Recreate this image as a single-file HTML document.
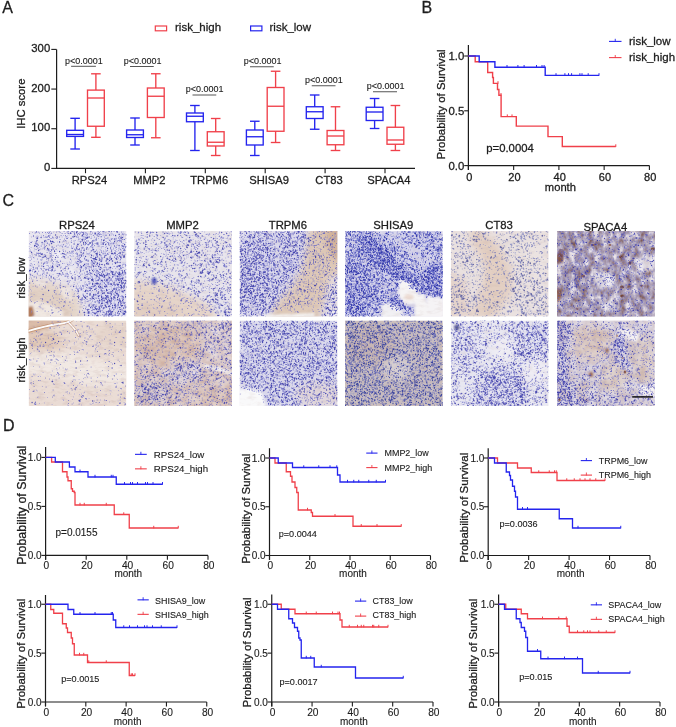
<!DOCTYPE html>
<html><head><meta charset="utf-8"><title>Figure</title>
<style>
html,body{margin:0;padding:0;background:#fff;}
body{width:676px;height:727px;overflow:hidden;}
svg{display:block;font-family:"Liberation Sans", Arial, sans-serif;}
text{stroke:#1c1c1c;stroke-width:0.28px;}
text.s{stroke-width:0.12px;}
</style></head>
<body>
<svg width="676" height="727" viewBox="0 0 676 727">
<rect width="676" height="727" fill="#fff"/>
<text x="2.3" y="12.7" font-size="16" text-anchor="start" fill="#1c1c1c" >A</text>
<text x="421.6" y="12.7" font-size="16" text-anchor="start" fill="#1c1c1c" >B</text>
<text x="2.6" y="205.6" font-size="16" text-anchor="start" fill="#1c1c1c" >C</text>
<text x="3.0" y="430.8" font-size="16" text-anchor="start" fill="#1c1c1c" >D</text>
<line x1="56.6" y1="49.4" x2="56.6" y2="168.9" stroke="#1c1c1c" stroke-width="1.2"/>
<line x1="56.1" y1="168.4" x2="415" y2="168.4" stroke="#1c1c1c" stroke-width="1.2"/>
<line x1="51.3" y1="168.4" x2="56.6" y2="168.4" stroke="#1c1c1c" stroke-width="1.1"/>
<text x="50.2" y="171.1" font-size="11.3" text-anchor="end" fill="#1c1c1c" >0</text>
<line x1="51.3" y1="128.73333333333335" x2="56.6" y2="128.73333333333335" stroke="#1c1c1c" stroke-width="1.1"/>
<text x="50.2" y="131.43" font-size="11.3" text-anchor="end" fill="#1c1c1c" >100</text>
<line x1="51.3" y1="89.06666666666668" x2="56.6" y2="89.06666666666668" stroke="#1c1c1c" stroke-width="1.1"/>
<text x="50.2" y="91.77" font-size="11.3" text-anchor="end" fill="#1c1c1c" >200</text>
<line x1="51.3" y1="49.400000000000006" x2="56.6" y2="49.400000000000006" stroke="#1c1c1c" stroke-width="1.1"/>
<text x="50.2" y="52.1" font-size="11.3" text-anchor="end" fill="#1c1c1c" >300</text>
<text transform="translate(25.2,103.7) rotate(-90)" font-size="11.3" text-anchor="middle" fill="#1c1c1c">IHC score</text>
<rect x="155.3" y="26" width="11.3" height="4.8" fill="none" stroke="#f0404a" stroke-width="1.2"/>
<text x="175.0" y="31.0" font-size="11.5" text-anchor="start" fill="#1c1c1c" >risk_high</text>
<rect x="250.6" y="26" width="11.3" height="4.8" fill="none" stroke="#2424ee" stroke-width="1.2"/>
<text x="269.5" y="31.0" font-size="11.5" text-anchor="start" fill="#1c1c1c" >risk_low</text>
<line x1="85.5" y1="168.4" x2="85.5" y2="173.2" stroke="#1c1c1c" stroke-width="1.1"/>
<text x="89.4" y="183.5" font-size="11.2" text-anchor="middle" fill="#1c1c1c" >RPS24</text>
<g stroke="#2424ee" stroke-width="1.35" fill="none"><rect x="66.69999999999999" y="130.3" width="16.8" height="6.099999999999994"/><line x1="66.69999999999999" y1="134.5" x2="83.5" y2="134.5"/><line x1="75.1" y1="118.3" x2="75.1" y2="130.3"/><line x1="75.1" y1="136.4" x2="75.1" y2="149.0"/><line x1="70.3" y1="118.3" x2="79.89999999999999" y2="118.3"/><line x1="70.3" y1="149.0" x2="79.89999999999999" y2="149.0"/></g>
<g stroke="#f0404a" stroke-width="1.35" fill="none"><rect x="87.5" y="90.1" width="16.8" height="36.150000000000006"/><line x1="87.5" y1="98.0" x2="104.30000000000001" y2="98.0"/><line x1="95.9" y1="73.8" x2="95.9" y2="90.1"/><line x1="95.9" y1="126.25" x2="95.9" y2="137.3"/><line x1="91.10000000000001" y1="73.8" x2="100.7" y2="73.8"/><line x1="91.10000000000001" y1="137.3" x2="100.7" y2="137.3"/></g>
<text class="s" x="65.0" y="63.5" font-size="9.8" text-anchor="start" fill="#1c1c1c" textLength="37.7" lengthAdjust="spacingAndGlyphs">p&lt;0.0001</text>
<line x1="71.1" y1="66.3" x2="95.9" y2="66.3" stroke="#555" stroke-width="1.0"/>
<line x1="145.4" y1="168.4" x2="145.4" y2="173.2" stroke="#1c1c1c" stroke-width="1.1"/>
<text x="149.3" y="183.5" font-size="11.2" text-anchor="middle" fill="#1c1c1c" >MMP2</text>
<g stroke="#2424ee" stroke-width="1.35" fill="none"><rect x="126.6" y="130.0" width="16.8" height="7.5"/><line x1="126.6" y1="134.75" x2="143.4" y2="134.75"/><line x1="135.0" y1="118.0" x2="135.0" y2="130.0"/><line x1="135.0" y1="137.5" x2="135.0" y2="145.0"/><line x1="130.2" y1="118.0" x2="139.8" y2="118.0"/><line x1="130.2" y1="145.0" x2="139.8" y2="145.0"/></g>
<g stroke="#f0404a" stroke-width="1.35" fill="none"><rect x="147.4" y="88.0" width="16.8" height="29.5"/><line x1="147.4" y1="96.25" x2="164.20000000000002" y2="96.25"/><line x1="155.8" y1="73.75" x2="155.8" y2="88.0"/><line x1="155.8" y1="117.5" x2="155.8" y2="137.75"/><line x1="151.0" y1="73.75" x2="160.60000000000002" y2="73.75"/><line x1="151.0" y1="137.75" x2="160.60000000000002" y2="137.75"/></g>
<text class="s" x="123.75" y="63.5" font-size="9.8" text-anchor="start" fill="#1c1c1c" textLength="37.7" lengthAdjust="spacingAndGlyphs">p&lt;0.0001</text>
<line x1="130.0" y1="66.5" x2="153.75" y2="66.5" stroke="#555" stroke-width="1.0"/>
<line x1="205.3" y1="168.4" x2="205.3" y2="173.2" stroke="#1c1c1c" stroke-width="1.1"/>
<text x="209.2" y="183.5" font-size="11.2" text-anchor="middle" fill="#1c1c1c" >TRPM6</text>
<g stroke="#2424ee" stroke-width="1.35" fill="none"><rect x="186.5" y="113.0" width="16.8" height="8.75"/><line x1="186.5" y1="116.25" x2="203.3" y2="116.25"/><line x1="194.9" y1="105.5" x2="194.9" y2="113.0"/><line x1="194.9" y1="121.75" x2="194.9" y2="150.5"/><line x1="190.1" y1="105.5" x2="199.70000000000002" y2="105.5"/><line x1="190.1" y1="150.5" x2="199.70000000000002" y2="150.5"/></g>
<g stroke="#f0404a" stroke-width="1.35" fill="none"><rect x="207.3" y="131.75" width="16.8" height="14.25"/><line x1="207.3" y1="142.25" x2="224.10000000000002" y2="142.25"/><line x1="215.70000000000002" y1="118.5" x2="215.70000000000002" y2="131.75"/><line x1="215.70000000000002" y1="146.0" x2="215.70000000000002" y2="155.5"/><line x1="210.9" y1="118.5" x2="220.50000000000003" y2="118.5"/><line x1="210.9" y1="155.5" x2="220.50000000000003" y2="155.5"/></g>
<text class="s" x="185.75" y="92.3" font-size="9.8" text-anchor="start" fill="#1c1c1c" textLength="37.7" lengthAdjust="spacingAndGlyphs">p&lt;0.0001</text>
<line x1="192.5" y1="95.0" x2="216.25" y2="95.0" stroke="#555" stroke-width="1.0"/>
<line x1="265.2" y1="168.4" x2="265.2" y2="173.2" stroke="#1c1c1c" stroke-width="1.1"/>
<text x="269.1" y="183.5" font-size="11.2" text-anchor="middle" fill="#1c1c1c" >SHISA9</text>
<g stroke="#2424ee" stroke-width="1.35" fill="none"><rect x="246.39999999999998" y="130.0" width="16.8" height="15.0"/><line x1="246.39999999999998" y1="136.75" x2="263.2" y2="136.75"/><line x1="254.79999999999998" y1="121.25" x2="254.79999999999998" y2="130.0"/><line x1="254.79999999999998" y1="145.0" x2="254.79999999999998" y2="155.5"/><line x1="249.99999999999997" y1="121.25" x2="259.59999999999997" y2="121.25"/><line x1="249.99999999999997" y1="155.5" x2="259.59999999999997" y2="155.5"/></g>
<g stroke="#f0404a" stroke-width="1.35" fill="none"><rect x="267.2" y="87.5" width="16.8" height="43.75"/><line x1="267.2" y1="106.25" x2="283.99999999999994" y2="106.25"/><line x1="275.59999999999997" y1="71.25" x2="275.59999999999997" y2="87.5"/><line x1="275.59999999999997" y1="131.25" x2="275.59999999999997" y2="142.5"/><line x1="270.79999999999995" y1="71.25" x2="280.4" y2="71.25"/><line x1="270.79999999999995" y1="142.5" x2="280.4" y2="142.5"/></g>
<text class="s" x="243.75" y="63.8" font-size="9.8" text-anchor="start" fill="#1c1c1c" textLength="37.7" lengthAdjust="spacingAndGlyphs">p&lt;0.0001</text>
<line x1="250.0" y1="66.75" x2="273.75" y2="66.75" stroke="#555" stroke-width="1.0"/>
<line x1="325.1" y1="168.4" x2="325.1" y2="173.2" stroke="#1c1c1c" stroke-width="1.1"/>
<text x="329.0" y="183.5" font-size="11.2" text-anchor="middle" fill="#1c1c1c" >CT83</text>
<g stroke="#2424ee" stroke-width="1.35" fill="none"><rect x="306.30000000000007" y="106.75" width="16.8" height="11.75"/><line x1="306.30000000000007" y1="111.75" x2="323.1" y2="111.75"/><line x1="314.70000000000005" y1="95.0" x2="314.70000000000005" y2="106.75"/><line x1="314.70000000000005" y1="118.5" x2="314.70000000000005" y2="129.25"/><line x1="309.90000000000003" y1="95.0" x2="319.50000000000006" y2="95.0"/><line x1="309.90000000000003" y1="129.25" x2="319.50000000000006" y2="129.25"/></g>
<g stroke="#f0404a" stroke-width="1.35" fill="none"><rect x="327.1" y="130.5" width="16.8" height="14.25"/><line x1="327.1" y1="136.0" x2="343.9" y2="136.0"/><line x1="335.5" y1="106.75" x2="335.5" y2="130.5"/><line x1="335.5" y1="144.75" x2="335.5" y2="150.5"/><line x1="330.7" y1="106.75" x2="340.3" y2="106.75"/><line x1="330.7" y1="150.5" x2="340.3" y2="150.5"/></g>
<text class="s" x="305.0" y="82.8" font-size="9.8" text-anchor="start" fill="#1c1c1c" textLength="37.7" lengthAdjust="spacingAndGlyphs">p&lt;0.0001</text>
<line x1="311.75" y1="85.75" x2="335.5" y2="85.75" stroke="#555" stroke-width="1.0"/>
<line x1="385.0" y1="168.4" x2="385.0" y2="173.2" stroke="#1c1c1c" stroke-width="1.1"/>
<text x="388.9" y="183.5" font-size="11.2" text-anchor="middle" fill="#1c1c1c" >SPACA4</text>
<g stroke="#2424ee" stroke-width="1.35" fill="none"><rect x="366.20000000000005" y="107.25" width="16.8" height="13.25"/><line x1="366.20000000000005" y1="112.0" x2="383.0" y2="112.0"/><line x1="374.6" y1="98.5" x2="374.6" y2="107.25"/><line x1="374.6" y1="120.5" x2="374.6" y2="128.5"/><line x1="369.8" y1="98.5" x2="379.40000000000003" y2="98.5"/><line x1="369.8" y1="128.5" x2="379.40000000000003" y2="128.5"/></g>
<g stroke="#f0404a" stroke-width="1.35" fill="none"><rect x="387.0" y="127.25" width="16.8" height="17.0"/><line x1="387.0" y1="140.0" x2="403.79999999999995" y2="140.0"/><line x1="395.4" y1="105.5" x2="395.4" y2="127.25"/><line x1="395.4" y1="144.25" x2="395.4" y2="150.5"/><line x1="390.59999999999997" y1="105.5" x2="400.2" y2="105.5"/><line x1="390.59999999999997" y1="150.5" x2="400.2" y2="150.5"/></g>
<text class="s" x="366.75" y="88.8" font-size="9.8" text-anchor="start" fill="#1c1c1c" textLength="37.7" lengthAdjust="spacingAndGlyphs">p&lt;0.0001</text>
<line x1="373.0" y1="91.75" x2="397.0" y2="91.75" stroke="#555" stroke-width="1.0"/>
<line x1="468.4" y1="45.0" x2="468.4" y2="170.0" stroke="#1c1c1c" stroke-width="1.2"/>
<line x1="468.4" y1="165.6" x2="649.4" y2="165.6" stroke="#1c1c1c" stroke-width="1.2"/>
<line x1="464.2" y1="56.0" x2="468.4" y2="56.0" stroke="#1c1c1c" stroke-width="1.1"/>
<text x="464.3" y="60.1" font-size="11.4" text-anchor="end" fill="#1c1c1c" >1.0</text>
<line x1="464.2" y1="110.8" x2="468.4" y2="110.8" stroke="#1c1c1c" stroke-width="1.1"/>
<text x="464.3" y="114.9" font-size="11.4" text-anchor="end" fill="#1c1c1c" >0.5</text>
<line x1="464.2" y1="165.6" x2="468.4" y2="165.6" stroke="#1c1c1c" stroke-width="1.1"/>
<text x="464.3" y="169.7" font-size="11.4" text-anchor="end" fill="#1c1c1c" >0.0</text>
<line x1="468.4" y1="165.6" x2="468.4" y2="170.0" stroke="#1c1c1c" stroke-width="1.1"/>
<text x="469.2" y="180.7" font-size="11.0" text-anchor="middle" fill="#1c1c1c" >0</text>
<line x1="513.65" y1="165.6" x2="513.65" y2="170.0" stroke="#1c1c1c" stroke-width="1.1"/>
<text x="514.45" y="180.7" font-size="11.0" text-anchor="middle" fill="#1c1c1c" >20</text>
<line x1="558.9" y1="165.6" x2="558.9" y2="170.0" stroke="#1c1c1c" stroke-width="1.1"/>
<text x="559.7" y="180.7" font-size="11.0" text-anchor="middle" fill="#1c1c1c" >40</text>
<line x1="604.15" y1="165.6" x2="604.15" y2="170.0" stroke="#1c1c1c" stroke-width="1.1"/>
<text x="604.95" y="180.7" font-size="11.0" text-anchor="middle" fill="#1c1c1c" >60</text>
<line x1="649.4" y1="165.6" x2="649.4" y2="170.0" stroke="#1c1c1c" stroke-width="1.1"/>
<text x="650.2" y="180.7" font-size="11.0" text-anchor="middle" fill="#1c1c1c" >80</text>
<text x="560.4" y="190.6" font-size="11.2" text-anchor="middle" fill="#1c1c1c" >month</text>
<text transform="translate(445.0,104.4) rotate(-90)" font-size="11.45" text-anchor="middle" fill="#1c1c1c">Probability of Survival</text>
<text x="486.3" y="152.3" font-size="11.3" text-anchor="start" fill="#1c1c1c" >p=0.0004</text>
<path d="M468.4,56H475.2V61.7H487.7V72.5H492.6V77.5H493.4V83.4H497.5V89.5H498.9V95.2H501.1V116.6H516.3V126.1H548V136.6H562.3V146.5H615.8" fill="none" stroke="#f0404a" stroke-width="1.4" stroke-linejoin="miter"/>
<path d="M498,83.80000000000001v-2.6M501,95.60000000000001v-2.6M507.3,117.0v-2.6M512,117.0v-2.6M615.8,146.9v-2.6" fill="none" stroke="#f0404a" stroke-width="1.0"/>
<path d="M468.4,56H479.2V61.7H494.9V67.2H545.2V75.4H599" fill="none" stroke="#2424ee" stroke-width="1.4" stroke-linejoin="miter"/>
<path d="M507,67.60000000000001v-2.6M517.9,67.60000000000001v-2.6M524.1,67.60000000000001v-2.6M536.5,67.60000000000001v-2.6M542,67.60000000000001v-2.6M544.1,67.60000000000001v-2.6M556,75.80000000000001v-2.6M564.9,75.80000000000001v-2.6M568.5,75.80000000000001v-2.6M571.6,75.80000000000001v-2.6M579.9,75.80000000000001v-2.6M582,75.80000000000001v-2.6M588.2,75.80000000000001v-2.6M599,75.80000000000001v-2.6" fill="none" stroke="#2424ee" stroke-width="1.0"/>
<line x1="609" y1="41.4" x2="621.5" y2="41.4" stroke="#2424ee" stroke-width="1.1"/>
<line x1="615.25" y1="41.8" x2="615.25" y2="38.8" stroke="#2424ee" stroke-width="0.9"/>
<text x="629" y="45.2" font-size="11.5" text-anchor="start" fill="#1c1c1c" >risk_low</text>
<line x1="609" y1="57.6" x2="621.5" y2="57.6" stroke="#f0404a" stroke-width="1.1"/>
<line x1="615.25" y1="58.0" x2="615.25" y2="55.0" stroke="#f0404a" stroke-width="0.9"/>
<text x="629" y="61.2" font-size="11.5" text-anchor="start" fill="#1c1c1c" >risk_high</text>
<line x1="45.6" y1="447.0" x2="45.6" y2="559.8" stroke="#1c1c1c" stroke-width="1.2"/>
<line x1="45.6" y1="555.4" x2="208.0" y2="555.4" stroke="#1c1c1c" stroke-width="1.2"/>
<line x1="41.4" y1="457.4" x2="45.6" y2="457.4" stroke="#1c1c1c" stroke-width="1.1"/>
<text class="s" x="41.7" y="461.0" font-size="10.0" text-anchor="end" fill="#1c1c1c" >1.0</text>
<line x1="41.4" y1="506.4" x2="45.6" y2="506.4" stroke="#1c1c1c" stroke-width="1.1"/>
<text class="s" x="41.7" y="510.0" font-size="10.0" text-anchor="end" fill="#1c1c1c" >0.5</text>
<line x1="41.4" y1="555.4" x2="45.6" y2="555.4" stroke="#1c1c1c" stroke-width="1.1"/>
<text class="s" x="41.7" y="559.0" font-size="10.0" text-anchor="end" fill="#1c1c1c" >0.0</text>
<line x1="45.6" y1="555.4" x2="45.6" y2="559.8" stroke="#1c1c1c" stroke-width="1.1"/>
<text class="s" x="46.4" y="569.0" font-size="10.2" text-anchor="middle" fill="#1c1c1c" >0</text>
<line x1="86.20000000000002" y1="555.4" x2="86.20000000000002" y2="559.8" stroke="#1c1c1c" stroke-width="1.1"/>
<text class="s" x="87.0" y="569.0" font-size="10.2" text-anchor="middle" fill="#1c1c1c" >20</text>
<line x1="126.80000000000001" y1="555.4" x2="126.80000000000001" y2="559.8" stroke="#1c1c1c" stroke-width="1.1"/>
<text class="s" x="127.6" y="569.0" font-size="10.2" text-anchor="middle" fill="#1c1c1c" >40</text>
<line x1="167.4" y1="555.4" x2="167.4" y2="559.8" stroke="#1c1c1c" stroke-width="1.1"/>
<text class="s" x="168.2" y="569.0" font-size="10.2" text-anchor="middle" fill="#1c1c1c" >60</text>
<line x1="208.00000000000003" y1="555.4" x2="208.00000000000003" y2="559.8" stroke="#1c1c1c" stroke-width="1.1"/>
<text class="s" x="208.8" y="569.0" font-size="10.2" text-anchor="middle" fill="#1c1c1c" >80</text>
<text class="s" x="128.3" y="577.3" font-size="10.0" text-anchor="middle" fill="#1c1c1c" >month</text>
<text transform="translate(26.0,505.25) rotate(-90)" font-size="12.4" text-anchor="middle" fill="#1c1c1c">Probability of Survival</text>
<text class="s" x="55.5" y="536.0" font-size="10.0" text-anchor="start" fill="#1c1c1c" >p=0.0155</text>
<path d="M45.6,457.4H51.6V462H62.5V471.75H67V477H68V480.75H71.25V488.75H72.5V491.25H74.25V492.5H75V505H114.25V514.5H129.25V528H178.25" fill="none" stroke="#f0404a" stroke-width="1.3" stroke-linejoin="miter"/>
<path d="M80,505.4v-2.6M84.25,505.4v-2.6M106.25,505.4v-2.6M123.75,514.9v-2.6M153.75,528.4v-2.6M178.25,528.4v-2.6" fill="none" stroke="#f0404a" stroke-width="1.0"/>
<path d="M45.6,457.4H55.3V462H69.4V467H75V471.75H88V477H116.25V484.25H162.5" fill="none" stroke="#2424ee" stroke-width="1.3" stroke-linejoin="miter"/>
<path d="M80,472.15v-2.6M95,477.4v-2.6M111.25,477.4v-2.6M113,477.4v-2.6M124.5,484.65v-2.6M130.5,484.65v-2.6M132.5,484.65v-2.6M137.5,484.65v-2.6M145.5,484.65v-2.6M147.5,484.65v-2.6M153,484.65v-2.6M162.5,484.65v-2.6" fill="none" stroke="#2424ee" stroke-width="1.0"/>
<line x1="135" y1="454.35" x2="146.75" y2="454.35" stroke="#2424ee" stroke-width="1.1"/>
<line x1="140.875" y1="454.75" x2="140.875" y2="451.75" stroke="#2424ee" stroke-width="0.9"/>
<text class="s" x="153.75" y="457.5" font-size="9.7" text-anchor="start" fill="#1c1c1c" >RPS24_low</text>
<line x1="135" y1="468.85" x2="146.75" y2="468.85" stroke="#f0404a" stroke-width="1.1"/>
<line x1="140.875" y1="469.25" x2="140.875" y2="466.25" stroke="#f0404a" stroke-width="0.9"/>
<text class="s" x="153.75" y="471.6" font-size="9.7" text-anchor="start" fill="#1c1c1c" >RPS24_high</text>
<line x1="269.5" y1="448.2" x2="269.5" y2="559.9" stroke="#1c1c1c" stroke-width="1.2"/>
<line x1="269.5" y1="555.5" x2="430.5" y2="555.5" stroke="#1c1c1c" stroke-width="1.2"/>
<line x1="265.3" y1="458.0" x2="269.5" y2="458.0" stroke="#1c1c1c" stroke-width="1.1"/>
<text class="s" x="265.6" y="461.6" font-size="10.0" text-anchor="end" fill="#1c1c1c" >1.0</text>
<line x1="265.3" y1="506.75" x2="269.5" y2="506.75" stroke="#1c1c1c" stroke-width="1.1"/>
<text class="s" x="265.6" y="510.35" font-size="10.0" text-anchor="end" fill="#1c1c1c" >0.5</text>
<line x1="265.3" y1="555.5" x2="269.5" y2="555.5" stroke="#1c1c1c" stroke-width="1.1"/>
<text class="s" x="265.6" y="559.1" font-size="10.0" text-anchor="end" fill="#1c1c1c" >0.0</text>
<line x1="269.5" y1="555.5" x2="269.5" y2="559.9" stroke="#1c1c1c" stroke-width="1.1"/>
<text class="s" x="270.3" y="569.0" font-size="10.2" text-anchor="middle" fill="#1c1c1c" >0</text>
<line x1="309.75" y1="555.5" x2="309.75" y2="559.9" stroke="#1c1c1c" stroke-width="1.1"/>
<text class="s" x="310.55" y="569.0" font-size="10.2" text-anchor="middle" fill="#1c1c1c" >20</text>
<line x1="350.0" y1="555.5" x2="350.0" y2="559.9" stroke="#1c1c1c" stroke-width="1.1"/>
<text class="s" x="350.8" y="569.0" font-size="10.2" text-anchor="middle" fill="#1c1c1c" >40</text>
<line x1="390.25" y1="555.5" x2="390.25" y2="559.9" stroke="#1c1c1c" stroke-width="1.1"/>
<text class="s" x="391.05" y="569.0" font-size="10.2" text-anchor="middle" fill="#1c1c1c" >60</text>
<line x1="430.5" y1="555.5" x2="430.5" y2="559.9" stroke="#1c1c1c" stroke-width="1.1"/>
<text class="s" x="431.3" y="569.0" font-size="10.2" text-anchor="middle" fill="#1c1c1c" >80</text>
<text class="s" x="353.0" y="577.3" font-size="10.0" text-anchor="middle" fill="#1c1c1c" >month</text>
<text transform="translate(249.6,508.75) rotate(-90)" font-size="11.45" text-anchor="middle" fill="#1c1c1c">Probability of Survival</text>
<text class="s" x="278.75" y="536.8" font-size="9.1" text-anchor="start" fill="#1c1c1c" >p=0.0044</text>
<path d="M269.5,458H275V463H286.25V471.75H290.5V476.25H292V482H295V487.5H296.75V492.5H298.25V510H311.25V512.5H312.5V516.25H353V526.25H401.25" fill="none" stroke="#f0404a" stroke-width="1.3" stroke-linejoin="miter"/>
<path d="M307.5,510.4v-2.6M335,516.65v-2.6M361.25,526.65v-2.6M377,526.65v-2.6M401.25,526.65v-2.6" fill="none" stroke="#f0404a" stroke-width="1.0"/>
<path d="M269.5,458H278.25V463H292.5V467.5H337.5V475H340V482H385.5" fill="none" stroke="#2424ee" stroke-width="1.3" stroke-linejoin="miter"/>
<path d="M303.75,467.9v-2.6M318.75,467.9v-2.6M330,467.9v-2.6M336.75,467.9v-2.6M347.5,482.4v-2.6M353.75,482.4v-2.6M358.75,482.4v-2.6M368.75,482.4v-2.6M376.25,482.4v-2.6M385.5,482.4v-2.6" fill="none" stroke="#2424ee" stroke-width="1.0"/>
<line x1="366.25" y1="453.1" x2="377.5" y2="453.1" stroke="#2424ee" stroke-width="1.1"/>
<line x1="371.875" y1="453.5" x2="371.875" y2="450.5" stroke="#2424ee" stroke-width="0.9"/>
<text class="s" x="384.5" y="456.3" font-size="8.95" text-anchor="start" fill="#1c1c1c" >MMP2_low</text>
<line x1="366.25" y1="467.6" x2="377.5" y2="467.6" stroke="#f0404a" stroke-width="1.1"/>
<line x1="371.875" y1="468.0" x2="371.875" y2="465.0" stroke="#f0404a" stroke-width="0.9"/>
<text class="s" x="384.5" y="470.8" font-size="8.95" text-anchor="start" fill="#1c1c1c" >MMP2_high</text>
<line x1="488.2" y1="448.2" x2="488.2" y2="559.9" stroke="#1c1c1c" stroke-width="1.2"/>
<line x1="488.2" y1="555.5" x2="650.0" y2="555.5" stroke="#1c1c1c" stroke-width="1.2"/>
<line x1="484.0" y1="458.0" x2="488.2" y2="458.0" stroke="#1c1c1c" stroke-width="1.1"/>
<text class="s" x="484.3" y="461.6" font-size="10.0" text-anchor="end" fill="#1c1c1c" >1.0</text>
<line x1="484.0" y1="506.75" x2="488.2" y2="506.75" stroke="#1c1c1c" stroke-width="1.1"/>
<text class="s" x="484.3" y="510.35" font-size="10.0" text-anchor="end" fill="#1c1c1c" >0.5</text>
<line x1="484.0" y1="555.5" x2="488.2" y2="555.5" stroke="#1c1c1c" stroke-width="1.1"/>
<text class="s" x="484.3" y="559.1" font-size="10.0" text-anchor="end" fill="#1c1c1c" >0.0</text>
<line x1="488.2" y1="555.5" x2="488.2" y2="559.9" stroke="#1c1c1c" stroke-width="1.1"/>
<text class="s" x="489.0" y="569.0" font-size="10.2" text-anchor="middle" fill="#1c1c1c" >0</text>
<line x1="528.65" y1="555.5" x2="528.65" y2="559.9" stroke="#1c1c1c" stroke-width="1.1"/>
<text class="s" x="529.45" y="569.0" font-size="10.2" text-anchor="middle" fill="#1c1c1c" >20</text>
<line x1="569.1" y1="555.5" x2="569.1" y2="559.9" stroke="#1c1c1c" stroke-width="1.1"/>
<text class="s" x="569.9" y="569.0" font-size="10.2" text-anchor="middle" fill="#1c1c1c" >40</text>
<line x1="609.55" y1="555.5" x2="609.55" y2="559.9" stroke="#1c1c1c" stroke-width="1.1"/>
<text class="s" x="610.35" y="569.0" font-size="10.2" text-anchor="middle" fill="#1c1c1c" >60</text>
<line x1="650.0" y1="555.5" x2="650.0" y2="559.9" stroke="#1c1c1c" stroke-width="1.1"/>
<text class="s" x="650.8" y="569.0" font-size="10.2" text-anchor="middle" fill="#1c1c1c" >80</text>
<text class="s" x="570.6" y="577.3" font-size="10.0" text-anchor="middle" fill="#1c1c1c" >month</text>
<text transform="translate(468.4,507.75) rotate(-90)" font-size="11.45" text-anchor="middle" fill="#1c1c1c">Probability of Survival</text>
<text class="s" x="499.5" y="526.6" font-size="9.1" text-anchor="start" fill="#1c1c1c" >p=0.0036</text>
<path d="M488.2,458H497.5V463H517.5V468H531.25V472.5H557V480.5H605" fill="none" stroke="#f0404a" stroke-width="1.3" stroke-linejoin="miter"/>
<path d="M538.75,472.9v-2.6M549.25,472.9v-2.6M554.5,472.9v-2.6M556.25,472.9v-2.6M566.75,480.9v-2.6M574.25,480.9v-2.6M580,480.9v-2.6M585,480.9v-2.6M590,480.9v-2.6M595.75,480.9v-2.6M605,480.9v-2.6" fill="none" stroke="#f0404a" stroke-width="1.0"/>
<path d="M488.2,458H494.5V463H506.25V472H509.5V475.5H510.5V480H512.5V486.25H514.5V491.25H515.5V497H517.5V509.25H559.25V518.75H572.5V528H620.75" fill="none" stroke="#2424ee" stroke-width="1.3" stroke-linejoin="miter"/>
<path d="M522.5,509.65v-2.6M527.5,509.65v-2.6M578,528.4v-2.6M620.75,528.4v-2.6" fill="none" stroke="#2424ee" stroke-width="1.0"/>
<line x1="580.75" y1="460.6" x2="592" y2="460.6" stroke="#2424ee" stroke-width="1.1"/>
<line x1="586.375" y1="461.0" x2="586.375" y2="458.0" stroke="#2424ee" stroke-width="0.9"/>
<text class="s" x="598.75" y="463.8" font-size="8.95" text-anchor="start" fill="#1c1c1c" >TRPM6_low</text>
<line x1="580.75" y1="475.1" x2="592" y2="475.1" stroke="#f0404a" stroke-width="1.1"/>
<line x1="586.375" y1="475.5" x2="586.375" y2="472.5" stroke="#f0404a" stroke-width="0.9"/>
<text class="s" x="598.75" y="478.0" font-size="8.95" text-anchor="start" fill="#1c1c1c" >TRPM6_high</text>
<line x1="45.5" y1="595.0" x2="45.5" y2="706.4" stroke="#1c1c1c" stroke-width="1.2"/>
<line x1="45.5" y1="702.0" x2="206.75" y2="702.0" stroke="#1c1c1c" stroke-width="1.2"/>
<line x1="41.3" y1="604.25" x2="45.5" y2="604.25" stroke="#1c1c1c" stroke-width="1.1"/>
<text class="s" x="41.6" y="607.85" font-size="10.0" text-anchor="end" fill="#1c1c1c" >1.0</text>
<line x1="41.3" y1="653.125" x2="45.5" y2="653.125" stroke="#1c1c1c" stroke-width="1.1"/>
<text class="s" x="41.6" y="656.73" font-size="10.0" text-anchor="end" fill="#1c1c1c" >0.5</text>
<line x1="41.3" y1="702.0" x2="45.5" y2="702.0" stroke="#1c1c1c" stroke-width="1.1"/>
<text class="s" x="41.6" y="705.6" font-size="10.0" text-anchor="end" fill="#1c1c1c" >0.0</text>
<line x1="45.5" y1="702.0" x2="45.5" y2="706.4" stroke="#1c1c1c" stroke-width="1.1"/>
<text class="s" x="46.3" y="715.8" font-size="10.2" text-anchor="middle" fill="#1c1c1c" >0</text>
<line x1="85.8125" y1="702.0" x2="85.8125" y2="706.4" stroke="#1c1c1c" stroke-width="1.1"/>
<text class="s" x="86.61" y="715.8" font-size="10.2" text-anchor="middle" fill="#1c1c1c" >20</text>
<line x1="126.125" y1="702.0" x2="126.125" y2="706.4" stroke="#1c1c1c" stroke-width="1.1"/>
<text class="s" x="126.92" y="715.8" font-size="10.2" text-anchor="middle" fill="#1c1c1c" >40</text>
<line x1="166.4375" y1="702.0" x2="166.4375" y2="706.4" stroke="#1c1c1c" stroke-width="1.1"/>
<text class="s" x="167.24" y="715.8" font-size="10.2" text-anchor="middle" fill="#1c1c1c" >60</text>
<line x1="206.75" y1="702.0" x2="206.75" y2="706.4" stroke="#1c1c1c" stroke-width="1.1"/>
<text class="s" x="207.55" y="715.8" font-size="10.2" text-anchor="middle" fill="#1c1c1c" >80</text>
<text class="s" x="127.62" y="724.8" font-size="10.0" text-anchor="middle" fill="#1c1c1c" >month</text>
<text transform="translate(25.3,653.75) rotate(-90)" font-size="11.45" text-anchor="middle" fill="#1c1c1c">Probability of Survival</text>
<text class="s" x="61.25" y="681.6" font-size="9.1" text-anchor="start" fill="#1c1c1c" >p=0.0015</text>
<path d="M45.5,604.25H50.75V609.5H53.75V613.25H62.5V623.75H66.25V628H67.5V632.5H71.25V638H72.5V643.75H74.25V655H87.5V662.5H129.25V675.5H135" fill="none" stroke="#f0404a" stroke-width="1.3" stroke-linejoin="miter"/>
<path d="M79.5,655.4v-2.6M83.75,655.4v-2.6M88.75,662.9v-2.6M106.25,662.9v-2.6M131.25,675.9v-2.6M132.5,675.9v-2.6M135,675.9v-2.6" fill="none" stroke="#f0404a" stroke-width="1.0"/>
<path d="M45.5,604.25H68V609.5H73.75V614.25H113.25V620H115.75V627.5H177" fill="none" stroke="#2424ee" stroke-width="1.3" stroke-linejoin="miter"/>
<path d="M80,614.65v-2.6M95,614.65v-2.6M111.25,614.65v-2.6M112.5,614.65v-2.6M123.75,627.9v-2.6M129.5,627.9v-2.6M137.5,627.9v-2.6M144.5,627.9v-2.6M147,627.9v-2.6M152.5,627.9v-2.6M161.25,627.9v-2.6M177,627.9v-2.6" fill="none" stroke="#2424ee" stroke-width="1.0"/>
<line x1="137.5" y1="599.85" x2="148.75" y2="599.85" stroke="#2424ee" stroke-width="1.1"/>
<line x1="143.125" y1="600.25" x2="143.125" y2="597.25" stroke="#2424ee" stroke-width="0.9"/>
<text class="s" x="155" y="603.75" font-size="8.95" text-anchor="start" fill="#1c1c1c" >SHISA9_low</text>
<line x1="137.5" y1="614.35" x2="148.75" y2="614.35" stroke="#f0404a" stroke-width="1.1"/>
<line x1="143.125" y1="614.75" x2="143.125" y2="611.75" stroke="#f0404a" stroke-width="0.9"/>
<text class="s" x="155" y="618.0" font-size="8.95" text-anchor="start" fill="#1c1c1c" >SHISA9_high</text>
<line x1="271.75" y1="594.5" x2="271.75" y2="706.4" stroke="#1c1c1c" stroke-width="1.2"/>
<line x1="271.75" y1="702.0" x2="433.0" y2="702.0" stroke="#1c1c1c" stroke-width="1.2"/>
<line x1="267.55" y1="604.25" x2="271.75" y2="604.25" stroke="#1c1c1c" stroke-width="1.1"/>
<text class="s" x="267.85" y="607.85" font-size="10.0" text-anchor="end" fill="#1c1c1c" >1.0</text>
<line x1="267.55" y1="653.125" x2="271.75" y2="653.125" stroke="#1c1c1c" stroke-width="1.1"/>
<text class="s" x="267.85" y="656.73" font-size="10.0" text-anchor="end" fill="#1c1c1c" >0.5</text>
<line x1="267.55" y1="702.0" x2="271.75" y2="702.0" stroke="#1c1c1c" stroke-width="1.1"/>
<text class="s" x="267.85" y="705.6" font-size="10.0" text-anchor="end" fill="#1c1c1c" >0.0</text>
<line x1="271.75" y1="702.0" x2="271.75" y2="706.4" stroke="#1c1c1c" stroke-width="1.1"/>
<text class="s" x="272.55" y="715.8" font-size="10.2" text-anchor="middle" fill="#1c1c1c" >0</text>
<line x1="312.0625" y1="702.0" x2="312.0625" y2="706.4" stroke="#1c1c1c" stroke-width="1.1"/>
<text class="s" x="312.86" y="715.8" font-size="10.2" text-anchor="middle" fill="#1c1c1c" >20</text>
<line x1="352.375" y1="702.0" x2="352.375" y2="706.4" stroke="#1c1c1c" stroke-width="1.1"/>
<text class="s" x="353.18" y="715.8" font-size="10.2" text-anchor="middle" fill="#1c1c1c" >40</text>
<line x1="392.6875" y1="702.0" x2="392.6875" y2="706.4" stroke="#1c1c1c" stroke-width="1.1"/>
<text class="s" x="393.49" y="715.8" font-size="10.2" text-anchor="middle" fill="#1c1c1c" >60</text>
<line x1="433.0" y1="702.0" x2="433.0" y2="706.4" stroke="#1c1c1c" stroke-width="1.1"/>
<text class="s" x="433.8" y="715.8" font-size="10.2" text-anchor="middle" fill="#1c1c1c" >80</text>
<text class="s" x="353.88" y="724.8" font-size="10.0" text-anchor="middle" fill="#1c1c1c" >month</text>
<text transform="translate(250.5,652.5) rotate(-90)" font-size="11.45" text-anchor="middle" fill="#1c1c1c">Probability of Survival</text>
<text class="s" x="279.5" y="685.0" font-size="9.1" text-anchor="start" fill="#1c1c1c" >p=0.0017</text>
<path d="M271.75,604.25H281.25V609.25H295V613.75H340V620H342V627H388" fill="none" stroke="#f0404a" stroke-width="1.3" stroke-linejoin="miter"/>
<path d="M306.25,614.15v-2.6M316.25,614.15v-2.6M332.5,614.15v-2.6M338,614.15v-2.6M339.5,614.15v-2.6M349.25,627.4v-2.6M357.5,627.4v-2.6M361.25,627.4v-2.6M363.75,627.4v-2.6M372.5,627.4v-2.6M373.75,627.4v-2.6M378.75,627.4v-2.6M388,627.4v-2.6" fill="none" stroke="#f0404a" stroke-width="1.0"/>
<path d="M271.75,604.25H277.5V609.25H288.75V618.75H292.5V623H294.5V627.5H297.5V631.25H298.75V638H300V640H301.25V658H314.25V667H355.5V678H403.25" fill="none" stroke="#2424ee" stroke-width="1.3" stroke-linejoin="miter"/>
<path d="M306.25,658.4v-2.6M310.75,658.4v-2.6M321.25,667.4v-2.6M403.25,678.4v-2.6" fill="none" stroke="#2424ee" stroke-width="1.0"/>
<line x1="355" y1="601.1" x2="366.25" y2="601.1" stroke="#2424ee" stroke-width="1.1"/>
<line x1="360.625" y1="601.5" x2="360.625" y2="598.5" stroke="#2424ee" stroke-width="0.9"/>
<text class="s" x="372.5" y="603.75" font-size="8.95" text-anchor="start" fill="#1c1c1c" >CT83_low</text>
<line x1="355" y1="616.1" x2="366.25" y2="616.1" stroke="#f0404a" stroke-width="1.1"/>
<line x1="360.625" y1="616.5" x2="360.625" y2="613.5" stroke="#f0404a" stroke-width="0.9"/>
<text class="s" x="372.5" y="618.25" font-size="8.95" text-anchor="start" fill="#1c1c1c" >CT83_high</text>
<line x1="498.6" y1="594.5" x2="498.6" y2="706.4" stroke="#1c1c1c" stroke-width="1.2"/>
<line x1="498.6" y1="702.0" x2="660.0" y2="702.0" stroke="#1c1c1c" stroke-width="1.2"/>
<line x1="494.40000000000003" y1="604.25" x2="498.6" y2="604.25" stroke="#1c1c1c" stroke-width="1.1"/>
<text class="s" x="494.7" y="607.85" font-size="10.0" text-anchor="end" fill="#1c1c1c" >1.0</text>
<line x1="494.40000000000003" y1="653.125" x2="498.6" y2="653.125" stroke="#1c1c1c" stroke-width="1.1"/>
<text class="s" x="494.7" y="656.73" font-size="10.0" text-anchor="end" fill="#1c1c1c" >0.5</text>
<line x1="494.40000000000003" y1="702.0" x2="498.6" y2="702.0" stroke="#1c1c1c" stroke-width="1.1"/>
<text class="s" x="494.7" y="705.6" font-size="10.0" text-anchor="end" fill="#1c1c1c" >0.0</text>
<line x1="498.6" y1="702.0" x2="498.6" y2="706.4" stroke="#1c1c1c" stroke-width="1.1"/>
<text class="s" x="499.4" y="715.8" font-size="10.2" text-anchor="middle" fill="#1c1c1c" >0</text>
<line x1="538.95" y1="702.0" x2="538.95" y2="706.4" stroke="#1c1c1c" stroke-width="1.1"/>
<text class="s" x="539.75" y="715.8" font-size="10.2" text-anchor="middle" fill="#1c1c1c" >20</text>
<line x1="579.3" y1="702.0" x2="579.3" y2="706.4" stroke="#1c1c1c" stroke-width="1.1"/>
<text class="s" x="580.1" y="715.8" font-size="10.2" text-anchor="middle" fill="#1c1c1c" >40</text>
<line x1="619.65" y1="702.0" x2="619.65" y2="706.4" stroke="#1c1c1c" stroke-width="1.1"/>
<text class="s" x="620.45" y="715.8" font-size="10.2" text-anchor="middle" fill="#1c1c1c" >60</text>
<line x1="660.0" y1="702.0" x2="660.0" y2="706.4" stroke="#1c1c1c" stroke-width="1.1"/>
<text class="s" x="660.8" y="715.8" font-size="10.2" text-anchor="middle" fill="#1c1c1c" >80</text>
<text class="s" x="582.8" y="724.8" font-size="10.0" text-anchor="middle" fill="#1c1c1c" >month</text>
<text transform="translate(477.3,653.75) rotate(-90)" font-size="11.45" text-anchor="middle" fill="#1c1c1c">Probability of Survival</text>
<text class="s" x="519.25" y="680.0" font-size="9.1" text-anchor="start" fill="#1c1c1c" >p=0.015</text>
<path d="M498.6,604.25H505.75V609.25H521.25V613.75H527.5V618.75H567V626.25H569.25V632.5H615" fill="none" stroke="#f0404a" stroke-width="1.3" stroke-linejoin="miter"/>
<path d="M542.5,619.15v-2.6M558.75,619.15v-2.6M566.25,619.15v-2.6M577.5,632.9v-2.6M583.75,632.9v-2.6M587.5,632.9v-2.6M590,632.9v-2.6M598.75,632.9v-2.6M606.25,632.9v-2.6M615,632.9v-2.6" fill="none" stroke="#f0404a" stroke-width="1.0"/>
<path d="M498.6,604.25H504.5V609.25H516.25V618.75H520V622.5H521.25V627.5H524.5V631.25H525.75V637.5H527.5V651.25H540.75V658.75H582.5V673H630" fill="none" stroke="#2424ee" stroke-width="1.3" stroke-linejoin="miter"/>
<path d="M537.5,651.65v-2.6M548,659.15v-2.6M564.5,659.15v-2.6M577.5,659.15v-2.6M598.25,673.4v-2.6M630,673.4v-2.6" fill="none" stroke="#2424ee" stroke-width="1.0"/>
<line x1="590.75" y1="604.85" x2="602" y2="604.85" stroke="#2424ee" stroke-width="1.1"/>
<line x1="596.375" y1="605.25" x2="596.375" y2="602.25" stroke="#2424ee" stroke-width="0.9"/>
<text class="s" x="608.25" y="607.5" font-size="8.95" text-anchor="start" fill="#1c1c1c" >SPACA4_low</text>
<line x1="590.75" y1="619.35" x2="602" y2="619.35" stroke="#f0404a" stroke-width="1.1"/>
<line x1="596.375" y1="619.75" x2="596.375" y2="616.75" stroke="#f0404a" stroke-width="0.9"/>
<text class="s" x="608.25" y="622.0" font-size="8.95" text-anchor="start" fill="#1c1c1c" >SPACA4_high</text>
<text x="76.9" y="228.8" font-size="11.3" text-anchor="middle" fill="#1c1c1c" >RPS24</text>
<text x="182.5" y="228.8" font-size="11.3" text-anchor="middle" fill="#1c1c1c" >MMP2</text>
<text x="287.9" y="228.8" font-size="11.3" text-anchor="middle" fill="#1c1c1c" >TRPM6</text>
<text x="393.3" y="228.8" font-size="11.3" text-anchor="middle" fill="#1c1c1c" >SHISA9</text>
<text x="499.1" y="228.8" font-size="11.3" text-anchor="middle" fill="#1c1c1c" >CT83</text>
<text x="605.3" y="230.6" font-size="11.3" text-anchor="middle" fill="#1c1c1c" >SPACA4</text>
<text transform="translate(25.0,278.0) rotate(-90)" font-size="11.3" text-anchor="middle" fill="#1c1c1c">risk_low</text>
<text transform="translate(25.0,360.0) rotate(-90)" font-size="11.3" text-anchor="middle" fill="#1c1c1c">risk_high</text>
<defs><filter id="hbl" x="-20%" y="-20%" width="140%" height="140%"><feGaussianBlur stdDeviation="3.5"/></filter><filter id="hbs" x="-20%" y="-20%" width="140%" height="140%"><feGaussianBlur stdDeviation="1.2"/></filter><filter id="hsh" x="-20%" y="-20%" width="140%" height="140%"><feGaussianBlur stdDeviation="1.0"/></filter><filter id="hdt" x="0" y="0" width="1" height="1"><feGaussianBlur stdDeviation="0.3"/></filter><filter id="hpt" x="-20%" y="-20%" width="140%" height="140%"><feGaussianBlur stdDeviation="0.45"/></filter><filter id="htx" x="0" y="0" width="1" height="1" color-interpolation-filters="sRGB"><feTurbulence type="fractalNoise" baseFrequency="0.12 0.3" numOctaves="3" seed="4" result="n"/><feColorMatrix in="n" type="matrix" values="0 0 0 0 0.66 0 0 0 0 0.52 0 0 0 0 0.5 1.6 0 0 0 -0.75"/><feComposite in2="SourceAlpha" operator="in"/></filter><clipPath id="tc1"><rect width="97.8" height="85.6"/></clipPath><clipPath id="tc2"><rect width="97.8" height="85.6"/></clipPath><clipPath id="tc3"><rect width="97.8" height="85.6"/></clipPath><clipPath id="tc4"><rect width="97.8" height="85.6"/></clipPath><clipPath id="tc5"><rect width="97.8" height="85.6"/></clipPath><clipPath id="tc6"><rect width="97.8" height="85.6"/></clipPath><filter id="hmt6" x="0" y="0" width="1" height="1" color-interpolation-filters="sRGB"><feTurbulence type="fractalNoise" baseFrequency="0.16 0.11" numOctaves="3" seed="21"/><feColorMatrix type="matrix" values="1 0 0 0 0 1 0 0 0 0 1 0 0 0 0 0 0 0 0 1"/><feComponentTransfer><feFuncR type="table" tableValues="0.42 0.42 0.48 0.56 0.62 0.68 0.78 0.90 0.96 0.98 0.98"/><feFuncG type="table" tableValues="0.26 0.26 0.34 0.46 0.56 0.64 0.75 0.88 0.95 0.97 0.97"/><feFuncB type="table" tableValues="0.22 0.22 0.32 0.50 0.64 0.74 0.82 0.92 0.96 0.98 0.98"/></feComponentTransfer></filter><clipPath id="tc7"><rect width="97.8" height="85.4"/></clipPath><clipPath id="tc8"><rect width="97.8" height="85.4"/></clipPath><filter id="hmt8" x="0" y="0" width="1" height="1" color-interpolation-filters="sRGB"><feTurbulence type="fractalNoise" baseFrequency="0.12" numOctaves="3" seed="41"/><feColorMatrix type="matrix" values="1 0 0 0 0 1 0 0 0 0 1 0 0 0 0 0 0 0 0 1"/><feComponentTransfer><feFuncR type="table" tableValues="0.78 0.78 0.80 0.82 0.85 0.88 0.92 0.96 0.98 0.98 0.98"/><feFuncG type="table" tableValues="0.62 0.62 0.66 0.70 0.76 0.82 0.88 0.94 0.97 0.97 0.97"/><feFuncB type="table" tableValues="0.55 0.55 0.60 0.66 0.72 0.80 0.88 0.94 0.97 0.98 0.98"/></feComponentTransfer></filter><clipPath id="tc9"><rect width="97.8" height="85.4"/></clipPath><clipPath id="tc10"><rect width="97.8" height="85.4"/></clipPath><clipPath id="tc11"><rect width="97.8" height="85.4"/></clipPath><clipPath id="tc12"><rect width="97.8" height="85.4"/></clipPath><filter id="hmt12" x="0" y="0" width="1" height="1" color-interpolation-filters="sRGB"><feTurbulence type="fractalNoise" baseFrequency="0.1" numOctaves="3" seed="33"/><feColorMatrix type="matrix" values="1 0 0 0 0 1 0 0 0 0 1 0 0 0 0 0 0 0 0 1"/><feComponentTransfer><feFuncR type="table" tableValues="0.75 0.75 0.78 0.80 0.84 0.88 0.92 0.96 0.98 0.98 0.98"/><feFuncG type="table" tableValues="0.62 0.62 0.66 0.70 0.76 0.84 0.90 0.95 0.97 0.97 0.97"/><feFuncB type="table" tableValues="0.55 0.55 0.60 0.66 0.74 0.84 0.92 0.96 0.98 0.98 0.98"/></feComponentTransfer></filter></defs><g transform="translate(28.6,231.0)" clip-path="url(#tc1)"><rect width="97.8" height="85.6" fill="#eeebf1"/><g fill="#c8c8e8" filter="url(#hbl)"><rect width="97.8" height="85.6" fill-opacity="0.17"/><polygon points="44,-5 105,-5 105,95 56,95 54,60 48,35" fill-opacity="0.10"/><polygon points="62,40 105,40 105,95 62,95" fill-opacity="0.10"/><ellipse cx="20" cy="20" rx="18" ry="14" fill-opacity="0.03"/></g><g filter="url(#hbl)"><polygon points="-5,48 15,49 30,52 42,58 52,70 56,95 -5,95" fill="#e6d6ca" fill-opacity="0.9"/><polygon points="-5,56 20,58 35,64 44,74 44,95 -5,95" fill="#dfcabc" fill-opacity="0.55"/></g><g filter="url(#hsh)"><polygon points="30,58 38,56 44,62 44,70 36,68" fill="#f4efec" fill-opacity="0.55"/><polygon points="-2,72 10,70 22,74 34,80 36,90 -2,90" fill="#f6f2f0" fill-opacity="0.7"/><polygon points="-1,76 4,75 6,84 2,88 -1,88" fill="#a4643e" fill-opacity="0.85"/><ellipse cx="30" cy="24" rx="5" ry="4" fill="#f6f5f8" fill-opacity="0.6"/><ellipse cx="60" cy="12" rx="6" ry="4" fill="#f6f5f8" fill-opacity="0.55"/><ellipse cx="42" cy="40" rx="4" ry="2.5" fill="#f6f5f8" fill-opacity="0.55"/><ellipse cx="12" cy="52" rx="6" ry="3" fill="#f4f0f2" fill-opacity="0.5"/></g><rect width="97.8" height="85.6" filter="url(#htx)" opacity="0.18"/><g filter="url(#hdt)"><g transform="scale(.5)"><path d="M8 3h0m9 7h0m2-7h0m0 8h0m1-9h0m6 8h0m8 1h0m1-5h0m6-5h0m3 0h0m7 0l-1 1m9-1h0m3 0h0m8 8h0m8 1h0m3-2h0m5-3h0m4 5l-2 1m3-5h0m2 3h0m2-7h0m4 9h0m11 0h0m1-5h0m0 5h0m2-9l1 1m-1 0h0m0 7h0m3-1h0m1-2l0 2m9-2h0m11-3h0m2 6l1 1m3 0h0m8-10h0m1 1h0m3 1l-2 1m3 4h0m0 1l-2 0m5-4h0m7 3h0m2-2h0m13-2h0m1 3h0m7-5h0m1 8h0m2-4h0m3 3h0m-192 13l1 1m2-11h0m1 9h0m6 0h0m3 2h0m1-7h0m13-4h0m4 10h0m2-9h0m2 4h0m4 0h0m2-2l2 0m9-3l-1 1m4 9h0m4-1h0m5-9h0m1 10h0m11-9h0m7 6h0m4 1h0m2 2h0m7-2h0m2-3h0m2-2h0m4 4h0m1 2h0m4-7l2 1m2 4h0m0 2l2 1m2-1h0m6-9h0m1 8h0m4-2l1 2m7 3h0m1-8h0m13 0h0m7-1h0m1 3h0m8-1h0m6-4h0m1 8l2 1m0-1h0m3-8l-1 2m2 7h0m3-4h0m0 4h0m-184 10h0m1-6h0m0 10h0m1-8h0m2 6h0m8-7h0m9 7l1 1m0-4h0m6 4h0m2-7h0m1 4h0m2 3h0m4-9h0m24 5h0m3-2l-1 2m12-6l1 2m-1 4h0m1 3h0m3-9h0m2 4h0m8 4h0m6 0l-1 2m6-9h0m4 2l1 1m6 0l1 0m5-1h0m3 8l-1 1m5-6l-2 2m8-1l-1 1m10-7h0m5 8l1 1m1-7h0m3 4h0m4 2h0m1-8l1 1m-1 4l1 2m5-8h0m3 1l-1 2m3-1h0m3 1h0m1 7l0 1m4-3l0 2m2-10l-1 0m1 6h0m5 2h0m0 2l-1 2m6-4h0m5 3l-2 0m4-4h0m0 3h0m-192 7h0m3 0h0m1 0h0m6-1h0m1-4h0m0 11h0m9-10l2 0m3 9l-1 2m2-12h0m4 11l2 0m12-10h0m1 5h0m11-2h0m8 5h0m0 2h0m4-10l0 2m8 6h0m6-1l1 1m2-4l-1 2m1 1l1 2m2-4h0m1 3h0m4 0h0m2-2l1 2m3-8l-2 1m7 2h0m5-4l1 1m5 5h0m4 4l1 2m2-5h0m8 0l1 0m10-1h0m0 1h0m1-6h0m3 4h0m7 5h0m1-8h0m4 8h0m3-3h0m5-1h0m3-5h0m6 4h0m1-4h0m4 2l-1 1m4 6h0m7-7h0m3 8h0m2-1h0m-192 3h0m3 3h0m2-2h0m3 4h0m13 4h0m1-1l1 2m10-6h0m0 0h0m6-1h0m0 2h0m5-1h0m1 0h0m11-3h0m5 9h0m2-6h0m19-2h0m9 3l-1 1m5-1l-1 2m1 0h0m1-4h0m2-1h0m1 3h0m1-2h0m7-4l0 2m9 8h0m10-3h0m3 3l-2 0m6-9h0m7 8h0m3-8l-1 2m1 2h0m1 3l0 2m9 1h0m6-5l-1 2m2-1h0m1-6h0m8 2h0m5 6h0m2-8h0m9 0h0m1 3h0m-186 17l2 1m0-2l-2 1m5-1h0m3-7h0m8 5h0m1-5h0m2 9h0m11-8l0 2m3-3h0m1 2h0m2-1h0m5 8h0m9-2h0m2-7h0m0 5h0m2-2h0m14 1h0m3 6l3 0m0-7h0m4 3l2 1m-1-6h0m1 2h0m2 0h0m1-4h0m1 9h0m6-5h0m1-2h0m2 1h0m2-2l-1 0m2 10h0m3-7h0m4 7h0m7-6h0m0 6l1 2m2-8h0m1 6h0m9-9h0m1 4h0m2 5h0m6-3h0m12-8h0m6 11l0 1m7-10h0m29 2h0m2 2h0m2-2h0m-192 12h0m0 6h0m3-5h0m1-2h0m6 2h0m9 3l0 1m4-6l2 1m5 6h0m0 0h0m4-3l-1 0m4-2h0m7-3h0m8 2h0m20 3h0m1-5h0m0 4l-1 1m4 3h0m6-2h0m1 1l-2 1m10-1h0m3-1h0m2 2h0m6-10l0 1m1 4h0m0 5h0m2-7h0m5 0l-1 1m4 1h0m1-1h0m4-2h0m10 8h0m1-8h0m0 3h0m2 2h0m1 1h0m1 3h0m2-7h0m11 0h0m1 3h0m4 0h0m3-1h0m5-4h0m1 0l3 0m0 6h0m4-5h0m6 0h0m3-2h0m4 8h0m9 1h0m-188 13h0m1-3h0m2-4h0m1 6h0m5-3h0m4 0h0m1 2h0m5-4h0m3-1l0 1m4 5h0m1-10h0m0 6l-1 0m4-4h0m1 6h0m7 0h0m1 3l1 2m3-2h0m1-3h0m3-5h0m8 6h0m1-8h0m1 4h0m2-1h0m18 7h0m1-8h0m3-3h0m5 5h0m5 2h0m5-2h0m2 5h0m1 0h0m13-4h0m2 1h0m0 3l0 1m2-4h0m4 3h0m3-4l0 2m1 0l-1 1m3-7h0m5 9h0m2-2h0m1 1h0m5-7h0m7 2l1 1m5-6h0m0 10h0m2-10h0m0 3h0m7 2h0m9 1l2 2m0-5h0m5 6h0m2-3h0m6 3l0 2m6-11h0m1 8h0m-193 12l2 0m3-8l1 1m2 1h0m1 7h0m33-6h0m7 5h0m1-2l-1 2m4-8l0 1m0 3h0m5-3h0m4 10l1 2m15-5h0m1 2h0m11-3h0m1 4h0m6-1h0m1-9h0m2 5h0m3-3h0m2-1h0m0 1h0m6 7h0m4 0l-2 1m6-6h0m7-2l0 1m4 5h0m3-7l2 1m-2 1h0m0 5h0m1-6l1 1m8 2h0m0 4h0m3-3h0m0 3h0m7-6h0m3 7h0m1-3h0m4-2h0m0 4h0m2-7l2 0m6 1h0m3 1h0m0 6h0m4-4h0m5-4h0m2 6l-1 1m10-4h0m0 3h0m-194 6h0m1 3h0m2 3h0m5-6h0m13-3h0m5 8l0 1m27-3h0m2-3l1 1m1 3h0m17 3h0m9-7h0m1-1h0m2 7h0m1 1h0m2-10h0m4 11l-1 1m2-9l1 2m-1 1h0m0 1l2 0m-1-5h0m2 7h0m1-2l0 2m0 0h0m1-7h0m4 6l1 1m3-8l0 1m0 6h0m11-4h0m5 5h0m5-4h0m3-2h0m3 0l0 2m5 4h0m4 2h0m3-11h0m1 4h0m5-4l2 0m-2 6h0m1-6h0m2 10h0m2-6h0m5-1h0m3 1h0m0 4h0m5-2h0m1-2h0m1-3h0m1 10h0m2-1l0 2m3-5h0m0 4h0m2-7l-2 0m2 5h0m4-9h0m-184 12l-1 0m5 6h0m1-6h0m1 11l-2 0m6-4h0m44-2l0 2m6 0h0m2-1l0 1m1-4h0m17-1h0m10 5h0m0 3l1 1m0-6h0m6 0h0m11-5h0m5 9l-1 1m13-8h0m4 6h0m6-7h0m1 7l-1 0m1 2l2 0m6-6h0m2-2h0m0 1h0m8-2h0m5 8h0m0 2l-2 2m3-12h0m1 4l2 0m5-5l0 1m1 4h0m3 0h0m11 6h0m-180 2h0m20 2h0m3 5l1 0m16-3h0m3 5h0m10-3h0m4 3l1 2m4-8h0m2 1h0m6 3h0m5-6h0m26 2l0 1m1 3h0m0 3h0m2-10l-2 1m2 9h0m7-7h0m6 3l-1 1m9-5h0m4-2h0m3 1h0m8 6h0m1 0l2 1m2-9h0m2 10h0m1-2h0m10-4h0m4 5h0m5-6h0m1 5h0m17-7l-2 0m3 2h0m-169 16h0m2-3h0m0 3l0 2m2 1h0m1-8h0m4-1h0m16 6l1 1m1-6h0m4 1l2 1m7 5h0m0 2h0m5-2h0m8-9h0m6 5h0m3 5h0m1-1h0m5-8h0m10 0h0m4 7h0m4 0h0m1-8h0m15 1h0m2 9h0m1-10h0m0 4h0m6 0h0m0 4h0m2-2h0m15 5h0m2-10h0m9 5h0m2 2h0m7 2l-2 1m13-5h0m8-1h0m1-4h0m2 9h0m1-9h0m-187 19h0m1-4l0 2m23-6l-1 0m12 5h0m7 3h0m14-3l-2 1m5 5h0m21-1h0m3-8h0m14 1h0m6 0h0m9 5h0m8 0h0m0 2h0m3-6h0m8-4h0m5 10h0m8-5h0m4 4l0 2m12-10h0m4 9h0m5-3h0m3-7h0m8 1l-1 0m2-1h0m0 3l1 1m-1 3h0m7 3h0m-184 2h0m35 1h0m42 0h0m13-1h0m18 2h0m15 0h0m12-1h0m14-1l-1 1m8 0h0m8-1h0m2 1h0m13 0h0" stroke="#8888d2" stroke-width="1.7" stroke-opacity="0.8" stroke-linecap="round" fill="none"/><path d="M2 5h0m8 4h0m0 2h0m3-7h0m3-3l-1 2m7 1h0m6-1h0m2 6h0m4-6h0m3 8h0m1-8h0m4 0l-2 2m2 5h0m1-2h0m3-4l-1 1m11-3h0m7 1h0m2 6h0m2-4h0m4-4h0m2 4h0m1 4h0m1 2l0 1m2-10h0m2 2l0 1m1-5l-1 1m1 4h0m3 0l1 0m11 6l1 1m0-8h0m2 2h0m0 2h0m2-3h0m2 2h0m1-4h0m0 2h0m3-3l1 1m7 3h0m2-2h0m2 2h0m5 0h0m2-6l-1 2m4 2h0m2 5h0m4-4h0m5-4h0m0 4l2 1m-2 5h0m1-7h0m2-1h0m0 4l-1 1m3-8h0m0 6l1 1m0 0h0m1 4l-1 1m4-8h0m0 4h0m4 0h0m12-4h0m5 4h0m1-7h0m5 0l2 1m4 9h0m3-1h0m1-8h0m1 4l2 0m0 1h0m6 0l2 1m-191 15l-1 0m10-11h0m3 7h0m15-6h0m3 7h0m1-7h0m3 4h0m2-4h0m2 6h0m4-7l1 2m-1 7l-2 0m5 2h0m5-8h0m2-1h0m4-2h0m1 5h0m7 3l1 0m1-4h0m2 3h0m1 1h0m1-5l2 0m7 7l1 1m7-4h0m6-6h0m1 3h0m3 5h0m1 2h0m1-2h0m4-7h0m2 3h0m1 3h0m2-3h0m1-5l-1 1m2 1l0 1m2-3h0m1 7h0m6-4h0m3 4l2 1m-1-1h0m3-7h0m3 4h0m1-2h0m9 8h0m1-5l0 1m6-6h0m0 11h0m3-8h0m0 6h0m3-7h0m0 9h0m1 0h0m3-4h0m2 1h0m1-4l1 1m1-2h0m5 0l0 2m1 1h0m2-3l0 1m4 3h0m1-5h0m1 5h0m1-3h0m1 3h0m3 4h0m2-6h0m4 0l-1 0m4-2h0m0 8h0m-183 6h0m2-5l1 2m2-1h0m0 2h0m1 3h0m1-3h0m0 7l-1 0m2-5h0m6 1h0m1-4h0m4-2h0m1 4h0m0 5l-1 1m3-3h0m2-2h0m1-5h0m1 0h0m3 2h0m1 2h0m3-4h0m6 9h0m5-3h0m3-2h0m8 3l1 1m2-5l-1 1m5 2l-1 1m6 1h0m7-2h0m0 4l2 1m8-5h0m2-4l0 2m0 3h0m4 4h0m4-6h0m3 4h0m5-6h0m5-1h0m2 1l-2 1m6 3h0m0 1h0m1-4l1 1m1-5l0 2m0 6h0m0 2h0m1-7l-1 1m4 1h0m1-4h0m6 2h0m0 3h0m2 0h0m4-4h0m2 5h0m3-7h0m0 3h0m11 2h0m4-5h0m0 6h0m5-6h0m1 0l-2 0m2 0l-2 1m3 4h0m0 2h0m4 2h0m1-5h0m11 3h0m0 4h0m1-10h0m1 7h0m1-2l-2 1m5 2h0m-191 5h0m4 8h0m8-9h0m1 7l1 1m2-1l1 2m4-2l-2 1m6 0h0m4-9h0m5 2h0m0 5h0m3-5l1 2m0-4l-2 1m2 3h0m1 4h0m2-3h0m0 4h0m2-8l0 2m0 7h0m6-7h0m1 6h0m2-9l0 1m0 8h0m15-4h0m0 4h0m3 2h0m1-7h0m4 3h0m3 1h0m1-3h0m5-1h0m1 2h0m2-2h0m2-4h0m1 1l1 2m0 0h0m2-3h0m2 0h0m5 4h0m3-2h0m3 7l-1 1m2-3l0 2m2-9h0m5 9h0m0 1h0m4-1h0m4 2h0m2-8l-2 1m3-3h0m2 3h0m6-2h0m1 8h0m1-4h0m0 5h0m7-8h0m1 4h0m3 1l0 2m1-6h0m3 2h0m0 3h0m3-5h0m2-1h0m0 6l1 2m6-10h0m5 9h0m3-7h0m1 3h0m4 5h0m2-2h0m3-9h0m1 1h0m1 1h0m2 4l2 1m-1 3l-1 1m3-9h0m1 4h0m1-5l-1 2m2 0h0m-193 14h0m3-1h0m0 7h0m3-3h0m4-3h0m8 3h0m6-5h0m3 1h0m0 4h0m1-3h0m3-3h0m0 2l-2 1m7 3h0m4 2h0m3-10h0m1 4h0m2 4h0m3-7h0m4 8h0m3-8h0m2 3l1 1m10-3h0m2 1l-2 1m4 3h0m2-7h0m4 4h0m4-3h0m1 7l0 1m5-7h0m8 1h0m1-3h0m4 0l-1 1m1 7l-2 1m2 2h0m2-6h0m0 6l-1 2m9-7l0 2m2 2h0m16-8h0m2 5h0m3-3h0m2-3l1 2m-1 2h0m4 1l1 1m-1 4h0m4-2h0m1-3h0m2 0h0m3-1h0m4-4h0m1-1h0m3 9h0m13-4h0m3-5l-1 1m6 5h0m3 4h0m1-1h0m1-7h0m7 1h0m0 2h0m-187 12h0m7 2h0m8-4h0m0 7h0m6-6h0m1 6l-1 0m4-3h0m2-3l-2 1m7-3h0m0 3h0m0 4h0m3 1h0m5-10h0m2 11h0m1-7h0m1 2h0m1-5h0m6 9h0m1-10l0 2m2 5l0 1m1-5h0m4-2h0m4 4h0m10 2h0m1 1h0m11-1h0m10-1h0m3-3h0m1 6h0m3-8h0m2 9h0m3-3h0m3 1h0m4 2h0m2 1l1 1m3-8h0m0 7l0 2m2-13l1 2m3-2h0m0 6h0m3 4h0m1 1h0m1-4h0m1-2h0m0-2l1 1m0 4h0m4-4h0m0 6h0m4-10h0m0 7h0m11-4l1 1m9-4h0m1 6h0m3 5h0m7-10h0m1 2h0m2 6l-2 1m2 1h0m2-1h0m5-2h0m1-1h0m4 0l2 2m-1 1h0m-193 11h0m7-1h0m1-8l1 2m-1 3h0m3 6h0m2-9h0m4 2h0m8 0h0m3 3l0 1m2-5h0m8 1l1 1m0 2h0m1-5l2 0m0 5h0m3-6h0m0 7h0m2-4h0m1-3l0 1m2 6h0m2-1h0m11-5h0m1-2h0m1 7h0m2 4l0 1m1-8h0m5-2l-2 1m7 1h0m1-2l0 1m12 8h0m5-10h0m6 3h0m2-3h0m4 6h0m8 4h0m4-7h0m1 6h0m0 0l2 2m2-8h0m4 5h0m3-5h0m3 4l1 1m3 0h0m1-7h0m2 3h0m0 6l-1 0m4-9h0m1 7h0m4-8h0m0 8h0m4-8h0m1 3h0m1 2h0m2-1h0m4 1h0m1 4h0m15 1l-1 2m3-9h0m1 1l1 1m3-3h0m1-3h0m1 9h0m1-8h0m3 6h0m3-2h0m-192 9l1 2m4 1h0m3 3h0m5 2h0m1-10h0m0 0h0m1 2h0m6 9h0m4-8h0m1-2h0m6 3l1 1m0 3h0m6-4l0 1m3 1h0m12-5h0m3 5h0m6-2h0m3-2l0 1m4 1h0m0 3h0m2-6h0m0 5h0m2-3h0m1-2h0m1 5l-1 2m7-7h0m1 6h0m0 1h0m7-5h0m8 4h0m1-7h0m2 4h0m0 6h0m3-8h0m4 9h0m1-11h0m1 4h0m6-3h0m0 9l-1 2m3-10h0m0 1h0m2 8h0m1-7h0m4 4h0m9-8l-1 0m1 3h0m2-3h0m1 0l0 1m0 7l2 0m-1 2l1 2m7-10h0m0 4h0m8-3l0 1m0 1h0m1-5h0m2 6h0m1-5h0m8 6h0m1-3h0m3-4h0m0 5h0m1-4h0m0 10h0m5-4h0m3 1h0m1-1h0m2-5l1 0m-1 3h0m2 1h0m0 5l1 2m0-12l-2 1m4 2h0m1-2h0m4-2l-1 2m1 6h0m-193 12h0m6-4l0 1m9-2h0m18 3h0m2 0h0m8-2h0m6 4l-1 1m2-9h0m10 0h0m2 3h0m0 5h0m15-4l-2 1m2 5h0m3-4h0m1-3h0m22-1h0m8 4h0m7-5h0m1 4h0m0 3h0m0 2h0m2-2h0m7-3h0m3 5h0m5-8h0m0 1l1 0m2 8h0m2-11h0m0 9l1 1m3-8l-2 1m6 4l1 2m2 2h0m1-6h0m2-5h0m0 7h0m1-5l-2 1m2 1h0m1-4h0m1 7l-1 2m1 2h0m1-7h0m0 0h0m2-2h0m0 8h0m1-1h0m4-5h0m2 6h0m4-8h0m2 1h0m0 7l1 0m3-7h0m4-2h0m1 4h0m2 5h0m3-2h0m-176 6h0m3 2h0m13-1h0m3 2l0 1m1-4h0m15-2h0m4 11l-2 1m12-11h0m0 3l1 2m5-3h0m2 0l-1 0m4 1h0m24 6h0m4-4h0m2-4h0m1 3h0m0 2h0m1 1l-1 2m5-4h0m3-4h0m3 3h0m0 5l2 2m0-11h0m1 5h0m2 5h0m1-6h0m1-1l0 2m3-3h0m2 8h0m3-11h0m1 1l2 0m-2 2h0m2-2h0m2 6h0m0 4h0m5-9h0m0 3l2 0m-1-5h0m1 7h0m1-3l1 1m0 4h0m1 1l0 1m3-4h0m2 4h0m3-7h0m4 7h0m3-2h0m7-8h0m7 5h0m1 3h0m1-4h0m1-4h0m2 1h0m1 3h0m4 1h0m0 4h0m5-3h0m-190 13h0m48 2h0m4-7h0m13-3h0m9 4h0m4 0l0 2m1 3h0m10 2h0m8-10h0m2 3h0m0 7l-2 0m3-10h0m0 8h0m1 2h0m8-5h0m0 2h0m3-7h0m6-1l1 1m3 7h0m5 2l0 2m1-1h0m5-5h0m2 1h0m3-3h0m4 5l-2 1m5-2l1 0m11 1l-1 1m3-7l1 2m4 6h0m1-7h0m2-2h0m1 0h0m3 5h0m1 4h0m1-8h0m4 6h0m1-9h0m0 4h0m1 7h0m3-9h0m4 8l2 1m0-1l2 2m-1-10l0 1m5 4h0m-190 11h0m2 3h0m7 2l-1 1m5-3h0m10-6l1 2m9 4l1 2m2-1h0m3-4h0m7-4h0m12 2h0m3 5h0m7 0h0m1 1l-2 0m4-8h0m8 8l-1 0m6-4h0m12-3h0m0 6h0m3-4l2 1m-2 4h0m4-6l0 2m1-4l-1 1m4 2h0m2 3h0m1-6h0m3 3h0m0 4h0m2-1h0m4-5l2 1m-2 3h0m4-6h0m0 3h0m1 4h0m4-3h0m3-2h0m2 5h0m1-1h0m1-5l1 1m-1 7h0m3-6h0m0 7h0m6-8l-1 1m1 4h0m1-7h0m2 5h0m2-5h0m1 2h0m1 2h0m1-4l-1 0m5 3h0m0 1h0m0 3h0m1 2h0m1-3h0m4-6h0m0 5l0 2m3-5h0m1 2h0m3 1h0m4 0h0m3 0h0m5 3h0m0 1h0m2-7h0m3-2h0m0 9l-2 0m5 1h0m-149 7h0m11 4h0m4-1h0m12-4l-1 2m35-5h0m0 0h0m5 9h0m1-6h0m2-5h0m1 11h0m1-3h0m5-4h0m2-1l0 1m4 3h0m2 2l0 1m3-7h0m3 4h0m1-3h0m1 3h0m2 4h0m3 0h0m2-5h0m0 1h0m1-3h0m4-3h0m3 8l1 1m5-8h0m2 0h0m4 5h0m1-4h0m7-3h0m2 2h0m1 8h0m3-4h0m1 4h0m1-1h0m1-8l-1 1m4 7h0m1-6h0m6 6l0 2m3-7l-1 2m2 2h0m0 2h0m-177 7h0m16-1h0m14-2l-1 0m3 5l-2 1m17-6l1 1m37 2l0 2m13-6h0m5 6l1 2m0-8h0m0 7l-2 1m7-6h0m3-2l-1 1m1 5l-1 0m7 2l-1 0m3-3l-2 1m3 3h0m1-9h0m4-1h0m1 4h0m0 2h0m3-3h0m1 8h0m1-11h0m0 7h0m2 0h0m3 4h0m1-2h0m4 1h0m1-7h0m4 3l0 1m2 1h0m1-2h0m4-6l-1 2m4 6h0m5-4h0m1 1h0m2 4h0m6-7h0m2 2h0m0 5h0m5-2h0m-67 5h0m8 2h0m15-2h0m0 1h0m10 2l1 1m1-4h0m3 3l2 0m-1-1h0m2-1l-1 2m18-1h0" stroke="#6262c2" stroke-width="2.1" stroke-opacity="0.85" stroke-linecap="round" fill="none"/><path d="M40 10h0m14-2h0m30-4h0m3-3h0m4 1h0m1 4h0m0 5h0m5-10l-1 2m12 5l-1 2m2-7h0m1 3h0m23-2l0 2m4 2h0m12-7h0m12 0h0m1 7h0m4-8h0m8 9h0m3-7h0m4 5h0m-165 13h0m2-6l-1 1m8-2h0m2 10h0m6-4l-1 2m12 0h0m4 0l1 1m8-10h0m5 10h0m23-7h0m4-3h0m18 5l1 1m2 5h0m4 0h0m4-10l-1 1m4-2h0m6 10h0m8-4h0m16 0l-1 1m22 2h0m13-8l0 2m0 5h0m3-7h0m-175 16l-1 1m4 1h0m22 4h0m8-10h0m1 7h0m44-6h0m5 8h0m3-7h0m8 7h0m3-8h0m5-1h0m2 8h0m7-9l-2 0m15 0l0 2m12-2h0m0 2h0m5 1h0m4 8h0m2-9h0m4 8h0m17-5h0m6 0h0m5-2h0m3 4h0m-189 12h0m14-4h0m5 7l2 1m22-11h0m3 5h0m10 0h0m6 4h0m3 1h0m26 0h0m4-9h0m4 6h0m6-4h0m5-3h0m14 1h0m3 4h0m2 4l1 1m1-1h0m5 2h0m24-7h0m2 5l-2 0m6-1l1 1m10-2l0 2m-168 3h0m6 2h0m13 0l-1 1m6 4h0m6-5h0m2 8h0m7-5h0m18-1h0m33-4h0m1 2h0m8 1h0m2 7h0m9-5h0m1-4h0m0 10h0m3-4l2 1m2-1l1 2m0-4h0m2 4h0m6 1h0m1-10h0m9 4h0m1-3h0m4 6l0 2m5 2h0m1-7h0m3 3l-1 2m10-2l1 1m1-4h0m5-2h0m2 2l1 2m5-2h0m1-3l0 2m-161 20h0m18-1l0 2m10-1h0m4-3h0m35-3h0m2-4h0m0 7h0m6-6h0m5 7h0m2-2h0m7-7h0m0 6h0m8 2h0m2-4l2 1m-1 5l0 1m3-9h0m5 3h0m2 6h0m2-4h0m3-7l0 1m2 6h0m5 1h0m3-8h0m1 5l1 1m3 0h0m8-6h0m5 3l1 2m3-2h0m0 8h0m6-8h0m0 6l-1 1m-180 9l2 0m9 2l1 0m3-7h0m18 3h0m12 0l0 2m18 1h0m39 0h0m1-8l1 0m9 2h0m0 0h0m2 7h0m5-2h0m6 0h0m9 0h0m6-2h0m1-4h0m4 9h0m3-4h0m12-5h0m1 0h0m2 8h0m3 1l-2 0m8 0h0m7 1h0m2-9h0m3 5h0m0 0h0m1 4h0m4-3h0m1 3h0m-156 1h0m8 8h0m5 2h0m11-9l2 1m24 8l1 1m5-1h0m8-3h0m11 2h0m2 1h0m3-7h0m8-2h0m7 2h0m3 2h0m2 1l0 1m5-4l1 2m2 0l2 1m-1-4h0m2 4h0m2-3h0m1 6h0m1-4h0m0 2h0m3-2h0m3-3h0m3 0h0m1 7l-1 1m6-10h0m1 2l0 1m0 5h0m3-5h0m6 3l1 1m-1 4h0m3-8h0m1-2h0m0 2h0m2-1h0m0 1l-2 1m2 7h0m6-1l-2 1m-94 3h0m27-2h0m6 1l1 2m1-3h0m0 9h0m0 2h0m1-9h0m6 7h0m2-1l2 1m-2 1h0m3-8h0m6 1l2 1m4-2h0m4 0h0m9-2h0m1 10l-1 1m6-4h0m0 3h0m6-9h0m1 10l2 0m0-11h0m1 2h0m0 1h0m1 4h0m4-4h0m0 3h0m1 3h0m2-2h0m2-4h0m1 7h0m2-7h0m0 5h0m2-4h0m-156 19h0m50-8h0m19-1h0m5 9l0 2m3-13h0m6 7h0m0 4h0m3-4h0m3-4h0m5 5l-2 1m8-6h0m4 0h0m3 3h0m5-3h0m4-1l-1 1m1 6h0m0 2h0m12 0h0m4-3l-2 0m3-8h0m2 8h0m6 2h0m3-9l1 0m0 4h0m1-2h0m1 2l-2 1m5-4h0m1 3h0m1-3h0m0 9h0m4-7l1 1m-168 14h0m71-7h0m10 10h0m7-5h0m0 6h0m6-6h0m0 2h0m0 1h0m7-1h0m0 3h0m3-2h0m6-3h0m1-3h0m0 9h0m6 0h0m1-11h0m1 5h0m3-2h0m0 2h0m3 4h0m4-5h0m0 6l-2 1m7-7h0m2-3h0m0 7h0m1-2h0m7 3h0m1-7h0m2 3l2 1m-2-1l1 1m3 2h0m0 2h0m7-9h0m2-1h0m5 11l0 1m-94 1h0m12-1l2 2m14 0h0m2 1h0m3 7h0m8-2h0m1-1h0m4-6h0m0 4h0m1 1h0m2-3h0m2 4h0m2-4h0m2 8h0m1-7h0m1 6l1 2m0-4h0m1-7h0m3 6l0 1m1-1h0m1 3h0m1-8l1 2m4-4h0m1 1l2 1m5-1h0m0 4h0m2 6h0m2-7h0m1 3l-1 1m2 2h0m4-3h0m1-2h0m-68 13h0m3 3h0m5-5h0m0 2h0m4 3h0m1 2l2 2m5-13h0m0 8h0m1 2h0m4-2h0m1-8l-1 1m1 4h0m3 5h0m3-6l1 2m1 2h0m1 0h0m4-1h0m2-1h0m3-5h0m3 4h0m0 4h0m4-4h0m1-2h0m0 6h0m1-3h0m5-2h0m3 5h0m3-8h0m0 4h0m1 1h0m2-1l-2 1m5-6h0m4 8h0m-84 11l1 0m7-6l-1 1m3 4l-2 0m12-5h0m0 7h0m2 1h0m0 1h0m5-5l2 0m1-4h0m2 3h0m13 2h0m0 4h0m3-5l1 1m2-6h0m0 4h0m0 7h0m1-2l-2 2m3-7h0m1 7h0m1-1h0m2-5l-2 1m12 2h0m2-3h0m1 5h0m2-9h0m1 4h0m5 3h0m0 2l2 1m1-6h0m0 4h0m1-5l1 2m1 0h0m-83 6h0m8 1h0m17 0l2 1m12 1h0m4-1h0m5 0h0m13-2h0m6 1h0" stroke="#3c3caa" stroke-width="2.6" stroke-opacity="0.9" stroke-linecap="round" fill="none"/></g></g></g>
<g transform="translate(134.2,231.0)" clip-path="url(#tc2)"><rect width="97.8" height="85.6" fill="#efebee"/><g fill="#cccbe6" filter="url(#hbl)"><rect width="97.8" height="85.6" fill-opacity="0.19"/><ellipse cx="88" cy="72" rx="14" ry="16" fill-opacity="0.09"/><ellipse cx="60" cy="20" rx="30" ry="15" fill-opacity="0.03"/></g><g filter="url(#hbl)"><polygon points="-5,48 30,54 55,64 75,74 90,95 -5,95" fill="#e6d4c8" fill-opacity="0.95"/><ellipse cx="20" cy="80" rx="28" ry="8" fill="#e0cabc" fill-opacity="0.6"/></g><g filter="url(#hsh)"><ellipse cx="20" cy="50" rx="2.5" ry="3.5" fill="#2a34b0" fill-opacity="0.8"/></g><rect width="97.8" height="85.6" filter="url(#htx)" opacity="0.18"/><g filter="url(#hdt)"><g transform="scale(.5)"><path d="M9 2h0m8 7l1 0m4 2h0m14-3h0m1-8h0m16 9h0m4-7h0m1 4h0m5-4h0m5-2h0m1 4h0m2 0l1 1m2-4h0m0 10h0m6 0h0m2-2h0m6-8h0m1 5h0m10-2h0m2-2l-2 1m3-2l-2 1m2 5h0m4-6h0m1 8h0m3 0h0m2 1h0m4-1h0m4-1h0m9-5l1 1m0 0h0m5-4l1 1m3 10l1 1m1-10h0m5 4l0 1m4-1h0m12 1h0m6 0h0m7 4h0m8-9l1 1m3-3h0m0 9h0m3 0h0m1-5h0m3-2h0m2-1h0m-195 11h0m11 3l-2 2m4-4h0m0 6h0m2-5h0m13 5h0m6-1h0m2-3h0m2 8h0m1-5h0m6-6l-1 1m11-1h0m4 11h0m2-10l-1 1m2 4l1 1m7-2h0m2 5h0m5-9h0m0 3h0m5 2h0m0 3h0m1-2h0m2 0h0m1 4h0m4-5h0m9 2h0m4-4l0 2m3-6h0m3 1h0m8 4h0m8-4l2 1m-1 8l1 1m0-4h0m3-7h0m1 2h0m0 2h0m22-3h0m1 6h0m7-4h0m1-3h0m8 5h0m8 2h0m5-4h0m0 8h0m4-5h0m-184 8h0m4 2h0m0 4l0 2m3 1l1 1m9-4l-1 1m2 1h0m4 0h0m8-9h0m1 6h0m9-7h0m0 11l-1 0m2-2h0m1-5h0m2 3h0m1-5h0m2 6h0m2-7h0m0 7h0m7 0l-1 2m6-3h0m5-1h0m3 2h0m6-7h0m8-1h0m0 7h0m5 0h0m9 4l-1 1m5-12h0m0 4l2 0m8-2h0m2-1h0m2 5h0m2 1l0 2m4-7h0m2 9h0m2-8h0m1 4h0m2-2h0m1-1h0m4-1h0m4 6h0m2-6h0m5-3h0m1 7l0 2m4 0l0 1m7-2h0m5 2h0m3 0h0m5-9h0m10-1h0m8 8h0m3 3h0m1-1h0m1-8h0m-191 11h0m1 8h0m8-1h0m6 1h0m4-3h0m4 0h0m3-2h0m7-2l-1 2m9 0h0m2-2l1 2m6 5h0m9-1h0m6-7l-1 1m5 7h0m4-4h0m1 5h0m11 1h0m5-8h0m1 7h0m2-5h0m2 6h0m4 0l-2 2m3-8h0m17-5h0m21 1h0m0 7h0m4 3h0m3 0h0m2-7h0m12-3h0m4 10l-1 1m3-9h0m4 3l1 2m2-7l2 0m3 5h0m7 3h0m2-6l-2 1m5 2h0m-193 10h0m7 6h0m5-6h0m11 0h0m0 4l-1 0m5 0h0m5-3h0m9-1h0m4 5h0m8 0l1 2m4-7h0m4-1h0m10-1h0m9 2h0m12 5h0m0 2h0m6-5h0m5-4h0m0 4h0m3-2h0m1-4h0m4 4h0m1 7h0m1-9h0m6-2h0m0 10h0m10 0h0m2-5h0m4 6h0m5-4h0m0 1h0m1 2h0m1-10h0m1 2h0m0 5h0m1 2h0m4 0h0m6 1l-1 1m4-5h0m0 2h0m2-7l-2 0m2 3h0m1 7l-1 1m3-3l-2 0m14-1h0m0 2l-2 0m9-4h0m5-3l0 2m7-3h0m0 4l0 1m-187 13h0m4 1h0m4-8h0m0 10h0m1-2h0m9-7h0m23 5h0m2-2l2 2m3-4h0m16 6h0m1-6h0m8 4h0m4-7h0m1 7l0 1m8-7h0m2 10h0m2-2h0m3-4h0m1-3h0m11 7h0m6 0h0m1-6l0 1m12 1h0m7 5h0m1-9h0m4 5l0 2m0 2h0m5-2l1 0m3-6h0m7 0h0m12-2l-2 1m7 3l2 1m5-5h0m6 9h0m5-4h0m-194 18l-2 1m3-11l0 2m0 2l0 2m9 2l1 1m6-10h0m14 8h0m1-7h0m2 6h0m26-5h0m0 7h0m12-5h0m12 3h0m12 1l0 1m1-9h0m0 7h0m6-3h0m2-3h0m16 9h0m1-8h0m7 4h0m0 2h0m8-1h0m5-2h0m3 1h0m6-6l1 1m4-1h0m0 11h0m7-3h0m2-2h0m19-1h0m6 1h0m-190 12h0m3 4h0m1-7h0m13 2h0m1 2h0m4 1h0m13 2h0m8-8h0m5 2h0m1 6h0m3-8h0m4 3h0m8 5h0m3-8l2 0m0 6h0m1-4h0m1 3h0m1-4l0 2m17 1h0m2-3h0m14-2l-2 1m4 6h0m2 2h0m1-8h0m8 7l0 1m30-7h0m7 0h0m3 3h0m14-2h0m5 4h0m3-7l-1 1m-166 10h0m2 6h0m2-3h0m3-2h0m0 7h0m1-7h0m1 6h0m7-4h0m0 4h0m5-6h0m2 7h0m8-1h0m6-4h0m2 3h0m0 2h0m2-3h0m5 5h0m2-8h0m3-1h0m4 7h0m0 2h0m1-2h0m0 2h0m11-10h0m3 8l1 1m2-8h0m3 7h0m2-5h0m3 5h0m6-6h0m2 7h0m16-4l1 1m1 2h0m4-7h0m1 5l2 1m0-1h0m7 2h0m11-5h0m3 8h0m2-11h0m4 9h0m8-2h0m0 4h0m2-9h0m2 0h0m1-2l1 1m4 1h0m1 1h0m14 0h0m1 6h0m4-4h0m-193 8h0m3 6l-1 0m10 1h0m1-2h0m12-5h0m9 7h0m6 0h0m1-3l-2 0m3 0h0m3 3h0m17-4h0m4-3h0m1-1h0m11 2h0m2 9h0m1-6h0m7-2l-1 2m11 0h0m8 6h0m3-1h0m2-4h0m5-2h0m6 2l1 1m5-4h0m1 8h0m6 0h0m2-9h0m2 9h0m3 0h0m3-4h0m5 1h0m0 2h0m1-6l-1 2m2-4h0m2 5h0m8-3h0m4 2h0m3 3l-1 2m12-3h0m6 2h0m5-1h0m-179 4h0m19 4h0m7 0l-2 0m9 4l-1 2m5-3h0m1-7l1 0m5-1h0m2 3l1 0m5 6h0m1 2h0m2-10h0m18 2l-2 1m5-4l2 1m2 3h0m0 3h0m0 3l-2 0m7-2h0m2-5h0m4-2h0m2 1h0m17 0h0m2 1h0m1-1h0m5-1h0m0 3l-1 2m9 5h0m9-2h0m0 2h0m17-8l-1 1m9 3h0m1 1h0m3-1h0m1-6h0m2 8h0m1-2l0 2m7-7h0m-177 11h0m23 4l2 0m9 4l1 1m6-4h0m4-2h0m1 4h0m42-7h0m0 2l-2 0m5-2h0m1 5h0m1 3h0m2-6h0m1 4l-2 0m9-3h0m4 5h0m4-6h0m2-3h0m21 5h0m4 4h0m5-4h0m5 6h0m2-11h0m7 1h0m1 0l1 1m0 6h0m10 2h0m7 0l2 1m-180 10l-2 1m10 0h0m1-8l-2 0m15 3h0m4-1h0m4 5h0m1-6h0m1 8l-1 0m8 0h0m3-11l1 1m19-1h0m1 3l0 1m3 6h0m4-4h0m2-3h0m4 3h0m9-5h0m3 10h0m15-5h0m2-5h0m13 1h0m1 8h0m1-6h0m5 4h0m1-5l0 1m4 3h0m6 3h0m2-7h0m1 6h0m5-6h0m5 4h0m3-1h0m2 0h0m2-6h0m1 2h0m4 7h0m0 1h0m1-9h0m0 6h0m1-1l-2 1m12-4h0m1 6l-1 2m3-10l-2 1m9-1h0m0 3h0m-186 16h0m6-7h0m2 0l-2 0m15 10l1 2m17-13h0m4 4h0m2 1h0m2-1h0m14 5h0m15-5l-2 0m3-1h0m3-2h0m11 3h0m0 3h0m5 4l1 1m16-2l2 0m10 1h0m11-10l1 1m6 1h0m4-2h0m0 4h0m3 1h0m9-1h0m2-2h0m1 3h0m1 0h0m5-2h0m2 1l-2 1m7-2h0m2-3h0m8 9h0m-189 3h0m15 0h0m3 0h0m1-1h0m19 3h0m25-1h0m20 1h0m17-2l-2 2m42 0l-2 1m7-2l-2 0m27-2h0m12 3h0m7-3l1 2" stroke="#8888d2" stroke-width="1.7" stroke-opacity="0.8" stroke-linecap="round" fill="none"/><path d="M2 2h0m7 1l-1 1m6-2h0m0 7h0m1-4h0m11 2h0m0 4l0 2m5-5h0m1-3h0m1-3l-1 1m2 0h0m3 0h0m2 0h0m1 8h0m4-4h0m1 1h0m2 0l-1 2m12-8h0m7 2l2 1m-2 5h0m2 0h0m3-4h0m6-2h0m4 5h0m2 1h0m6-7h0m3 1l2 1m0-4h0m0 8h0m2-7l-2 1m8 4h0m2-4l-1 0m7 1h0m14 5l1 2m2-2h0m2 0h0m4-4l1 0m11 2h0m5 1h0m2-2h0m8 1h0m5-2h0m6-1h0m0 7h0m1-9h0m0 8h0m8-3l1 0m9 2l-1 1m6-10h0m-190 20l0 1m1-3h0m4-2l1 2m-1 5h0m9-8h0m1 8l0 2m4-2h0m1-1h0m4-3h0m13 0h0m5-4h0m4 2h0m4 4h0m1 1h0m1 0l-2 2m6-6h0m2-3l-1 1m3 5h0m3-1h0m1-3h0m4 2l1 1m7 1l1 1m-1 1h0m13-2h0m2-9h0m1 10h0m1-9h0m2 6h0m11 0l1 1m0 1h0m1 1h0m3-4l-1 1m9 1h0m8 2h0m2-8h0m1 5h0m6-3h0m1 1h0m1 6l2 1m-1-10h0m4 4h0m1 4l1 0m5-9h0m1 9h0m3-6h0m8-1h0m1 8h0m7-10l-1 1m2-2h0m0 6h0m1-4h0m2 0l1 0m8 0h0m-180 20h0m2-3h0m3-6h0m13 2h0m1 5h0m3 3l2 1m11-9h0m2-2l0 2m5 8h0m6 0h0m7-11h0m0 3l0 2m3 3l-1 1m4-5h0m3-3l1 2m1 4h0m2 3h0m1-5l1 1m4 4h0m3-3h0m0 1h0m2 3h0m4-4h0m1-5h0m6 4h0m2-5l1 1m4 3h0m4 0h0m1 0h0m6-1h0m0 3h0m5 4h0m1-3h0m1-7h0m1-1h0m1 9h0m3 2l0 1m2-5h0m15-1h0m0 3l2 0m-1-9h0m3 3h0m1 3h0m5 3h0m3-7h0m0 2l0 2m0 0h0m3 1h0m3-7h0m0 8h0m1-7h0m5 8h0m10-8h0m2 9h0m3-4l1 2m2-4h0m1 3h0m2-5l2 2m-1 1l2 2m1 0h0m-189 15h0m1-4h0m0 4h0m2-3h0m1-4l-2 1m6 2h0m3 1h0m8-4h0m6-2h0m4 2h0m2-3h0m0 7h0m6-7h0m2 3l1 1m14 6l1 1m1-10h0m2 3h0m5 7h0m3-4h0m5-7h0m5 9h0m1-5h0m4 4h0m1-6h0m5 2h0m0 4h0m4-1h0m3-2h0m4-4h0m3 5h0m0 5h0m4-2h0m2-2h0m2-7h0m5 5h0m3 4h0m1-8h0m1 9l-2 1m3-6h0m0 5h0m11-8l0 2m2 3h0m0 2h0m9-5h0m10 7h0m4 0l2 1m-1-6h0m3-3l-2 2m4 4h0m7-7h0m1 6h0m1-1h0m11 3h0m2-6h0m1 5h0m-185 8h0m6 0h0m1 6h0m2-5h0m4-3h0m6 6h0m1-6h0m1 7h0m13-9h0m1 10l2 0m3-11h0m11 9h0m1-3h0m7-6h0m2 4h0m3 4h0m5 3h0m2-10l0 2m3 3h0m1-4h0m0 9l-1 1m9-9h0m2 1h0m1-3h0m2 2h0m5-2h0m1 10h0m2-3h0m15-4h0m2 0h0m8 2h0m1 5h0m3-5h0m4 5h0m13-5h0m5 1h0m4-3l1 2m5-1h0m4 0h0m0 4l2 0m2 0h0m1-4l-2 1m3-6h0m4 0h0m3 11h0m15-9h0m-193 17h0m3-5l0 1m0 4h0m7-5h0m9 3h0m1-4h0m3 1h0m0 2h0m0 7l1 2m5-7h0m8-5h0m1 3h0m1 2h0m3-1l-1 1m4-2h0m2-1h0m5-1l0 2m1 3h0m0 4h0m2-3h0m8-2h0m0 2h0m1 3h0m14-10h0m2 7h0m1-7h0m6 7h0m4-4h0m3-1l0 2m5 3l-1 1m2-6h0m5 2h0m16-5h0m1 6l0 2m3-8h0m0 9h0m2-2h0m4-2h0m4 0h0m7-4h0m1 9h0m3-8h0m1 2h0m0 2h0m2 1h0m6-1l0 1m4-1l-1 2m1 1h0m3-6h0m3 0h0m3 0h0m1 0l-2 1m11 5l1 2m0-2l2 1m-1-4l-1 2m5-3h0m0 5l0 2m5-8l1 0m1 1h0m2-5h0m0 2h0m-186 11h0m6 9l-1 1m9-2h0m3 1h0m12-8h0m0 5h0m1 1l-1 1m3-6l0 2m2 1h0m1-3h0m6 5l2 0m-1 2h0m5 0h0m5-10h0m2 3l-2 2m6 3h0m1-5h0m8 5h0m1-3l1 1m6 2h0m4-6h0m3 6l-1 1m3-2h0m1 2h0m6-3l0 1m5-7h0m7 6h0m3-6h0m5 3h0m2 5l0 1m3-1h0m7-6h0m1-1l-2 1m7 2l1 1m2 0h0m5-4h0m3 8l-2 1m4-6h0m2 4l1 2m4-9h0m2 0h0m3 6h0m1-3h0m2-2h0m5 8h0m7 0h0m2-1h0m3-9h0m6 8l1 0m0 2h0m5 0h0m-191 8h0m2 3h0m1-2h0m1-7h0m1 2l0 2m10-2l1 1m3-2h0m3 8h0m12-5l1 1m2 4h0m3-8h0m7 7h0m11-2h0m1 1h0m2-3h0m0 5l1 0m3 2h0m1-4h0m5 2h0m3-4h0m3 6l0 2m2-3h0m7-8l1 2m0-3h0m2 7h0m2-4l1 2m1-1h0m0 6h0m9-10h0m11 10h0m19-11l-1 1m1 7h0m2-8h0m3 8h0m2-4h0m1 1h0m0 2h0m4-6h0m0 10h0m2-1h0m6-6h0m4 0l0 2m2 2h0m3-3l1 1m2-5h0m7 4l-1 2m2 2l-1 1m4-1h0m5-2h0m2-6l-1 1m1 1h0m1 7h0m4-1h0m1-2h0m1 1l0 2m2-4h0m0 5h0m-192 10h0m6-1h0m19-1h0m1-7h0m7 10h0m3-8h0m2 2l0 1m1 6h0m7-6l-2 0m7-4h0m18 1h0m2 1h0m2-1h0m0 2h0m0 6h0m1-3h0m5 1l1 1m3-5h0m1-2h0m3 7h0m6-5h0m1-2l0 2m6 3h0m10 3h0m2-5l1 2m-1 3h0m8-3h0m2-3h0m1 4l-1 1m2-7h0m3 6h0m1 0h0m5 2h0m4-1h0m0 0h0m2-5h0m8-1l2 1m0-3h0m6 1h0m0 9h0m10-4h0m3 4h0m8-2l1 0m0-9l1 0m1 5h0m2-1h0m1 6h0m1-9h0m8 10l-2 1m-190 7l2 1m9-6h0m37 1h0m1 5h0m0 2l-1 2m11-9h0m2-2l-1 1m4 3l2 0m0 6h0m2-2h0m5-6h0m3 4h0m7 2l0 1m1 0h0m3-10h0m3 2h0m1 7h0m2-7h0m0 4h0m4-6h0m0 10h0m6-10h0m2 8h0m6 0l2 1m2-9h0m0 1h0m1 5h0m4-1h0m4 3h0m8-8h0m2 8h0m3-3l0 1m4-2h0m4-1h0m9 4h0m4 4h0m4-5h0m2-5h0m2 0h0m5 10h0m3-4h0m0 1h0m1-3h0m2 3h0m1-6h0m1 5h0m3 4h0m3-2h0m1-5h0m3 6h0m3 1h0m-185 9l1 2m8 0l0 1m4-7h0m15 0h0m31 0h0m11-4h0m2 10h0m0 1h0m32-5h0m0 2l1 1m2-8h0m0 5h0m5-2h0m2 0l0 2m1 1h0m2-6h0m1 7l2 1m-1-4h0m6-2h0m4-3h0m9 10l1 0m3-1l-2 1m3-7h0m0 5h0m4 3h0m4-7h0m2 4h0m2 3h0m2-5l1 2m10-5h0m0 8h0m1-2h0m3 1h0m2-3l-1 0m6-7h0m2 5h0m2-4h0m3 6h0m-193 9l-2 0m2 1h0m19 0h0m6 5h0m14-5h0m1 1h0m5-5h0m6 1l-2 2m9 5h0m2-2l-2 1m4-7h0m4 2h0m5-1h0m0 8h0m21-3l2 0m-1 1h0m1-4l-1 1m8 5h0m2-2l2 0m1-5h0m2 8h0m4-2h0m5-5h0m3-3h0m1 6h0m0 2h0m10-5h0m4 2h0m2-3h0m1 5h0m1-1h0m5-7l1 0m2 7h0m4 3l-2 1m3-11h0m0 8h0m3-3h0m7 4h0m12-5h0m2 1h0m5 6h0m1-10l-2 0m3 10h0m5-6h0m-181 10h0m7 2h0m1-1l1 1m10 5h0m19-1h0m5-4h0m4 4h0m1-3l-1 2m13 2h0m5-2l-1 2m2-4h0m15 0h0m10-5h0m8 10h0m2-6h0m5-5l0 1m1 7h0m16 0h0m4 3h0m2-8l0 2m0 4l1 1m14-8h0m3 1h0m5 7h0m3-1l1 1m4-10l-1 0m1 3h0m2 1h0m3-2h0m2 3l-1 0m2 0h0m10 2h0m1-2h0m8-1h0m-194 13h0m8-4h0m16 6h0m6-3l-2 1m2 2l-1 0m21 1h0m10-3h0m13-3l2 0m10 9l-1 1m11-11h0m13 8h0m7 2h0m7-10l1 2m4 7h0m2-5h0m6-3h0m2 9h0m4-4h0m2-4h0m7 0l2 2m0-5h0m0 7h0m1-2h0m4-3h0m3-1h0m1 6l2 1m4 0h0m6-5h0m8-1h0m0 4l0 2m1-2h0m2-5h0m0 5h0m0 4h0m7-4h0m1 0h0m1 5h0m-132 2h0m15 1h0m34-1h0m4 0h0m20 2h0m6-3h0m36 2h0m9-1h0m3 2h0m2-2h0" stroke="#6262c2" stroke-width="2.1" stroke-opacity="0.85" stroke-linecap="round" fill="none"/><path d="M27 2l-2 1m6 7h0m14-7h0m16 2h0m16 4h0m10 0h0m17 0h0m4-5h0m12-2l2 1m1 4h0m2-1h0m3 5h0m8-1h0m39-7h0m10 2h0m11 3h0m-173 12h0m35-7h0m51 7l1 2m1-9h0m1 5h0m39 2h0m8-5h0m3 4h0m3 3h0m1-1h0m16 1h0m3 1h0m7-7h0m-186 8h0m0 2l0 1m17 0h0m0 4h0m38-7h0m4 4h0m1 3h0m22 2h0m5 2h0m12-3l1 1m2-5l-1 0m11-1h0m8 2h0m4-3h0m15 2h0m21 0h0m3 1h0m8 5l0 2m1-6h0m-178 9h0m3-1h0m6 7h0m11-9h0m22 3h0m0 7h0m24-8h0m4 1h0m11 2h0m33-1h0m1 2l-2 0m12-1h0m4 2l-2 2m3-3l1 2m35-8h0m0 5h0m5 0h0m21-1h0m-188 17l0 1m31-6h0m2 0h0m16-1h0m13 4h0m5 2h0m1-6h0m5 7h0m5-3h0m1 2h0m9 2h0m2-5h0m5-5h0m14 4l2 1m10-5l2 1m3 2h0m5-4h0m6 1h0m0 10h0m1-11h0m10 11l0 2m4-11h0m1 3h0m14 6h0m-152 8l0 2m1 0h0m9-1h0m2 1h0m16-2h0m8-6h0m8 1h0m33 0h0m14 8h0m5-1h0m4-4h0m13 3h0m2 2h0m1-3h0m19-5h0m4 2h0m6-4l1 2m-1 9l1 1m2-10h0m-158 21l2 1m10-3h0m26 2h0m9-4h0m2 2h0m20-7h0m39 1h0m4 0h0m12 7l1 2m3-5l-1 2m1 2h0m4-7h0m10 7l-1 1m39-6h0m-159 14h0m36-3h0m34 5h0m3-2h0m3-4h0m22 3h0m4-7h0m1 7h0m15-7h0m1 2h0m9 9l-1 2m7-4l-1 1m9-7h0m6 1h0m1 1h0m13-4h0m-182 16l-2 1m3 1h0m17 3h0m13-9h0m14 2l2 1m-1 5l1 1m30-6h0m28 0h0m14-2l1 2m3 6h0m21-8h0m16 2h0m17 3h0m-165 5h0m44 2h0m12 8h0m3-2h0m17-4l2 0m9 2l-1 1m12-6h0m0 10l0 1m40-5l-2 1m13-1h0m17-1h0m4-1l0 1m-106 11h0m42 6h0m1-10l1 1m32 2h0m2 3l-1 2m3-4h0m0 4h0m3-9h0m4 4h0m0 4h0m1-6h0m-168 18l1 1m9-5h0m128 0l-2 1m5 5h0m11-5l-2 0m3 3h0m3 3h0m1-7l1 1m2 6h0m1-5h0m9-5l-2 1m7 2l2 1m10-5h0m-185 22h0m142-4h0m21 4h0m3-6h0m3 1h0m12 3h0m-34 5h0m25 5l2 1m0-3h0m0 6l1 2m5-6l2 1m-1-7h0m2 0h0m3 1h0m-153 11h0m126 1h0m2 0h0m18 0l-1 1" stroke="#3c3caa" stroke-width="2.6" stroke-opacity="0.9" stroke-linecap="round" fill="none"/></g></g></g>
<g transform="translate(239.6,231.0)" clip-path="url(#tc3)"><rect width="97.8" height="85.6" fill="#e8e5ef"/><g fill="#c2c2e6" filter="url(#hbl)"><rect width="97.8" height="85.6" fill-opacity="0.33"/><ellipse cx="15" cy="40" rx="18" ry="30" fill-opacity="0.05"/></g><g filter="url(#hbl)"><polygon points="70,-5 105,-5 105,40 90,50 84,75 78,95 28,95 35,74 50,58 62,38 66,18" fill="#dec6b2" fill-opacity="0.9"/><polygon points="84,-5 105,-5 105,30 92,28" fill="#d0ac92" fill-opacity="0.8"/><polygon points="90,45 105,45 105,95 86,95" fill="#ece6e6" fill-opacity="0.7"/></g><g filter="url(#hsh)"><polygon points="25,84 75,82 75,90 25,90" fill="#f6f4f4" fill-opacity="0.95"/><polygon points="90,80 105,76 105,90 90,90" fill="#f6f4f4" fill-opacity="0.9"/></g><rect width="97.8" height="85.6" filter="url(#htx)" opacity="0.18"/><g filter="url(#hdt)"><g transform="scale(.5)"><path d="M4 0h0m6 7l1 1m0 1h0m9-5h0m8 3h0m7-4h0m2-2h0m6 7h0m8 3h0m4-2h0m6-3h0m2-5h0m0 4h0m5 4h0m2 1h0m1-4h0m1-1l1 1m2-3h0m3 1l-1 1m2-4h0m4 7l0 2m13-7h0m9 3l-1 0m2 0h0m1 2h0m3-7l0 2m3-2h0m0 1h0m3 0h0m9-1l1 1m-1 5h0m1 0h0m2-4l-2 1m2 5h0m1-3l2 2m1-6h0m1-2h0m3 2h0m3 3h0m6 4h0m9 1h0m1-9h0m1 2h0m0 1h0m10-3l-2 1m5-1h0m7 9h0m9-8h0m5 8h0m3 0l-1 2m3-11h0m-194 15h0m0 4h0m4-4h0m1 5h0m3 0l2 2m-1-10h0m1 5h0m1 5l0 1m3-11h0m2 10h0m4-7l0 2m3-6l2 0m5 5h0m8 5h0m3-4h0m3-5l1 2m-1 6l2 1m-1-7l1 0m7 2l-2 1m3 0h0m2 3h0m6-6h0m2-3h0m1 0h0m0 2h0m0 7l0 2m3-3h0m7-8h0m3 11h0m2-6l1 0m-1 4h0m6-1l-3 0m7-5l-1 1m1 7h0m7-6h0m4-2h0m0 8h0m2-8h0m1 5l2 0m-2 3h0m6-10l-1 1m1 5h0m5 3h0m24-5l1 2m5 2h0m3-7l-1 1m2 0h0m11-1h0m5 3h0m3-2h0m2 2h0m2 1h0m2-5h0m0 1h0m4 2l0 2m3-5h0m1-1h0m3 9h0m3-8l1 2m1 1h0m4 2h0m-195 10h0m3 0h0m4 7h0m2-11l-3 0m3 7h0m7-7l-1 0m1 6h0m4-3h0m1-1h0m4 9h0m12-11l-1 1m1 5l-1 1m2 4h0m10-10h0m0 9h0m4-4h0m7-1h0m3-2h0m1-2h0m2 0h0m5 6h0m2 1l-2 1m5 2h0m6-5h0m3-2h0m1 5h0m6-9h0m5 6h0m5 1h0m1-1l-1 2m5 3h0m2-2h0m4-4l0 2m7 1h0m5 3h0m1-10h0m8 10h0m4-3h0m11-3h0m6-1l0 1m1 4h0m3-6h0m1 8h0m1-7h0m7-3h0m12 9h0m3 0h0m1-10l1 2m2 4h0m6-1h0m-186 17h0m1-1h0m2-8h0m3 8h0m0 2l-1 1m5-5h0m2 0h0m0 1l-1 0m5-4h0m5 5h0m6-8h0m15 9h0m1-9h0m4 9h0m6-6h0m8 6h0m3-7h0m0 3h0m6-4h0m0 1h0m1 8l1 2m1-11h0m8 5l-2 1m4-5l-1 1m1 7h0m6-3h0m4-2l2 2m4-5h0m0 2h0m0 4h0m1-5h0m1 3h0m1-2l-1 1m9-4h0m0 1h0m0 4h0m11-7h0m2 3h0m1 4h0m2-3l-1 2m8-3h0m4 3h0m13 2h0m2 1h0m1 1h0m15-2h0m4-1h0m8 0h0m7 0h0m1-3h0m-191 13h0m1-3h0m0 1h0m5 2h0m0 6l1 2m8-9h0m2-4h0m4 11h0m2-6h0m7 5l1 1m4 0l0 2m4-3h0m1-2h0m1-8h0m3 8l1 1m6-2h0m5-7h0m1 5h0m6 6h0m1-5h0m6-2h0m12 3l0 2m2-8h0m0 8h0m1 1h0m4-2h0m4 3h0m5-4h0m2 0h0m1 0h0m5-6h0m3-1h0m0 9h0m2-5h0m2-4l1 1m0 2h0m1 3h0m4-1h0m7-5h0m7 0h0m4 6h0m3 5h0m2-8h0m2 6h0m1-6h0m4 6l1 0m1-9h0m5 1h0m3 10h0m5-4h0m1 3h0m14-10l-2 1m12-1h0m0 8h0m-182 10h0m0 2h0m2-8l-1 1m3-1l1 1m6 1h0m9 3h0m0 4l0 1m8-5h0m1-4l-1 1m1 6h0m12 3l2 1m-1-3h0m1-5h0m0 2h0m1 3h0m6-3h0m0 1l-1 2m5-9h0m0 3h0m0 7h0m4-8h0m4 0h0m0 6h0m1-2h0m7-4h0m3-2h0m0 3h0m1 0h0m19 3h0m2-3l-1 1m2 2h0m1-6h0m2 3h0m0 8h0m1-9h0m1 6h0m2 0h0m3-8h0m0 9l1 2m0-9h0m1 0h0m0 4h0m15-3h0m7-3h0m16 10h0m1-4h0m1 4h0m1-10h0m2 1h0m0 6h0m5-7l1 2m1 6h0m1-2h0m0 3h0m5-5h0m1-3h0m1 6h0m4-3l-2 0m10 1h0m-179 12l-1 2m11 3h0m2-9h0m6 8l2 1m0-1h0m1-3h0m1-6h0m9 8h0m7 1h0m13-2h0m2-3h0m4-2l2 1m13-3h0m1 0h0m1 8h0m25-2h0m8 4h0m1-3l1 1m13-4h0m6 5h0m3-8l-2 1m2 1h0m7 5h0m7-8l-1 0m1 8h0m4-6l1 1m-1 2h0m1 1h0m1-6h0m5 3h0m1 0l-1 1m2-4l0 2m0 9l-1 1m2-1h0m25-2h0m2-5h0m-192 12h0m4 3h0m8-3h0m7-3h0m6 7h0m5-6h0m17 1l1 1m6 0h0m4-3h0m3 8l1 1m2-3h0m5-6h0m2 4h0m1 5h0m2-10h0m2 5h0m8-2h0m5 7h0m8-3h0m6 4h0m2-11h0m2 6h0m0 4l-1 2m4-11h0m0 2h0m2 1h0m3 7h0m1-5h0m3-4h0m2-1h0m4 7h0m2-8h0m2 3h0m10 7h0m2 0l1 1m6-8h0m3 5h0m15-6h0m6-2h0m0 1h0m2 5h0m12 5h0m5-4h0m1-1h0m-192 9h0m3-1l0 2m3 2l0 1m8 0l1 2m14 1h0m1-1h0m6-3l0 1m1-4h0m0 7h0m2-4l-1 1m2-3h0m2 4h0m0 2h0m1 0l1 0m2 0h0m11-9l-2 0m2 6h0m4 0h0m0 1h0m1-3l2 1m-2 5h0m2-2h0m3-8l1 2m8 8h0m4-2l0 3m3-1h0m10-4h0m7-1h0m3-3h0m2 7l0 2m4-2h0m1-10h0m4 2h0m2 6h0m3-8h0m3 4h0m5 1h0m3 0h0m11 3l-1 2m2-2h0m2 3h0m2-8h0m1 3h0m5-1h0m2 1h0m4 0h0m1-2l1 1m2-1h0m0 4l1 1m9-9h0m4 2h0m3 0l-2 1m2 8h0m6 0h0m6-4h0m-190 9h0m2 5h0m4-3h0m1-6h0m0 4h0m2-3h0m2 0h0m9 2h0m2 0h0m3-1h0m9 9h0m4-11h0m0 5h0m8-3h0m0 1h0m2 6h0m3-8h0m1 3l-1 2m10-6h0m0 3h0m0 8h0m2-10l-2 0m3 4h0m3 6l-2 1m9-6h0m7 1h0m2-6h0m2 5h0m5 1h0m2 0h0m2 3h0m17-1h0m17-5h0m1 0l1 0m5 4l0 1m0 1h0m3-7h0m8 5h0m1-7h0m1 5h0m8 1h0m5-4h0m1 0h0m0 4h0m4 4h0m4-4l0 2m8-8h0m0 3h0m7 6h0m1-10h0m1 11l2 1m2-5h0m-193 6h0m3 7h0m15-1h0m3 4l-2 1m3-11l1 0m4-1h0m9 5h0m7 2h0m4-2h0m7-5h0m0 5h0m8-4h0m2 6h0m1 4h0m12-7h0m4-4h0m1 10h0m6 1h0m2-1h0m2 1h0m3-9h0m2 8h0m3-9h0m1-1l1 0m-1 6h0m2 5h0m3-11h0m8 6h0m0 2h0m1-6h0m1 3h0m5-3h0m2 5l1 1m6 1l-1 2m14-11h0m2 2h0m2 7h0m9-6h0m0 5h0m11-5h0m1 5l1 1m4-6h0m0 6l-1 2m5-9h0m9-1h0m2 3l2 0m-2 1h0m1 3h0m0 2h0m-191 13h0m6-10h0m1 7h0m1 2h0m7-2l-2 2m3-9h0m4 7h0m3-8h0m2 11l-1 0m3-11h0m1 1h0m0 3l-2 1m5-1h0m6 0h0m2 0h0m7-2h0m1 5l0 2m0 1h0m3-5l-2 2m4 0h0m5-4l1 1m5 4h0m3-8h0m4 6h0m2 5h0m1-10h0m4 8h0m7-6h0m19 0l1 2m8 3l1 2m22-7l2 0m4 8h0m2-1h0m1-5l1 1m2-4l-2 0m2 4h0m3-6h0m2 9h0m6-2h0m1-2h0m0 3h0m3-5h0m3 8h0m1-8h0m5 0l0 1m10 2h0m2 0h0m1-2l-1 0m2 2l-1 1m4 4h0m-186 5l-3 0m4 4h0m2-8l1 2m-1 4l0 2m0 3h0m5-4h0m8 1h0m5-3h0m3-4h0m0 3h0m4 2l-2 2m4-7h0m0 2h0m4-3h0m0 7l1 2m0-1h0m2-2h0m3 3h0m7-2h0m6-4h0m2 0h0m11 1h0m0 6h0m3-5h0m4 1l2 0m10-6h0m4 10h0m6-8h0m2 1h0m2-3h0m2 0h0m9 5h0m9-3h0m3 4l0 3m5-5h0m6 0h0m2 2l1 1m9 1l1 1m0-3h0m2-5h0m14 8h0m4-2h0m2 3h0m2-3h0m6-5h0m3 6l1 1m-182 14h0m1-6h0m7-5l0 1m6 9h0m6-5h0m3-5h0m5 4h0m3-2h0m0 1h0m0 4h0m6-3h0m2 1h0m2 5h0m0 1h0m12-1h0m6-4h0m2-5h0m3 4h0m2 1h0m38-1h0m5-5h0m1 0l0 2m3 3l-2 1m34-5l2 2m1 2l-1 0m25 3l-2 1m9-4h0m7-2h0m1-1h0m3 1h0m1 4h0m-188 7l0 2m49-1h0m114 0h0m16-1h0" stroke="#8888d2" stroke-width="1.7" stroke-opacity="0.8" stroke-linecap="round" fill="none"/><path d="M0 5h0m1-4l-1 1m1 7h0m2-3h0m2 5h0m1-6h0m6 4h0m2-7h0m0 1h0m2 8h0m4-1l2 0m-1-3l1 0m1-5h0m1 5h0m0 2h0m5-8h0m2 2h0m5 8h0m2-3h0m1-8h0m0 10h0m1-6h0m1 4h0m1-6h0m2 2l2 0m1 1h0m2-4h0m0 4h0m2-4h0m0 6h0m3 3h0m1-7h0m1-1h0m4 5l0 2m2-1l2 1m-2 1h0m2 1l1 0m15-2h0m3-7l-1 2m2 0h0m2-1h0m1 0h0m0 5l1 1m1-6h0m0 8h0m2-10h0m3 4h0m6 1h0m2-1h0m3-1h0m3 2h0m7 5h0m2-8l2 0m-2 2h0m5 0h0m7-4h0m1 5h0m18-4h0m0 6l-1 1m2 0h0m0 2h0m3-5h0m8-5l-1 0m1 7h0m3-1h0m4-2l1 0m1-2l1 2m4-4h0m3 2h0m6-2h0m3 8h0m5-5l0 2m-191 17l-1 1m5-11h0m3 3h0m6 6h0m1-3h0m3-6l1 0m2 10h0m1-3h0m5-5h0m0 7h0m1-6h0m0 3h0m6 0h0m5-6h0m2 2l2 1m-2 2h0m0 2l0 2m3-8h0m3 5h0m6 0l1 1m2-4h0m6-1l0 1m2 6h0m2-5l2 0m3 1h0m1-4h0m2 9h0m1-4h0m0 2l-1 2m4-7h0m1-3h0m0 7l1 1m0-3l-1 2m4-8h0m1 8h0m2-2l-1 1m2-5h0m0 2h0m2-1h0m1 8l1 1m1-12h0m1 10h0m1-10h0m0 4h0m1-3h0m1 5h0m3-6h0m0 1h0m0 9h0m1-7l2 1m-2 5h0m5-7h0m3 7l-1 0m3-8h0m0 8l0 1m2 0h0m1-2h0m1 2l1 1m0-10l2 0m-1 7h0m1-4h0m1 2h0m2-1h0m3-4h0m2 3h0m2 4l-1 1m5-3h0m1-4h0m1-2l0 2m2 2h0m3-1h0m2 7h0m2-9l2 0m3 3h0m3-2h0m4 5h0m8 4h0m1-2h0m7-7h0m1 3h0m2-5h0m4 10h0m3-4h0m2-3h0m5 1l1 0m3 4h0m-187 12h0m5-1h0m1-6h0m1 4h0m0 6l2 1m-1-11h0m1 6h0m2-2l1 0m0-1h0m3-4h0m2 6l0 2m2-3l0 2m3-6h0m1 2h0m2-1h0m0 4h0m2-2h0m2-4l-2 2m4 4h0m0 5h0m1-7h0m0 5h0m4 1l0 1m1-1h0m2-10h0m0 8h0m2-4h0m2 0h0m2 5h0m4-9h0m0 4h0m1-4l1 2m-1 3h0m0 4h0m2-7h0m2 5h0m3-1h0m2-1h0m2 5h0m1-1h0m1-5l-2 0m9 7h0m8-7h0m5 7l1 1m0-2h0m1-9h0m1 4h0m3-1h0m1 5h0m4 1h0m2-6l2 1m0-1h0m14-4h0m0 6h0m0 2h0m1-7h0m5 7h0m2-3l0 1m5-2h0m4 1h0m1-3h0m3 3l1 0m1-3h0m1 2h0m1 2h0m5-2l-2 0m4-3h0m3 8h0m1-4l-2 1m4-1h0m4-3l0 1m14 1h0m1-3h0m1 5h0m2-2h0m6 2h0m3 2l3 0m-2-7l0 2m5 6h0m4-8h0m-193 11h0m1 8h0m4-8l0 1m2 1h0m0 8h0m3-6l-1 1m1 5h0m4 1h0m1-4l0 2m1 2h0m4-10l2 1m-2 3h0m3-5h0m1 9h0m2-6h0m1-3h0m5 7h0m4-7h0m0 5h0m1 3h0m2-5h0m0 4h0m1-4h0m1-3h0m1 10h0m1-4h0m6-6h0m1 2h0m1 4h0m3-2h0m1-1h0m1 4l-2 1m4-7h0m3 1h0m3 2h0m2 1h0m1 5l2 1m2-11h0m0 4h0m5-4h0m3 9h0m1 1h0m3-5h0m2-1h0m2 0h0m0 3h0m1-6h0m1 6h0m2 2h0m2-5h0m2 7h0m1-2h0m9-7h0m1 6l1 2m2-3h0m2 2h0m1 0h0m7-7h0m2 7h0m1-5h0m1-3h0m2 8h0m7-1h0m6 0l-1 0m4-3h0m4 0h0m0 5h0m3-9h0m0 5h0m1-1h0m3 3h0m1-4h0m8-4l1 1m-1 3h0m5 6h0m11-10l-1 1m2 10h0m1-9h0m1 1h0m4-3l-1 1m3 10h0m2-5l2 1m-1 1h0m1-5h0m4 1h0m-188 15h0m3-5h0m3 5h0m2-5h0m0 6h0m2-6h0m1 5h0m2 1h0m1-2h0m1-1h0m5-3h0m1 1h0m1 5h0m1-7l0 2m1 3h0m2-6h0m1 2l-1 2m1-3h0m1 8h0m4-2l-2 0m6-5h0m1 7h0m0 1h0m1-3h0m1-1l-2 1m3-6l2 1m-1 2h0m3 6h0m2-4l0 1m1-4h0m0 8l-2 1m5-9h0m3-3l0 1m1 7l-1 2m2-8h0m3 6h0m1 0h0m1-6l-1 0m2 3l1 2m6-3h0m1-2h0m5 1l0 3m2-5h0m1 3l1 1m3-2h0m2-1h0m0 4h0m1-2h0m2 3h0m1 2l1 1m0-9h0m2 5h0m3 5h0m2-1l2 1m0-8h0m2 4h0m8 1h0m0 2h0m1-10h0m1 5l2 0m-2 4l0 1m2-9h0m0 7h0m3-6h0m0 6h0m3-2h0m2-5h0m0 9h0m2-8h0m0 9h0m4-3h0m1-3h0m22 5h0m2-10l2 1m2 6h0m3-3h0m4-3h0m0 8h0m2-5h0m4 4h0m1 3h0m5-6h0m1 6h0m1-10h0m2-1l0 1m3 3h0m1-1h0m2 4h0m-189 11h0m2-2h0m1-2l-1 1m2 2h0m1-3l2 1m-1 0h0m1 0h0m5 7h0m2-8h0m0 1h0m1 3h0m1-1h0m1 4l1 1m0 1h0m1-7h0m1 1l1 1m-1 2h0m1 1l0 2m2-5l-1 1m1 4h0m1-2h0m5-8l1 1m2 1h0m0 3l2 0m-2 2h0m1-3h0m0 3h0m1-5h0m3-1h0m0 9l2 1m-1-1h0m3-4l2 1m2-3l2 0m-1 3h0m2-4h0m2-3h0m5 3h0m0 4h0m1-7h0m4 4h0m3-3h0m0 3h0m1-5l1 1m5 7l2 0m-2 3h0m8-9h0m3 3h0m6 3h0m3 0h0m3 0h0m2-1l-1 1m3-2l1 2m0-7h0m0 4h0m2-1h0m0 3h0m1-5h0m1 9l1 1m0-4h0m1-6l-1 0m3 8h0m7-3h0m0 3l0 1m3-8h0m1 6h0m2-1h0m4-7l1 2m2 6h0m3-4h0m2 3l2 1m6 1h0m2-8h0m2 5h0m4-6l0 2m0 1l-1 1m2 2h0m8-4h0m3 7h0m1-2h0m7 3h0m4-1h0m4-1h0m1 2h0m1-6h0m1 5h0m9-9h0m6 4h0m0 4h0m-193 13h0m1-10h0m1 11h0m5-10h0m0 8h0m3-8l-2 1m2 5h0m1 3h0m4-1h0m1-3h0m2-1l1 2m2 0h0m0 1h0m3-3l-2 0m3 4h0m1 1h0m2-10h0m6 6l-2 0m5-3h0m0 4h0m3-5h0m0 0l1 0m2 8h0m3-5h0m1-5h0m1 8l-1 2m2-10h0m6 10h0m1-4h0m0 2h0m1 0l-1 1m2-9h0m5 2h0m0 2h0m1 3l-1 0m4-3h0m1-4h0m1 8h0m1-6h0m2-1l-1 0m1 4h0m4-5h0m2 4h0m0 3h0m0 1h0m2 0l0 2m6-8h0m3 1h0m2 1h0m1 3h0m0 2l1 2m0-8h0m1 3h0m2 0l1 0m0-5h0m1 2h0m1-1h0m0 5l-1 0m3-2l-2 1m2 0h0m3-6h0m2 8h0m2 3h0m1-9h0m1-2l2 1m-2 2h0m7 0h0m2 8h0m2 0h0m2-8h0m2 7h0m4-9h0m16 7h0m1-2h0m1 4h0m3-10h0m0 2h0m8 8l-1 1m5-4h0m4 1h0m4-2h0m1 3h0m2 0h0m1-8h0m1 3h0m3 7h0m3-10h0m3 5h0m4 5h0m3-9l0 1m2-2h0m0 3h0m-192 14h0m0 3h0m3-8l1 2m0-3h0m4 10h0m1-4l2 1m-1-5h0m2 8l-2 1m5-6h0m0 5l2 1m3-11h0m1 5h0m0 4h0m2-7l2 1m-2 2h0m0 1h0m0 3h0m3-3l-1 1m3-7h0m3 11h0m1-4h0m2-5l1 1m1 7h0m1-1h0m2-7l-1 1m2-3h0m0 7h0m2-5h0m4 1h0m3 0h0m0 6l-1 1m2 1l1 1m0-10h0m1 6h0m2 3h0m1-3h0m1-5h0m0 5l-2 2m7-6h0m0 7h0m1-6l1 0m1 5h0m1-2h0m4-3h0m2-2h0m6 7l1 1m4-5l-1 1m1-1h0m1-5h0m1 10h0m2 0h0m1-9h0m1 1h0m0 5l-1 1m2-9h0m3 7l-2 0m2 4l2 2m0-8h0m2 3h0m0 2h0m3-10h0m0 10h0m15-3h0m7-4h0m4-3h0m3 2l-2 2m3 1h0m6 0h0m3-5h0m6 5h0m1-3h0m4 4h0m3 5h0m4-3h0m2-6h0m1 0h0m2 7h0m3 0h0m4-3h0m5-6h0m3 8h0m3-4h0m3 2h0m1 2h0m2-1h0m4-3h0m1 5h0m2-6h0m0 7l2 1m-194 6h0m1-4h0m1 6h0m1 3l-1 2m4-8h0m0 4h0m1 2h0m1-9h0m1 8h0m4-6h0m0 3h0m3-5l0 2m1 6h0m2-1l-2 1m9-4h0m4 0l-1 0m4-3h0m2 9h0m5-1h0m5-3l1 2m0-9h0m0 3l2 1m-2-2l-1 0m3 2l0 2m0 1h0m2 2h0m5-7h0m1 3h0m2 0h0m0 5h0m2-7h0m2 1l-1 1m4-4h0m0-1h0m4 3h0m1 2l2 1m5 1h0m0 2h0m0 2h0m1-4h0m5 0h0m3-7h0m1 2h0m3-2h0m2 5l-2 0m3-1h0m2 4h0m2-1h0m1 4h0m7-3l-1 1m3 1h0m4-8h0m0 2h0m4 3h0m2 4l2 1m1-6l-2 1m7-1h0m2 2h0m2-8h0m2 9h0m5-7h0m0 4h0m9-6h0m0 4h0m10-3h0m9 8h0m2 2h0m3-2h0m1-5h0m3 5h0m3-8h0m8 10h0m4-11h0m1 10h0m4-10h0m-194 21h0m1-2h0m1 1l-2 1m4-7l-2 0m7 8h0m3-7h0m1 4l-2 0m3 4l-1 2m4-2h0m2-3h0m4-1l-2 0m4-5h0m1 4h0m1-6h0m5 9h0m2-3h0m3-5h0m1 0h0m1 6h0m5-1h0m1-1h0m1-1h0m5 0h0m2 7l1 0m4-4h0m1-1h0m0 4h0m1-2l0 1m2-2h0m2-7h0m3 2h0m2 4l1 1m0-6h0m2 6h0m0 4h0m4-3h0m4-7h0m2 2h0m1 6h0m7-8h0m1 6h0m5-3h0m3 1h0m8-3h0m6-1h0m2 3h0m2 6l-2 0m12-8h0m8 2l2 0m-2 5h0m6 1h0m5-2h0m8 1h0m5-5l0 1m2-2h0m1-2h0m0 7l-2 1m8-2h0m1 1h0m1-5l1 1m3-3l-1 1m1 9l-1 2m3-13l1 1m0 2h0m11 5h0m5-7l1 0m-1 10h0m-192 7h0m0 4h0m3-5l-2 0m2 6h0m2-9h0m2 9h0m5-7h0m2-2h0m4 6h0m0 2h0m3-1l1 1m0-9h0m2 5h0m5-1h0m1 0h0m3 4h0m1-7h0m0 3l1 2m3 2h0m2-2h0m3 1l1 1m5-4l0 1m3 4h0m1-6h0m0 1h0m5 3h0m1-3h0m1-5h0m3 4l2 1m2-5h0m1 7h0m1 0l1 1m0 3h0m2-10h0m0 5h0m1 0h0m7-3l-1 2m1 5h0m4-10h0m3 7h0m2-7h0m3 7h0m1-3h0m1-2h0m11 3l-2 1m8-6h0m0 4h0m8 7h0m1-11h0m2 0h0m1 4h0m0 3h0m4-7l1 2m1-2h0m7 11h0m1-5h0m0 3h0m4-8h0m5-1h0m4 1h0m0 3h0m7 5h0m1-9h0m7 3h0m0 6h0m3-7h0m0 9h0m2-1h0m1-2h0m0 2h0m5-3h0m1-3h0m3 5l0 1m1-4l1 0m1-2h0m1-2l-1 1m8 1h0m1 5h0m-188 9h0m1-5h0m4 7h0m2-1h0m1-6l1 1m0 9h0m4-1h0m1-7h0m1-1l-1 1m3 4h0m0 1h0m2-3h0m0 4l1 1m0-6h0m2 3h0m0 2h0m2-5h0m0 2h0m1 1h0m6 4h0m3-3h0m1-3h0m1-4l-1 1m2-2l-1 1m3-1h0m0 5l-1 2m5 3h0m3-10h0m0 4h0m8-1h0m0 8h0m2-4h0m0 2h0m2-8h0m2 6h0m3 2h0m4 0h0m1-6h0m5-2h0m1 3h0m0 4h0m4-8l2 1m4 5h0m6 0h0m2-2h0m1-3h0m8-1h0m1 9h0m0 1l2 2m-1-12h0m0 3h0m6 3h0m1 0h0m2 0h0m4 2l0 1m3 0h0m4 0h0m1-5h0m2-2h0m3 0l-2 1m4-3h0m2 7h0m4-3l2 1m0 1h0m12-4l1 2m3-4h0m4 3l-1 2m4-4h0m3 0h0m4 3h0m0 6h0m1-5l1 1m0-1h0m2-4h0m0 10h0m2-1h0m1-10l0 2m2 9l1 0m3-7h0m0 1h0m1-5h0m1 3h0m3 4l-1 1m2-1h0m1-3h0m-194 13h0m3 6h0m1-2h0m1-7h0m2 7h0m7-3h0m2 1l0 2m1-5h0m2 5h0m2-9h0m3 8h0m2 0h0m8-5h0m2 4h0m2-4h0m4 6h0m3-8h0m1 10h0m2-2h0m4-8h0m1 1h0m5-2h0m2 4h0m3-4h0m2 2l-1 1m4-1h0m0 5l-1 0m3-4h0m1 1h0m0 3h0m2 2h0m1-8l1 1m3 1l-1 1m4 7h0m1-2h0m4-3h0m3-1h0m1-4h0m4 0h0m1 4h0m0 5h0m1-6h0m2-3h0m3 9h0m2-4h0m2 2h0m8-6h0m4-1l0 2m3 0h0m15-2h0m3 0l-1 1m5 0h0m15-1h0m4-1h0m7 0h0m2 9h0m2-8l-2 1m2 9h0m0 0l1 0m0-3h0m1-7h0m10 3l1 2m0 2h0m3-6h0m0 5h0m0 1l1 1m2-5h0m-190 16l0 1m1-9h0m1 6h0m2-2l2 1m0 0h0m0 4h0m1-5h0m1-2h0m0 7h0m0 1h0m3-3h0m4-2h0m1-5h0m0 7h0m3-7h0m2 2h0m0 7h0m1-7h0m0 7h0m7-3h0m2-6h0m1 8h0m3 0h0m1-2h0m7-6h0m2 9h0m1-6l-2 1m7-2l0 2m0 2l0 2m3-7h0m2 5l-1 1m4-3h0m2-3h0m21 1h0m15 0h0m3 0h0m14 3l1 2m10-7h0m30 1h0m2 4h0m6-3h0m0 9h0m14-3l0 1m3-1l-1 1m3-5h0m0 2h0m1 3h0m1-9h0m2 10h0m1-1h0m1-7l-1 1m1 7h0m5-1h0m-194 6h0m6-2h0m1 1h0m11-2h0m0 2h0m2 0h0m2 1h0m3-3h0m139 1h0m4-1h0m11 2h0m4 1h0m2-2l-2 1m9-1h0" stroke="#6262c2" stroke-width="2.1" stroke-opacity="0.85" stroke-linecap="round" fill="none"/><path d="M2 4h0m9-3h0m3 4h0m5-4h0m0 9l2 2m9-3h0m1-3h0m3-4h0m3 1h0m0 2h0m9-5h0m3 11h0m1-4h0m1-2h0m2 1h0m0 2h0m1-7h0m3 5h0m11 0h0m5-4h0m1 8l1 1m3-5h0m2 1h0m4 4h0m2-4h0m10-5h0m1 5h0m0 0h0m1-3h0m1-2h0m0 6h0m1 2h0m2-2h0m7-4h0m5 1h0m4 5h0m1-9l-2 0m7 0h0m3 6h0m1 4l-1 1m5-4l-1 1m29 2h0m-160 2h0m4 7h0m8 1l0 2m4-2l-2 1m7-8h0m6-1h0m1 8h0m1 2h0m1-11l-1 1m6 8h0m2 2h0m1-6h0m4 3h0m1 2h0m4-3h0m7-5h0m3-2h0m0 3h0m24-1h0m4 8h0m5-4h0m4-4h0m2 6l2 1m1 2h0m1-5h0m2-6h0m14 2h0m5 1h0m2 4h0m0 3h0m1-10h0m1 0h0m0 6h0m4-4h0m0 8l1 2m8-10l-1 1m1 6h0m1-3h0m3 1h0m6 3h0m4-10h0m11 2h0m12 7h0m4 0h0m8-4l-2 1m-184 15h0m2-3h0m4-5h0m10 9h0m1-7h0m0 2h0m4-1h0m2-3l1 1m4 9l1 1m2-3h0m5-5l0 1m4 2h0m5 3h0m2-9h0m0 3h0m2 1h0m2 4h0m4 0l-1 1m2 1h0m1-10h0m3 0h0m1 10h0m7-9h0m11 5l0 1m3-6h0m1 0h0m6 8l-1 0m2-1h0m2-8h0m0 5l-1 1m4-5h0m0 7h0m0-1h0m3-3h0m3-3h0m3 4h0m1-6h0m3 9h0m1-4l-2 1m5-3l-1 0m1 2h0m7 0h0m0 6h0m6-4h0m1-5h0m41 6h0m8-4h0m6-2h0m0 2h0m-181 9h0m0 4h0m2-2h0m0 2h0m1-5h0m0 9l0 2m2-8h0m5 2h0m1-4h0m0 6h0m5-3h0m2-2h0m7 3l1 1m2-6h0m1 10h0m1-4h0m3 2h0m0 0h0m3 2h0m1-9h0m3-1h0m3 2h0m1 1h0m2-1h0m1 3h0m4 2h0m1-7h0m2 2h0m1-1h0m0 6h0m0 4h0m5-7h0m1 5h0m2 1h0m6-10l-2 1m2 9h0m8-6h0m4 7h0m3-5h0m0 4h0m7-4h0m0 4h0m3-3h0m4-4h0m0 5h0m1 3l-2 0m4-7h0m1 1l-1 0m4 6l-2 1m4-10h0m0 5l2 0m1-2h0m1-3l1 2m3 4l-2 0m7-6h0m6-2h0m2 9h0m6-7h0m0 8h0m13 0h0m2-7h0m35 3h0m-185 10l1 0m0 5h0m1 2h0m1-2h0m3-6h0m0 7h0m4-8h0m2 3h0m0 6h0m0-1h0m1-1h0m6 2l1 2m3-13h0m1 8h0m1 0h0m3-1h0m1 3h0m3-6h0m1 6l-1 1m2-5l1 1m1-7h0m3 0l2 0m0 3l-1 2m3 1h0m2-5h0m1 10h0m1-7h0m9-3h0m3 3l0 1m0 3h0m1-3l-1 0m9-4h0m1 10h0m2-7h0m3-2h0m7 9h0m8-11h0m5 6h0m6-5l0 1m9 6h0m1-1h0m6-6h0m8 2h0m9 1l-2 0m17 6h0m3-8h0m1 1l0 2m8-1h0m3-2h0m2 7h0m10-4h0m-171 17h0m4-2h0m1-6h0m3 4l-1 2m2-4h0m2 6h0m3-9h0m6 4h0m1-1h0m3-3l-2 1m3 3h0m1 1l1 0m8-1h0m1-2h0m2 0h0m5 3h0m2 2l0 1m4-8h0m6 2h0m2-3h0m7 4l1 1m-1 3l2 0m6-6h0m0 8h0m1-3h0m7 1l2 1m2-9l-1 0m2 3h0m4 2h0m1-4h0m3 0h0m0 2h0m4 8h0m7-3h0m4-5h0m13 2h0m0 0l2 0m13 2h0m1-3h0m11-2h0m14 1l2 1m-165 8h0m1 9h0m2-3h0m1-2l-2 2m4 5h0m3-10h0m2 2h0m1-1h0m2 0h0m0 2h0m2 4l-1 1m2-5h0m0 1h0m3-1h0m5-4h0m3 11h0m2-9l0 3m0 1h0m1-6h0m7 9l-1 1m7-9h0m2 10h0m2-7h0m0 5l0 2m4-8h0m0 3h0m2-3l-2 2m8 1l1 2m5-2h0m5 3h0m2 0h0m4-3h0m7-6l2 0m-1 11l1 1m0-10h0m0 3l0 1m2-4l1 1m4 6h0m5-2h0m3-3h0m1 5l1 2m0-1h0m2-7h0m0 4h0m5-2h0m1-4h0m4 6l0 1m3-8h0m7 4h0m4 5h0m17-2h0m31-1h0m-176 12h0m1 3h0m0 1h0m1-9l1 2m-1 2h0m0 6h0m3-7l2 1m0-1h0m4 7h0m1-11l-1 1m3 0h0m3 0h0m1 2l-1 2m2 6l0 1m4-8h0m2-2l1 1m0 7h0m4-1h0m2-1h0m3 2l1 0m0-9h0m0 4h0m2 6h0m2-5h0m2 3h0m1-9h0m1 7h0m2 1h0m0 3h0m4-6h0m2-3l1 0m-1 4h0m9-4h0m4 4h0m1-5h0m7-1h0m0 3h0m2-1h0m3 7h0m5-3h0m6-3h0m1 0h0m0 5h0m4-3h0m7 1h0m29-5h0m37 3h0m2-1h0m15-2h0m-187 12l-1 0m4 9l1 2m0-3l1 0m1-5h0m3 7h0m1-7h0m0 2h0m3 4h0m1-9h0m5 0h0m2-1h0m1 11h0m1-6h0m0 1h0m2-6h0m3 5h0m1-1l0 1m1-5h0m0 1h0m3 5h0m1 5h0m2-9h0m2-1l-1 2m5 6l-1 0m4 0h0m5-2h0m3 2h0m2 1h0m1-6h0m2-4l-2 0m7 0h0m3 7h0m2 0h0m3-6h0m2 6h0m0 2h0m3-6l1 2m4-2h0m2 1l0 2m3-3h0m2 6h0m2-3h0m12-3h0m0 2l-1 1m1 4l0 1m2-9h0m19-1h0m14 10h0m16-1h0m37-8l-1 2m3 3h0m-192 15h0m2 0h0m1-5h0m1 5l-2 1m5-8h0m1-1h0m2 7l1 0m1-1l2 0m0-4h0m0 1h0m2-2h0m1 6h0m1-8h0m2 6h0m1-4h0m0 8h0m2-9l1 0m1 5h0m2-6l-1 2m1 7l1 0m0-7h0m0 8h0m3-9h0m3 9h0m1-3h0m1-4h0m2 5h0m2-4h0m0 6h0m6-10h0m2 5h0m3 5l-2 0m3-5h0m0 0h0m1-6l2 1m-2 6h0m3-1l0 1m0 1l0 1m9-5h0m2 5h0m4-5h0m1 3l2 1m1-4l-1 1m3-5h0m4 11h0m7-3h0m3-4l-1 1m12-1h0m1 1h0m16 2h0m0 1h0m2 0l1 1m6 1l2 1m13-5h0m8-5l-2 0m14 9h0m13-4h0m5 5h0m2-2h0m1-5h0m2 1h0m5-1h0m0 1h0m-190 9l-1 1m8-2h0m1 2h0m0 7h0m2-8l1 1m-1 5l-2 1m8-8h0m0 6h0m2-6h0m1 2h0m3 0l-2 2m2 1h0m4-5h0m2 9h0m2 1h0m1-2h0m2-5h0m1 5h0m5-6h0m1 6h0m4-4l-2 2m3 0h0m0 4l1 1m2-12h0m3 0h0m2 5h0m2-4h0m1 10h0m1-2h0m1-2h0m2 4h0m7-9h0m1 0h0m3 5h0m3-7h0m0 4h0m1 6h0m9-8h0m1 2h0m3-4h0m1 7h0m10 1h0m2-5l-1 2m34-3h0m42 8h0m6-2h0m3-8l0 1m0 3h0m1 2h0m4-4l1 2m1 1h0m-193 8h0m2 1l0 1m0 5l0 1m3-9h0m1 8h0m1-2h0m2-6l-2 0m3 6h0m5 1l1 0m0-6h0m5 2h0m4-2h0m5 9h0m1-9l-2 1m3 9l-1 0m2-6h0m6-5h0m1 6h0m4 0h0m1 3l-1 0m2-2h0m4-6h0m0 8h0m0 2h0m14 0h0m1-6l2 1m-1-6h0m0 3l0 1m1 7h0m1-9l-1 1m4-2l-1 1m6 4l0 2m23 0h0m0 2h0m12-3h0m6-4h0m1 7h0m17 0h0m32-9h0m12 4h0m6-2l2 1m-1 6h0m2 0l1 1m5-9h0m-193 11h0m1-1h0m0 3l-1 1m4-1h0m0 4l-1 1m5-2h0m0 5h0m4-2l-2 0m10-8h0m6 1h0m2-1h0m3 6h0m3-3h0m5-1l0 2m2-5h0m4 5h0m1-5h0m0 7h0m4-4l1 1m-1 6h0m7-2h0m0 3h0m1-3h0m0 2h0m2-4l0 2m3-5h0m8 8l2 1m17-8h0m11 3h0m28-6h0m33 4h0m12-2h0m0 6l-1 2m3-1h0m10-6h0m2 5h0m3-1h0m2 1h0m-193 7h0m3-2h0m4-2h0m3 4h0m0 6h0m1-8h0m11 5h0m0 4h0m1-6h0m3 5h0m4 1h0m1-9h0m3-2h0m0 1h0m6-1l-2 1m5 6l-1 1m2-3h0m1-2h0m1-2h0m2-1h0m8 4h0m9 0h0m99 0h0m4 7h0m3-11h0m3 8h0m2-7l2 1m0 1h0m1 8h0m1-8l1 1m3 7h0m6-3l-2 1m3-6l-1 1m4-4h0m-182 14h0m21 0h0m9-2h0m3 1h0m125 0h0" stroke="#3c3caa" stroke-width="2.6" stroke-opacity="0.9" stroke-linecap="round" fill="none"/></g></g></g>
<g transform="translate(345.0,231.0)" clip-path="url(#tc4)"><rect width="97.8" height="85.6" fill="#e4e2ee"/><g fill="#aeb0e2" filter="url(#hbl)"><rect width="97.8" height="85.6" fill-opacity="0.29"/><polygon points="18,6 28,6 54,34 80,58 72,64 46,44 14,18" fill-opacity="0.28"/><polygon points="82,34 105,34 105,68 82,64" fill-opacity="0.24"/><polygon points="-5,20 15,30 30,60 20,86 -5,86" fill-opacity="0.09"/><ellipse cx="51" cy="72" rx="7" ry="4.5" fill-opacity="0.35"/></g><g filter="url(#hbl)"><ellipse cx="62" cy="62" rx="8" ry="8" fill="#efe6e2" fill-opacity="0.5"/></g><g filter="url(#hsh)"><polygon points="54,48 63,50 70,56 73,64 69,73 59,73 54,64" fill="#f8f6f6" fill-opacity="0.95"/><polygon points="70,64 79,63 82,73 82,90 70,90" fill="#f8f6f6" fill-opacity="0.95"/><polygon points="37,72 44,70 52,76 57,80 58,90 37,90" fill="#f6f4f4" fill-opacity="0.85"/><polygon points="82,64 105,69 105,90 82,90" fill="#f8f6f6" fill-opacity="0.9"/><ellipse cx="64" cy="66" rx="5" ry="3" fill="#e8d2c4" fill-opacity="0.7"/></g><rect width="97.8" height="85.6" filter="url(#htx)" opacity="0.18"/><g filter="url(#hdt)"><g transform="scale(.5)"><path d="M1 11h0m2-6l0 2m3-4h0m3 3h0m7 1h0m1 4h0m2-5h0m2 4l1 2m0-9h0m3 4l0 1m2 3h0m3-7h0m1 3h0m4 2l0 2m1-8l2 1m-2 2h0m4-3h0m5 2h0m3 5h0m7-7h0m1 7l-1 1m3-1h0m3-8h0m0 8h0m4-1h0m1-3l-2 1m2 3h0m1-4l2 1m5 1h0m2 2h0m2-1h0m2-3h0m1 3h0m1-9h0m4 3h0m1-2l0 2m3 6h0m2-2h0m2-4h0m3 7h0m7-6h0m1-2h0m7 8h0m1-3l-1 1m5 0h0m5 2h0m4-1h0m4-5h0m0 4h0m4-4h0m5 1h0m3 2h0m3-1l0 2m1-6h0m0 6h0m3 0h0m1-1h0m3-5l2 2m4 0l0 1m4 3h0m2 3h0m4-1h0m3-8h0m1 9l1 0m1-4h0m1-5h0m1 8h0m2-4l1 1m0-5l1 2m0 3h0m4-5l-2 1m3 8l-2 0m3-8h0m1-3h0m1 10h0m5-3h0m0 2h0m-192 3h0m5 10l1 2m0-7h0m4 6h0m2-11h0m1 3h0m3 6h0m4-6h0m0 4h0m6-2h0m2-5h0m2 5h0m15-2h0m6-2h0m2 1h0m2 3h0m1 4h0m4-7h0m1 6h0m5-7h0m0 6h0m0 2h0m1-5l1 2m0 0h0m1-4h0m4 0l-1 1m1 4h0m6-5h0m4 1h0m3 1h0m1 1h0m2 2h0m1 4h0m3-6h0m4-5h0m8 10h0m4-4h0m2-4h0m0 6h0m1-5h0m1 8h0m3-2h0m2-7l-1 2m4-3l1 0m-1 10l1 2m1-4h0m2-6l-1 2m2 1h0m3-6l0 2m3 6h0m1-2h0m0 4h0m6-1l2 0m1-8h0m6 3h0m0 4h0m2-8h0m0 2l-2 0m5 3h0m1-3h0m0 2h0m0 4h0m1 2h0m2 1h0m1-3l2 1m1-9l-1 2m1 2h0m0 3h0m0 2l0 1m3-8h0m1 5h0m4-2h0m1-4h0m14 1h0m1 6h0m-185 7h0m0 5l-2 1m9-1h0m1-5l-2 1m2 0h0m7 2h0m2-3h0m4 3h0m3 3h0m2-7l1 1m-1 6h0m1-1h0m6-6h0m1 7h0m3 0h0m3 1l2 1m-1-7h0m0 3h0m1-5h0m0 4h0m7-6l1 2m1 5h0m1-5l-1 2m4-3h0m0 7l-2 2m8-7l2 0m5 1h0m1 5l1 0m0-7h0m3 6h0m3 3h0m3-9h0m7 0h0m2-2l0 2m3-2h0m1 5l-2 1m4-3h0m1 4h0m2-3h0m2-3h0m1 10h0m3-3h0m7-7h0m1 3h0m16 4h0m4 0h0m1-2h0m1 0h0m5-1h0m1-2h0m1-3h0m1 0l-2 1m2 3h0m4 0h0m1-2l1 1m0 2h0m2 2h0m0 0h0m3-5l1 2m1 3l-2 0m5 0h0m2-7h0m6 4h0m2 4h0m1-2h0m1-3h0m3-2h0m0 8h0m3-9h0m6 8h0m3-5l1 2m0 1h0m3-3h0m0 5l-2 1m5-3h0m1-4h0m1 8h0m-191 3h0m1 4h0m0 0h0m6 5h0m5 0h0m2-4h0m2-6h0m2 2h0m0 5h0m0 2h0m1-4l2 0m0 4h0m1 2h0m6-8h0m0 5l2 0m3 1l1 1m0 0h0m2-3h0m2-4h0m1-1h0m3 1l-1 0m9 4h0m7-3h0m1 4h0m1-5h0m2 7h0m2-4l2 1m5 0h0m2-3h0m5-4l1 2m5 6h0m3-5l2 0m-2 8h0m1-10h0m2 8h0m10-2h0m1 4h0m3 0h0m2-7h0m3-4l0 1m7 10h0m3-11h0m5 2h0m3 7h0m1-7h0m4 6l0 2m8 0h0m5-2h0m6-4h0m1-2h0m9 8l1 1m4-6h0m0 6h0m4-1h0m1-9h0m1 3l-2 1m3 6h0m5-3h0m1-7h0m1 10h0m6-8h0m3 4h0m1-7h0m2 4h0m-194 16h0m2-7h0m0 8h0m2-4l0 2m1-7h0m5 6l-1 2m2-3h0m0 4h0m1-1l1 1m0-6h0m2 3h0m5-5h0m0 7h0m2-5h0m3-2h0m2 0l1 2m-1 2l-1 0m4 6h0m1-8h0m0 2h0m1-4l0 1m2-1h0m1 6h0m1-1h0m3 2l-2 0m5-8h0m3 2h0m4-2l2 1m-2 9h0m11-4h0m2 5h0m5-3h0m2-3l-1 2m4-5h0m1 5h0m1-7h0m5 1l-1 1m5 5h0m5-3h0m1 5h0m3 2h0m4-11h0m1 5l3 0m9 4l0 2m1-3h0m4-3h0m1 6h0m1-6h0m1 5h0m1-4h0m3-6h0m0 6h0m1-4h0m0 1h0m2 6h0m7-6h0m1 2h0m14 0l-1 1m6-1h0m1 5h0m2-4l-2 1m3 0h0m6-5l-1 1m2 3h0m0 5h0m4-5h0m0 4h0m8-9h0m0 0h0m0 2h0m6 5h0m4-4l1 2m-1 5h0m1-6h0m2 2h0m2 4l-2 1m5-11h0m3 6l0 2m-194 9h0m1-6h0m0 10l0 2m2-9h0m8 5h0m2 2l0 1m1-11h0m0 9h0m2 1h0m11 0h0m2-10l0 1m1 2h0m2 6l-3 1m8-10h0m5 0l-1 2m2 5l-1 1m5-3h0m1 6h0m1-1h0m11-9h0m1 8h0m1-4h0m18-3h0m3 2h0m0 4h0m7-7l0 2m1 4h0m8-7l1 1m-1-1h0m2 5h0m0 3h0m1-6h0m4-2h0m0 6l-2 0m3 0h0m8 1h0m6 1h0m1-8h0m2 6h0m7 3h0m4 1h0m1-3h0m2-5h0m1 0h0m1 8h0m2-6l2 2m0-5h0m0 9h0m5-7h0m4 5h0m1 3l2 2m3-11l0 2m2 6h0m6-7h0m3 2h0m0 3l1 1m0-5h0m1-4h0m8 4h0m5-2h0m6 1h0m1-2h0m1 4h0m-193 7h0m6 0h0m3 3h0m2 8h0m3-8h0m3 3h0m6-6h0m0 4h0m7-1h0m0 6h0m7 2h0m3-9h0m0 6l-2 0m5-6h0m0 8h0m1-6h0m3-3h0m0 5h0m5-6h0m0 8h0m1 2h0m1-3l1 1m7-8h0m1 5h0m3 0h0m3-4h0m2 0h0m1 5h0m9 1l2 0m-1 1h0m2-8l-1 1m5 8h0m1 0h0m7 1h0m5-3h0m4 3h0m2-5h0m10 5h0m4-7l-2 2m5-3h0m6 9h0m1-6h0m1-3h0m1 3h0m6 0h0m0 2h0m3-7h0m0 4l1 0m-1 6h0m4-7h0m2 8h0m4-2h0m3 0h0m1 2l0 1m3-12h0m1 0h0m0 11h0m9-9h0m0 1l0 1m2-4h0m2 10h0m6-9l1 1m1 8l1 2m2-10h0m3 7h0m2 0h0m-189 10h0m6-2h0m3 4h0m1-6h0m1 3h0m4-4h0m1 3h0m3 5h0m1-1h0m6 0l1 1m5-10h0m0 7l2 1m1-4h0m3 4l-1 1m2-7h0m3 4l1 0m-1 5h0m2-5l2 2m0 0l1 1m1-5h0m0 5h0m2-9h0m2 1h0m0 5h0m0 5h0m4-2h0m7-4h0m1-5l-2 0m2 8h0m1-3h0m7-4l-1 1m1-2h0m3 4h0m1 7h0m3-5h0m2-1h0m9-5l2 1m-2 8l-1 1m4-1h0m2-6h0m1 8h0m11-10h0m0 4h0m4 6h0m6-5h0m1-6h0m0 11h0m2-2l-1 0m2-5h0m2 1h0m2 1h0m4 0h0m13-4h0m0 3l-1 2m1 2h0m0 1h0m2-6l-1 1m5 1l-1 2m2 0h0m1-5h0m2-2h0m1 4h0m3-1h0m2 4h0m4-6h0m4 9l-1 0m5-4l1 0m0-1h0m2 5l1 1m5-2h0m3-9h0m2 6h0m4-3h0m1 3h0m0 4h0m-186 2h0m0 6h0m0 0h0m7-7h0m2 3h0m4 1h0m0 5l2 1m0-5h0m3 4h0m3-6h0m5-2l0 2m0 4h0m4-2h0m2-3h0m1 5h0m1-7l-1 0m3 4h0m2 7h0m1-8h0m2 3h0m0 3h0m3-8l0 2m3 4h0m2-4h0m0 4h0m4-7h0m2 2h0m4 9h0m1-5h0m8 3h0m3-7h0m0 2h0m2 5l-2 1m4-7h0m4-2h0m5 3h0m3 5l0 2m1-4h0m6-5h0m1 5h0m2-6h0m1-1l0 1m3 1h0m5 6h0m2-2h0m6-5h0m2-1l2 0m-2 6h0m9-6l-1 1m7 0h0m4 7h0m6 0h0m3 1h0m3-5h0m4 2h0m0 0h0m2 2h0m4 2h0m10 1h0m2 0l-1 2m4-3h0m1 1h0m2-9h0m1 1l1 1m1-4h0m1 3h0m3 2h0m3 5h0m2-4h0m-190 12h0m1-5h0m0 2h0m2 3l2 1m-1 3h0m5 0h0m2-8l-1 1m6-3h0m4 9h0m1 1h0m2-1h0m1-3h0m6-2h0m4-1h0m0 4h0m2 4h0m2-9h0m1 9l1 2m1-5h0m4-8h0m0 9h0m4-7h0m4 1h0m3 4h0m1-3l2 1m5-3h0m0 8h0m1-10h0m1 8h0m2-4h0m1-3h0m1 0h0m2 4h0m1-1h0m3-2h0m1 4h0m3 4l-1 2m5-3l0 2m1-9h0m0 4h0m12 5h0m3-11h0m25 1h0m8 0l2 2m-2 0h0m5 0h0m4 1h0m3 3h0m4 0h0m1 4h0m2-10l-1 2m2-1h0m2 3l0 2m3 0h0m2 3h0m4-4h0m6 1l-1 1m8-3h0m4 1l0 2m3-3h0m0 1l1 1m0 1h0m3-7l3 1m-193 17h0m2-7h0m1 6h0m6-5h0m3 3h0m7-2h0m0 6h0m3-4h0m1 6h0m1-4h0m5-5h0m2 8l-2 1m3-7l-2 1m2 2h0m1 2h0m3-3h0m6 2h0m0 2h0m1-3h0m2-5h0m11 1h0m8 9l-2 0m4-2h0m10-3h0m4 3h0m7-5h0m3-1h0m1 5l2 0m-2 2h0m1-6h0m2 4h0m3-6h0m3 6l1 1m6 1l-1 2m2-2h0m40-4h0m6-1l-1 1m9-4h0m2 6h0m5-6h0m2 7h0m1-4h0m1 4h0m2 0h0m0 2l1 1m1-7l-1 1m16-1h0m2-5h0m1 10h0m-190 13l0 2m3-12h0m3 0h0m5 2l2 1m-1 5h0m7-1h0m2-1l-2 0m6-6h0m1-1h0m4 4h0m2 1h0m4 1h0m4-6h0m1 0h0m4 7h0m1-7h0m0 8h0m1-4h0m0 2h0m4 1l1 1m3 0h0m2-2h0m9 2h0m2-8h0m2 11h0m2-4l1 2m2-3l1 2m2-7l0 1m9-2h0m7 2h0m0 7h0m4-9h0m4 10h0m3-6h0m0 2l1 2m61-8h0m-168 19h0m4 1h0m11-3h0m0 4h0m1-1l-2 1m6-9h0m7 7h0m4-6l0 2m1 0h0m3 2h0m1-5l-1 2m3-1h0m0 6h0m1 0l2 1m-1-4h0m5-2h0m2 5h0m0 4h0m3 0l-2 1m3-7h0m2-4h0m5 8h0m9 0h0m1-6h0m4 0l0 1m16 3h0m5-5h0m7 8h0m3 0l0 2m3-7h0m0 5h0m1-7h0m4 5l2 0m0 0l1 0m1-1h0m2-1h0m1 4h0m1-8h0m2 7h0m9 0h0m2 0h0m-135 5h0m2 2h0m10 7h0m8-10h0m5 1h0m0 8h0m9 0l-2 1m4-7h0m0 5h0m6-7h0m3 3h0m7-4h0m0 8h0m17-6h0m0 8h0m1-4h0m1-6l2 1m35 1h0m3 7l2 2m4-2h0m3 1l-2 1m5-6l2 0m-2 2l-1 2m10-10h0m1 9h0m2-4l-2 0m-110 8h0m3 2h0m14 0l-1 1m10-4h0m5 0h0m10 2h0m3-2h0m2 3h0m4 0h0m41-3h0m23 0h0" stroke="#7a7ed0" stroke-width="1.8" stroke-opacity="0.8" stroke-linecap="round" fill="none"/><path d="M1 0h0m1 4h0m2-2l1 1m2-2h0m4 5l0 1m4 3h0m1-2h0m2-1h0m0 1h0m2-5h0m4 5h0m0 3h0m3-5l1 0m3-4l2 2m-2 6h0m1-1h0m1-3h0m1-4h0m2 4h0m1 5h0m4-6h0m2-4h0m4-1h0m3 0h0m0 9h0m1-6h0m0 3h0m0 1h0m2-5h0m1 4h0m1 0l1 0m0-6l2 0m0 5h0m3-2h0m0 6l-1 0m9-6h0m1 4h0m0 3h0m9 1h0m4-7h0m1 6l1 0m0-4h0m2-3h0m3-1h0m4 9h0m2-7h0m7 6h0m3-4h0m2 5h0m2-6h0m1 2h0m2-5l3 0m2 3h0m1-4h0m1 2h0m1-3l-2 0m3 6h0m1 3h0m3-6h0m1-1l-1 1m2 8h0m3-9l-2 0m5 8l1 1m0-2h0m1-7h0m0 9h0m1-2h0m1-7h0m1 2l2 2m0-4h0m1 1h0m1-3h0m4 2h0m1 4h0m3 0h0m1-2h0m1 4h0m3-6h0m1 7h0m0 1h0m1-8h0m7-1l0 2m2 4h0m1-5h0m1 2l0 2m0 0l2 0m0-3h0m2 6l0 1m2-3h0m3 1h0m3-4h0m3-3h0m0 8h0m1-1h0m6-2h0m-189 13h0m2-4l0 2m0 2l-2 1m3 1h0m1 1h0m1-6l2 2m1 0h0m3-6h0m3 6l1 1m3 0h0m1-7h0m1 8l0 2m2-6h0m0 3h0m0 4h0m1-9h0m1 4h0m2-2l-2 0m6-3h0m0 7h0m3-8h0m0 3h0m1-3h0m1 6h0m1 4l-2 2m4-8l0 1m0 1h0m0 1h0m2 1h0m1-6h0m0-1h0m1 5l-2 2m5-8h0m1 2h0m1 7l-2 2m4-7h0m1 1h0m1 4h0m2 1h0m3-7h0m1-1h0m3 1h0m0 2l0 1m0 4h0m1-7h0m3 6h0m1-7h0m2 8h0m2-2h0m2-8h0m0 0h0m3 10h0m2-6h0m8 5h0m0 2h0m1-2h0m4 1h0m3 1l2 2m-1-9h0m0 4h0m4 0h0m2 3h0m1-11h0m0 3h0m3-2l1 1m0 8h0m3-10h0m6 2h0m2 4h0m1-2l-2 1m2-2h0m3 7l2 0m4 1l-1 2m2-9h0m0 6l2 1m0-7h0m0 1h0m1 5l0 2m2-10h0m0 4l1 2m1-4h0m5-1h0m3 4h0m1 1h0m1-2h0m8 1h0m6-7h0m2 10h0m3-9h0m1 8h0m1-7h0m0 6h0m2 0h0m2-3h0m0 0l-1 2m1 4h0m2-2h0m4-3h0m3 2h0m1-4l1 1m2-3h0m0 3l0 1m3-1h0m1 4l-2 1m5-4h0m3 5h0m2-10h0m0 6l-1 0m-190 5h0m1 1h0m0 4h0m4 2h0m4-4l-1 1m2 4h0m1 2h0m4 1h0m1-3h0m1-4h0m1 5h0m2-9h0m1 4h0m2-2l2 1m-1 8h0m2-8h0m2-2h0m1 2h0m2 3h0m1-1h0m0 0l0 1m4-4l1 1m4 0h0m0 5h0m1-4h0m1 7h0m1-10h0m2 2l-2 1m2 2h0m0 1h0m2-7h0m1 5h0m1 1h0m0 5l2 1m0-12h0m1 5l2 0m-1-1h0m0 4h0m1-6l1 1m-1 8h0m1-7l-2 1m4 1h0m0 1h0m2-5h0m1 8l-1 1m2-10h0m2 7h0m1-6h0m0 3h0m1-1h0m1 7h0m2-5h0m0 4h0m1-1h0m1-8h0m1 2h0m0 3h0m3-4h0m2 5l0 2m3 0h0m1-3h0m3 4h0m1-2h0m2 2h0m2-2h0m1 3l1 1m1-8h0m0 5h0m6 1h0m2-3l0 1m5-1h0m4 1l1 1m1 1h0m1-7h0m2 6h0m4-2h0m1 4h0m4-7h0m11-3h0m4 8h0m1-4h0m6 5h0m1-9h0m3 4h0m5-5h0m3 8h0m1 3l-1 1m3-7h0m1-2h0m1-1h0m0 4h0m0 2h0m3-4h0m6 3l2 0m0-3h0m0 1h0m0 6h0m1-10h0m2 7l-2 1m4-7h0m2 8h0m4-3h0m1 3l-1 1m3-8l0 2m0 0l1 1m0-4l-1 1m3 6h0m1-1h0m-194 11h0m2 4h0m1-5l1 0m2-1l-1 2m4-4h0m0 6h0m3-2h0m3-6h0m2 3h0m0 4h0m0 3h0m3-7h0m0 3h0m1 4l1 1m3-11h0m1 3h0m3 0h0m0 1l-1 2m1 1h0m6-8h0m1 2l-2 1m2 4h0m1-5h0m2 8h0m2 0h0m2-2h0m1-5h0m1-2h0m0 0l2 1m-1 5h0m1-6h0m1 6h0m1-7h0m0 3h0m1 0h0m0 4h0m1 2h0m1-9h0m0 3h0m4-3l-1 1m1 9h0m3-6h0m1-4h0m0 5h0m0 6h0m2-3h0m1-7h0m3 3h0m3 0h0m0 6h0m3-9h0m1 7l-2 1m4 0l0 1m2-6h0m0 6h0m1-2h0m2-8h0m0 10h0m1-4h0m1-3h0m1 5h0m1-8h0m2 5h0m6-3l2 2m-2 7l0 3m5-14h0m1 0h0m0 8h0m0 3h0m1-6l1 0m1-4h0m2 2h0m1-2l0 1m0 7h0m1-6h0m0 2h0m1 4h0m3 1h0m2-7l-1 2m3 6l1 1m1-8h0m4 2h0m3 2h0m3 3h0m13-1h0m2-3h0m2 1l2 0m0 2h0m8-7h0m1 3h0m2 4l-2 1m7-3h0m3 1h0m1-8h0m3 1h0m1 2h0m1-2h0m1 0h0m1 7l1 1m2-1h0m2 1h0m1-7h0m3-3h0m0 3h0m2-3h0m1 8h0m1-3h0m2-1h0m1 1h0m0 3l-2 2m3 0h0m3-6h0m1 5h0m2 1h0m-193 5h0m1 1h0m3 5h0m1-8h0m0 5h0m2 0l0 2m2-8l0 2m2-2l0 2m1-1h0m1 8l1 1m0-9h0m0 3h0m0 6h0m2-8h0m0 9h0m1-2h0m2-5h0m3 6l2 0m-1-6h0m0 3h0m2 4h0m2-8h0m3 5l2 1m4-6h0m1-1h0m0 5l2 0m-1-5h0m3-1h0m2 5h0m3-5h0m0 3h0m1 2h0m0 3l-2 0m4-2h0m2-7l1 1m0 5h0m0 5h0m1-10l-1 2m2 2h0m1 6l-2 1m3-3h0m1-2h0m1-2h0m2-4h0m1 0h0m0 2h0m0 2h0m0 2h0m2-7h0m1 7h0m0 2h0m2-8h0m2 1l-1 1m4 1h0m0 6l-1 2m3-4l-1 1m3-7h0m1 5h0m2 2l-1 1m5-9h0m0 7h0m1 2h0m2-8l-1 0m5-1h0m1 5h0m2 3h0m5-9h0m0 5l1 0m0 3h0m1-6h0m4-1h0m0 9h0m4-9h0m2 0h0m0 10h0m1-5h0m4-4l1 2m1-3h0m7 3h0m0 3h0m3 2h0m1-2h0m1 0l0 2m2 0l-1 2m3-2l0 2m5-4h0m1 0h0m2 4l0 2m14-9h0m0-1l-1 0m2-1l1 2m-1 6h0m1-10h0m9 9h0m4-4h0m8-2h0m1-1h0m1 2l0 2m0 1h0m2-6h0m2 4h0m2-3h0m4 5l0 2m3 0h0m-189 11l1 1m0-4h0m2 2h0m2 4h0m1-5h0m1-6h0m1 7h0m2-2h0m1 0h0m1 2h0m1-2h0m1-4h0m1 3h0m1 5h0m1-5l0 3m0-2l0 1m3-3h0m1 5l1 2m1-5l1 1m0-4l1 0m-1 8h0m2-4l-2 0m3-4h0m1 8h0m2-10h0m1 3h0m1 8l-1 1m2-10h0m1 7h0m2-1h0m2 3h0m6-10h0m2 2h0m1 3h0m1-5h0m3 2h0m0 5l0 2m1-9l2 0m-2 10h0m1-5l2 1m0-6l1 2m-1 4h0m1 1h0m1-3h0m2-2h0m2-2h0m1 5l-1 1m2-3l1 2m-1 1h0m1-5h0m0 9h0m1-9h0m4-1h0m0 5h0m1 2h0m3-7h0m1 1h0m1 9l0 2m1-4h0m1 1h0m5-9l-1 1m3-1h0m0 3h0m0 2h0m1 0l2 0m-2 5h0m2-1h0m1-2h0m1-7l1 1m-1 6h0m3 3h0m1-6h0m1 0h0m1-1h0m5 2h0m3 2h0m1-8h0m2 5h0m1 6h0m1 0h0m1-10h0m4-1l-1 1m1 5h0m4-4h0m1 3h0m2 0h0m7 2h0m1-6h0m0 3h0m2-4h0m0 8h0m3-4h0m3 2h0m1 0h0m2 3l-1 2m4-8h0m9-1h0m3 5h0m11 2h0m0 1h0m4 0l-2 1m11-4h0m1-5h0m0 9h0m1-11h0m0 8h0m2 3h0m1-5h0m2 2h0m0 3h0m2-9h0m1 4h0m-192 10h0m0 4h0m4-2h0m3-2l1 2m-1-1l2 1m3 2h0m2-7h0m0 9l-1 1m3-1l-1 2m3-10l-1 1m1 5h0m2-5l2 2m-1-3h0m0 5h0m2-7h0m3 11h0m1-4h0m1-5h0m0 3h0m1-1h0m1-2h0m3 1h0m1 3l-1 1m1 2l-2 0m3-4h0m0 6h0m2-4h0m0 3h0m2-6h0m1 3h0m3-1h0m5-1l-2 1m3 5h0m3-7h0m5 7h0m4-11h0m0 10h0m1-2h0m1-6l0 2m0 0h0m3-2h0m0 1h0m0 6h0m4-3h0m1-3h0m0 6h0m6-7h0m1 0h0m2 2h0m0 1h0m2 5h0m2-6h0m1-4h0m0 5h0m2-1h0m0 4h0m2-4h0m2-2h0m1 3l-1 1m3 4h0m1-5h0m1-3h0m3-1h0m0 3h0m1 1h0m2-4h0m1 1h0m1 1h0m0 5h0m1-6h0m0 7l1 2m0-6h0m2 3h0m1 3h0m1-1h0m1-4h0m0 5h0m1-10h0m2 2h0m1-2h0m1 9h0m0 1l0 2m1-7h0m1-5l1 1m2 2h0m1-4h0m0 8h0m2 2h0m1-2h0m1-3h0m1 5h0m1-9l-1 0m2 8h0m1-9h0m0 1h0m0 10h0m8-1l2 1m2-10h0m1 4l-1 1m2-5h0m4 5h0m5-1h0m4 1h0m4-2h0m3-4l2 1m-1 2l1 1m1-2h0m0 5h0m2-5l1 2m0 5l-1 0m2-9h0m0 7l2 0m-1-1h0m0 3h0m3-1l-1 2m2-6l-2 1m3 4h0m2-9l2 1m-2 6h0m5-5h0m1 4h0m5 0h0m1-2h0m0 7h0m1-11l-2 1m2 4h0m1-2h0m1 2h0m-195 7h0m3 2l0 2m2 1h0m1 3h0m1-4h0m2 4h0m2 2h0m1-9h0m0 4l0 2m1 1h0m0 3h0m2-5h0m1-4h0m0 7h0m7-9h0m1 3h0m2 6l1 0m1-8h0m0 6h0m1-6h0m2 5h0m0 2l-2 1m3-8h0m0 8h0m1-6h0m0 7h0m8-4h0m1-6h0m1 3h0m2-2l0 1m5 4h0m1 0l-2 0m2 2h0m1-4h0m5-1l-1 2m6 6h0m1-9h0m0 9h0m2-6h0m0 6h0m2-8h0m1 8h0m2-3h0m2-3h0m1 3l2 0m-2 3l2 1m-1-10h0m1 1h0m0 3h0m3 4h0m3-5h0m0 6h0m3-7l0 1m3-4h0m1 2h0m2-2l-1 1m1 0h0m3 5h0m3-1l2 1m-1-7h0m2 1l-1 1m1 5h0m1-4h0m2 5l-1 1m4 1h0m1-6h0m1 2h0m0 3h0m0 1h0m2 0h0m1-4h0m1-3h0m0 5l0 1m1-7h0m0 5h0m2-2l1 2m0-5h0m1 3h0m1-2h0m1 2h0m2-5h0m0 10h0m2-6h0m1-4h0m2 4h0m1 5l1 1m0-4h0m1-6h0m3 1h0m3 3l0 1m1 0h0m0 3h0m1-2h0m1-4h0m1 0l0 1m0 1h0m1 6l1 1m0-9h0m0 1l-2 0m4 8h0m6-8h0m1 7l-2 0m4-10h0m0 3l1 1m5-4h0m4 9h0m4-6h0m3-1h0m0 3h0m1-1h0m1 2h0m2-4h0m0 4h0m0 5h0m3-8h0m0 8h0m1-6h0m1-5h0m1 6l-1 1m2-6h0m0 8l2 1m0-6h0m1-2h0m0 9l1 2m1-9h0m0 3h0m1-6h0m0 4h0m8-1h0m0 5h0m1-2h0m1-1l1 2m-195 12h0m1-2h0m3 2h0m0 2h0m0 0h0m2 0l-2 1m3-10h0m5 4h0m0 4h0m3-5h0m0 1h0m0 5h0m6-8l0 2m0 6h0m2 0h0m2-2h0m1-2h0m5 2h0m1-5h0m2 8h0m1-4h0m2-6h0m0 9h0m1-6h0m2 6l1 2m0-3h0m3-3h0m1-5h0m0 3h0m4-4l0 1m2 0h0m0 5h0m1-3l1 1m0 6h0m1-7h0m1-3l-1 0m1 7h0m4-2h0m1 3h0m3-4h0m3 6h0m3 1h0m1-5h0m3 3h0m1-3h0m3 5h0m2-5h0m2 0l1 0m4-4l0 1m2 6l2 0m3-7l1 1m1 2h0m1-4h0m4 0h0m2 2h0m3-1h0m4 5h0m11-3l-1 1m4-5h0m2 0h0m0 3l2 1m-1-4h0m0 7h0m1 2h0m2-4h0m2 2h0m2-2h0m0 6h0m3-5h0m1-3h0m0 5l1 1m1-7h0m1-2h0m1 9h0m1-8l0 3m2-3h0m0 4h0m2-4h0m1 4h0m1 6h0m3-9h0m0 8h0m1-1l-1 0m2-9l-1 0m1 4h0m0 7h0m2-7l0 2m1 4l-1 2m3-9l2 1m-1-3h0m4 2h0m0 3l2 1m0 2h0m1-5h0m2-2l1 0m-1 0h0m1-2h0m0 7h0m0 1h0m1-2h0m0 3h0m1-6h0m3 2l1 2m-1 2h0m3-8l2 1m0 6h0m2 2l-2 1m3-3h0m0 2h0m1-4h0m2-6h0m0 1h0m1-1h0m1 2h0m1 5l1 0m1-5h0m0 4l-1 1m2 1h0m1 0h0m-191 15l1 1m1-6h0m1-6h0m2 4l0 1m1-5h0m4 1h0m1 9h0m3-2h0m1-5h0m1 1h0m2-2h0m1 3l2 1m-1-5h0m0 2h0m4 1h0m2-1l2 1m-2 2h0m0 3h0m1-9l-2 0m2 3h0m0 8h0m1-3h0m5-7h0m0 2l2 2m-1 1h0m0 1h0m3 4h0m1-8h0m1 3h0m2-5l2 1m-2 9h0m5-3h0m2-5h0m2 5h0m1 3h0m0-1h0m3-1h0m3 1h0m1-8l-2 1m3-3h0m0 6h0m1-2h0m2 0h0m0 1h0m2-1h0m1 3h0m0 4l-1 2m2-11l2 1m0 6h0m6-2h0m6-7h0m2 4h0m2-3h0m1 8h0m2 0h0m2 1l2 1m1-10h0m0 10l1 1m0-1h0m5-5l2 0m0-3h0m0 7h0m1-5h0m1 6h0m2-8h0m2 3h0m21 1h0m1-6l1 1m1-1h0m0 2h0m2 2l-2 1m3 0l1 2m1-8h0m0 4h0m1-4h0m2 1h0m2 1h0m1 7h0m1-3l-2 1m3-2h0m0 3h0m3-5h0m3-2h0m0 8h0m1-2h0m1-4l1 2m0 5h0m2-1h0m3-8h0m1 2l-2 1m2 7h0m1-4h0m2-3h0m2-4h0m0 3h0m0 4h0m0 3h0m2-3h0m3-7h0m0 7l-2 1m4-5h0m0 2l-1 2m2-5h0m0 8h0m1-7h0m1 8h0m1-2h0m0 2h0m1-10l2 1m-2 4h0m1 2h0m0 3h0m1-11h0m3 9h0m2-5h0m1 6h0m2-2h0m1-5h0m1 4h0m2-4h0m1 5h0m1-3h0m1-3h0m0 5h0m0 3h0m-193 3h0m2 1l-2 1m3 0l-2 1m3 7l1 2m1-7l2 0m1 2l1 1m2 1h0m1-3h0m1 1l0 2m4-10l-2 0m2 7h0m2-2h0m0 5h0m1-10h0m0 8h0m2-8h0m2 8h0m1-5l1 0m1-2h0m1 2h0m3-3h0m1 0h0m0 9h0m2 1h0m1-1h0m5-8h0m2 9h0m1-7h0m1-1h0m0 7h0m0-2h0m2 0h0m1-6h0m0 8h0m1-6l-1 1m3 4h0m1-7l-1 0m2 8h0m1-3l0 3m8-3h0m1-2h0m1 1l-2 1m9-5l1 2m-1 0h0m1 6h0m2-7l-1 0m2 7l1 1m-1 0h0m2-1h0m3-9h0m0 3l1 2m0 0h0m2-4h0m0 9h0m1-8h0m0 1h0m0 2l1 0m7-4h0m1 3h0m0 6h0m2-3h0m2-2h0m2-5l-2 0m3 6h0m1 0h0m3 1h0m0 2h0m4-1h0m36-7h0m8 3h0m4 0l-2 1m3-4h0m1 3l1 2m1-2h0m3-1h0m0 3h0m0 5l-1 2m4-13h0m0 0h0m1 6h0m0 3h0m1-6h0m5 2h0m1 2h0m1-3h0m2 0h0m1-2l-2 0m3 5l0 2m1-8l0 1m2-2h0m0 7h0m1 0h0m0 3h0m1-4h0m0 2h0m3-8h0m1 0h0m2 7h0m1-5l2 1m-2 6h0m2 1l-1 2m2-4l1 1m-196 5h0m1 8h0m2-3h0m1 2h0m1-5h0m1 4h0m3 1l-2 1m5-10h0m0 4l-1 2m1-2h0m0 1h0m0 3h0m2 3l1 0m3-9h0m0 1l1 2m-1 1h0m0 5h0m5-1h0m3 1h0m1-4l-2 1m2 3l2 0m-1-7h0m1 5h0m0 2h0m2-9h0m1 4h0m0 2h0m6 1h0m1-8h0m3 7h0m2-3h0m0 3h0m1-2h0m1-3l-2 1m4 2h0m2 1h0m2 3h0m8-8h0m0-1h0m0 10h0m5-9l-2 2m4-2h0m1 3l1 1m0 3h0m3-2l2 0m0 4h0m5 0h0m1-10l1 1m0 9h0m4-4h0m1-5h0m0 1l2 1m-2 4l-1 2m1 0h0m1-3h0m1 0h0m2-5h0m0 6h0m1-4h0m0 1h0m0 6l-1 1m3-2h0m1-2h0m1-3h0m1-2h0m0 3l-1 0m1 4h0m2-9l1 1m0 2h0m1 2h0m1 4h0m1-4h0m1-3l-2 0m2 5h0m2-7h0m1 2h0m0 4h0m0 2h0m8 0l-1 0m1 2h0m62-11h0m16 2h0m-190 11h0m0 10h0m1-10h0m1-1h0m0 3h0m2-2l-1 2m3-2h0m2 0h0m1 7h0m1-6h0m1 7h0m0 1l-1 2m3-2h0m2-9h0m1 4l-2 0m4-4h0m1 4h0m1 6l1 1m2-6h0m1 4h0m1-3l-1 1m1 0l1 2m1-7h0m1 2h0m3-2h0m1 3h0m1-6h0m0 11l0 2m1-7h0m0 4h0m5-8h0m0 5h0m2-7l-2 0m3 0h0m1 10h0m1-8l-1 2m2 4h0m1-7h0m1 8h0m1-6l-1 1m1 1l2 1m-1-4h0m3 7h0m1-9h0m0 0l2 0m-1 11h0m2 0l2 2m0-11l1 2m1 2h0m2-3h0m3-3h0m0 3h0m2 5l1 2m0-10h0m0 7h0m1-5l1 0m2 0h0m4 0h0m8 0h0m7 2h0m1-4h0m0 3h0m0 8l1 1m5-11h0m0 4h0m1-1l-1 1m1 1h0m0 5h0m1-11h0m0 1h0m1 8h0m3-4h0m4 3h0m1-3h0m1-3h0m4-2l1 0m9 7l0 2m4-1l0 2m1 0l-2 0m-129 6h0m1 3h0m2-1h0m1-5l0 3m2 3h0m1 4h0m3-5h0m0 3h0m1-4h0m0 5h0m3-4h0m1 5h0m1-5h0m2-4h0m1 5h0m2 0l-2 0m3-2h0m1 6h0m2-8h0m3 2h0m0 0h0m0 5h0m1-4h0m2-5h0m1 6h0m0 3h0m1-2h0m4-8l-1 1m2 9h0m2-8h0m1 6l-1 0m2 2h0m1-6h0m2 5h0m0 2l2 1m-1-12l0 2m5 2h0m4 7h0m2-9h0m0 4h0m2-3h0m1 2l0 1m1 0h0m2-4l-1 1m5 4h0m6-2h0m30-4l0 2m2-2h0m13 6h0m3-7h0m2 3h0m3 1h0m1-1h0m1 4l-2 2m10-1h0m1-6h0m0 5h0m-136 5h0m1 3h0m2-3h0m10 2h0m3-1h0m0 2h0m10-1h0m5-1h0m4 1l0 2m1-3l1 2m1-1l0 1m3-3h0m5 1h0m2 2h0m13-3h0m3 3l1 1m5-4h0m57 0h0m3 3h0" stroke="#4a50c0" stroke-width="2.2" stroke-opacity="0.85" stroke-linecap="round" fill="none"/><path d="M3 8h0m1 2h0m3-4h0m1-2h0m2 0h0m0 3l1 2m0-8h0m4 1h0m4-2l-2 0m3 1h0m1 9h0m4-1h0m1-8h0m3 1h0m1 9h0m8-11h0m2 9h0m2 2l0 2m1-9h0m1 2h0m1 5h0m2-6h0m2 6h0m1-8l0 2m1 6h0m4-3h0m9-3h0m6 4h0m14-4l-2 0m5 2h0m30-2h0m6 1l1 1m2 4h0m2-9h0m13 3h0m2 3l0 3m1-1h0m5-6h0m0 6h0m1-8h0m7 4h0m5 0l0 2m3-2h0m1 4h0m3-2l-1 0m4-2h0m13-1h0m3 1h0m3-3h0m-189 12h0m6 5h0m4-4h0m1 2h0m5-4h0m4 9h0m5-3h0m2-7h0m0 5h0m1-3h0m0 6h0m2 2l2 1m-1-6h0m1 5h0m1-5h0m2-5h0m1 3h0m2-3h0m1 5h0m1-2h0m1 7h0m0 0h0m3-2h0m0 2h0m3-1l-1 1m2-7l0 2m0 0h0m3-5h0m0 2l1 2m-1 3l1 1m3-2l1 1m1-4h0m0 7h0m2-3h0m2 3h0m4-8h0m4 1h0m6 2h0m1 2h0m1-8l1 1m-1 6h0m4-4l0 2m14-1h0m23 6h0m1-8h0m17 1h0m6 1h0m3 3h0m0 4h0m2 0l1 1m0-11h0m6 9h0m5-9h0m13 4l-1 2m2-7l-2 0m3 2h0m1 6l-1 1m4-7h0m9 2h0m4 0l-2 1m4-1h0m-194 15h0m2-3h0m7 1h0m1-4h0m1 6h0m5-3h0m0 4h0m10-1h0m2 4h0m4-2h0m3-1h0m0 2h0m1-8h0m1 2h0m2 3h0m1 1h0m1-7h0m2 10h0m2-2h0m3-9l1 0m1 3h0m0 8l0 2m1-5h0m2-5l-2 1m10-3h0m0 3h0m1 3l-1 1m1-1h0m2-4h0m2 6l0 2m3 0l2 0m-1-5l0 1m2-2h0m6-1l2 1m2 6h0m7-8l-1 1m3-1h0m7 5l0 3m6-8h0m2 7h0m1-2h0m25-8h0m6 1l1 2m4 3l-2 2m4-4h0m2 7h0m16-4h0m1 4l-2 0m8-9h0m1 6h0m2-8h0m4 7h0m0 3h0m8-1h0m5 1h0m2-6l1 1m-192 11h0m0 1h0m4 6h0m1-3h0m4-6h0m2 0l0 2m0-1h0m2 5h0m5 0h0m4-5h0m1-3h0m2 8h0m1-7h0m0 4h0m0 6l0 3m1-13l1 1m3 0h0m0 8h0m1-9h0m0 8l1 2m1-8h0m2 2l0 1m3-5h0m1 6l1 0m0 0h0m3-2h0m0 2h0m1 4h0m3-11l1 1m-1 5h0m6-6h0m0 6h0m1-3h0m0 4h0m2-1h0m1-6h0m1 1h0m3 6h0m1 3h0m2-10l1 0m0 7l1 2m-1-1h0m1-6l-2 1m2 7h0m2-9h0m0 7h0m1-1h0m1-3l-1 0m2 7h0m1-11h0m0 6l-2 1m3-7h0m2 7h0m0 1h0m3-5h0m1-1l1 1m-1 6h0m0 2h0m1-6h0m2 0l1 2m-1 4h0m1-10h0m3 8h0m1-2h0m5-1h0m1-2h0m3-2h0m1 2h0m1 4l0 2m18-5h0m1 4l-1 2m2-5h0m3 1h0m0 4h0m11 0h0m18-2h0m4-1h0m1-5h0m5-3h0m3 7l-1 2m6-6h0m5 4h0m9-6l-1 2m4-3l-1 2m5-1h0m0 2h0m-184 12h0m0 6h0m6 2h0m4-7h0m4-2h0m5 1h0m2-1h0m1 7h0m1-3h0m5 3h0m6-6h0m2 7h0m2 0h0m1-2h0m4-8l-1 0m1 3h0m1 8l-1 1m2-7h0m0 5h0m2-8h0m1 3h0m0 4h0m3-9h0m3 8h0m4-7h0m0 2h0m4 3l-2 1m2 1h0m1-4h0m0 7h0m4 0h0m2-1l1 1m0-8h0m1 4h0m1 3h0m2-5h0m3-4h0m0 4h0m2-1h0m0 5l-1 1m3-10h0m0 6h0m0 5h0m1-5h0m2-3h0m1-2h0m0 6l1 2m0-4h0m1-2h0m2 3h0m0 5h0m1-2h0m2 2h0m6-4h0m7-5l1 0m0 2h0m5 4h0m3-1h0m5-5h0m13 9h0m14-10h0m7 2h0m12 3h0m7 3h0m4 1h0m1-4h0m3-3h0m5 2h0m-192 16l-2 1m4 1h0m1-11h0m3 4h0m1 1h0m1-5h0m0 3h0m1 6h0m1-5h0m3-3h0m0 10h0m4-6h0m3 1h0m2 4h0m2-5h0m7 1l0 1m1 1h0m4 1h0m7 1h0m2-1h0m1-5l-2 2m3-1h0m3-3h0m0 6h0m2-1h0m6-1h0m0 4h0m1-7h0m0 8h0m2-7l-1 0m3-2h0m2-2h0m0 4h0m1 5h0m0 1h0m1-1h0m2-4h0m0 5h0m1-6h0m1 0h0m1 6l2 1m0-7h0m0 2h0m1-6l2 1m-1 3h0m0 2h0m2 2h0m0 3h0m2-7h0m1-4h0m0 3h0m2 4l1 1m0-2h0m1-5l-1 2m2 6h0m2-7h0m4 2h0m2-4h0m0 11h0m1-10h0m0 2h0m0 0l1 1m-1 4h0m2 1h0m3-5h0m2 6l-2 1m4-8h0m1 8h0m2 0h0m3-2l-1 1m4-6l0 2m0 3h0m2-2h0m0 3h0m5-1h0m8-1l-3 0m10-8h0m0 11h0m6-9h0m5 4h0m4 2h0m10-6h0m8 3l0 1m6 2h0m1-6l2 1m0 1h0m0 4h0m3-1h0m3 0h0m6-3h0m1 2h0m3 3h0m-193 8l-2 1m5-5h0m1 1h0m0 4h0m0 1l-1 1m1 2h0m1-10h0m1 3h0m2 7h0m1-1h0m0 1l-1 1m3-2l1 0m0-7h0m0 5h0m1-4h0m0 2h0m4 2l-1 1m2-8h0m1 8l0 2m1-8h0m1 8l2 1m0-2h0m4-8h0m2 8h0m1 2h0m6-7h0m2-4h0m1 9l1 1m2-7h0m0 3h0m3 0h0m2 2h0m2 0h0m1-1h0m1-5h0m1 1h0m3 1h0m4-2l2 1m0 1h0m2 7h0m8-8l1 2m2-5h0m0 6h0m0 3h0m2-4h0m1-2h0m1 4h0m0 3h0m4-6l1 2m0 3h0m3 2h0m1-11h0m2 2h0m0 5h0m6 0h0m2-3h0m0 2h0m1-6h0m2 11h0m1-1h0m1-6h0m0 2h0m5-3h0m0-1l-1 2m5-1l-2 0m3-2h0m2 8h0m0 2h0m2-6h0m1 4h0m2 0h0m12-7h0m3 1l-1 2m3-1h0m2 2h0m0 1l0 1m6 1h0m3-2h0m5-6h0m0 3h0m6 5h0m2-2l0 2m1-1h0m3-4h0m0 7h0m2-1l-2 0m3-3h0m0 1h0m0-1h0m1 4h0m1-8h0m6-3h0m1 2h0m1-1h0m0 2l2 1m-2 3l-2 0m2-1h0m0 5h0m3-2h0m1-6l2 0m0-2h0m0 6h0m0 1h0m1-3h0m0 2h0m2-7h0m1 3h0m4 5h0m1-8h0m2 0l-1 1m1 8l0 2m-195 2l1 0m3 7h0m1-8h0m4 10h0m6 0l2 1m0-8h0m1 5h0m3-5l2 0m0 0h0m2-2l2 0m4 6h0m5 2l2 0m0-8h0m1 0h0m0 3h0m3 0l-1 2m2 3h0m0 1h0m3-7l0 1m5-2h0m6 6h0m2-4h0m0 3l0 2m6-7h0m4-2h0m1 0h0m6 9h0m10-9h0m5 0h0m2 0h0m1 3h0m0 3h0m2-4h0m1 6h0m1-7l-1 1m4 7h0m1-7h0m0 5h0m1-1l0 1m1-6h0m0 2l2 0m-1 5h0m1-7h0m7 6h0m0 3h0m1-2h0m1 0l2 1m1-1h0m4-2l1 1m0-5h0m0 7h0m3-9h0m0 11h0m2-8h0m2 7l-1 1m2-1h0m1-6h0m0 4h0m0 3h0m2-9h0m0 5h0m6-2h0m0 4h0m5 0h0m2-8h0m0 6h0m5-1h0m1 4h0m1-3h0m1-7h0m0 8h0m2 3h0m2-8h0m0 2h0m2 2l-1 1m4-2l-1 2m1 1h0m2-6h0m0 7l0 1m1-3h0m0 3h0m2-1h0m1-8h0m1-2h0m2 1h0m0 7h0m3-6h0m0 7l-2 0m4-6h0m2 8h0m2-5h0m1 4h0m4-2h0m1-6h0m1 5h0m0 2h0m1-7h0m3-2h0m1 0h0m1 2h0m-194 10h0m0 1h0m0 2l1 1m4 1h0m1 1h0m3 3h0m0 2h0m1-9h0m1 0h0m1 9h0m10-11h0m0 5h0m1 2l1 2m0-4h0m4-5h0m2 3h0m0 7l2 0m1-7h0m4 4l2 1m-1-6l-2 0m4 0l-1 0m4 7h0m0 2h0m3-11l2 2m-1 1h0m0 6h0m6-7h0m9 0h0m0 6h0m3 1h0m1-7l-1 0m2-2h0m1 9h0m4-6h0m3 8h0m2-7l1 0m2-3l2 1m3 6h0m3 2h0m3-10l-2 0m4 3h0m6 5h0m2 1h0m1 2h0m1-10h0m1 8l1 2m3-10h0m4-1h0m2 1l3 0m-2-1l1 0m7 4h0m1 2h0m2-6h0m1 3h0m3 4h0m1-4h0m1-1h0m0 3h0m3-1h0m0 3h0m2 3l-1 1m2-9l2 1m0 0h0m1 0l-1 2m1 0h0m0 2h0m3-1l-1 1m2 3h0m1-1h0m3-5h0m4 4h0m2-7h0m2 0l1 1m4 0h0m0 4l-1 1m3 2h0m2-8h0m1 4l-2 0m2 6h0m5-7h0m2 3h0m1-5h0m0 1l0 1m1 4h0m8 3l0 2m1-9h0m2 1h0m1 3h0m1-4h0m3-2h0m1 1h0m1 5l-1 1m-192 4h0m0 2h0m2 5h0m1-6l-1 1m1 0h0m2 8h0m1-1h0m1-4h0m1 3h0m3-3h0m1-3h0m4 4h0m3-3h0m1-4h0m0 7l0 2m2 0l2 1m-1 1h0m8-9h0m0 5l2 1m-2 0h0m0 3h0m6-2h0m7-8h0m0 5h0m0 4h0m1-7h0m1 4h0m4-2h0m1 3h0m4-4h0m1-3h0m0 8h0m4-1l-1 2m3 1h0m10-4h0m11-3h0m3-4h0m0 11h0m5-3l0 1m4-2h0m1 3h0m7-9l-1 1m35-2h0m2 7h0m1 0h0m3-7l2 0m-2 10h0m4 0h0m4-4h0m1 4h0m1-3h0m1-3h0m2-3h0m2 7h0m2-1h0m2 2l-2 0m5-7l-2 1m3 1l-1 2m2-2h0m0 6h0m3 1l-1 0m2-5h0m1-5h0m5 2l2 1m0 0h0m1-3h0m0 4l1 2m1-6h0m1 6h0m3-6l1 1m2 9h0m1-2h0m1-5h0m-193 19h0m6-11h0m2 6h0m1-1h0m2-3h0m0 9l1 2m0-7h0m2-4h0m3 3h0m0 5h0m1-5h0m0 3h0m8-5h0m2 4l1 0m-1 1l2 1m5 2l1 1m0-12h0m1 1h0m0 2l0 1m1 3h0m1-3l1 1m1-1h0m2 6h0m3-4h0m1 5l-1 1m3-12h0m0 11h0m2-1l1 2m1-6l1 1m-1 4h0m5-7l0 3m1-6h0m1 6h0m2-6h0m0 9l-1 1m5-9h0m6 8h0m1-6h0m1-3h0m1-1l1 1m2 5h0m4 4h0m5 1h0m13 0h0m2-9h0m1 9h0m40-10h0m7-1h0m3 1h0m5-1h0m1 1h0m8 6h0m1-3h0m2 2h0m3-6h0m5 6h0m1 4h0m1-2h0m0 3h0m2-8l1 1m1 0l2 1m-1-4h0m0 1h0m1 2h0m2 4h0m1-2h0m1-3h0m0 3h0m0 4h0m-188 8h0m2-4h0m3 5h0m1-2h0m1 0l-1 0m3 5l-3 0m8-10h0m0 1h0m0 6h0m1 1l-1 2m3-9l0 1m0 4h0m1 4h0m4-9h0m0 2h0m5 0h0m1 2h0m3-2h0m1-3h0m3 1h0m1 10h0m2-11h0m2 1h0m1 2h0m7 8h0m4-2h0m1-6l1 1m0-2h0m1 4h0m1 1h0m6-5h0m1 3h0m1-2h0m0 5l-2 2m7-8h0m3 2h0m0 2h0m3-5h0m0 6h0m15-1l2 1m-1-4h0m0 4h0m1-5h0m2 4l0 1m2 2h0m3-5h0m3 3h0m1 4h0m4-3h0m3 0h0m2-1h0m79-6h0m-192 14h0m4 6l1 1m1-4h0m1-6h0m0 6h0m0 4h0m2-7h0m2 4h0m1-4l1 1m-1 1h0m2 4l-2 1m4-6h0m2-1h0m4-2h0m0 6h0m1 0l2 0m-2 4h0m2-1l1 1m0-9h0m1 1h0m3 2h0m0 6h0m0-1h0m1-8h0m3 7h0m1-5h0m1 6h0m3-8h0m1 7l-2 0m9-6l-2 1m2 2h0m7 3h0m8 1h0m3-5h0m3-3h0m13-2h0m9 6l1 0m3-4h0m1 5h0m2-4h0m5-2h0m5-1h0m0 4l1 1m0-5l-1 1m4 7h0m0 3l-1 2m4-9h0m0 7h0m1-6l2 1m-1-4h0m2 6h0m0 2l2 2m0-4h0m-118 13h0m2-8l1 1m3 0h0m2-2h0m0 4l-1 2m2-4h0m1 7h0m3-5l1 1m1 2l-1 2m5-8h0m1 3l-1 1m1 3h0m3 1h0m1-8h0m2 10h0m2-6l0 2m1-6h0m1 3h0m2 0h0m1 1h0m3 0h0m1 6h0m5-5h0m4 3h0m5 2h0m2-2h0m5-9h0m1 0h0m1 7h0m1 0h0m1-7h0m1 7h0m2-1h0m53 1h0m7-7l3 0m1 4h0m-125 11h0m7 0h0m2-2h0m4 1h0m1-2h0m1 2l1 2m6-2h0m7-2h0m17 2l1 1m4-1h0m72-2h0" stroke="#2a30a8" stroke-width="2.6" stroke-opacity="0.9" stroke-linecap="round" fill="none"/></g></g></g>
<g transform="translate(450.8,231.0)" clip-path="url(#tc5)"><rect width="97.8" height="85.6" fill="#ede4e0"/><g fill="#d6d0e2" filter="url(#hbl)"><rect width="97.8" height="85.6" fill-opacity="0.17"/><ellipse cx="80" cy="60" rx="22" ry="25" fill-opacity="0.05"/><ellipse cx="15" cy="20" rx="12" ry="10" fill-opacity="0.03"/><polygon points="-5,50 25,60 30,86 -5,86" fill-opacity="0.07"/></g><g filter="url(#hbl)"><polygon points="20,-5 45,10 60,35 62,60 45,86 20,86 30,60 34,35 20,10" fill="#e0c8b8" fill-opacity="0.75"/><polygon points="-5,40 15,50 22,86 -5,86" fill="#e2ccbe" fill-opacity="0.6"/><ellipse cx="80" cy="30" rx="18" ry="20" fill="#eee6e4" fill-opacity="0.5"/></g><rect width="97.8" height="85.6" filter="url(#htx)" opacity="0.18"/><g filter="url(#hdt)"><g transform="scale(.5)"><path d="M9 11h0m22-9h0m4 8h0m16-9h0m7 4h0m1-5h0m3 3h0m8-1l0 2m16-2h0m6 2h0m0 7h0m10-11h0m0 9h0m2-3h0m3 1l-1 1m6-5l0 2m5-2l1 2m4 1h0m14 3h0m4-6h0m1-2h0m12 2h0m1 2l-1 2m2-3h0m4 0l-1 2m7-6h0m2 9h0m3-1h0m1 2h0m21 1h0m-187 1h0m5 4l0 1m7-4h0m1 7h0m12-2l1 1m0-4h0m8-1l1 0m10 6l-2 1m13-3h0m27-1h0m1 4l-1 0m5-5h0m5-3h0m6 7l1 0m2-1h0m2 3h0m5-2h0m5-5h0m2-3h0m5 1h0m3 1h0m12 6h0m1-7l0 2m1 4h0m7-2l-2 0m12-3h0m14-1l2 1m12 6h0m5-5h0m0 2h0m-193 17h0m2-8h0m2 3h0m1 6h0m1-8h0m8-3h0m6 8h0m2 1h0m3-6l1 2m1-5h0m1 7h0m1 4h0m16-9h0m6 9h0m6-5l2 0m3 5h0m3-8h0m4 2h0m6 3h0m2 1h0m3-3l0 1m11-5h0m6-1h0m2 6h0m4-6h0m4 4l0 1m1 2h0m11-6h0m6-2h0m6 6h0m5-1l1 1m12-5h0m2 8h0m3-6h0m10 2h0m2-5l0 2m1 2h0m1 1h0m1 4h0m17 0h0m1 1h0m4-5l-1 2m1 4h0m2-6l0 2m1-5h0m-193 17h0m13 2l0 2m5-6h0m1-4h0m0 6l-2 0m7 3h0m5-9h0m1 4h0m0 4l2 0m4-5h0m0 3h0m8 2h0m21 0h0m3 0h0m17-6h0m15-3h0m2 3h0m6 7h0m7-5h0m1-5h0m0 2h0m2 1h0m2 4h0m5 0l1 1m2-6h0m0 5h0m0 3h0m7-4h0m2 1h0m7-5h0m6 1h0m4-3h0m6 8h0m11-3h0m5 3h0m16-3h0m0 2l0 1m-188 13l0 1m10-9h0m5 3h0m4 3l1 1m11-6l2 1m0 5h0m6-7h0m16 8h0m10 1h0m4-7l0 1m18 0h0m11-1l-1 2m8 6l1 0m1-2h0m3-9h0m0 10h0m2-8h0m6 3h0m3-3h0m12 4h0m1 4l-1 1m7-8h0m1 6h0m2-6l1 0m2 8h0m2-4h0m3 3h0m2-9h0m3 6h0m10 1h0m3-3l-1 2m2 1h0m3 1h0m7 0h0m9-2h0m-185 16h0m3-1h0m2 0h0m5-5h0m1 5h0m13-5h0m6-2h0m4 1h0m1 7h0m7 0h0m1-8h0m5 3h0m2-6h0m6 4l-1 1m1-1h0m5-4l2 2m9 4h0m4 3h0m7-4h0m1 5h0m4-9h0m25 7h0m3-4h0m12-4l-2 1m5 0l-1 0m6 5h0m5 1h0m0 3h0m4-8h0m6 7l2 0m3 0h0m1 2h0m3-7l1 1m4 3h0m3-7h0m0 5h0m3 3h0m2 0h0m11-4h0m1 5h0m-192 12h0m9 0h0m12-6h0m9 6h0m5 0h0m9-7h0m4-2h0m2-1h0m1 10h0m7 0l2 2m0-9l1 1m3-2h0m2 0h0m14 3h0m16-2h0m4-2l1 1m-1 4h0m1-2l0 1m2 4h0m3 0h0m2-2h0m15-3h0m2 2l0 1m4 2l0 1m1 0h0m4 0h0m7-1h0m16-4h0m1-1l1 0m1 7h0m8-8l0 1m0 7h0m1-4h0m0 4l2 0m1-9h0m3 3h0m17-1h0m-194 11h0m13 6h0m0 2h0m2-7h0m1 5h0m0 1h0m8-5l-1 1m1 3l2 0m1-4h0m6 2h0m1-6h0m2 9h0m3-4h0m6 0l-1 1m2-3h0m1 2h0m5-2h0m4 0h0m4 6h0m3-10h0m0 4h0m13 1l-1 1m10-3h0m6-3h0m10 3h0m15-3l-1 1m6-1h0m3 6h0m6 1h0m8-4l-1 1m1 5l-2 2m8-3l-1 0m11-6l-2 1m21-3h0m4 7h0m2 0l1 2m0-2h0m6-5h0m-169 13h0m13 6h0m3-3h0m3-1h0m9 3l1 2m3 1h0m4-6h0m9 0h0m1-4h0m11-1h0m9 1h0m9 4h0m0 1h0m3 0l2 1m6-2h0m11-3l0 1m9-3h0m7 5l-1 2m3-6h0m4 10h0m1-10h0m2 10h0m1-9h0m6 8h0m2-5h0m0 4h0m8-7h0m4 1h0m5 2h0m1 0h0m2-1h0m4 1l0 1m2-6h0m7 0l-1 2m3 3h0m8-5l-1 2m3 1h0m-187 12h0m0 5h0m6-8h0m1 1h0m0 3h0m8 0h0m2 7h0m1-11h0m4 4l-1 1m2 4h0m2-6l-1 1m6 3l1 1m2 3h0m15-11h0m6 0h0m4 1h0m2 8l2 0m2 2h0m2-6h0m4-4l0 2m19 8h0m15-3h0m0 2h0m1-1h0m4-6h0m5-1h0m2 4h0m2 1l1 1m2-1l2 0m9-3h0m5 4h0m4-6h0m7 5h0m23-4h0m12 3l2 0m-2 2h0m-184 4h0m20 7l-1 1m13-6h0m1 1l1 1m19-1l1 1m10-4h0m7 8h0m1-1h0m22-6h0m0 2l1 1m5 0l-1 2m4-6l2 0m6 6h0m6-5h0m6 9h0m6-5h0m13-3h0m6 3h0m15 4l-2 2m4-6l-1 2m9 2h0m2-7h0m3-2h0m2 11l2 1m5-6h0m1-6h0m-186 15h0m1-2h0m5 9h0m29-6h0m0 4l1 0m0-8h0m7 8h0m1-7h0m6 3h0m0 3h0m3 0h0m6-3h0m2 2l2 2m-2 0h0m3 3h0m5-10h0m9-1h0m3 9h0m10 1h0m3-8h0m2-2h0m4 2h0m1 9l-1 0m2-11h0m1 7h0m11-7h0m2 7h0m7 0h0m1-2h0m7-4h0m2 7h0m5-8h0m0 9l0 1m5-10l-2 2m2-2l0 2m3 5l-3 0m17 1h0m1-8l0 2m0 3l2 1m8 0l2 2m-1-7h0m12 1h0m2-1l1 1m-191 20h0m2-1h0m9-3h0m8-6h0m6 11h0m4-10h0m4 0h0m3-1h0m6 6h0m2-3h0m5-2h0m6 0h0m11 0l-1 1m2 0h0m3-2h0m5 2h0m11-2h0m0 7h0m1 3h0m4-5l2 1m5-5h0m6 5h0m12-5h0m5 6h0m7-7h0m9 6l-1 0m3-4h0m12 3l0 2m8-7h0m2 0h0m11 9l0 1m3-3h0m0 3h0m9-10h0m3 4h0m0 6h0m3-6l1 1m2 2h0m-192 8h0m5-2l1 2m0 6h0m9-9h0m4 5h0m6-4h0m0 4h0m4 2h0m3 4h0m13-3h0m0 2h0m5-8h0m27 7h0m6-6l-1 2m3 3l1 1m9 0h0m4-2h0m11-1l1 2m0 3h0m10-9h0m9 0h0m13 2h0m1 4h0m3-6h0m3 4h0m1-4h0m1 7l1 2m1-11h0m1 9h0m3-5h0m10 3l2 1m1 1h0m1-5l1 2m0-6h0m9 1h0m8 3l0 1m1 5h0m-178 2h0m29 2h0m23 1l-1 2m28-2h0m12 0l2 1m21-3h0m29-1h0m25 3h0m3 0h0" stroke="#8a8ec4" stroke-width="2" stroke-opacity="0.7" stroke-linecap="round" fill="none"/><path d="M2 0l1 1m8 5l0 1m7 3l-2 1m6-10h0m2 2h0m2 2h0m1-3h0m0 7h0m7-3h0m7-5h0m8 3h0m1 7h0m2 0h0m3-4h0m1-5h0m9 8l1 2m2-6h0m1-2l-2 1m8-2l1 0m-1 5h0m17-6l-1 2m8 2h0m18-6h0m5 3h0m2-2h0m3 10l-1 2m3-5h0m5-2l-1 2m7 3l2 1m-1-4h0m2-4h0m1 3l1 0m0-3h0m2 5l0 2m3-8l1 1m0 5h0m6 2l1 2m7-3l-1 2m4-11l-1 2m6-3h0m1 9h0m6-7h0m7 7h0m4-8h0m3 1h0m-194 12h0m2 6h0m1 0h0m2-8h0m0 4h0m3-4h0m3 10l1 2m0-9h0m9 5h0m2 0h0m1-5h0m2-1l-2 1m5 2h0m10 2h0m5-3h0m1 1h0m8-5h0m3 4l1 1m11-2h0m1 2h0m1-3h0m4 4h0m5 1h0m17-6h0m5 4h0m5 6h0m4-3h0m3-2h0m11-6h0m7 9h0m3-3h0m0 5h0m6-9h0m1 2h0m3 4h0m2-5h0m2-1h0m12 9h0m4-8l1 1m5 1h0m2-1h0m0 5h0m8-4h0m15 0l0 2m-193 7h0m2 9l2 1m13-5h0m2-6l-2 0m4 10h0m1-1h0m1-9h0m1 6h0m1-4h0m8 0l-1 0m1 4l-1 0m1 3h0m3-4l1 1m20-4h0m27-3l1 1m6 0h0m10 10l-1 2m14-4h0m4-6h0m1 5h0m1-6h0m0 3h0m3 4h0m2-8h0m6 5h0m4-6h0m4 2h0m0 5l2 1m0 2h0m7 0h0m2-3h0m1-7h0m0 5h0m4-1h0m0 2h0m5-3h0m1 3l-1 1m4-7h0m9 0h0m3 2h0m13 5l1 1m-181 12l-2 1m15-3h0m2 3h0m1 1h0m4-5h0m10 0h0m6 1h0m5-2h0m0 1h0m7 5h0m20-7h0m5 3h0m4 1l1 0m8 2h0m3-4h0m2 4h0m8-4h0m4 2l1 1m6-6h0m11 0h0m0 0h0m1-2h0m13 6h0m4-6h0m4 10h0m4-2h0m21-3h0m2 0h0m2 2l-1 2m-181 11h0m9-3h0m2-4h0m2 3h0m4-1h0m3-2h0m0 6h0m2-3h0m7-2h0m1 5l1 0m2-2h0m5-1l-2 2m4 4h0m12-9h0m3 9l1 1m0-6h0m6 3h0m22-2h0m2-1h0m2-5l0 3m13 5h0m2 0h0m4-1h0m2-2h0m3 0l0 1m8-5h0m8 3h0m5 6l1 1m2-7l-2 1m4 0h0m10-3h0m8 2h0m8 2h0m2 1h0m0 4h0m4-4h0m11-3h0m-174 9h0m1 2h0m17 0h0m1 4h0m2-4h0m0 5l1 1m2-9l-1 1m2 10h0m2-11h0m3 7h0m3-1h0m0 0l2 2m-2 3h0m11-4l2 1m2-7h0m3 9h0m7-4l0 1m6 0h0m2-3h0m4-4l1 2m11 1l2 1m1-2h0m1 9h0m9-3l2 1m0 1h0m7-10h0m8 3l-2 1m8-2h0m3 6h0m4 1h0m3 1h0m3-7l1 1m4 3l1 1m9-3h0m0 3h0m2-6h0m13 7h0m3-8l-1 1m3-2h0m4 1h0m11 10h0m4-5h0m0 4h0m-192 6h0m3 2h0m3-1h0m1 4h0m0 1h0m20-8h0m4 8h0m3-8h0m3 3h0m0 6h0m3-6h0m0 4h0m3 0l1 0m9-4l1 1m4 2h0m6 3h0m2-4h0m4-3h0m6-3l1 1m12-2h0m4 7h0m1-3h0m30 5l-2 1m3-7h0m8 0h0m0 1l-2 0m7 0h0m0 2h0m3-4h0m3 0h0m1 2h0m0 5h0m4 1h0m1-7h0m0 5h0m2 2h0m3-5h0m6 1h0m5-4h0m0 8h0m7-1h0m4-6h0m7 1h0m9-3h0m-193 19h0m3 1h0m10-6h0m10 6h0m2-6l-1 1m2 3h0m33-1l-1 0m11-2h0m0 7h0m3-10h0m3 9l1 2m0-9h0m0 4h0m1 4h0m6-2h0m4-7h0m7 1h0m1-1h0m10-2l1 1m0 2h0m5 6h0m1 1h0m2-6h0m3-4h0m0 1h0m1 5h0m9-2h0m4-3h0m0 8h0m1-1h0m7-1h0m2-4l-1 1m10 2h0m6 1h0m6 3l2 1m9-10h0m4 3l1 1m7-5l-2 1m5 4h0m5 5h0m-187 5h0m1 8h0m6-10h0m1 4h0m2-4h0m3 8l-2 1m4-3h0m1-6h0m2 2h0m11 7h0m7-8h0m0 5h0m3 4h0m4-7h0m8-3h0m1 9l-2 1m14-1h0m2-7h0m21-1l-1 1m2 5h0m2 1h0m13-3h0m0 4h0m7-8h0m1 4h0m2 5h0m2-5h0m8-3l-1 2m4 2h0m0 2l-1 2m2-1h0m1-7l0 2m4-1h0m11-3l-1 2m2 3h0m4-2l0 1m2-1h0m2-2h0m4 8h0m4-7h0m1 2l-1 1m1 4h0m4-1l1 1m1 1l0 1m5-4l-2 0m8-4h0m2 0h0m4-1h0m4-1h0m-194 18l-1 1m3-6h0m0 3h0m7-3l-1 1m6-3h0m2 6h0m10 3h0m5-8h0m12 3h0m7 4h0m5-4h0m7-2h0m3 2h0m4 1h0m4 4h0m18 1l1 0m17-10l1 2m9 7h0m6-1l-1 1m5-6h0m4 6h0m2-2h0m2 1h0m9-4l2 0m1-3h0m10 0h0m5 1h0m2-2h0m7 4h0m3 2h0m3-1h0m9 5h0m5-4l-2 0m-191 6h0m1 6l0 1m3-4h0m2 3l1 1m1-6h0m2-1h0m4 7h0m1-7h0m4 10h0m2-1h0m3-8h0m0 9h0m3-2h0m2-8h0m1 2h0m3 4h0m8 3h0m5-8h0m0 8h0m1-2h0m2 2h0m5-3h0m2 1h0m7 2l1 2m12-7l2 0m4 2h0m3-6h0m8 10h0m2 0h0m1-7h0m2 5h0m3-9h0m21 0h0m8 7l1 2m2 1h0m1-8h0m5 3h0m13-4h0m1 1h0m2 5l0 2m4-4l1 1m1 4h0m2-2h0m1 2l-2 0m8-7h0m1 7h0m1-10h0m3 0h0m0 3l-2 1m3-4h0m3 4h0m4-3h0m2 9h0m3-4h0m1 3h0m1 2h0m-188 9l2 2m0-5h0m7-5h0m0 9h0m3-9h0m6 1h0m0 3h0m2-3h0m3 1h0m2 1h0m2 6h0m5-8h0m1 8h0m3 0h0m6-8h0m2 1l0 1m4 1h0m0 4l1 2m0-10h0m3 2l2 0m-1 0h0m8 7l0 1m5-6h0m2 1h0m3 1h0m4-2l1 2m-1 4h0m16-1h0m12-1h0m9-6h0m6 4h0m8-5h0m6 4h0m2 0l2 1m3-6h0m1 11h0m7-1h0m7-4h0m2 1h0m12 3h0m2-1h0m1 1h0m3-8h0m0 4l1 1m3-1h0m2-4l-1 2m2 7h0m5-10h0m0 9h0m2-7h0m-190 20h0m2-4h0m3-4h0m1 5h0m1 1h0m14-6h0m9 1l2 0m2 0l-1 2m5 1h0m4 0h0m1 3h0m1-8h0m5 4h0m2-2h0m1-1h0m14 4h0m9 0h0m2 1l-2 2m3-4h0m5-6l2 1m0 4h0m1-1h0m5-1h0m1 3h0m5 2h0m7 1h0m1 0l2 1m6-10h0m3 7l2 2m11-6h0m3 1h0m0 3h0m4-5h0m1 2l1 0m1 4h0m2-1h0m0 3l1 0m7-1h0m0 1l-1 1m6-11l-2 1m14 4h0m6-1l2 1m6-1l1 1m1 0h0m2-2h0m6-2h0m3 6h0m-194 6h0m11 6l-1 1m4-1h0m3-1h0m2 5h0m7-10h0m0 4h0m3-2h0m8 1h0m16-4h0m0 11h0m15-7h0m6-2h0m18-1h0m0 7h0m6-7h0m5-1h0m1 9h0m3 1h0m6-6h0m3 0l-1 1m3-1h0m2 2h0m1-3l0 2m13 6h0m7-10h0m0 3l2 1m-1 2l1 2m4-2h0m3 4l1 1m0-4h0m8-4h0m3 4h0m8 3h0m2-9h0m4 7l-1 2m3-8l2 1m-1 5l1 1m5-7h0m0 7h0m2-10l-2 1m3 9h0m1-6h0m1 3h0m5 0h0m-194 6h0m17-1l0 2m1-1h0m10 2l-1 0m36 0h0m8-2h0m15 0h0m2-1h0m7 2h0m53-1h0m2 2h0m17-1l2 1m22-1h0" stroke="#6a70b6" stroke-width="2.5" stroke-opacity="0.8" stroke-linecap="round" fill="none"/><path d="M3 8l-2 1m16 0h0m29 1l0 1m18-6l1 1m54 5h0m37-10h0m6 5h0m21 3l0 1m-166 10h0m29-2h0m2-1h0m3 3l1 1m0-4h0m60 0h0m18-2h0m4 5l2 1m-122 10h0m85 1l2 1m4 1h0m43-6h0m-124 18h0m17 1h0m5-1h0m65-4l2 2m23-7h0m17 3h0m-145 10h0m22 4h0m3 4l0 3m19-4h0m29-5l-1 2m51 2h0m11 2l0 2m-135 5h0m7-5h0m10 2l1 0m20 5h0m91-6h0m4 8l0 1m1 1h0m4-8h0m10-1h0m4 2l0 1m9 1l-2 0m-152 8h0m30 9h0m115 0l-1 2m18-2h0m14-9h0m-65 19h0m6-6h0m10-2h0m3 4l0 1m1 5h0m2-7h0m10-4h0m33 1h0m-180 12l0 2m70 4h0m42-7l-2 0m4 0l2 1m7-1h0m5 7l-1 1m3-2h0m21 0h0m11 1h0m1-4h0m20-2h0m-177 11h0m1 10h0m6-7h0m102 4l-1 2m5-4h0m11-3l1 1m5 7h0m1 1h0m18-3l1 2m1-5h0m0 5h0m15-6l1 0m1 5h0m-172 11h0m3-8l2 0m1 7h0m3-5h0m1 7l-2 1m19-6h0m8-1h0m14-2h0m20 1h0m46-2l-1 1m3 4h0m1 0h0m10 5l-2 1m9-3h0m7 1l-2 1m4-6h0m5 2l0 2m11 0h0m6-4h0m-176 9h0m0 8l-1 0m11-9h0m11 4h0m2-1l0 1m8 1h0m4 3h0m10-4l-1 2m3-5h0m11 6h0m32 3l2 1m31-2h0m8-5l-2 2m21 4h0m2 1h0m9-6l-1 1m6-4h0m17 8h0m-171 4h0m2 6h0m6 0h0m14-1h0m46 3h0m40-9h0m24 3h0m19 5h0m3-7h0m3 0h0m11 7h0m8-2h0m-182 14h0m3-9h0m3 1l-1 2m3 5h0m6-6h0m14-1h0m3 2h0m13-1l0 3m2-1l1 1m88-4h0m2 7l1 2m20 0h0m8-7l0 1m19 2h0m-52 7h0" stroke="#56589a" stroke-width="3" stroke-opacity="0.85" stroke-linecap="round" fill="none"/></g></g></g>
<g transform="translate(557.0,231.0)" clip-path="url(#tc6)"><rect width="97.8" height="85.6" fill="#b4a4a8"/><g fill="#aca4c4" filter="url(#hbl)"><rect width="97.8" height="85.6" fill-opacity="0.19"/><ellipse cx="20" cy="45" rx="15" ry="15" fill-opacity="0.07"/><ellipse cx="60" cy="40" rx="10" ry="10" fill-opacity="0.05"/></g><g filter="url(#hbl)"><polygon points="-5,-5 105,-5 105,14 -5,16" fill="#ae9a98" fill-opacity="0.7"/><ellipse cx="48" cy="50" rx="14" ry="9" fill="#ece8ee" fill-opacity="0.8"/><ellipse cx="88" cy="34" rx="12" ry="9" fill="#e8e4ec" fill-opacity="0.8"/><ellipse cx="50" cy="76" rx="12" ry="6" fill="#dcd6de" fill-opacity="0.6"/><ellipse cx="22" cy="62" rx="15" ry="12" fill="#a8948e" fill-opacity="0.6"/></g><rect width="97.8" height="85.6" filter="url(#hmt6)" opacity="0.85"/><g filter="url(#hsh)"><polygon points="36,44 48,40 60,46 58,54 46,58 38,52" fill="#f4f2f6" fill-opacity="0.7"/><polygon points="76,30 88,24 99,26 99,36 90,42 80,40" fill="#f2f0f4" fill-opacity="0.7"/><polygon points="40,74 52,70 60,74 50,80" fill="#f2f0f4" fill-opacity="0.6"/><ellipse cx="3" cy="27" rx="3.5" ry="5" fill="#7a4430" fill-opacity="0.8"/><ellipse cx="1.5" cy="64" rx="2" ry="8" fill="#8a5038" fill-opacity="0.8"/></g><g filter="url(#hpt)"><ellipse cx="64" cy="26" rx="2" ry="1.4" fill="#6a3420" fill-opacity="0.8"/><ellipse cx="73" cy="32" rx="1.4" ry="1.8" fill="#6a3420" fill-opacity="0.8"/><ellipse cx="26" cy="45" rx="2.2" ry="1.6" fill="#7a4430" fill-opacity="0.75"/><ellipse cx="65" cy="56" rx="2.2" ry="1.6" fill="#6a3420" fill-opacity="0.8"/><ellipse cx="65" cy="65" rx="1.8" ry="1.4" fill="#6a3420" fill-opacity="0.8"/><ellipse cx="36" cy="14" rx="1.5" ry="1.1" fill="#7a4430" fill-opacity="0.75"/><ellipse cx="53" cy="14" rx="1.5" ry="1.1" fill="#7a4430" fill-opacity="0.75"/><ellipse cx="96" cy="18" rx="2.2" ry="1.4" fill="#6a3420" fill-opacity="0.75"/><ellipse cx="20" cy="78" rx="1.4" ry="1.4" fill="#7a4430" fill-opacity="0.65"/><ellipse cx="85" cy="55" rx="1.4" ry="1.2" fill="#7a4430" fill-opacity="0.65"/><ellipse cx="4" cy="22" rx="3" ry="4" fill="#5a3050" fill-opacity="0.5"/></g><rect width="97.8" height="85.6" filter="url(#htx)" opacity="0.2"/><g filter="url(#hdt)"><g transform="scale(.5)"><path d="M2 7h0m2-2h0m0 3h0m5-7h0m2 7h0m1 2h0m1-1h0m9-1h0m1-5h0m8-2h0m3 6h0m4-5h0m1 1h0m1 8h0m2-4h0m3 3h0m2-4h0m2-3h0m4-2l1 2m0 6h0m6-6l-2 1m2-1l-2 2m5 4h0m10-3h0m18 3h0m5-4h0m2 5h0m9-2h0m7 1h0m2 0l-2 1m4-6h0m1-2l1 1m2 7h0m5 1l2 0m1-10h0m5 6h0m2 1h0m2-5h0m5 2h0m1-5l-1 0m5 9h0m7-3h0m1 2h0m6-5h0m8-2h0m6 10l0 1m18-2h0m-187 3h0m2 8h0m2-6h0m4 1h0m6 4h0m7-8h0m3 0h0m14 3h0m3 7h0m6 0h0m1-6h0m4-2h0m2 4h0m2-6h0m0 0h0m3 5h0m3 0l1 1m0-4l-2 1m3-2h0m14 1h0m13 9h0m4-10l1 0m1 4h0m1 5l1 2m2-8h0m3 6h0m1-5l2 1m6 3h0m4 1l2 1m7-3h0m21-5h0m6 6h0m9 1h0m1-10h0m11 7h0m6-2h0m2-2h0m-185 10h0m3 5h0m10 2l2 1m0-4h0m10 0l0 1m15 1l-1 1m3-2h0m4 1h0m3 3l-1 1m9-1h0m7-7h0m4 5h0m4 2h0m2-7h0m3-1l-2 1m8 0h0m1 2h0m8-2h0m19 8h0m4-9h0m0 8h0m3-3h0m19 1h0m11-6h0m7-2h0m4 5h0m3 4h0m3-6h0m2 6l1 2m3-11h0m4 9h0m8-2h0m7-7h0m-193 13h0m0 6h0m8-4h0m0 6h0m3 2h0m2-6h0m9 4h0m5-4l2 1m7-3l2 1m8-3h0m9 0h0m6 8h0m5-8l0 1m4 1l0 2m1 5h0m1-9h0m10 5h0m1 3h0m2-9l-1 1m2 4h0m17 5h0m3 1h0m2-10h0m3 4h0m0 2h0m3 1h0m25 1h0m1-5h0m3 2h0m6-4h0m1-2h0m0 7h0m1 0h0m2 2l2 0m5-1h0m2-6h0m1 9h0m8-1h0m10-10h0m7 11h0m1-10h0m2 6l1 0m0-2h0m-194 7l-1 1m6 0h0m2 3h0m6 0h0m4 0h0m0 3h0m8 2h0m16-5h0m2 3l2 0m-1-1l0 2m1-5h0m5 6l-2 1m3-5h0m5-1h0m5 5h0m1-9l2 1m5 2h0m0 3h0m2 5h0m9-10h0m5 7l0 1m1-3h0m4-3l-1 1m1 7h0m3-8l0 2m1-2h0m1-2l1 2m4-1h0m5 7l-1 1m6-1h0m1 2h0m20-7h0m10 2h0m10-1h0m13 5l1 2m5-5h0m5 3h0m1-4l0 2m10-8h0m5 1l0 3m0 3h0m4-5h0m-180 16h0m2-6h0m4 2h0m0 3l-2 1m9-1l-2 1m3 5h0m5-9h0m5 2h0m3 7l0 1m1-8l-2 1m9 6h0m6-11h0m0 6h0m5 3l0 2m2-5h0m3-3l-1 1m8 3h0m2 0h0m0 1h0m10-4h0m0 4l-1 2m1 0h0m6-3h0m11 4h0m4-3l-2 1m2 2l-1 2m5-8l1 2m5-6h0m2 1h0m3 8h0m2 0l1 0m0-6h0m1-2h0m1 8h0m5 1h0m1-10h0m4 0l-1 1m4-2h0m1 3h0m0 2h0m10 5h0m2-4h0m7-2l0 2m2-4h0m24-1h0m3 2h0m3 5l-1 1m-186 6h0m3 5h0m3 0h0m0 3h0m5-4h0m1-7h0m1 2l-2 1m3-1l0 2m3 3h0m1-5h0m3 8h0m1-2h0m11-3l-1 1m4-4h0m0 8h0m1-9l-2 0m10 3h0m3 5l2 0m2-5h0m7 0h0m4 6h0m13-2h0m5 1h0m2 0h0m9-2h0m6-4h0m7-1l1 1m6 5h0m1-1h0m4 0h0m13-3h0m2 6h0m4-8h0m12 9h0m2-4h0m2-2h0m5-5h0m2 8h0m2-7l2 0m1 0h0m10 9h0m5-7h0m4 3h0m4-6h0m0 11h0m3-7l1 2m-194 14h0m3-5h0m5 4h0m1 3h0m2-6h0m1-3l-1 0m8 2h0m1 8h0m16-3h0m2-8l1 1m3-1h0m2 10l1 1m0-6h0m1 6h0m13-9h0m2 5h0m5-1h0m7 5h0m5-1h0m7-6h0m3 0h0m8-1l0 2m8-4l1 1m6 8h0m5-7h0m1 5h0m5 3h0m1-4l1 2m5-6l1 2m6-1h0m7 6h0m1 0h0m3 1h0m5-10h0m0 4l0 2m1-1h0m2 3l1 2m3-2h0m1-1h0m1 3h0m8-4h0m1 4l1 2m0-9l2 0m3-4h0m5 0l-1 1m10 4l0 1m-185 8h0m10 2h0m2-4h0m4 6h0m9-6h0m1 3h0m3 6l1 1m1 0l-1 0m6-3h0m10 3l0 1m11 0h0m4-1h0m2-5h0m0 1h0m3-1l0 1m14-3h0m0 8h0m4-3l-1 0m2-5h0m1-1h0m10 5h0m7 0h0m2-4h0m1-3h0m1 11h0m3-6l-1 2m1 3h0m3-4h0m9 5h0m3-6h0m4-4h0m8-1l-1 1m5 9h0m3-4h0m3 1h0m1 4h0m1-1h0m6-8l0 1m11 8h0m6-3h0m4-3h0m1 6h0m6-8l1 2m-185 11h0m3-1h0m7-1h0m11-1h0m1 9l1 0m1-6h0m1-2h0m1 9h0m4-5h0m4 4h0m2-10h0m1 4l1 1m3-1h0m0 4h0m5-6h0m6 7h0m1-8l0 2m9 3h0m7 5h0m3-9h0m1-2h0m6 10h0m2-9h0m0 8l1 2m6-4l-1 1m2-3l-2 0m2 4h0m3-8h0m5 5h0m1-2l-2 1m3-4h0m2 8l-1 1m4 0h0m5-4h0m2-4h0m1 2h0m3 4h0m4-3h0m0 6h0m2-7h0m2 0h0m9-4l1 0m11 0h0m15 5l-1 2m6 4h0m2-8l1 0m2 0h0m8 6h0m3 0l-1 2m3-6h0m5-4h0m2-1h0m-190 12h0m1 3h0m7 7h0m1-1h0m2-2h0m10-4h0m8-2h0m2 7l-2 1m3-5h0m9-2h0m17-2h0m16 11h0m9-11h0m1 8h0m6-1l-1 1m4-4l1 0m1-4l0 1m0 8h0m8-2h0m14-6h0m1 8h0m4-8h0m3 5h0m5-2l1 0m2-1l1 2m-1 3l1 0m9 1h0m9 0h0m11-9h0m0 6h0m11 1l-1 1m8 3h0m-184 6h0m6 6h0m2-8h0m10-3h0m8 3l-1 0m6 5h0m18 3h0m3-8h0m2 4h0m5 2h0m7-8h0m3 9h0m9 0l-1 2m12-11l2 1m2 4h0m0 5h0m7-11h0m0 10h0m16 0h0m6-10h0m2 0l0 2m2 8l-1 1m2-7l0 1m2-3h0m5 0h0m0 1h0m3-3l0 2m1 8h0m5-10h0m5 2h0m6 8h0m2-2h0m1-8h0m8 8h0m1-3l-1 0m5 4h0m8-9l-2 1m3 9h0m1-1l1 0m2-9h0m0 1h0m11 5l0 2m-194 10h0m3-5h0m0 9h0m2 0h0m7-9h0m5 1h0m1 9h0m4-6h0m21-5l-1 2m11 7h0m7 1l-1 1m2-11h0m15 11h0m3-9h0m2 2h0m2-1h0m0 7h0m10-9h0m19 3h0m0 3h0m8-3h0m7-4h0m2 0h0m3 5h0m11 0h0m7-4h0m4 9h0m4-6h0m7 0h0m0 2h0m2-6h0m1 6h0m1-1h0m4-4h0m16 5l1 1m0-5h0m3 6h0m-194 4h0m10 3h0m1-1h0m3 4h0m3-3h0m4 8h0m6-11h0m9 2l1 1m2-2h0m7 0h0m3 4h0m1-2l0 1m4-1h0m3-1h0m2 7h0m7 2h0m1-10l2 0m9 10h0m4-3h0m2-4h0m2-2l-1 2m14 0h0m7-2l1 1m1 4h0m1-4h0m9-3h0m10 9h0m7-5h0m1 3h0m4 2h0m1-2h0m14-1l2 1m5 3h0m2-1h0m18 2h0m2-6h0m7-3h0m1 4h0m-182 6h0m72 1l0 1m0 1h0m43-3h0m8 3l-1 2m25-5l0 2m17-2h0m7 2h0m4-1l2 1" stroke="#8888d2" stroke-width="1.7" stroke-opacity="0.8" stroke-linecap="round" fill="none"/><path d="M6 1h0m4 3h0m1 7h0m1-6l1 0m5-4h0m4 9h0m3 0h0m4-1h0m6 2h0m1-11h0m1 10l0 1m3-11h0m2 7h0m1 3h0m1-3h0m2 4h0m1-7h0m10 4h0m4-1l1 1m5 1h0m5-6h0m1-1h0m0 6h0m1 2h0m1-1h0m6-2h0m3 3l-2 1m8-1l0 2m3-10h0m8 6h0m2-6h0m22-2l1 2m3 8l1 2m4-8l-1 2m1 2h0m1-5h0m0 7h0m12 0l-2 1m4-8h0m1 7h0m3-3l-1 1m3-4l0 1m7 0h0m13-5h0m2 7l1 0m0-4h0m0 4l1 2m1-2l0 2m8-3h0m7-3h0m-195 14h0m4 2h0m1-7h0m2 0h0m2 9h0m6 1h0m11-9h0m2 3l-2 0m3 1h0m6-4h0m3 0h0m9 0h0m0 9h0m4-3h0m2 1l-1 2m1 0l1 2m3-1h0m3-8h0m1-2h0m2 3l2 1m2-3h0m1 8h0m3-5l0 1m1 5h0m4-6h0m1 5h0m4-10h0m4 7h0m20-6h0m1 4h0m1 1h0m2 0h0m1 3h0m0 1h0m4-10h0m6 5h0m1-3h0m3 0h0m2-1h0m10 6h0m3-5h0m2 4h0m9 3h0m0 1h0m1-6h0m5 5h0m8-7l2 1m-1 7h0m5-7h0m4 7h0m2-3h0m5 3h0m4-1l1 1m2-1l2 1m1-10h0m1 1h0m-187 12h0m2 0h0m9 0l-1 2m2 2h0m0 6h0m7-10l-1 0m8 7l2 0m5 0h0m2-4h0m1 7h0m3-9h0m1 1h0m1-3h0m4 6h0m2-6h0m8 8h0m2 1h0m3-8h0m5 6h0m10-7h0m4 0h0m2 2h0m3 0h0m1 1h0m2-1l0 1m0 2h0m9-4h0m9 3h0m11-2l0 2m4 5h0m10-2l0 2m2 1l-2 0m3-5h0m1 5h0m2-10h0m1 7h0m6-1l-1 1m1 2h0m3-5h0m2 3h0m2 0h0m4-4l1 2m3-3h0m0 3h0m6 0h0m3 1h0m3-3l0 2m5 5h0m11-5h0m1 1l-2 1m3-2h0m1-4h0m0 7h0m-192 12h0m7-1h0m5-2h0m0 2l1 0m1 0h0m3 2h0m6-8h0m1 3h0m6-2h0m2 5h0m4 2h0m2-1l-1 1m4-4h0m2 3h0m1-2h0m2 3l2 1m-1-9h0m5 2h0m2 4h0m5-6h0m12-1h0m3 4h0m5 3h0m1-3h0m2 7l-1 0m3-10h0m2 10l-2 1m13-12h0m0 5l-2 1m6-4h0m2 6h0m5-3h0m1-4h0m2 10h0m10-5h0m1-2h0m5 3h0m7-1l-2 2m5 2h0m4-9h0m5 2h0m2 3h0m1 1h0m3 0h0m2 4h0m0 0l-1 0m2-2h0m4-2h0m1-3h0m2 4h0m3-2h0m9-1h0m4-2h0m2 1l-2 2m4 2h0m2-7h0m1 2h0m8-2h0m0 2h0m-195 19l2 2m-1-2h0m3-7h0m5 3h0m6-4l-1 1m4-1h0m13-1h0m5 0h0m0 6h0m1-2h0m0 5h0m3 0h0m2-7h0m1 5h0m1-8h0m2 0h0m0 5h0m3-5h0m5 0h0m0 10h0m3-3h0m3 0h0m2 4h0m7-11h0m2 9h0m1-3h0m11 1h0m5-1h0m5-4h0m0 3h0m4 0h0m3 0h0m1 2h0m6 1h0m6-8h0m0 8h0m14-6h0m2 3h0m2 2l0 1m2-4h0m0 4h0m2 0h0m3 2h0m5-10h0m0 11h0m1-11h0m5 11l-2 1m9-12h0m4 7h0m10 2h0m2-1h0m2-2h0m1-4h0m2-2h0m4 10h0m2 1h0m2-9h0m7 1h0m-192 18l1 2m6-8h0m2 8h0m6-8h0m9 6h0m6-6h0m1 5l-1 1m6-5h0m1-2h0m1 5h0m6-2h0m0 5l2 0m-1-3h0m2 3h0m2-6h0m2 4h0m4-2h0m2 4l1 2m1-9h0m2-2h0m10 5l-1 1m9-3h0m0 5l2 1m1-5l0 1m0 2h0m1-4h0m5 5h0m2-9h0m3 6h0m20-6h0m0 7h0m3-2h0m2-2l0 1m0 2h0m3-1h0m7 0h0m2 4h0m6-2h0m6-2h0m0 6h0m6-10h0m4 1l1 1m2 3h0m2-2h0m1 5h0m3-8h0m1 5h0m3 0l2 0m-2 3h0m0 1h0m4-3h0m1-3h0m10-4h0m7 5h0m1 1h0m1-5l-2 0m-177 18h0m7-4h0m2-3h0m1 8h0m1-3h0m6-3h0m3 2h0m1 1l1 2m1 1h0m3 1h0m3-5h0m5 2h0m3-3h0m1-1h0m7 6h0m3-6h0m1 5h0m3 0h0m1 2h0m1-4h0m9-2h0m2-1h0m3 1l3 0m-1-1h0m11 1h0m2 4h0m4 4h0m5-1h0m1-2l1 1m2-7h0m5 3h0m5-5h0m11 1h0m0 2l0 1m8-3h0m1 7h0m3 3h0m1-2h0m3-8h0m2 1h0m0 2h0m3-2h0m0 2h0m1 7h0m7-9h0m5 3h0m0 5l1 1m6-3l-2 0m5 2h0m0 0h0m3-6h0m0 2h0m4 2h0m2-5h0m3 3h0m7 3h0m-189 6h0m3 8h0m1-2h0m5-8h0m6-1l-1 1m3 0h0m4 8h0m15-9h0m0 7h0m2-4h0m2 8h0m1-8h0m2 4h0m5-1h0m1-6h0m4 8h0m2 0h0m2 3h0m2-10h0m0 2h0m0 6h0m4-7h0m6 5h0m3-1h0m2 1h0m4-6l2 1m-2 8h0m2-7l0 1m1 5h0m7-9l2 0m0 7l1 0m0-1h0m4 5h0m2-2h0m3-5h0m2 5l-3 0m6-7h0m2 2h0m2 6h0m1-1h0m1-9h0m1 6h0m1-6h0m1 1h0m0 9l0 1m7-8h0m2-3h0m6 0l1 2m2 1h0m1 3l-2 1m2 2h0m1 0h0m1-4h0m5-5l1 1m1-1h0m0 8h0m2-6h0m3 2h0m0 4h0m15-8h0m5 9h0m1 2h0m2-3h0m4-3h0m0 3h0m2 3l-2 1m4-7l0 1m2 1h0m10 1h0m3 2h0m-193 3h0m2 9h0m4 1h0m4-5h0m1-4h0m2 1h0m8 1l0 2m1-5h0m3 5h0m3-2h0m2 3h0m0 3h0m5-5l0 3m1 0l0 2m1-7h0m1-1l0 1m1 2l1 2m2 2h0m3-9h0m0 4h0m2-1h0m7 6h0m5-1l-1 0m1 2h0m5-5h0m4 3h0m9 0h0m0 2l-1 2m7-6l-2 0m12 0h0m1 4l0 1m2-3h0m2-7h0m2 3h0m4 0h0m4-3h0m2 9h0m2-9l0 2m7-3h0m1 4h0m6-4l2 1m-2 2h0m2-3h0m1 4l1 0m16-3h0m3 2h0m7 7l1 1m0-10h0m5 4h0m5 0h0m1 3h0m4-3l-2 0m10 3h0m9-5l2 1m2 4h0m-194 7h0m2 4h0m2-7h0m0 9h0m7 2h0m3-5l1 2m0-8l1 1m7-1h0m0 3h0m0 4h0m0 3h0m1-3h0m0 3h0m4-4h0m0 2h0m3-5h0m3-1h0m1 1h0m4 3h0m1-2h0m1 6h0m5 1h0m1-5h0m2-4h0m2 7l1 0m4-9l-2 0m5 4h0m1 5h0m1-7h0m4 5h0m3-4h0m5 5h0m6-2h0m22-5h0m2 7h0m7-2l-1 1m5-7h0m1 11h0m4-7h0m11 1h0m3-2h0m6-3l-1 0m1 6h0m2 3l2 0m1-2h0m3 1h0m1-5l0 2m3 6l1 1m3-3h0m3 2l-1 2m7-5h0m2 0l-2 1m5-9h0m2 6h0m11-6h0m1 6h0m12 3h0m-191 10h0m4-5h0m4 9h0m4-11h0m0 3h0m7 1h0m0 2h0m1-4h0m3 3h0m2 4h0m0 2h0m3-7h0m0 3h0m4 1h0m1-6h0m4 5h0m4 4l2 1m-1-6h0m5-2h0m0 1l2 2m-2 4h0m2-6h0m8-1l-1 2m4 2h0m3 0l2 0m0-2h0m1 4h0m2-2h0m6-3l0 3m10 2h0m4-8h0m2 2h0m1 6h0m8-6h0m0 1h0m3-4h0m0 7l2 1m1-4h0m3-5h0m5 3h0m6-2l-1 2m10 8h0m7-7h0m1-3h0m0 9h0m4-8l-1 2m4 7l0 1m2-8h0m2-2h0m6 1h0m2 0h0m3 1h0m1-3h0m2 6h0m3 1h0m1-5l2 1m3 7h0m7-8l0 2m12 6h0m2-5h0m-192 7h0m0 8h0m7-3h0m3-2h0m0 5l2 1m2 0h0m1-4h0m1 5h0m1-4h0m3-4h0m3 4l-1 2m5-4h0m2-3h0m1 3h0m6-5h0m7 11h0m1-6h0m3-5l0 2m1 5h0m3-6l2 1m2 4h0m1-5h0m1 9h0m8 0l2 1m-1-6h0m5 0h0m1 2h0m3 1h0m3 2h0m3-6h0m7-1l-2 1m2 3h0m1 2l0 1m6-10h0m1 3h0m10 7h0m5-1h0m2-6l0 1m1 4h0m3-8h0m0 11h0m2-9h0m0 3h0m3 3h0m6-3h0m0 4h0m12-4h0m0 1h0m3 4h0m3-6h0m1 0h0m0 1h0m7 0h0m2 2l2 0m-1 3l1 1m10 0l-2 1m10-1h0m1-7h0m4 0h0m1 2h0m3 5l1 1m-188 5h0m5-1h0m4 3h0m2 3h0m1 1h0m1-8h0m1-2h0m7 2h0m2 6h0m2-9h0m2 7h0m7 2h0m4-8h0m1 10h0m6-9h0m0 1l0 2m1 6l2 1m2-8h0m7-2h0m5 3h0m2 5h0m1-7h0m1 6h0m3-7h0m2 0l0 2m3 5h0m1-7h0m2 1l1 1m8 4h0m4-4h0m2-2h0m7 4h0m4 3h0m1-7l-1 2m2 1l2 0m2 1h0m1 2h0m2 3h0m4 0l2 1m-1-4h0m1 3h0m8-7h0m1 2l-1 2m8-7h0m10 1h0m0 7l0 2m2-5h0m3-6h0m1 5h0m0 6h0m1 0l-3 0m6-5h0m1-5h0m4 4l-1 1m3 2h0m2-6h0m8 8h0m7-9h0m1 5h0m2-4h0m1 1h0m0 7h0m8 0h0m-189 6l-1 1m2-4h0m2 0h0m8 9h0m2-2h0m2 1h0m3-2h0m2-2h0m5 1h0m1 3l1 1m2-4l1 2m7-1h0m1-2h0m4-3h0m4 5h0m1 3l-1 0m6 1h0m7-10h0m3 0h0m0 3l1 2m4-1h0m5 6h0m2-8h0m0 4h0m4-7h0m6 8h0m4-6h0m5 3h0m0 6h0m1-3h0m9 3h0m1-11h0m0 10h0m2-5h0m5 0h0m1-2h0m12 0l-2 1m8 6h0m4-9l1 1m3 8h0m3-9h0m1-1h0m0 6h0m3-4h0m3 3h0m1-2h0m2-3h0m5 2l-1 0m7 3h0m2-4h0m3 3h0m10 2l-1 1m9-1l-1 1m2 1h0m1-3h0m0 0l-1 2m4-4l-1 1m-182 9h0m1 0h0m4 0h0m25 1l0 2m13-2h0m21 0h0m20-1h0m3 2l2 2m14-2h0m2 0h0m18-3h0m11 2l-2 1m5 0h0m3-2h0m12 2h0m11-2h0m4 0h0" stroke="#6262c2" stroke-width="2.1" stroke-opacity="0.85" stroke-linecap="round" fill="none"/><path d="M10 5h0m22 1h0m20 2h0m12-2h0m41-3h0m7-1l1 2m4 7l1 1m12-6l0 2m25-2h0m9 2h0m-140 9h0m13 3h0m22 3h0m22-4h0m14-4h0m1 7h0m7-1l0 1m0-1l2 2m28-10h0m14 6h0m13-5l-2 0m15 4h0m-172 7h0m3 3h0m18 3h0m8-6h0m7-1h0m2 2h0m32 2l-2 0m3 6h0m4-7l2 0m27 8h0m49-3h0m3-4h0m6 1h0m23-4h0m-171 21h0m23-10l-1 1m2 0h0m9-1l0 2m66 2h0m8-4l2 1m18 7h0m1 3l0 2m33-4h0m9 0h0m-175 14h0m10-7l2 1m36 1l0 1m18-5h0m17 6h0m2-1h0m27-3h0m16-1h0m14 8h0m2-4l-2 0m41 4h0m-175 10h0m18 2h0m4-9h0m13 1h0m2-2h0m22 0l2 1m29 7h0m35-1h0m1-4h0m3 0h0m42 5h0m2-8h0m-174 21h0m13-1h0m3-8h0m2 7h0m6-4h0m16 7h0m1-1h0m2-3h0m1 2h0m40 0h0m3-7l-1 1m30 2l-1 2m10 1h0m5-8h0m29 9h0m6-5h0m-165 12h0m0 2h0m3-6h0m14 1l0 1m3 2h0m1 6l-1 2m4-4h0m8-6h0m0 8h0m2-7h0m3 4h0m2-7h0m2 2h0m14 9l-2 1m18-7h0m0 3h0m20 1l-1 1m5-5l2 0m1-1h0m10 2h0m0 4l1 2m2-6h0m11 0l1 2m25-6h0m9-1h0m12 5h0m-183 13h0m2-1h0m12 0l-2 1m9 2l1 2m10-9h0m5 9h0m5-11h0m6 9h0m11-6h0m8 0h0m2 5h0m15 1h0m6-5h0m3-1h0m48 8l2 0m1-6h0m28 3h0m6-5h0m-161 14h0m1-4h0m4 7h0m5-3h0m8-3l1 2m0-2l-1 1m5-3h0m10 9l0 2m1-1h0m6-4h0m3-3h0m65 6l1 0m23-7h0m16-1h0m-159 19h0m5-2l-1 1m18 0h0m10-3h0m28 5h0m21-1l0 2m75-6h0m18 1l1 1m-177 15h0m23-8h0m14 6l-1 0m70 0h0m30 3h0m25-3l2 1m-163 7h0m4 1l-1 1m23 1h0m8 0h0m12-5h0m15 4l-1 1m16-6l-2 0m7 3h0m6 5l-2 1m7-8h0m10 7h0m8-7h0m3 0l0 1m22 9h0m15-7h0m10 6h0m24-10l2 0m-156 19h0m4 2h0m12-4l1 1m14 3h0m3-4l2 0m6-4h0m8 8h0m30-4h0m0 4h0m3-5l2 1m16 6l-2 1m6-6h0m11-3h0m8-1l1 1m-106 10h0m2 1h0m74 0h0m47-2h0" stroke="#3c3caa" stroke-width="2.6" stroke-opacity="0.9" stroke-linecap="round" fill="none"/></g></g></g>
<g transform="translate(28.6,320.5)" clip-path="url(#tc7)"><rect width="97.8" height="85.4" fill="#ebddd4"/><g fill="#d6cedc" filter="url(#hbl)"><rect width="97.8" height="85.4" fill-opacity="0.06"/><ellipse cx="15" cy="25" rx="15" ry="10" fill-opacity="0.04"/><ellipse cx="55" cy="80" rx="30" ry="8" fill-opacity="0.03"/></g><g filter="url(#hbl)"><polygon points="-5,32 40,30 70,40 105,45 105,65 60,65 20,55 -5,55" fill="#f2ebe6" fill-opacity="0.85"/><polygon points="-5,8 30,12 35,30 -5,30" fill="#dec4b2" fill-opacity="0.8"/><ellipse cx="85" cy="15" rx="18" ry="12" fill="#e2d0c4" fill-opacity="0.6"/></g><g filter="url(#hsh)"><polygon points="-5,-5 44,-5 42,2 30,3 17,6 0,10 -5,10" fill="#d0a88e" fill-opacity="0.6"/><polygon points="-5,9 20,4 20,8 -5,14" fill="#c8946e" fill-opacity="0.5"/></g><g filter="url(#hpt)" fill="none" stroke-linecap="round" stroke-linejoin="round"><path d="M-2,11 C8,8 18,5 30,3.5 C36,3 40,2 44,-1" stroke="#b87e5c" stroke-width="3.4" stroke-opacity="0.6"/><path d="M40,2 C44,6 48,10 50,15" stroke="#b87e5c" stroke-width="2.6" stroke-opacity="0.5"/><path d="M-2,11 C8,8 18,5 30,3.5 C36,3 40,2 44,-1" stroke="#fefefe" stroke-width="1.8" stroke-opacity="1.0"/><path d="M40,2 C44,6 48,10 50,15" stroke="#fefefe" stroke-width="1.2" stroke-opacity="1.0"/></g><rect width="97.8" height="85.4" filter="url(#htx)" opacity="0.3"/><g filter="url(#hdt)"><g transform="scale(.5)"><path d="M57 10h0m2-1l-1 2m17-5l-1 1m8-4h0m14-2h0m15 3h0m6 6h0m39-4l-1 1m18 0h0m15-1h0m0 3h0m-177 4h0m10 10h0m30-7h0m0 7h0m11-9h0m1 8h0m6-2h0m2-6h0m17 8h0m2-1h0m10-3h0m8-5h0m8 7h0m5-3h0m1-1l1 1m7 6h0m36-5h0m2-6h0m0 0l-1 2m8 5h0m-168 7h0m12-1h0m20 6h0m26-7l1 2m46 9h0m2 0h0m1-10h0m2-1h0m0 4h0m4 3h0m4-1l-1 2m9-5h0m21 6l1 1m6-6h0m5-1h0m-162 12h0m1 3h0m21 1l-1 2m30 2h0m10-5h0m5 0h0m4-3h0m7 1l1 2m10 2l-1 1m1 2h0m4-4h0m4-6h0m8 7l2 1m17-7h0m20 1h0m16 6l0 2m3 0l1 0m21-4h0m6 1h0m-176 12h0m12-8h0m8 11l0 1m2-9h0m9 3h0m0 2h0m13 1l0 2m14-5h0m1-5h0m30 2h0m2 7l-2 0m3 1h0m24-3l0 2m1-10l0 2m1 4h0m48 4h0m11-5h0m-190 12l-2 2m8-6h0m25 10h0m10-1h0m45-8l1 2m6-2h0m1 2h0m34-3h0m9 8h0m14-2h0m4-6h0m0 7l1 2m19-8h0m-177 16l0 2m2-1h0m5-2h0m8 4h0m1-5h0m17-3h0m4 5l-1 1m9 0h0m2-6h0m3 9h0m18 1h0m4-11h0m1 3h0m1 6h0m17-1h0m21-7h0m1 1h0m19-2h0m25 10h0m22 0h0m-172 10h0m12 1h0m9-9l0 2m13-2h0m18 11h0m7 0h0m35-7h0m3 0h0m58-4h0m18 6h0m-173 17l1 2m2-2h0m16-3h0m19-3h0m8-5h0m1 3h0m16 5h0m4-7l-1 2m28 1h0m44 0h0m11 6l1 1m0-7h0m15 7h0m1 0h0m-171 12h0m15-7l-1 0m4-1l1 1m21-4l1 2m2 9h0m7 0h0m1-11h0m4 2h0m2-2h0m9 2h0m0 1l1 1m0-4h0m1 0h0m16 11h0m2-1h0m3 1h0m7-1h0m9-2h0m2-8h0m1 6h0m4-2l1 2m3-6h0m17 6h0m6-3h0m33 6l1 1m8-10h0m-182 18l2 1m4-5h0m40 4h0m23 0h0m6 5h0m6-6h0m13 6h0m4-5h0m5-4l2 1m7 6h0m0 2h0m10-9h0m8 8h0m2-9h0m10 5h0m7-3h0m19 3l2 0m2 5h0m1-6h0m-161 14l1 2m11-9h0m50 10h0m7-6h0m1 0h0m8 3h0m9-1h0m9 5l-1 2m21-12l1 1m5-1h0m25 7h0m2 1h0m15-1h0m4-4h0m2 1h0m-185 18h0m17-1h0m1-1h0m19 1h0m12-4h0m1 1h0m19-1h0m8-5h0m12 8h0m2-6h0m10 1h0m4-1h0m31-3h0m18 4h0m9-1h0m27-2h0m-176 22h0m7-1h0m10-1h0m37-7l1 2m18-2h0m2 7h0m11-4h0m3 1h0m17-6h0m2 11h0m7-2l-2 1m11-1h0m5-6h0m18 4h0m17-2h0m12 3h0m2 2h0m-146 2h0m31 1h0m2 1h0m26-1h0m19-1h0m27 2h0m25 0l2 0m13-1h0" stroke="#8888d2" stroke-width="1.7" stroke-opacity="0.8" stroke-linecap="round" fill="none"/><path d="M19 4h0m28-1h0m2 4h0m10-5h0m4 1h0m32 7h0m9-9l2 0m1 10h0m12 0h0m19-2l-1 1m26-4h0m-147 16h0m27-8l0 2m35 6h0m16-2h0m0 3h0m4-4h0m12 4h0m7-11h0m5 1h0m5 4h0m36-4h0m11 10h0m8-1l1 1m1-3h0m11 1h0m-179 10h0m4 0h0m3-2h0m3-1l-2 1m3-3l0 2m13 7h0m5-3h0m7-5h0m3-1h0m3 4h0m5-6h0m3 3l0 1m16-3h0m12 9h0m9-8h0m0 5l0 2m19 0h0m2-3h0m51 4h0m8-10l-2 0m8 10l2 1m-188 11h0m4 1l0 2m3-7h0m1-6h0m3 2l1 2m2 3h0m6-6h0m24 3h0m0 6h0m5-1h0m2-1h0m4 2h0m14-7h0m40 1h0m3 2l2 1m-2 2h0m4-8h0m18 8h0m5-1h0m2 3h0m8-10h0m11 2h0m-157 11h0m2 1h0m0 5h0m9 1l2 2m-1-7l1 1m4-4l0 3m0 0h0m6-1l0 1m2-1h0m12-3h0m27 0h0m14 7h0m32-7h0m14 3l-2 1m11-1h0m14 7h0m19-8h0m13-2h0m1 11h0m-165 3h0m1-1h0m19 3h0m2 6h0m3-8h0m4 7h0m1-6h0m1 8h0m31-3h0m9 0h0m5-4h0m5-4h0m15 5h0m11 6h0m10-9h0m16 4l-2 1m10-7h0m0 6h0m5 2h0m2-4h0m1 7h0m20-2h0m-188 9h0m14 3h0m39-4h0m2 1h0m2 2h0m9-8h0m5 7l1 1m44 0l-1 1m45 1h0m17-3h0m-147 8h0m24-2h0m8 3h0m61 5h0m29-9h0m6 8h0m7 2l0 2m1-9h0m-110 17l1 2m1 1h0m14-10h0m43 3h0m-110 12h0m27 3h0m8 2h0m9-6h0m10 4h0m29-4l1 1m25-3h0m9 6h0m33-5h0m1 2l-1 1m10 4h0m3-7l1 1m-167 13h0m5 2h0m10-6h0m3 0h0m28 8h0m20-4l1 2m16-4h0m2 8h0m13-6h0m4 4h0m37-4l1 0m0 3h0m3 2h0m41-6h0m5 8h0m-193 7h0m10-6h0m0 9l-2 1m26-9h0m14 6h0m26 4h0m12-4h0m46-6h0m11 7h0m30-7l2 0m9 3h0m-153 8h0m16 9h0m3-4h0m31-4h0m24 7l1 2m1-4l2 1m26 1h0m43-3h0m5 4h0m1-6l0 1m6 7l2 1m-181 10h0m0 1l2 1m0-5l-1 2m67-5h0m0 6h0m7 1h0m14 0h0m1-8h0m2-1l0 1m10-3l2 1m15 4h0m4 3h0m2-5h0m5 5h0m10-5h0m3 1l1 0m26 5h0m1-6h0m1 6l-2 1m12 1l-1 1" stroke="#6262c2" stroke-width="2.1" stroke-opacity="0.85" stroke-linecap="round" fill="none"/><path d="M155 2h0m-121 42h0m15-8l1 2m10 4h0m112 2h0m-127 35h0m49 4h0m10-2h0m38-9h0m-47 23h0m77-9h0m13 4h0m-66 16h0m-71 16l-1 0m140 2l2 1m-96 12h0m2-3h0m-88 30h0m94-4l1 1m26 0h0" stroke="#3c3caa" stroke-width="2.6" stroke-opacity="0.9" stroke-linecap="round" fill="none"/></g></g></g>
<g transform="translate(134.2,320.5)" clip-path="url(#tc8)"><rect width="97.8" height="85.4" fill="#dcc6ba"/><g fill="#c6c2e2" filter="url(#hbl)"><rect width="97.8" height="85.4" fill-opacity="0.21"/><ellipse cx="50" cy="50" rx="16" ry="12" fill-opacity="0.16"/><ellipse cx="18" cy="72" rx="18" ry="12" fill-opacity="0.12"/><ellipse cx="85" cy="18" rx="14" ry="16" fill-opacity="0.07"/></g><g filter="url(#hbl)"><ellipse cx="35" cy="25" rx="30" ry="22" fill="#d4b4a0" fill-opacity="0.8"/><ellipse cx="50" cy="50" rx="16" ry="12" fill="#e4e0ea" fill-opacity="0.7"/><ellipse cx="85" cy="20" rx="14" ry="18" fill="#e4dce4" fill-opacity="0.6"/><ellipse cx="80" cy="75" rx="20" ry="10" fill="#d6b8a6" fill-opacity="0.7"/></g><rect width="97.8" height="85.4" filter="url(#hmt8)" opacity="0.3"/><g filter="url(#hsh)"><polygon points="70,44 85,47 99,52 99,55 85,51 70,47" fill="#fbfbfb" fill-opacity="0.95"/></g><rect width="97.8" height="85.4" filter="url(#htx)" opacity="0.3"/><g filter="url(#hdt)"><g transform="scale(.5)"><path d="M4 2h0m2 9h0m5-9h0m10 0l-1 0m5 6h0m3 0h0m2-5h0m0 5h0m4 3h0m0-1h0m9-5h0m0 1h0m13 5h0m1-10l2 1m13 3h0m9 4h0m4-8l2 1m-2 6h0m10-5h0m2 5h0m2 1h0m2-1h0m4-3h0m1-3h0m3-1h0m2 8l0 1m4-9l0 2m7 4h0m0 3h0m2-8h0m3 4h0m1-1l2 0m1-1l0 1m6-5h0m4 11l-1 1m5-5h0m3 4h0m2-2h0m1-5l2 0m2-2h0m2 8h0m18 1h0m1-2h0m3 0h0m4-5h0m1 4h0m2 2h0m3-7h0m1 7h0m3-4h0m-192 17h0m4-5l0 2m7-2h0m4 4h0m2-7l-2 0m3-1h0m2 2h0m3-2h0m1 0h0m2 1h0m6 7h0m9-9h0m4 6l-1 1m4 2h0m8-4h0m5-6h0m0 3l1 1m8 6h0m9-10l-1 2m6 6l1 0m1-7h0m7 1h0m0 3l0 1m0 1h0m3 2h0m3-5h0m5-4h0m2 7h0m2 0h0m1-6h0m13 5l1 2m8-1l1 0m1 0h0m2-3h0m1 5h0m6-6l1 0m0 5h0m0 2l0 2m2-12h0m6 1h0m0 10h0m7-11h0m3 1h0m1 10h0m5-7h0m-167 16h0m3 3l-2 2m9-8h0m2-5l2 0m1 5h0m5-2l1 1m-1 7h0m3-8h0m1-2h0m1 5h0m2-5h0m1 10h0m9-2h0m4-9h0m0 10h0m4-9l-1 1m16 4h0m3 5h0m4 0h0m2-7h0m11 1h0m1 6h0m2-5h0m4 4h0m4-10h0m3 3h0m2-1h0m0 1h0m5 3h0m1-5h0m0 4h0m11 1l2 0m5 4h0m2-5h0m12 0h0m3-3h0m2 4h0m1 3h0m1-8h0m16-1h0m0 3h0m4-2h0m1 9h0m2-8h0m1-1h0m3 3h0m3 3h0m2-3h0m3 1h0m0 6h0m8-10h0m0 3l1 1m2 3h0m4 2h0m4-5h0m-189 16h0m4 0h0m11-4h0m15-2h0m11 1h0m2 1h0m6-3l1 1m2-1h0m8 4h0m1-1h0m12-3h0m3 0h0m2-2l-1 2m6 3l-1 2m3-1h0m14 4h0m2-10h0m7 3l1 2m2 5l0 1m19-10l-1 1m5-2l1 1m3 1h0m4 1h0m24 0h0m4 5h0m3-7h0m1-1l2 0m0 5h0m4-3h0m0 6h0m1 3l1 1m-180 8h0m5 1h0m7-9h0m3 10h0m5 0h0m3-5h0m4 6h0m1-9h0m10 1h0m2 6h0m2-8h0m5 5h0m0 5h0m2-3h0m4-2h0m9 2h0m2-8h0m14 8l2 0m8 0h0m2-4h0m1 3h0m10-2l1 1m1-4l2 0m0 8h0m2-3h0m7-1h0m19-4h0m4-2h0m1 6h0m5 2h0m0 2h0m2 1h0m1-4l-2 1m3-7h0m5 3h0m1 7h0m5-11h0m1 9h0m0 1h0m3-2l0 2m5-9h0m0 2h0m13 5h0m2 3h0m-185 1h0m2 9h0m0 1h0m8-5h0m11-1h0m2 3h0m8-5h0m4 4h0m2 4h0m4-9l-1 1m22 3h0m3 2h0m10-2h0m4 2h0m1-4h0m1-2h0m5 2h0m2-3h0m0 9h0m3-6h0m3 1h0m9-3h0m7 1h0m2 1h0m7-3l1 1m2 1l0 2m6 7h0m1-10h0m2 6h0m2-6h0m2 5h0m1 2h0m0 3h0m8-7h0m7-2h0m0 6h0m4-2h0m3-3l1 1m3 7h0m6-1h0m2-1h0m1-9h0m14 6h0m2-6h0m0 3h0m-192 10h0m5 8l2 1m1-4l2 1m-1-4h0m2 3h0m0 0h0m2-2h0m13 5h0m9-3h0m3 1l1 1m0 3h0m3-2h0m4-4l1 1m5-4h0m6-2h0m6 9h0m6-7h0m7 1h0m2-1h0m0 8h0m2-7h0m10 4h0m3-3h0m10-2h0m2 5h0m7 2h0m8-8h0m2 3h0m1 6l-1 2m3-3h0m3-2h0m30-7h0m24 10h0m3 1l1 1m1-2h0m2-3l0 1m-191 7h0m2-2h0m8 10h0m9-4h0m5-3h0m3 0l2 0m-2 4h0m7 3h0m6-5h0m5 3h0m2-2h0m10 3h0m5-10h0m10 7h0m1-6h0m7 5h0m6-3l-2 0m3-1h0m12 0l0 3m0 5h0m2-9l-2 0m4 2h0m8 0l1 1m8-3h0m0 1h0m4 4l1 2m0 1h0m1-2h0m2-7l-1 2m5-2h0m10 4h0m9 1h0m3 5h0m3-1h0m4 0h0m5-7h0m1 6h0m11 3h0m1-6h0m1 2h0m1-5h0m6 5l1 2m2-7h0m0 4h0m2 5h0m-186 12h0m3-8h0m5 6h0m6-7h0m0 2h0m4-4l0 2m0 0h0m7 9h0m4-9h0m2-1h0m1 7h0m8-5h0m4-3h0m4 7h0m1 3h0m2-7h0m0 4h0m14-4l-2 0m3 5h0m6 0h0m2-8l0 2m7 0l-1 2m4-4h0m3 6h0m6 1h0m2 4l-1 1m3-8h0m3-1h0m2-3l-1 1m1 2h0m3-1h0m6 6l-2 0m7-3h0m1-5l0 1m2 6l-2 1m11-6h0m1 4h0m6-3h0m2-1h0m0 6h0m6-6l1 2m5-3h0m3 6h0m1 3h0m3-5h0m1 1h0m5-6h0m1 10h0m6-8h0m1 1h0m5 5h0m1-4h0m6-4h0m5 1h0m1 8h0m1-8h0m-194 21h0m7-2h0m2 0h0m2 2h0m1-7h0m12 2h0m5-4l-1 2m5-2h0m7 10h0m4-9l2 1m3 5h0m1-6l0 2m1 4h0m6 0h0m7 1h0m4-9h0m1 4h0m2 6h0m1-1l1 1m1-5l0 1m2-3h0m2 3l-1 1m3-6h0m3 3h0m4-2l-2 1m3 4h0m1-2l1 0m1-3h0m2 4h0m7-5h0m1 3h0m2 7h0m8-10h0m1 2h0m7 5h0m6-8l-2 1m3 9h0m1-10h0m6 6l2 1m3-6h0m5 8h0m1-3h0m2-5h0m2 5h0m1-6h0m2 3h0m6-1h0m5 3h0m2-3h0m17-1h0m6 0h0m1 8h0m-173 5h0m2 2h0m0 4h0m1 1h0m3 1l-2 1m8-3l0 1m1-4h0m1 4h0m7-6h0m6 6l-1 1m4-8h0m2-1h0m3 3h0m8 7h0m3-6l0 2m0 3h0m1-4h0m0 5h0m5-9h0m2-2h0m0 11h0m2-5h0m6 2h0m2-7l1 1m3 9h0m4-4h0m1-6h0m2 4h0m3-3h0m3 5h0m9 3l-1 2m8-10h0m3 8h0m3-10h0m1 4h0m0 1h0m1 5l-1 2m5-6h0m1 2h0m8 0h0m9-5h0m6 3h0m4-6h0m0 8h0m4-2h0m2 1l-1 1m3-5h0m9 1l-1 1m4 3h0m0 2l2 0m-1-5h0m7-2h0m-177 10h0m1 2h0m1 5l-1 2m8-2h0m3-2h0m3 0h0m1-4h0m5 1h0m5 1h0m4 1h0m2 0l0 1m2-4h0m4 5h0m2-2h0m7 5h0m3-2h0m2-3h0m1 2h0m2-6h0m3 0h0m1 5h0m9-2h0m1 7l1 2m2-12l1 1m11 6l2 0m4-3h0m1 2h0m0 2l1 1m2-9l-1 1m1 6h0m9-1h0m1 3l2 1m5-5h0m0 3h0m4 0h0m3-8h0m0 8h0m1-2h0m1-7h0m11 0h0m2 1h0m3 1h0m3 5h0m8-3h0m0 4h0m4 3l-1 0m6 0h0m3-7h0m1 3h0m2 0h0m5-6h0m2 0h0m2 4h0m2 4h0m8-5l1 2m6-6h0m-190 12h0m4 5h0m2-3l1 1m3 8h0m2-1l-1 2m6-5h0m7-7h0m5 3h0m2-2h0m0 6h0m1-7h0m4 2l-2 0m9-2h0m0 3h0m1-3h0m6 2h0m2 0h0m0 6h0m1-5h0m4 2h0m1 4h0m5-4h0m3 5h0m2-1l1 1m10-10l2 1m1 6h0m1-6h0m8 10h0m5-10h0m8 8l-1 1m3-8h0m7 7h0m1-8h0m1 4h0m9 0h0m1 6h0m2-5h0m4-2h0m13 2h0m2 5l2 0m-1-11h0m13 3h0m3 4l-1 0m8-6h0m5 8h0m6-9h0m3 0h0m1 11l-1 2m5-3h0m2-6h0m-188 16l1 2m2-9h0m4 3h0m12 7h0m4-6h0m8-3h0m1 4h0m4-3h0m3 5h0m4-3l-1 2m11-3h0m15 4l2 2m1-4h0m5-6h0m1 1h0m0 6h0m2 3h0m7-4h0m2 5h0m2-7l1 2m5 5h0m2-7h0m1 4l1 2m8-6l2 1m5 1h0m10-6h0m1 4h0m19 6h0m7-7h0m2-1l-2 2m2 1l-2 1m8-2h0m4 2h0m2 1h0m9-2h0m1-4h0m5 1h0m4 3l2 0m-1-3h0m0 9h0m2-10l1 2m-184 10h0m19 1l1 1m24-3h0m8 3h0m1-2h0m33 0l-1 1m12-2h0m29 1h0m9 2l0 2m11-3l1 0m15-2l1 1m-1 1h0m11 1h0m10-3h0" stroke="#8888d2" stroke-width="1.7" stroke-opacity="0.8" stroke-linecap="round" fill="none"/><path d="M1 4h0m1 3h0m1-3h0m1 7h0m2-9h0m2 1h0m3 1h0m0 6h0m5-7h0m1-1h0m18 1h0m9 7h0m3-5l-2 0m4 0h0m2-3h0m7 5l1 2m7-5h0m2-4h0m1 7h0m8 4h0m7-7h0m4 0h0m4 0l-2 1m5 2h0m1 3h0m5-5h0m1-1h0m5 1h0m2 0h0m0 3l1 1m1 1h0m2 0l1 1m4-10l0 3m0 2h0m1 3h0m7 2h0m3-4h0m2 0l-2 0m3-7l0 2m2 3h0m0 2h0m2-2h0m2 4h0m2-9h0m2 7h0m3 2l-1 1m4-5h0m7 0h0m0 2h0m7-1h0m2-6h0m4 6h0m2 2h0m3 0h0m3-5l-1 1m1 7h0m1-11h0m0 6l0 3m2-5h0m4 1l1 2m4-5l0 2m3 2h0m1-3h0m-191 14h0m1 3l-1 2m7-7h0m11 3l-2 1m4 2h0m6-4h0m2-2l-1 2m1 2l0 2m0-2h0m13 0h0m7-4h0m2-1h0m1 3l1 1m0-1h0m8 1h0m3 2h0m1-3l0 2m2-3h0m0 4h0m6 3h0m1-4h0m5-3h0m3-4h0m3 1h0m4 2h0m0 8h0m7-10l-1 2m6 2h0m2 2h0m3 2h0m6-7h0m1 4h0m2-5h0m0 10l-1 2m3-9h0m1-3h0m3 3h0m2 0h0m1 4h0m1 2h0m5-5h0m11-4l2 1m-1-2h0m2 7h0m13 1h0m5 1h0m2-1h0m6-2h0m1-4l-1 1m6-2l1 1m-1 1l2 0m1 3l1 1m4-4h0m2-2h0m2-1h0m5 6l-2 1m3-5h0m0 2l-2 0m-192 10h0m5 1h0m4-3l-1 1m2 10h0m5-2l1 1m10-5h0m0 4h0m1-3l-1 1m2 1h0m1-4h0m14-2l1 1m-1 6h0m2 0h0m2-2h0m2 4h0m8-8l2 0m7-2h0m2 1h0m4 6l-2 1m5-9h0m1 9h0m6-9h0m2 3h0m1 0h0m0 5h0m6-2h0m10-3h0m10-1h0m5 1l-2 1m10 1h0m1 2h0m0 4h0m4-6h0m0 6h0m1-5h0m10-3l1 1m1-1h0m1 3h0m6 0h0m1-3h0m10-2h0m1 10l-2 0m3-5h0m4 3h0m8-9h0m2 2l-1 1m1 6h0m4-1l-1 2m3-10h0m1 9h0m2-7h0m4 4h0m3-5l1 0m0 10h0m1-4h0m-192 14h0m1-4l1 1m0 2h0m9-5l-1 2m5 5h0m1-8l1 2m3-3h0m10 1h0m5 7h0m0 2h0m4-4h0m4-6h0m3 10h0m6-3h0m1-6l-1 1m1 0h0m2 2h0m2 5h0m4-1h0m8-7l1 1m9 8h0m1-7h0m0 1h0m3 6h0m2 0l1 1m2-9h0m1-2h0m0 9h0m5 0h0m3 1h0m2-6l2 1m0 1h0m3-6h0m1 2h0m4-3h0m2 3h0m8 0l1 1m9 2h0m11 2h0m1 2l0 2m1-11h0m1 5l-2 2m5-3h0m2 2l-1 1m2 1h0m3-1h0m0 2h0m4-10h0m0 9h0m2-6l0 2m2-4h0m0 3h0m7 0h0m6 7h0m5-4h0m4-2h0m0 3h0m5 0h0m-187 8h0m12-2h0m5 4l0 2m2 3l2 0m-1-4l1 1m0-7l1 2m1 3h0m2-6l2 1m16 2h0m3 8l-1 1m3-1h0m4-6h0m4-3h0m3 3l3 0m11 2h0m3-4h0m19-2h0m0 5h0m5 1h0m2 0h0m15-4h0m3 5l-2 0m5-7h0m5 0h0m2 8l1 1m-1 0h0m1-10h0m0 5h0m0 2h0m6 1l0 2m1 1l-2 1m3-8h0m6 4h0m9 1h0m2-9h0m2 6h0m0 4h0m1-7h0m2 4h0m1-6h0m6 1h0m1 4l0 2m1-6h0m2-2h0m0 7h0m1 4h0m4-1h0m1-7h0m1 6h0m1-3l-2 0m3 1l0 2m5-5h0m0 6h0m2-8h0m1 3h0m3 5h0m1-6h0m-183 8l-1 1m2 3l-1 0m9 0l-1 1m2-1h0m6-4h0m1 10h0m1-9h0m2 4h0m5 4h0m4 0l2 1m0-5h0m0 1h0m4-2h0m10-1h0m11 6l2 1m0-7h0m13 1h0m0 5h0m21-7l-1 2m4 3h0m2 0h0m3-3h0m5 6h0m4-3h0m2-5h0m0 4l0 2m3-5l2 2m1 5h0m2-4l2 1m0-3h0m3 1h0m1 5l0 1m18-9h0m1 3h0m1-1h0m4-1h0m1-3h0m5 4h0m5 0h0m8 5h0m2-3h0m4-5h0m9 2h0m-195 17h0m2 2l-1 2m17-9h0m1 4h0m2-4h0m5 1l2 0m2 7h0m1-8h0m2-3l0 2m0 2h0m2 6h0m15-9h0m10 0h0m4 2l1 2m7 3h0m3-5h0m0 5h0m2-7h0m3 10l-2 2m7-5h0m3-4h0m1 2h0m7 3h0m1-4l1 2m0-4h0m0 5l-1 0m2-7h0m0 2l-2 0m4 0h0m1 5h0m7-6h0m3 3h0m0 4h0m1-2h0m3 4l1 1m1-3l1 2m9-6h0m2 4h0m0 2h0m1-11h0m1 7h0m2-7h0m2 0h0m3 1h0m8 1h0m8 7h0m4-6h0m0 6h0m0 1h0m5-3h0m4-6h0m6 10h0m1-11h0m0 2h0m2-1h0m8 2h0m2 3h0m6 2l-2 1m-190 8l2 0m4-1h0m1 3l0 1m6 1h0m7 1h0m15-6h0m1 5l0 1m4-9h0m3 9h0m6 1h0m15-6h0m8 6h0m2-8h0m5-3h0m6 6l-2 1m2 4l2 1m-1-6h0m1-2h0m0 6h0m2-6h0m1 4h0m4 0h0m3-1h0m2 1h0m7 1h0m0 1h0m1-3l1 1m3-2h0m2-3h0m2 6h0m6 1h0m1-7h0m1-1h0m4 8l-1 1m9-1h0m1-8h0m6 8h0m7-1h0m4-3h0m2-4h0m2 0h0m3 2h0m4 1h0m0 3h0m0 3l-1 2m6-10h0m5 4l0 2m4-9h0m4 1h0m7-1l2 1m0 1h0m0 7h0m-186 3h0m7 1l-1 1m2 2h0m0 2h0m1-3h0m1 5h0m2-7h0m7-1l0 2m2 0h0m6 6h0m2 2h0m2-4h0m0 4l1 1m1-9h0m3 8h0m11-8h0m1-2h0m3 10h0m2-2l-1 2m2-9h0m2 6h0m2-7h0m0 6h0m1 0h0m1 5h0m1-7h0m2-2l-1 1m4 3h0m6 1h0m3-2h0m1-5h0m1 4h0m0 3h0m1 4h0m3-8h0m8 6h0m2-8h0m1 10h0m2-4h0m1 4h0m2-4h0m1-1h0m1 4l0 1m3 0h0m2-2h0m6-3h0m1 5h0m3-9l-1 0m5 5h0m3 1h0m2-5h0m1 2l2 0m0-2l-1 1m2 1h0m0 6h0m7-5l-2 1m2 1h0m1-8h0m1 6h0m3 1h0m7-1h0m2-1h0m4 2l1 2m1-4h0m5-3l-2 0m4 5h0m15-7h0m1 3h0m2-1h0m3 2h0m4-4h0m-190 12h0m4 5h0m8-3h0m1 8h0m3-8h0m0 8h0m1-6h0m1-4h0m1 9h0m2-1h0m6 0h0m1-5h0m1 2h0m2-4h0m1 9l-1 0m4-8h0m2 4h0m2 5h0m5-7h0m3-4h0m2 10h0m3-8h0m3 3h0m3-5h0m1 7h0m3-3h0m1-3h0m5-1h0m0 7h0m3-2h0m4 3h0m4-4h0m2 6h0m2-1h0m1-8h0m0 4l-2 1m2-1h0m2-2h0m8-2h0m5 9l-2 1m3-5h0m1-4h0m4 2h0m2-2h0m0 4h0m0 2h0m3 2h0m3-4h0m1-1h0m1-5l2 1m-1 6h0m1-3h0m0 5h0m4-1h0m6 2h0m2-2l2 1m3-5h0m2 1h0m8 5h0m3 0h0m2-6h0m5-4l-2 0m5 11h0m3-11h0m3 7h0m3 1h0m1-7h0m0 6l1 1m5-4h0m0 7h0m4-9h0m0 1h0m2 2h0m3-4h0m0 6h0m1 2h0m5-9h0m2 2h0m0 4h0m1 3l-1 2m-191 4h0m1 5h0m0 2h0m1-8h0m0 3h0m2-5h0m1 11l-2 0m11-5l1 1m2 4h0m5-7l1 1m0-4h0m2 8h0m2-7h0m7 6h0m4-2h0m2 0h0m1-3h0m3 7h0m2 1h0m7-6h0m1 5h0m1 0l-1 1m4-11h0m0 8h0m5-1h0m1 0h0m1 2h0m4-2h0m1-6h0m2 2h0m2 6h0m2-4l2 0m2 5h0m2-9h0m4 1l0 1m3 7h0m2-4h0m3 5h0m4-7h0m3-1l2 1m8-2h0m1 2h0m7-3h0m8 3h0m3 5h0m1-9l2 0m3 0h0m4 6h0m0 3h0m1-6h0m4-1l1 2m2-4h0m1 3h0m6 7h0m2-9h0m4-1h0m0 11l-1 1m9-1h0m2-4h0m1-5h0m2 0h0m4-1h0m0 3h0m12 1h0m1 4h0m0 2l1 1m1-8h0m1-3h0m0 10h0m-192 8h0m0 0l-1 1m3-4h0m2 3h0m3-3l-1 1m2-5l-2 0m2 11h0m5-8h0m6 0l0 2m2 1h0m6 0h0m2 1h0m6 2h0m1-6h0m1-3l-2 1m3 6h0m1 3h0m2-8h0m2 1h0m4-1h0m3 0h0m5 6h0m3 1l0 1m1-7h0m3-1h0m0 3h0m0 5h0m6-2h0m1-6h0m3 4h0m1 1h0m10-6l-2 1m2-1h0m2 6h0m3-3h0m0 3h0m1 1h0m1-2l2 1m1 3l0 2m5-10h0m2 6l-1 1m7-3h0m2 0h0m8-4h0m5-2h0m1 4l1 2m1 5h0m1-11h0m0 11h0m10-11h0m3 7l1 0m4 4h0m6-9h0m3 3h0m8 4h0m5-8h0m1 9h0m2-3l2 1m4-3h0m2 2h0m3-3h0m2 1h0m7-1h0m4-2l1 1m-1 5h0m-192 12h0m6 0h0m1-7h0m4 7l-1 1m5-5l1 1m4 2h0m4-7h0m2 3h0m0 7h0m1 1l0 3m4-11h0m0 7l2 1m-1-5h0m1 1l2 1m-1-4h0m3 2h0m1-6h0m0 8h0m1-7h0m1 4h0m3 0l-1 2m3-4h0m3 3l1 0m5-2h0m6-1h0m2 6h0m11-5h0m8 4l1 0m5-3h0m0 3l-1 1m3-6h0m6 7h0m5-8l-2 0m4 0h0m3 6h0m1-7h0m4 1h0m2 9h0m2-11h0m1 2h0m1 1h0m3-1h0m0 1h0m1 7h0m1-8h0m0 2l0 1m1-3l1 0m9 1h0m1 8h0m4-10h0m1 4h0m5-1h0m4-3h0m4 2l0 2m4 3h0m3 1h0m0 1l-1 0m18-2h0m3-7h0m5 3l-1 1m2 0h0m1-3h0m1 6h0m1-7h0m0 6h0m1 0h0m1 3h0m2-8h0m-186 18h0m2-5h0m1 8h0m2-1h0m1-9h0m2 7h0m3-6h0m3 9h0m1-8h0m0 5h0m1-2h0m4-5h0m1 7h0m4-6h0m3 5h0m0 2h0m2-9h0m1 1l0 2m3 2h0m5-5h0m1 11h0m2-5h0m1 4h0m1-9h0m0 5h0m5-6h0m2 0h0m1 9h0m3-2l-1 1m7-4h0m1-1h0m0 5h0m3-4h0m6 0h0m5-1h0m2 2h0m2-3l2 1m-2 1l0 1m20 3l0 2m1-8h0m0 3h0m1 3h0m3 0h0m7-4h0m14 4h0m3-5h0m0 7h0m5-3h0m1 1h0m6-4h0m4 2h0m2-3h0m0 8h0m7-5h0m9-4h0m5 5h0m1-5l-2 1m2 0l0 2m1-4h0m5 3h0m1 6h0m5 1h0m5-5h0m-190 9l1 2m11-5l-1 1m26 0h0m9 1l1 0m17-1h0m23 1h0m4 1h0m18-3h0m8 1h0m10-1h0m19 2h0m2-2h0m13 0h0m30 2l1 1" stroke="#6262c2" stroke-width="2.1" stroke-opacity="0.85" stroke-linecap="round" fill="none"/><path d="M14 9h0m27 1h0m17-7h0m10 6l1 0m-1 2h0m4-10h0m35 8l-1 0m20-8l1 1m7 9h0m21 0h0m15-1h0m5-3h0m4 4h0m4 0h0m2-5l-1 1m2-7h0m6 9h0m2-1h0m-177 7h0m2 7h0m3-5h0m17-5h0m4 3h0m4 8l1 1m11-8h0m5 0l-2 1m12-4h0m13 2h0m17-2l-2 1m16 0h0m19 0l1 1m6 8h0m6-8h0m4 4h0m7-2l1 2m2-7h0m0 1h0m7 6h0m2-4h0m5-2l0 1m0 2h0m8 6l-1 1m3-4h0m1-3h0m-183 18h0m9-10h0m90 3l0 1m7 1h0m14-4h0m4 2l0 2m4-4h0m3-1h0m5 10h0m3-10h0m8 10l1 1m0-3h0m5-4h0m9 7l-1 0m11-10h0m0 7h0m13-2h0m-162 12h0m31-6h0m3 6h0m5-5h0m9-1l0 1m47-1h0m28 7h0m8-1h0m6-1h0m1 2l1 1m0-8h0m2 6h0m5-4h0m13 1h0m4 4l-1 1m2 2h0m-136 5h0m35 3l1 1m19 4h0m15-3h0m16-3h0m1-1h0m1 7h0m4-7h0m1 1h0m34 5h0m8-10h0m-187 12h0m1 9h0m8-3h0m6 5h0m5 0h0m1-5l0 1m9-7h0m47 5h0m42 2h0m14-5l0 1m0 5h0m17-4h0m29 4h0m5-3l-2 1m5-1h0m-189 7h0m20 2h0m16 3l2 1m37-1h0m11-2h0m2-3h0m27 10h0m7-10h0m8 4h0m20 4h0m1-2h0m22-1l-2 1m10 2h0m1-4l-2 1m-178 11h0m16 3l1 1m21-1h0m39 0h0m7 3h0m2-8l0 2m2 4h0m0 2h0m1-4h0m1 5h0m8-11h0m3 5h0m1-4h0m3 3l1 1m3 4l-2 1m3-3h0m0-2h0m2 0h0m1 1h0m2 2h0m7 2l-1 2m4-7l0 2m17 3h0m7-2h0m22 0h0m11-4h0m6 0h0m2 6h0m-193 8h0m11 4h0m13-4l-1 2m10-4h0m9 4h0m26 2h0m5 1h0m5-1l-1 1m6-10h0m7 2l0 1m1-3h0m4 4h0m7 4h0m4-9h0m3 11h0m1-5h0m11 5h0m9-5h0m1-5l-1 1m20-1h0m2 3h0m21 3l-1 2m20 1h0m-177 7h0m5 1h0m1-2h0m4-1h0m5 8h0m7-9h0m2 4h0m7-5h0m6 3h0m7-1h0m5-2l-2 0m13 10l-1 0m2-1h0m9-3l0 2m3-8h0m9 3h0m2-3h0m5 7h0m12 3h0m2-10h0m1 6h0m2-1h0m2-2h0m3 1h0m4-3h0m2 4h0m2-6h0m5 3h0m14-1h0m9 7l2 0m2-9l-2 1m6 5h0m15 5h0m-171 9l-1 2m12-3l0 1m6 3l-1 1m4-7h0m4 3h0m4-2h0m4 5h0m2-6h0m3 3h0m4-6h0m12 9l0 1m3-4h0m15-3h0m13 3h0m13-6h0m4-1h0m11 0h0m15 7h0m7 0h0m-135 4h0m2 0h0m0 9h0m4-5l1 2m-1 0h0m3-5l-1 1m4 5l2 2m0-4h0m5-4h0m3 2h0m4 0h0m2-1l1 2m1 0h0m4 4h0m2-7h0m8 3h0m6 5l2 1m0-2h0m5-3h0m23-5h0m16 0h0m41 5l2 1m2-4l2 2m10 7h0m8-1h0m11 1h0m-186 3h0m6 8h0m1-4h0m3 1l-2 1m7 0h0m3-8h0m2 0l2 0m3 3h0m3-2h0m1 7h0m3-5h0m8 8h0m3-2h0m1-3h0m2-6l-1 0m5 10h0m4-3h0m3-3l-1 0m5 0l1 1m2-4h0m1 2h0m4-2h0m0 10h0m3-1h0m1-3h0m9 4h0m2-1h0m2-8l-2 0m15 3h0m31 2l-1 1m23 0l-2 1m18-3h0m-169 9h0m16 2l-2 2m4-2h0m4-3h0m4 2h0m4-2h0m2 9h0m2-1h0m9-8h0m3-1l1 1m14 0h0m7 5l-1 1m12 2h0m4-1h0m9-6h0m42 7h0m13-7h0m19-3h0m0 8h0m15 0l-1 2m5-2h0m-127 5h0m12-1h0m37 3h0m18-3h0" stroke="#3c3caa" stroke-width="2.6" stroke-opacity="0.9" stroke-linecap="round" fill="none"/></g></g></g>
<g transform="translate(239.6,320.5)" clip-path="url(#tc9)"><rect width="97.8" height="85.4" fill="#e8e6f0"/><g fill="#c0c2e8" filter="url(#hbl)"><rect width="97.8" height="85.4" fill-opacity="0.33"/></g><g filter="url(#hbl)"><ellipse cx="80" cy="75" rx="25" ry="14" fill="#e2d4d0" fill-opacity="0.6"/></g><g filter="url(#hsh)"><polygon points="-5,70 10,68 22,72 26,86 -5,90" fill="#fbfbfb" fill-opacity="0.95"/><ellipse cx="42" cy="30" rx="5" ry="4" fill="#f4f2f6" fill-opacity="0.6"/></g><rect width="97.8" height="85.4" filter="url(#htx)" opacity="0.18"/><g filter="url(#hdt)"><g transform="scale(.5)"><path d="M4 10h0m21-1l0 1m4-6h0m4 6h0m5-8h0m1 6h0m4-5l-2 1m7 1h0m0 3h0m5-5h0m3 7h0m5-8h0m18 9h0m1-6h0m4 0h0m7 3l1 1m3 1h0m2 0h0m3-2h0m3-8h0m0 5h0m8 6h0m1-10h0m7 6h0m10 4h0m4-9l2 0m-2 2h0m4 0h0m2 6l2 2m3-1h0m3-5l0 2m1 3h0m14-3h0m3-4l0 1m3-4h0m3 4h0m3-3h0m2 4h0m7-3h0m6 3h0m0 3h0m-187 12h0m2-3h0m8-5h0m0 3h0m3-2h0m0 2h0m4 2h0m0 2l-2 1m6 1h0m1-4h0m3 1l2 1m-1-4h0m5 3h0m1 2l1 2m11-10l-1 2m6 3h0m8-4h0m0 2h0m4 7h0m6-3h0m4 0h0m2-8h0m5 6h0m14 2l-2 1m9-4h0m1 6h0m2-7h0m3-2l2 0m-1 1h0m2 3h0m4-2h0m7 0l-1 1m3-1h0m3 4h0m4-8h0m12 0h0m3 7h0m3-6l1 1m5 1h0m4 5h0m10-2l1 0m5 1h0m8-2h0m2 2h0m2-4h0m-179 14h0m1-4h0m0 9h0m3-8h0m3 0h0m8 4h0m7 0l0 2m3-3h0m4 2h0m6 0l-1 2m2-7h0m3 2l1 1m3-4h0m4 5h0m17-6h0m2 8h0m3-7h0m5 1h0m6 0l2 1m-2 7h0m5-4l-2 0m5-6h0m0 2l-1 1m1 2h0m4-1h0m0 2h0m8 2h0m5 2h0m24-2h0m1-2l0 2m9-7l0 1m1-2h0m1 10h0m16-9h0m2 3h0m7 1h0m0 6h0m3-2h0m4 2l-2 1m3-6h0m1 5l2 1m7-4h0m2 1h0m2-8h0m-193 17h0m4-5h0m8 4h0m3-3h0m6 4h0m8 3h0m4-3h0m2 0h0m0 2h0m1-2l0 2m1 2h0m6-4l-2 1m5-3h0m5 6h0m2-10h0m11 4l0 2m1-6l-2 0m6 6l-2 2m6-6h0m7 5h0m6 2l1 0m2-3h0m7-2h0m3-4h0m2 11l2 1m3-8h0m9-1h0m2 3h0m1-5h0m2 5h0m13 0h0m1-5h0m4 7h0m10-1h0m4 1h0m3-7l-1 0m5 7l1 2m5-9h0m2 2l-1 2m7 3l2 1m0 2h0m3-1h0m9-10l-2 0m8 3h0m-190 10h0m7 1h0m2 2h0m0 3h0m1-2l-2 2m3 4h0m22-2h0m2-8h0m1 7h0m2 3h0m9-11h0m2 4h0m4-1h0m3 2h0m2-4l1 1m5 2h0m5-1h0m9 6h0m1-2h0m2-1h0m1-5h0m3 0l0 1m3-1h0m0 2h0m0 4h0m2 0h0m2-7h0m5 9h0m1-3h0m15-3h0m3-1l0 2m0 5l1 2m1-11h0m9 1h0m0 6h0m5 3h0m4-2h0m7-4h0m3 0h0m5-4h0m4 1h0m3 7h0m2 0h0m8-7h0m5 6h0m1-4h0m2 0l-2 1m7 7h0m1-9h0m4-1h0m4 8h0m0 1h0m-194 3h0m2 10h0m2 0h0m2-4h0m0 2h0m2-9h0m0 1h0m1 5h0m2-2h0m1 0l1 1m5 0h0m2 4h0m3-2l0 1m4-4h0m3-2h0m22-1h0m2 2l-1 0m4 5h0m2-2l2 0m0-4h0m8 2h0m6-1h0m1-3h0m2 2l0 2m1 7h0m3-10h0m5 2h0m0 5l2 1m3-8h0m0 9h0m6-9l-2 1m9 6h0m3-4h0m4 2h0m1-4h0m0 8h0m6-7h0m7-3h0m2 10h0m2-9h0m3 0h0m0 8h0m7-8h0m1 8h0m13-2h0m9-7h0m3 3h0m1 6l-1 1m6-3l1 2m1-9h0m7 7h0m1 2l-1 1m2-8h0m3 7h0m-187 4l1 1m10 9h0m2-6h0m0 2h0m3 0h0m2-5h0m2-1h0m1 2h0m2 4h0m2-5h0m6 6h0m1 1h0m6-3h0m2-3h0m0 4h0m3-5h0m4 0h0m5 3h0m2-1l0 1m4 2h0m11-4h0m5-3h0m3 8h0m6 1h0m2-9h0m1 0h0m0 7l-2 2m6-1h0m6 1h0m3-5h0m0 5l-1 1m6-10h0m2 1h0m4 2h0m11 5h0m1-8h0m3 1h0m10 7h0m8-3h0m8 0h0m8 3h0m6-7h0m0 8h0m0 1h0m3 0h0m2-4l1 0m5-4h0m2-2h0m1 9h0m9 2h0m3-1l1 2m0-10h0m3 5h0m-192 13h0m1-7l0 1m4 4l0 2m7 1h0m5 0h0m2-1h0m6-1l-2 1m3-8l-1 2m3-2h0m2 8h0m8-8l1 0m4 10h0m2-8h0m0 8h0m2-3l2 1m1-1h0m4-4l-2 1m3 2h0m1 5h0m4-11h0m1 2h0m2-1h0m4 4h0m1 1h0m2-4h0m3 2h0m4-3h0m3 0h0m1 9h0m3-6h0m8-4l1 2m3 0h0m4 2h0m1-1h0m7 3h0m4-1l0 1m0 4h0m5-9h0m0 8h0m0 2h0m1-8l-2 0m4-3h0m5 5h0m5-3h0m1 5h0m0 3h0m11-1h0m1 2h0m3-1h0m5-9l0 3m11 2h0m3-6h0m4 3l-1 0m2-1h0m7-2h0m0 10h0m4-7h0m-182 11h0m0 4l2 1m3 1h0m4-6h0m0 5h0m4-3h0m3 7h0m2-11h0m3 6h0m1 2h0m2 0h0m3-2h0m3-2h0m4-3h0m7 9h0m1 0l2 1m6-4h0m4-1h0m5-2l2 2m6 2h0m2 2h0m3-1l1 0m2-9l-1 1m3 2l1 0m3 4h0m3-4l-2 1m5-4h0m5 9h0m8 1h0m2-5h0m5 3h0m4-6h0m0-1l1 2m4-3h0m0 3h0m5 6h0m7-8l2 1m0 4l-1 1m9-5h0m1 9h0m1-3h0m9-5l-2 1m3 6h0m6-10h0m2 11h0m3-5l-2 0m4-4h0m2-2l2 2m-1 0h0m10 2h0m0 0h0m4-1h0m3-2h0m0 8h0m1 2h0m5-8h0m0 8h0m1-8l-2 1m-190 16h0m3 3l-2 1m3-10h0m2 5h0m0 2h0m1-4l2 1m16 2h0m0 2h0m1-6h0m3-1h0m1 2l2 1m2-1h0m9-3h0m0 8h0m4-4h0m0 5h0m5-11h0m1 9h0m2-8l-1 2m2 2h0m2 4l-1 1m11-8h0m1 2l-1 1m1 3h0m3-8l2 0m-1 4h0m2 7h0m5-8l-2 0m7 2h0m7 1h0m8 1h0m1-6h0m12 3h0m3 5h0m3 2h0m9-8h0m5 8h0m1-9l-2 1m6 3h0m1 4h0m4-5h0m1-2h0m1 8l1 1m0-12l1 0m1 4h0m1-4h0m0 11h0m8-4h0m3 3l-1 0m3-9l1 1m0 3h0m6-4h0m0 5h0m3-6l-1 1m1 4h0m3-3h0m5 5h0m8 3h0m3-8h0m-191 20h0m7-7l-1 1m5-2h0m2 1h0m1-3h0m2 4h0m0 6h0m6-7h0m5 6h0m4-3h0m1-4h0m1 8h0m5-7h0m3-2l-2 0m4 2h0m4-2h0m2 1h0m5 2h0m3 4h0m5 1h0m0 1l-2 0m3-7h0m7 7h0m4-3l2 1m2-4l2 0m1 3h0m1-3h0m2 5h0m0-1l1 1m5-9h0m1 4h0m7-1h0m3 1h0m4 1h0m0 1h0m1-5h0m0 3h0m0 5h0m7 0h0m8-6h0m7 5h0m8-4h0m1 1h0m7-1h0m3 0h0m2-2h0m0 2h0m3 4h0m1 3h0m4 0h0m7-2h0m3 1h0m3-9l1 1m-1 2l-1 2m2 0l2 2m9-7l-1 0m1 6h0m2 1h0m1 2h0m2-2h0m7-8h0m0 10l1 0m-183 3h0m13 4l-1 0m3 5h0m3-1l0 1m4 1h0m2-9l1 1m1 6l0 2m4-8h0m2 8h0m9-8h0m5 8l1 1m3-10l2 1m5-1h0m0 6l-1 2m3 1h0m6-11h0m6 3h0m3 4h0m2 4h0m8-10h0m0 7h0m4-1h0m11-5h0m6 6h0m13-8l-2 1m7 8h0m1 1h0m3 0h0m1-2h0m3-6l1 2m3 7l1 0m7-10h0m4 3h0m14 1h0m1-5h0m7 11h0m4-7l2 0m-1 6h0m2-5h0m2 4h0m4-9h0m-155 16h0m5 2h0m9 2h0m2 1l-1 1m8-9l0 1m3 1h0m0 3h0m1 5h0m1-2h0m2-5h0m1 1l0 1m3 0h0m3-1h0m7 4h0m9 0h0m3-7h0m5 5h0m1-7h0m4 6h0m15 4h0m1-8h0m1 8l-2 0m5 1l1 0m1-7h0m2 3h0m3 3h0m2-6h0m1-4h0m11 9h0m5-5l0 2m0 4h0m2 0l0 1m9-1h0m2-8h0m4 2h0m0 4h0m2-8h0m4 2h0m1 8h0m3 1h0m10-8l1 1m6 7l2 0m-150 3h0m13-2h0m15 7h0m1-3h0m1-1h0m3 6h0m10-6h0m2 6h0m3-7h0m0 7h0m4-3h0m6-3h0m3 0h0m2 2h0m3 1h0m2-2h0m3-2h0m0 3h0m5 3h0m2 1h0m11-2h0m0 2h0m1-6h0m1-1h0m0 3l-1 1m9-1l-2 2m12-3h0m3-1h0m2-3l2 0m3 0h0m12 4l0 2m4 0h0m1 3l-1 1m13-4h0m-130 6h0m3 0l-2 1m9 0h0m15 0h0m14 0h0m36-1h0m2 0h0m9 0h0m1 0h0m1 2h0m17-2h0" stroke="#8888d2" stroke-width="1.7" stroke-opacity="0.8" stroke-linecap="round" fill="none"/><path d="M1 4h0m1-1h0m0 8h0m6-6h0m2-2h0m0 6l-1 0m3-6h0m2-2l1 2m0-1h0m0 1l1 2m-1 6h0m1-2h0m1-3l-1 2m2 2l-1 2m4-10h0m1 4h0m2 0l-1 1m7-5h0m1 6h0m9-5h0m3 5h0m1 0l0 1m1-2h0m5-2h0m3 5h0m1-2h0m11 1h0m0 1h0m1-8h0m4-2h0m3 7h0m1 2h0m1-4h0m1 3h0m1-6h0m2 6h0m1-8h0m0 8h0m4-3h0m0 6l1 1m1-2h0m3-3h0m1-1h0m3-1h0m3-3h0m11 7l1 2m0-2l1 1m3-1h0m2-1h0m2-5h0m0 7l0 1m4 0l-1 1m3-1h0m2-7h0m4 2l-1 0m2-2h0m3 1h0m2 1h0m1-2h0m0 2h0m0 3h0m4 1h0m3-6h0m1-2h0m0 7h0m3-8h0m0 3l1 0m2 2h0m2 1h0m1 2h0m2-3h0m1 2h0m1-3l-1 2m3 0h0m2 2h0m1-4h0m1-1h0m2-3h0m2 4h0m2 4h0m8-1h0m1-6h0m12 0h0m3 2l2 0m-191 15h0m3 2h0m3-1h0m4 2h0m2-4h0m0 5h0m4-3l0 2m1 0h0m9 1h0m1-6h0m1-3h0m1 1h0m6 1h0m0 6h0m2 0h0m1-7h0m0 8h0m2-11h0m0 4h0m0 6h0m4-4h0m4 4h0m1-7h0m1-3l-1 1m6 7h0m3-8l0 2m1 3l0 2m4-1h0m1 3h0m2 1h0m1-6h0m3-2h0m1 4l1 1m1 1l-1 0m2-1h0m1-1h0m4 3h0m1-8l-2 1m5 7h0m1 1h0m2-9h0m1 2h0m4 1l0 1m4 2h0m4-6l-1 0m2 1h0m1 9h0m1-5h0m4 2h0m1-3h0m1 1l0 1m0 2h0m2-2h0m0 4h0m1-11h0m2 10l-1 1m4-8h0m1 2h0m4-3h0m0 6h0m5-3h0m2 0h0m2 6h0m4-3l-1 1m4-3h0m0 4h0m2-8l1 2m-1 2h0m1-2h0m3-4l0 2m0 3h0m0 5h0m1-2h0m4-6h0m0 4h0m1 2h0m1-2h0m3-6h0m1 0h0m11 11h0m8-2h0m1-5h0m3 5h0m4-6h0m4 4h0m1 4h0m1-3h0m1-4h0m3 0h0m-189 11l1 1m1 1h0m3 4l0 2m1-7h0m2 3h0m2-2h0m0 3h0m1-7h0m3 2h0m1 0h0m4-3h0m1 10h0m4 0h0m3 0l2 0m-1-7h0m2-3h0m2 0l-2 2m2 1h0m0 4h0m1-3h0m6 7h0m3-7h0m0 6l-1 1m5-2l-1 2m2-7h0m3 1h0m2 3h0m0 3l2 1m0-7h0m1 0h0m2 1h0m1-5h0m4 6h0m3-1l-1 1m4-7l-1 1m2 4h0m1-5l0 1m4 1h0m3 0h0m2 5h0m0 2h0m0 1h0m3-3h0m3 4h0m2-7h0m2 2h0m3 2h0m2 2l-2 1m7-10h0m2 1h0m0 2h0m0 6h0m5-6l-2 0m4-1h0m1 5h0m2-5l0 2m9 2h0m6-4l1 1m-1 2h0m0 2h0m1-7l0 1m4-2h0m2 9h0m6-1h0m5-8h0m1 0h0m2 3l-2 1m6-3l2 0m3 9h0m1 0h0m1-1h0m5-7h0m2 4h0m0 3h0m1-5h0m1 6h0m5-10l-1 1m2-1h0m7 2h0m0 4h0m3 5h0m2-5h0m0 4h0m2-5l-2 2m4-2h0m1 6h0m-189 4l-1 2m1 3h0m3-4l-2 1m2 3h0m1-6l-2 1m3 5h0m1 2l1 1m3-10l-2 2m2 3h0m0 5h0m2-6l0 1m1 0h0m1 1h0m3-7h0m1 2h0m2 8h0m3 0h0m5-9h0m0 7h0m7-5h0m4-1l0 2m14-4h0m1 0h0m1 4l1 2m0 3h0m4-1h0m2-2h0m3-4h0m0 9l-1 0m3-11h0m0 6h0m1 3h0m1 1h0m3 0h0m5-10h0m2 9h0m1-8h0m3 3h0m10 5h0m7 2h0m1-9h0m0 3h0m5-2h0m1-1h0m1 5l1 2m2-7h0m4 7l-1 0m5 1h0m3-10h0m1 3h0m1 2h0m1 2l1 0m3-4l1 1m3-1h0m3 3h0m1 3h0m1-7l1 1m1-3h0m1 6l0 2m1 3h0m3-2h0m2-1h0m5-1h0m2-6h0m2 9h0m1 1h0m4-8l-2 1m4 2h0m3-4h0m2 9h0m1-11h0m5 2h0m1 5l1 2m0 2h0m8-5h0m0 5h0m2-9l-3 0m4 4h0m2-1h0m-191 7h0m0 4h0m0 4h0m7 2h0m7-10h0m2 3l-1 0m4 3l1 0m-1 4h0m1 0h0m3-10h0m1 8l-1 1m2 2h0m1-9h0m1 6l0 1m1 1l0 1m2 0h0m2-8h0m0 4l-1 0m2-5h0m2 8h0m2-4h0m1-6h0m2 7h0m2 4h0m2-7h0m1-3h0m1 8h0m2 1h0m5 0h0m1-4h0m1 5h0m2-11h0m0 7h0m3-2h0m3-5l1 2m5-2h0m0 7h0m2-5h0m2-2h0m2 2h0m0 9h0m6-9h0m0 3h0m2-2h0m2 6h0m0 2l-2 1m2-2h0m3-1l2 1m3-3h0m1-7h0m1 0h0m0 4h0m4 0h0m1 1h0m1 2h0m2 0l0 2m3-8h0m1 4h0m1 0l1 1m4 3h0m4-9l0 2m3 6l-1 1m2-8h0m0 2h0m3 3l-1 1m2-2h0m0 5h0m2-2h0m3 2h0m4-4h0m2-6h0m4 0h0m1 11h0m5-4h0m1 1h0m8 2h0m1-10l-2 1m2 8h0m1-2h0m6 2h0m1-6h0m2 7l2 0m0-6h0m2 7h0m1-9h0m0 2h0m2-1h0m0 6h0m7-1h0m1-1h0m1-5h0m5 4l1 0m0-3h0m1-3l1 0m0 0l0 2m1 0h0m1 2h0m-196 11h0m2 3h0m1-1h0m4 2h0m6 2h0m3-2h0m1-6l-1 2m1 8h0m1-4h0m4-3h0m0 5h0m3-6h0m1 6l-1 2m2-10l-2 1m7 8h0m5-8h0m0 5h0m2-5h0m0 6h0m1-1h0m0 4h0m6-5h0m0 5h0m2-3h0m1-6h0m5 5h0m2-2h0m7 4l2 1m1-4l2 1m0-5h0m1 5h0m1-1h0m1-5h0m5 8h0m3-4h0m0 5h0m4-10h0m2 2h0m0 7h0m1-6h0m1-3h0m1 11h0m6-6h0m7-3h0m0 5h0m4-1l2 1m2-5h0m1 6h0m1-3h0m1-1h0m1-3l0 2m4-3l0 1m2 6h0m4-5h0m5 6h0m4-3h0m5 4h0m1-4h0m0 3h0m0 3h0m5-11h0m5 5h0m2 2h0m4-4h0m2 1h0m8-3h0m0 6h0m0 1h0m4-7h0m6 4l2 0m-1 4h0m3-7h0m2 3h0m2-3h0m3 8h0m3-6l-1 0m5 5l2 1m1-3h0m0 4h0m-189 3h0m0 1h0m2 0h0m3 0l-3 0m10 2h0m1 4h0m4-1h0m1-7h0m0 2h0m3 2h0m1 3h0m8-6h0m5 5l-1 1m3-1h0m1 3l-1 0m2-7h0m0 6h0m7-9h0m1 6h0m1 4h0m5-7h0m1-3h0m2 3h0m0 2h0m0 6h0m1-3h0m2 3h0m1-6h0m1-5h0m0 9h0m5-6h0m0 2h0m2 0h0m3-5h0m2 4h0m0 6l0 2m2-3h0m2-6h0m4 7l2 1m7-8h0m4-2h0m1 1l1 0m-1 9h0m6-5h0m1-6l-2 0m6 10h0m1-9h0m1 8h0m2-9h0m0 5h0m3 3l-1 1m8 0l2 0m-1-6h0m2-1h0m2 0h0m2 2h0m3 7h0m3-11h0m0 6h0m10 1l-2 1m3-8h0m1 0h0m4 1h0m1 8l0 1m5-1h0m1-7l-1 0m2 4h0m3 4l2 1m1-4l0 2m4-9h0m1 8h0m2-2h0m0 3h0m2-6h0m0 8h0m14-9h0m3 9h0m-195 8l2 1m0 3h0m3-8h0m0 8h0m2-10h0m2-1h0m1 5h0m1 2h0m1-1h0m0 4l-1 0m3-9h0m1 0h0m2 2h0m0 3h0m1-5h0m3 4h0m2-3h0m0 9l-2 1m3-7l-1 1m2-4h0m3 6h0m2-2h0m0 4h0m2 0h0m2-6l1 1m1 0h0m1-3l2 1m-2 8h0m1-10h0m0 5h0m8-4l1 0m-1 8h0m2-9h0m3 10h0m1-9l-2 1m2 6h0m10-7h0m1 8h0m6-6h0m3 2h0m0 2h0m1-4l0 1m1 4h0m6-5h0m5 6l2 2m0-6h0m3 5l-1 2m3-9l2 0m-2 7h0m1-11h0m4 5h0m4 2h0m1 2h0m6-6h0m0 4h0m1 4h0m1-5h0m0 3l-2 2m6-11h0m1 0h0m0 5h0m5 1h0m1-6h0m4 1l-1 0m1 8h0m5 0h0m0 2l1 1m6-9h0m2 4h0m2-6l2 1m-2 4l0 1m2 3l1 0m0-3l1 1m3 2h0m2-9h0m0 5h0m4-5l-1 1m2 6h0m1-5h0m2-2h0m1 8h0m1 2h0m2-11h0m1 1h0m0 2h0m1-2h0m1 8h0m2-1h0m2-3h0m0 5h0m3-2h0m2 2l0 2m1-5h0m2-5l2 1m-1-1l-1 1m4-3l-2 1m3 0h0m2 5h0m2 4h0m1-7h0m1 2h0m2-2h0m0 3h0m-187 17h0m4-9h0m0 2h0m1 6h0m1-9h0m3 8l2 0m5-6h0m1 6l-2 1m4-6h0m0 6h0m4 1h0m3-3h0m0 3h0m1-4h0m1-6h0m1 6h0m5-2h0m1 5l-1 1m3-11h0m1 5l0 1m2-4h0m1 5h0m1 0l2 1m1-3h0m3 5h0m3-9h0m1 6h0m6 2h0m1-2h0m2-2h0m0 3h0m2-6h0m2 4h0m2-6h0m1 6h0m4 1l2 1m0-5h0m2 6h0m1-4h0m0 2h0m7-4l-2 2m3 4h0m1-4h0m4-3h0m0 8h0m1-8h0m3 8h0m1-10h0m2 3h0m0 3l2 0m0-2l1 0m1 0h0m2 6h0m1-9h0m0 2h0m1 7h0m3-5h0m6 2h0m12-3h0m2 7l1 0m0-11h0m1 0h0m1 4l-3 0m4 1h0m3 2h0m1-4h0m0 2l1 1m1 2h0m1-4h0m1-3h0m2 1h0m0 3l0 1m1 5h0m1-4l1 2m-1 2h0m1-10h0m2 9h0m3-5h0m2 6h0m6-2h0m9-1h0m2-5h0m5 5h0m4-7l-1 2m1 8h0m2-5l-1 1m1 0h0m3-4h0m1 6h0m1-7h0m0 2l2 1m3-4l2 1m0 8h0m-188 3l-2 2m4-3l1 1m-1 4h0m3-1l-2 0m2 1h0m2-3h0m1 9l1 0m3-4h0m2-7h0m2 1h0m0 10h0m4-3l-2 0m6 2l0 2m1-4l0 1m2-5h0m2 2h0m1 5h0m4 0l-1 1m3-3h0m1-2h0m0 3h0m3-3l-1 2m4 0h0m3-4l1 2m4-7h0m5 3h0m1 5h0m1 3h0m4-5l2 0m1-5l2 0m1 4h0m4 3h0m2 1h0m1-6h0m3-2h0m2 6h0m3-7l1 1m0 1h0m2 9h0m2-3h0m3-2h0m2-3h0m3 2h0m1-1h0m6 5h0m4 1h0m3-10h0m1 7h0m5 2l1 1m1 1h0m2-10h0m0 9h0m1-1h0m4-9l1 0m1 7h0m1-6h0m0 3h0m3-1h0m1 1h0m7 1h0m10-5h0m0 11h0m3-10h0m6 1l-2 1m5 0h0m0 6h0m7-6h0m1 2l-1 1m2 2h0m1-5l0 3m1 4h0m3-10h0m4 1h0m2 2h0m0 3h0m4 1l-1 1m-188 9h0m0 0l1 1m2 0h0m7 2h0m4-7h0m2 4l1 2m-1 4l2 2m4-7h0m2 5h0m2-7h0m1 1l-1 1m5-2h0m7 3l-1 2m3 1h0m1 1h0m1-8h0m3 0h0m1 5l-2 1m3-9h0m1 2h0m1 5h0m3-1h0m1-2h0m3 1h0m4 3l1 1m3-4l2 1m-2 3h0m2 2h0m3-8h0m2 6h0m2 0h0m3-7h0m2 1h0m3-1h0m3 4h0m8-3l1 1m0 4h0m6-8h0m18 7h0m4-3h0m3 2l-1 2m8-2h0m1-1l-2 2m2 3l0 3m2-11h0m7 8h0m2-2h0m2 3h0m2-10h0m6 4h0m3-2h0m0 5h0m4-6h0m2 8h0m1-1h0m6-9h0m2 8h0m1-2h0m1-5h0m2 2h0m1-2h0m0 6h0m2-7h0m5 2h0m1 5h0m1-3h0m0 3h0m1-6h0m2 0h0m0 6h0m1 2h0m1-4h0m2-4h0m-191 13h0m3-2h0m4 3l-2 1m5-2h0m2 4h0m3-1l1 2m4-7h0m1 8h0m13 0h0m1-8h0m3 8h0m5 1h0m1-3h0m2 1l-1 1m2-5h0m5-3h0m0 2h0m1 1h0m1 0h0m2 2h0m2 6h0m2-8h0m0 3h0m2-4h0m5 7l1 1m2-6h0m6-4h0m1 2h0m3 1h0m2 2l-2 0m3 3l0 2m2-9h0m1 2h0m1 4h0m0 4h0m6-2h0m2 1h0m2 0l2 1m1-8l2 1m2-1h0m0 5h0m5 2h0m4-10h0m2 1h0m1 6h0m0 3h0m1-1h0m3-5h0m0 1h0m2-3h0m3 2h0m1 4h0m8-8l-1 1m6 0h0m1 5h0m6 5h0m1-8h0m8-2h0m3 0h0m6 2h0m1 1h0m2-1l-1 1m9-4h0m6 2h0m2 7l0 1m5-10l0 2m1 3h0m2-3h0m-194 13h0m49 3l2 2m-1 2h0m4-4h0m1 3l1 1m0-10h0m14 8h0m4-1h0m5 3h0m4-1l2 1m-2 0h0m2-5h0m0 5h0m4-9h0m0 2h0m0 2h0m1 3h0m2-7h0m1 4h0m11-5l1 1m-1 9h0m3-9h0m2 3h0m2 1h0m1-2h0m1-2h0m2 0h0m12 3h0m2-4h0m0 4h0m0 7h0m5-4h0m0 4h0m5-11h0m2 9l1 2m7-7h0m0 7h0m1-6h0m3 4l2 1m2-1h0m3-7h0m0 5h0m2 1h0m1-3h0m4-5l1 0m6 8h0m0 0h0m5-8l-1 1m2-1l2 2m-1 1h0m3 5h0m1-1h0m2 2h0m1-9h0m1 9h0m0 1l0 1m1-5h0m4-2h0m1-4l-2 1m-146 18h0m8-1h0m1-5l1 1m2 4h0m1-1l0 2m2 3h0m1-7h0m3-3h0m0 2h0m1 0l1 2m0 1l-1 2m15-1h0m1-2l-1 1m4-1l0 1m0 3l1 0m0-7h0m4 0h0m0 3h0m1 1l1 1m0 5h0m6-9h0m0 2h0m2 0h0m4-4h0m0 2h0m2 4h0m2-6h0m1 11h0m2-10h0m0 4h0m3-5h0m5 5l2 2m-2 1h0m0 3h0m2-7l-2 2m12-3l-1 2m10-2h0m1-3l2 0m-2 8h0m2 3h0m1-9h0m2 2h0m2 0h0m4 5h0m4-1l1 1m1 2l0 2m5-6h0m10-3h0m0 6h0m4-4h0m3-3h0m7 4h0m1 2h0m5-5h0m-137 8h0m1 1h0m18-1h0m11 0h0m1 2h0m4-2l-2 1m5-1h0m4 0h0m1 1h0m3-1h0m2 0l-1 2m11 1h0m2-1h0m17-1h0m11-1h0m11 1h0m2 0h0m33 0h0" stroke="#6262c2" stroke-width="2.1" stroke-opacity="0.85" stroke-linecap="round" fill="none"/><path d="M2 9h0m7 2l2 1m3-6h0m0 2h0m7-5h0m1-2h0m12 7h0m14-5h0m4-1l2 0m-1 4l1 2m6-5h0m1 4h0m2-1h0m3 2h0m2 2h0m4 0h0m2-7l-1 0m9-3h0m6 8l2 1m5 0h0m1 0h0m5 0h0m3-3h0m1-5h0m0 7h0m2-6l0 2m0-1h0m2 2h0m6-2h0m11 4h0m0 1h0m5-4h0m1 5h0m3-8l-1 0m7 6l1 0m3 0h0m7-2h0m13 3h0m7 0l0 2m3-3h0m1-2h0m3-3h0m0 7h0m1-2h0m6-1h0m3 5l1 1m3-1l2 1m-187 1h0m1 3l2 0m8-1l-1 2m3-5h0m4 8l0 2m3-10h0m4 11l-1 1m3-3l1 0m8-1h0m5-8h0m0 3h0m1-2h0m1 4h0m1 2h0m2-7l1 1m4-1h0m1 6h0m1 1h0m2-5h0m2 2l-1 2m3-3h0m0 7h0m3-5h0m2 3l0 2m7 0h0m2-3h0m5 4h0m3-3h0m2 2l-1 1m3-9h0m0 4h0m9-2h0m0 5h0m9-9h0m3 10h0m2-8h0m1 1h0m6 5h0m6-3l-1 0m5-4l1 2m-1 4h0m3-5h0m5 7h0m2-5l-1 0m4 4h0m6-5h0m6 3l0 2m2 1l0 2m3-9h0m0 1h0m3 2h0m1 6h0m2-9h0m0 4h0m1 2l1 1m0-9h0m2 11l1 2m0-12h0m0 3h0m2 6h0m9-10h0m3 9l-2 1m3-2h0m5-6h0m1 8h0m-193 8l0 1m2 0h0m1 1h0m3 2h0m1-1h0m3-4h0m3 4h0m3 2h0m4-9h0m2 2h0m3-3h0m15 0h0m0 9l0 2m4-3h0m7-7h0m2 0l2 0m2 8h0m1-8h0m1 7h0m2-5h0m1 2h0m0 2h0m5-6h0m0 1h0m2 5h0m11-4h0m4 5h0m1-6h0m1 0h0m3-1l-1 1m4-1h0m3 7h0m1-7l-1 1m3-1h0m3 4l2 0m4-3h0m5 8h0m5-10h0m3 5h0m1-5h0m2 10h0m3-9h0m0 6h0m1-7h0m1 9h0m3 1h0m2-8l0 1m6-2h0m0 1h0m2 3h0m11 1h0m4-1h0m1-6h0m3 0h0m2 5h0m1 0h0m14 3h0m5 1h0m4-1h0m0 2h0m2-9l-1 0m-187 15h0m8 2l-2 1m7 3l-1 1m2-3h0m4-3h0m1-5h0m4 1h0m2 4h0m6 2h0m1-7h0m1 11h0m4-11l1 2m1 1h0m1 4h0m5-1h0m0 2h0m1-4h0m7 4h0m3-6h0m8 2h0m4 4h0m1-4h0m5 3l2 0m0 2h0m1-7h0m3 1h0m1-1h0m6 5h0m0 3h0m4-10h0m3 0h0m2 9h0m14 1h0m3 1l-2 1m11-9h0m2-1l0 2m0 2h0m5 3l0 2m2-9h0m1 3l0 2m0 2h0m0 1h0m16-10l1 2m0 9h0m2-1h0m12-8l-1 1m2-3h0m5 0h0m10 6h0m5-5h0m1 8l1 0m-1 2h0m2-7h0m1 5l1 0m0 0h0m2-5h0m-183 11h0m9 1h0m3 2h0m1-3h0m3 1h0m10 4h0m17-4h0m6 4l1 1m1-7l-1 1m10 6h0m1-4h0m0 3h0m5-5h0m3 0h0m4-2h0m1-1l-2 1m3 4l-1 0m6 0h0m8-2h0m7-2h0m2 9h0m10-5h0m3 1l2 0m-1-6h0m0 7l-1 2m4-9h0m3 11h0m4-5h0m6-1h0m1 3h0m3 2h0m1-10h0m4 7h0m9-7l0 2m2 1h0m0 4l1 2m12-9h0m0 8h0m1-2h0m2 3h0m8 2h0m1-1h0m2-6l-2 0m2 2h0m3-2h0m3 2l1 1m0 2h0m0 1h0m1-1h0m-187 12l1 2m2 0h0m19-11l1 2m4 7l1 1m1-9h0m2 6h0m2-6h0m0 10h0m4 0h0m2-6h0m2-3h0m0 1h0m2-2h0m4 4h0m3-5h0m1 2h0m4 4h0m4-3l-1 1m2 3h0m4-4h0m6-1l-1 2m3 1h0m0 5h0m4-10l1 2m2 3h0m1 2h0m9-3h0m1 3l-1 2m6-2l-1 2m3-4l-1 2m5-3l-2 0m9-2h0m5 6h0m4-1h0m3-4h0m0 4h0m4-3l0 2m3 2l0 1m1-4h0m0 1h0m8-4l2 0m4 0h0m0 3l2 0m5 4h0m2-9h0m4 7h0m9-5h0m4 8h0m1-6h0m3-2h0m3 2l-2 1m4 4h0m2 1h0m1-3h0m2-3h0m8-4h0m0 3h0m-193 17l-1 1m3 0h0m0 2l-2 1m5-4h0m0 2h0m2-10h0m6 4h0m0 4h0m13-6h0m1 8h0m6-1h0m1-6h0m3 5h0m9-5l0 3m3-2l0 2m0 4l-1 2m7-5h0m1-6l2 1m2 6h0m1-8h0m5 10h0m1 1l-2 0m3-4l0 1m1-7h0m2-1h0m9 1h0m4 3h0m0 1l2 0m2-3h0m3-2h0m0 3l1 1m0 4h0m4-8h0m2 6h0m1 4h0m4-1h0m1-4h0m6 1h0m1 3h0m6-3h0m0 4h0m7-3h0m7 0h0m0 1h0m5-5h0m0 7h0m3-1h0m1-8h0m1 3h0m3 5h0m1-8h0m1 3l-1 1m3 3h0m2 2h0m2-9h0m4 2l-1 2m1 6l-1 2m9-6h0m1-7h0m7 8h0m9-7h0m4 3h0m1 2l0 2m7 3l-1 1m-191 0h0m2 6l0 2m5 3h0m3-11h0m0 1h0m11 4h0m7 4l-2 1m6-10h0m5 11h0m3-5h0m15-6h0m0 9h0m4-3h0m8-4h0m8 0h0m0 5h0m3 1l1 2m2-6h0m5-3h0m2-1h0m3 9h0m4-4h0m4 0h0m2-3h0m0 0l-1 2m4 3h0m4-5h0m2 2l1 0m0 3h0m3 4h0m5-5l0 2m2-3l-1 1m2-1h0m4 4h0m7-3l1 2m3-5l1 2m0 3h0m5-8l2 1m0 2h0m1 4h0m5 4h0m1-2h0m3 0h0m2-4h0m1-4l-2 1m3 4l1 0m12-6h0m0 3h0m1-3h0m5 8h0m5-2h0m6-4h0m2 8h0m1-4l-1 2m2-3h0m-193 17l0 2m1-5h0m1-5h0m7 8h0m2-1h0m2-9h0m0 9h0m3-7h0m0 6l-1 1m6-8h0m2 4h0m1-4h0m6 10h0m4-7h0m3 5h0m8-8h0m0 5h0m1-1l2 1m-1-4h0m3 1h0m2 6h0m7-9h0m2 3l2 1m1 2h0m2 4h0m1-10h0m4 5h0m4-5h0m7 3l-2 1m7 3h0m7-4l2 1m1 5h0m0 2h0m1-11h0m15 5h0m2 5h0m3-3h0m1-5h0m0 6h0m15-8h0m2 0h0m13 4h0m3-3h0m3 1h0m3 8h0m2 0h0m1-5h0m7-2h0m1-2h0m2 7h0m3-6h0m1 3h0m3 3h0m1 0h0m1-4l2 1m-1-5h0m2 6h0m3-6h0m6 9l-1 2m-183 11h0m1-2h0m6-8h0m4 5l1 1m1-1l0 2m0-1h0m5-6h0m1 1h0m7-1h0m0 2l-1 2m8 1h0m2-1h0m12 2h0m5 2h0m0 3h0m1-11h0m2 1l2 0m-2 3h0m3 7l-1 2m8-5h0m1-7h0m11 3h0m4 0h0m2 0l0 2m2-6h0m1 9h0m5-5h0m4 1l1 1m-1 4h0m1-10l-2 0m5 7l1 2m0-1h0m1-1h0m2-7h0m1 8h0m4-7h0m0 7h0m2-4h0m1-4h0m0 10h0m3-10h0m1 6h0m2 2h0m2-6h0m2 4l-1 0m2 3h0m6-9h0m2 5h0m2-4l1 1m3 5l-2 0m3-6h0m7 8l1 1m3 1h0m5 0h0m3 0l-1 1m8-7l1 1m0 2h0m6-3h0m2 2h0m2 3h0m4-8h0m-182 12l-1 0m4-1h0m3 2h0m1 7h0m3-5h0m5-5h0m2 9h0m4-9l2 2m-1 0h0m4 9l-2 2m6-8h0m2 6h0m14-8h0m5 3h0m7 0h0m0 4l0 2m5-10h0m3 9h0m8-2h0m3-3l-1 1m4-1l1 2m2 1h0m2-3h0m1-5h0m1 7l-1 2m4-9h0m0-1h0m0 10h0m1-3l-1 1m3-6h0m0 9h0m10-11l0 1m4 6l-2 0m4-3h0m1 6h0m8-2l1 0m0-6h0m2 3h0m10-1h0m4 0h0m1-3l-2 1m3 6h0m4-1h0m9-2h0m4-3h0m2 3h0m1-1h0m11-4l0 1m1 8h0m4 1h0m2-4h0m-156 8h0m9 2h0m4-1h0m7-2h0m3 7h0m3-3h0m2-3l2 0m6 5h0m2-6l-1 2m6 7h0m4-6h0m0 2h0m0 1l1 1m4 0h0m0 0h0m2-6h0m1 6h0m7-4h0m2 2h0m2 5h0m3-1h0m15-4l1 1m4-7h0m7 7h0m2 4h0m3-6h0m3 5h0m1-5h0m10-3h0m1 1l1 0m0 2h0m7 3h0m4-7h0m10 10h0m11-4h0m6-2l1 1m11-5l1 2m1 5h0m1-1h0m-134 10h0m0 0h0m1 5h0m2-6h0m2-4h0m1 7h0m7-6l0 1m3-1h0m0 4h0m1 3l2 2m7-8l-1 1m5 7l1 1m1-7h0m1 6h0m1-5h0m1-3h0m2 5h0m1-7h0m4 7h0m15 1h0m3-5h0m12 2h0m8-5h0m6 3h0m8 3h0m5-3l-2 2m14-3h0m4 3h0m11 6h0m3-9h0m4 9h0m-137 4l2 0m-1 7h0m4 1h0m3-6h0m1-2h0m6 6h0m1-4h0m4 2h0m7-4h0m1 5h0m1-2h0m9-2l1 2m1-5h0m7-1l1 2m1 8h0m3-2h0m0 2h0m3-10h0m2 7h0m1 4h0m4 0h0m37-10h0m32-1h0m0 11h0m6-10h0m-132 11h0m8 1h0m15 0h0m27 0h0m20 1l-2 0m2 0h0m30-2h0m33 2h0" stroke="#3c3caa" stroke-width="2.6" stroke-opacity="0.9" stroke-linecap="round" fill="none"/></g></g></g>
<g transform="translate(345.0,320.5)" clip-path="url(#tc10)"><rect width="97.8" height="85.4" fill="#d2c4ba"/><g fill="#b8b2cc" filter="url(#hbl)"><rect width="97.8" height="85.4" fill-opacity="0.35"/></g><g filter="url(#hbl)"><ellipse cx="25" cy="25" rx="25" ry="20" fill="#c6b4ae" fill-opacity="0.7"/><ellipse cx="52" cy="48" rx="14" ry="12" fill="#e0dade" fill-opacity="0.6"/></g><rect width="97.8" height="85.4" filter="url(#htx)" opacity="0.3"/><g filter="url(#hdt)"><g transform="scale(.5)"><path d="M1 7l2 1m-1-7h0m2 0l1 0m0 4h0m4 1h0m2 4h0m22-8h0m6 1h0m5 1l1 0m10 6l-2 1m4-7h0m0 3l-1 2m8 0h0m1-4h0m0 4h0m6-1h0m13-4h0m0 5l-1 1m16 0l-1 0m8-7h0m2 2h0m3 5h0m4-9l-2 1m4 3h0m3-5h0m1 3h0m11 3h0m0 2h0m1-7l1 1m7 8h0m8 1h0m2-3h0m5 2h0m4-3h0m1 1h0m2 1h0m0 1h0m4 1h0m2-1h0m5-1h0m18-6l0 2m-185 10l-1 2m10-4l0 2m6 3l-1 1m8-6h0m2-1h0m9 1h0m10 2h0m4 7h0m3-3h0m1-3h0m2 3h0m0 1h0m9 1h0m2-3h0m8 1h0m2-1h0m3-6h0m0 9l2 1m2-9h0m0 9l3 0m1 0h0m3-10h0m0 6h0m15-3l2 1m8 3h0m2-3h0m3-3l0 1m2 9h0m4 0h0m8-6h0m2 2h0m10 4l-2 0m3-2h0m3-1h0m1-1h0m2-4h0m9 6h0m1 2h0m4-6h0m16-5h0m3 5h0m2-4l1 0m-185 11l1 2m12 7h0m2-3h0m4-6h0m0 6h0m0 5h0m3-1h0m3-8h0m1 2h0m3 1h0m1 3h0m4-3h0m3 2h0m1 3h0m1-7h0m1 2h0m2 4h0m1-7h0m13-2h0m2 8h0m2-3h0m9 0l-2 1m2 3h0m4-1h0m0 3h0m7-3l-2 1m4-3h0m4 0h0m1 5h0m1-2h0m3 2l-1 1m2-4h0m1 2h0m19-2l0 2m3 1l-2 0m13-10h0m4 10h0m1-2l2 2m-1-10h0m4 8h0m8 0h0m15 2h0m11 0l-1 1m12-4h0m1 3h0m1-9h0m-191 21h0m2-5h0m8 3h0m2-6h0m10-3l2 0m3 0h0m0 7h0m4-2h0m8 5h0m3 0l-1 1m2-6h0m0 5h0m1-7h0m5 0l2 1m4 6h0m17-8h0m2-1h0m0 8l0 2m7-9l1 1m-1 1h0m5-1h0m3 5h0m7 2h0m4-4h0m7 0h0m2-6h0m5 7h0m1 1l1 2m6-10h0m3 0h0m0 8h0m2 2h0m15-5h0m1 0h0m0 2h0m6 4h0m3-10h0m0 5h0m3 2h0m2-3h0m6-5h0m6 0h0m0 9h0m4 1h0m4-2h0m2-5h0m1 7l-2 1m6-3h0m1 1h0m2-7h0m2 4h0m1-5h0m3 7h0m-189 8h0m3 1h0m7-5h0m0 7h0m4-7h0m2 8l0 2m1-1h0m6-3h0m3 4h0m2 1h0m1-5h0m4-3h0m4-3h0m1 10l-2 1m3-2h0m12 1h0m5-10h0m1 8h0m0 3l1 1m0-8l-2 0m3 7h0m11-11l0 1m7-1l-1 0m8 8h0m1-4h0m0 4h0m7 2h0m4-6h0m10 6h0m1-6l1 1m1 0h0m2 4h0m2-4h0m7 3l1 1m4-3l-1 2m3 1h0m1 2h0m6-6h0m10-2h0m2 5h0m6-7h0m3 6l2 0m6-6h0m3 1h0m2-2l-1 1m6-1l0 2m7 5h0m1-4h0m2-2h0m3-1h0m-189 17l-1 1m5-1h0m4 1h0m6 0h0m13 2h0m6-3h0m4-5h0m0 3h0m7-2h0m0 6h0m2 3h0m1-3h0m5-5h0m1 9h0m3 0h0m3-9h0m1 2l2 2m-2 5h0m4-11h0m2 6h0m6 4l1 1m3-10l-1 2m1 1h0m2-4h0m1 7h0m0 3h0m1-9h0m5 2l1 1m1 3l1 1m9-7h0m1 2h0m3-2h0m2-1h0m4 1h0m2 5l-1 1m1 0h0m2-3l1 1m1 1h0m3-3h0m9 8h0m6-8h0m2 7h0m5-8h0m1 8h0m2-9h0m0 8h0m7-6h0m10 4h0m1-5h0m2 5l-1 2m4-2l1 1m2-5l2 1m4 4h0m4-6h0m2 1h0m0 2h0m3-2h0m0 3h0m11-5h0m-173 12l2 1m-2 3h0m12-4h0m0 2h0m2 1h0m7 7l0 1m1-6h0m3-6h0m0 4h0m1 5h0m1-7h0m1 6l0 2m13-2h0m3 3h0m1-9h0m4 7h0m2-9h0m1 6h0m5-5l-2 1m9 4h0m1 3h0m2-2h0m4 0h0m15-7h0m0 5h0m1 6l-2 0m5-10h0m7 3h0m1-4h0m9 3l-1 1m3 2h0m1-5h0m4 3h0m3-4h0m11 4h0m1 1h0m9 4h0m1-2h0m2-3h0m9 6h0m4 0l-1 1m16-8h0m-188 20h0m3 0h0m1-3h0m2-8h0m1 11h0m1-2h0m6-9h0m0 8h0m4 1h0m1-7l-1 1m10 6h0m2-9h0m4 2h0m15 1l-2 1m3 7h0m1-8h0m1 5l0 1m5-5h0m2 6l-1 1m2 0h0m14-9h0m0 8h0m1 1h0m4-5h0m16-5h0m6 2h0m3 8h0m1-2h0m5-6h0m0 3h0m4-4h0m4 3h0m3 2h0m3 0h0m1 0l0 1m6 1h0m3-7h0m1 3h0m2 4h0m0 2h0m5-6h0m9 3h0m1-8l0 2m4 3h0m6-3h0m5 1h0m2-3h0m10 2h0m2 4l0 2m4-1h0m1-7h0m0 3h0m-184 11h0m21 5h0m1-2h0m1 4h0m3-1h0m5-3h0m2-5h0m0 9h0m1-2h0m8 2h0m4-5l1 0m8-1h0m12-1h0m2 7h0m2-3h0m1 2h0m5-1h0m3 2h0m0 2h0m1-11h0m0 4h0m2 3h0m11-5h0m8 8l0 2m5-9h0m3 3h0m2 3h0m1-9h0m6 11h0m6-3h0m2 1l0 2m2-8h0m2 8h0m4-8h0m5 1h0m3 7l-2 1m9-6h0m0 3l0 1m2-4h0m6 0h0m4 0h0m2 5h0m1-3h0m4-6h0m0 1h0m2 7h0m1-10h0m5 7h0m8 2h0m1 2l2 0m-1-7h0m-173 18h0m4-10h0m5 2h0m1 0h0m4 0l-1 1m2 1h0m8 1h0m2 1l1 1m6-4h0m3-2h0m1-1h0m1 3l0 1m1 2h0m0 2h0m1-4h0m1 5h0m5-7h0m0 4l2 0m-2 4h0m1-9h0m0 4h0m1-2h0m1 3h0m0 5h0m3-10l0 2m2 6h0m6-1h0m1-2h0m13-4h0m4 4h0m1 2h0m6 1h0m4-6l-1 1m14 1l0 1m1 0l2 2m9-4h0m8 6h0m4 1h0m10-9l1 1m3-2l1 0m2 8h0m1 2l0 1m2-3h0m1 1h0m2-8h0m0 5h0m1-6h0m0 9h0m1-6h0m2-2h0m2 3l1 1m5 5h0m1-5h0m2 3h0m1-4l1 1m4 5h0m4 0h0m1-7l-2 0m4 7h0m-189 4h0m14 4l-2 0m22-7h0m2 7l1 2m3-5h0m0 2h0m3-4h0m7 1h0m0 4l1 1m-1 0h0m1 2h0m4-5h0m2 3l2 1m0-9l2 0m3 9h0m6-1h0m7 3h0m7-9h0m4 5h0m8 4h0m4-9h0m1 7h0m1-5l1 1m0-5h0m1 11h0m5 0h0m7-5h0m15-1l1 1m0-3h0m12 4h0m1 2l-2 1m6-1h0m1-6h0m0 7h0m22-7h0m4 8h0m2-9h0m8 7h0m0 2h0m3-5h0m0 5h0m-194 3h0m3 1h0m8 8h0m11-11h0m3 9h0m3 1l2 0m0-2h0m3 3h0m2-2l-2 0m18-7h0m3 0h0m3 5h0m0 2h0m1 1h0m31-2h0m2-5h0m7-3h0m1 3h0m3 6h0m1 0h0m2-2h0m4-5h0m2 8h0m3-10h0m0 6h0m6-4l-1 1m1 4h0m5-6h0m3 1h0m4 8l-2 1m6-2h0m1-8l1 2m2 1l-1 1m9-3h0m1 8h0m3-8h0m2-1h0m4 5h0m3-2h0m0 5h0m4-9l0 1m2 4h0m2 4h0m6-7h0m2 2h0m3 6l1 1m1-6h0m3-1h0m1 1h0m4-1h0m0 7h0m4-11h0m-189 17h0m1-3h0m1 3h0m3 0l0 1m1-4l1 1m3-1h0m1 3h0m1-4h0m4-1h0m1 6h0m18 3h0m11-1h0m9 2h0m4-3h0m4 4h0m8-5h0m1 0l0 1m1 3h0m1-2h0m6-4h0m18 6h0m1-10h0m6 11h0m7-3h0m9-3l1 1m0-3h0m3 7h0m2-6h0m0 1h0m0 3h0m2-3h0m3 5h0m4-10h0m13 4h0m3-4h0m1 6h0m2 0h0m3 4h0m1-10h0m7 8h0m1-7h0m1 6h0m1-1l-1 2m5-5h0m1 0h0m4-2l-1 1m5 9h0m4-10h0m-188 14h0m3 2h0m0 0l-1 1m9-6h0m1 6h0m4-6h0m0 10l2 1m4-8h0m9-3h0m0 11h0m1-3l-1 2m5-10h0m2 3h0m4 8h0m4-2l0 2m1-10h0m3 8h0m2-7h0m5 6h0m5-5l0 2m2 0h0m9 1h0m19 1h0m2-6h0m4 4h0m10-3h0m1 8h0m3-8h0m4 3h0m4 1l1 2m17-7h0m1 10h0m3-2h0m4 1h0m2-8l1 2m0 5h0m2 2h0m7-10l-1 0m3 6h0m7-1h0m8 2h0m6-5h0m3 4h0m4-5h0m1 5l2 1m-2 2h0m1-9l-1 0m1 7h0m-194 5h0m13 0h0m5 1h0m2 0h0m14 0h0m5 0h0m3-2h0m11 3l1 1m9-3h0m38 1h0m12 1l-1 1m16-4h0m11 0h0m19 2h0m12-1h0m1 1h0m13-2h0m3 2h0" stroke="#7880c8" stroke-width="1.8" stroke-opacity="0.75" stroke-linecap="round" fill="none"/><path d="M3 3h0m7 6l-1 0m2-4h0m1-5h0m2 8h0m6 1h0m6 0h0m3-1h0m1-1h0m1-5l-2 1m14 8h0m5-8h0m5-3h0m0 5h0m2-4h0m6 6h0m11 0h0m2 3h0m4 0h0m1-9l1 2m2-3h0m0 6h0m4-2h0m2 5h0m3 1h0m1-8h0m3 5h0m0 1l0 2m5-4h0m4-5h0m3 5h0m7 2h0m4-1h0m2 3h0m1-8l1 1m2 8h0m1-1h0m3-8h0m2 5h0m2-5h0m1 8h0m2-4h0m1-5h0m1 8h0m2-3h0m2 1h0m5 2h0m2 1l-1 1m3-7h0m0 2h0m3-1h0m0 5h0m2-1h0m1-5h0m1-2l0 1m1 0h0m7 7h0m2-1h0m2-4l-2 1m4 5l1 0m0-9h0m4 2l2 1m4 3h0m2 2h0m3-7h0m0 3h0m0 4h0m2-5h0m3-4l1 2m-191 17h0m2-1h0m1-5h0m1 7h0m1-4h0m4 4h0m1 2h0m1-10h0m1 6h0m2 4h0m2-10h0m0 5h0m7 2l1 1m5-1h0m2-4h0m3 0h0m0 4l-1 0m6-3h0m1 3h0m1 3h0m4-10h0m1-1h0m3 10h0m5-8h0m1 8l-1 1m6-9h0m0 0h0m1 9h0m4-4l1 1m2-4h0m0 5h0m2 1h0m3-7h0m3 8h0m5-4h0m1-5l1 0m1 2h0m4 7h0m3-3h0m3-3h0m0 4h0m2-1h0m5 3h0m2-10h0m2 3h0m1-3h0m1 9h0m1-4h0m2-1h0m3-4h0m7 10h0m2 0h0m2-3h0m3 0l1 2m1-2h0m3-5l1 2m0 2l-2 1m2 0h0m1-7h0m0 2h0m0 7h0m3-2h0m2-5h0m5 2h0m0 1h0m2-6h0m0 2h0m2 0h0m4 1h0m5 6h0m1-8h0m1 0h0m4 5h0m3-4h0m0 7h0m1 2h0m1-4h0m1-7h0m0 11h0m1-2h0m2-8l2 1m-2 6h0m2-6h0m6 4h0m1-6h0m2 7h0m4 2h0m1 0h0m5-1l-1 1m-194 14h0m1-7h0m0 2h0m3-6h0m1 2l-2 1m6 8l2 1m-1-6h0m1-3h0m3 0l0 2m2-3h0m10 5l-2 1m6-8l-1 1m6 6h0m0 4h0m1-10h0m0 7h0m3-6h0m3 6h0m2-2h0m4 4h0m1-9h0m1 8h0m5-3h0m0 3h0m1 1h0m2-9h0m0 10h0m1-8h0m4 1h0m1-2l-2 0m3-2h0m5 3h0m1-2h0m3 4h0m5 1h0m2-2h0m4 0h0m1 6h0m1-9h0m4 8h0m1-1l-2 0m3-7h0m5 1h0m1 4h0m1-2h0m5-3h0m4 4l-2 0m5 6h0m4-9h0m1 5h0m1 2h0m7-5l-1 1m5 3l2 0m0 0h0m6-5h0m0 3h0m2-6h0m1 6h0m3 4h0m3 1h0m4 0h0m2-11h0m4 1h0m6 2h0m0 5h0m1 0h0m1-3h0m4 1h0m1-1h0m2 2h0m2-5h0m2-2l1 2m1 0h0m0 8h0m2-8l1 1m-1 2l-1 1m1 3h0m2-5h0m3 3h0m1-7l0 1m1 10h0m1-8h0m0 7h0m3-8h0m3 6h0m1 2h0m-188 10h0m1-8h0m1 5h0m0 2h0m1-6h0m1 10h0m1-8h0m1-2h0m2 4h0m2-2l-1 1m2 0h0m1-4h0m0 9h0m3 0l-2 1m4-8l0 2m2 2h0m3-1h0m1 2h0m1-7h0m3 5l1 0m-1 3h0m1-7h0m1-1h0m0 7h0m3 1h0m1-6h0m2 5h0m5-4h0m2 2h0m3-5h0m0 5l1 2m-1 1l-1 1m4-1l1 1m0-3l-1 2m4-5h0m0 2h0m1 1h0m1 3h0m3 1h0m1-7h0m7 3h0m1-5h0m0 9h0m2-5h0m1-2l1 0m2-3h0m0 8h0m2 0h0m7-3l2 1m-2 2l-1 1m6-9h0m0 2h0m4 0h0m0 3h0m0 3h0m2 0h0m4 2h0m4-7l2 0m0 5h0m7-5h0m1 4l0 2m2 1h0m4-6h0m1 3h0m5-3h0m1 1h0m1-3l0 1m1 2h0m3-5h0m0 4h0m1 3l0 2m1 1h0m1-3h0m3-1h0m2 4h0m1-9h0m4 6h0m2-4h0m0 5h0m2-3h0m1-2h0m5 1h0m0 7l-1 1m2-9h0m1-1h0m3 6h0m0 3h0m2 0h0m7-2h0m1-6h0m1 6h0m6-5h0m2 4l-1 1m4-8h0m1 2h0m0 8h0m3-6h0m6 1h0m1-6h0m0 2h0m-194 20h0m1-6h0m1 0h0m0 2h0m0 2l1 1m4 2l-2 0m3-9l2 1m-2 3h0m1-6l1 2m-1 7h0m7-6h0m4 3h0m2-4h0m0 9h0m2-6h0m1-2h0m1 5h0m1-4h0m5-1h0m2-2l2 1m-2 7h0m5 0h0m3-6h0m4 7h0m4-3h0m2 0h0m6-6h0m0 2h0m3 2h0m1-3h0m3 0h0m1 2h0m2 1h0m2 2h0m3-1h0m2 3l-2 0m5-5h0m4 3h0m0 2h0m2-5h0m0 6h0m1-5h0m2 6h0m4-9h0m0 5h0m4 1l2 0m0-4h0m5-1h0m3 6h0m3-5h0m12-4h0m0 5h0m2 4h0m1-2h0m9-7h0m1 9h0m2-7l1 1m-1 2h0m1 2h0m0 1h0m2 3h0m4-9h0m0 9h0m1-10h0m0 5l-1 1m3 1h0m3 2h0m2-3h0m10-7l1 0m-1 3h0m13 6l-1 1m2-4h0m5 1h0m1-6h0m14 3h0m1 7l2 2m-198 10h0m2-10h0m2 0h0m1 3h0m0 3h0m2-1l-1 2m6-3h0m0 3h0m1 1h0m6-4h0m2-5l1 2m2 2h0m2 0h0m0 1h0m1 0h0m2-3h0m2 8h0m2-3l-1 2m6-2h0m4-5h0m0 9h0m1-11h0m1 10l-1 1m6 0l-2 2m5-12h0m3 10h0m1-4h0m3 0h0m1 1h0m2 0l2 2m0-7l1 2m-1 6h0m7-4h0m6-2h0m2 2h0m1-3h0m1 4h0m1 1h0m3 1h0m4 0h0m1-9h0m2 1h0m2 4h0m1-3h0m2 5h0m5-4h0m0 6h0m2-5h0m1-2l-1 1m4-1h0m1 3h0m1 5h0m1-9h0m0 2h0m1 7h0m1-11l2 1m-2 8h0m3-1h0m1-3h0m2 1h0m2 0h0m1-3l-1 2m2-2h0m0 2h0m2-5l1 0m-1 7h0m3 2l1 1m0-3h0m1 2h0m6-1h0m5-1h0m4 2l0 2m1-4h0m1-6h0m4 0h0m0 9h0m2-4h0m1-3h0m1-1h0m1 5h0m0 1l0 2m2-6l1 1m3-3h0m0 9h0m3-8h0m7 0h0m1 6l-2 2m3-5h0m3 2h0m1-6l-1 0m2 4l1 2m1 2h0m1-2h0m2 3h0m3-11h0m0 3h0m1-1h0m1 2h0m1-3l1 1m0 5h0m-190 13l0 1m2-6h0m2 2h0m1-1h0m1 5l-1 2m1-1l2 1m0-3h0m1 0h0m2-8h0m0 3h0m0 8h0m1-2h0m2-7h0m1 2h0m2 1h0m1-5h0m6 0h0m0 3h0m3 0l0 1m0 7h0m4-10l1 1m-1 9h0m4-4h0m0 0h0m1 3h0m2-6l-2 0m3 4h0m3-7l0 2m0 5l2 0m4-2h0m5-2h0m0 7h0m4-1h0m1-5h0m5 0h0m4-1h0m3-4h0m3 9h0m1-8h0m0 5h0m2-6h0m1 8h0m1-5h0m2 2h0m1 1l-1 1m8-7h0m3 1l2 1m1-2h0m3 11h0m1-7h0m2 2h0m1-4h0m6 8h0m7-9h0m1 3h0m2-2h0m4-1h0m0 5h0m1-6l-2 0m4 3h0m1 8l-1 1m2-5h0m2-6h0m2 0h0m5 0h0m1-1h0m3 3l-1 2m4 5h0m3-5h0m2 4l-2 1m3-8h0m0 2h0m1 4h0m5 0h0m2-5h0m4 2h0m2 3h0m2 3h0m2-9h0m3-2h0m1 5h0m4 4l0 2m0-3h0m1-7h0m3 5h0m1-4h0m2 3h0m1-3l-2 1m3 4l2 1m0-3l-2 1m2 3l0 1m1-5h0m5 3h0m-191 6l0 2m0 3h0m3-3l-1 2m3 0h0m2-5h0m1 1l1 1m0 4h0m1-3h0m2-3l-2 0m2 8h0m3-4h0m6-2l1 2m-1 2h0m3-6h0m2 6h0m2-7h0m0 10h0m1-7h0m1 7h0m4-3l-1 1m2-8h0m0 6l2 0m2 5h0m1-4h0m3 1h0m2-1l2 0m0-3h0m1 2l2 0m9 4h0m5-5h0m1 0h0m1-2h0m0 7l0 2m1-12h0m1 7l0 2m2-5h0m5 2h0m0 3h0m16-4h0m10-5h0m3 8l2 0m-1 0h0m4-5h0m2 5h0m0 2h0m3-4h0m0 1h0m3-3h0m0 1h0m2 6h0m4 0h0m4-11h0m2 1h0m1-1l-2 1m3 6l2 1m3 2h0m1-7h0m2-2h0m4 10h0m4-7l0 1m5-1h0m1 7h0m2-7h0m1 7h0m2-9h0m0 6h0m1-8h0m3 0h0m1 6h0m1 5h0m8-7l0 2m1 0h0m1-6h0m3 2h0m0 4h0m1 3h0m0 2h0m2-6h0m0 5h0m1-1h0m2-6h0m3-1h0m4-1h0m1 4h0m2-5h0m1 4h0m-195 8h0m1 10h0m4-7h0m0 2h0m6-4h0m2-1h0m2 7h0m0 2l-2 2m6-11h0m0 10h0m1-5h0m0 1h0m0 3h0m2-5l1 1m1 1h0m2 4h0m2-3h0m2 4h0m5-9h0m3 2h0m4-2l0 1m0 1h0m0 4h0m3-8h0m0 5l0 1m3 5h0m3 0l2 0m1-7h0m1 3l0 2m1-4h0m1-4h0m0 10h0m2-5h0m1-5h0m0 6l2 2m-1-5l-1 1m4 1h0m0 2h0m2 1h0m2-1l1 2m1-1h0m3-6h0m1-1h0m7 3h0m4 0h0m5 2h0m1-7h0m1 4h0m3 2h0m3 0h0m5-6h0m2 10h0m11-7h0m3 4h0m1 4l-1 1m2-7h0m2 1l-1 0m3-3h0m1 6h0m4-8h0m3 4h0m1-5l1 2m0-2h0m1 4h0m2 6h0m1-1h0m2-9h0m1 3h0m6 0h0m0 5h0m1-7h0m0 4h0m1-4h0m0 4h0m1-1l-1 1m2 6h0m7-4l-1 2m5-5l0 1m2-2h0m1 5h0m3-6h0m3 2l-1 1m6-2h0m5-3h0m2 4l0 1m1 4l0 2m-185 9l-1 1m2-4l-1 1m1 5l0 1m3-4h0m4-2h0m6-6h0m6 7h0m2-4h0m6 2h0m1 3h0m6 0h0m1-3h0m3 1h0m2-5h0m0 10h0m1-1h0m1-2h0m1-4h0m3 1h0m1 1h0m1 2l-1 0m3 3h0m1-11l0 2m5 8h0m4-9h0m10-1h0m0 10h0m2-2h0m1-4h0m1-3h0m2 0h0m6 3h0m4 0h0m7-4h0m4 2l-1 1m3 1h0m1 2l2 0m0-3h0m1-1h0m0 4h0m10 5h0m1-4h0m1 4h0m5-2l-2 1m3 0l-1 1m4 0h0m2-3h0m1-4l0 1m1-3l-1 0m1 9h0m2-4h0m2-7h0m0 1h0m3 9h0m2-1h0m1-2h0m2 0h0m4-6l-2 1m2 8l2 0m0 1h0m3-10h0m2 0h0m1 9h0m3-5h0m5-4h0m0 4h0m1-2h0m5 6l-1 1m2 1h0m3 0h0m4-6h0m1 1h0m5 4h0m1-9h0m2-1h0m0 4h0m1 5l1 0m4-9h0m0 6l0 2m5-6h0m-192 11h0m0 2h0m2 3h0m3-4h0m0 8h0m1-7h0m1 1h0m0 7h0m1-2l-1 2m2-11h0m0 6h0m1 3h0m3-4h0m0 5h0m2-7h0m0 7h0m6 1h0m1-10h0m1 5h0m3-4h0m1 0l-1 1m4 0h0m1 7h0m5-2h0m3-8h0m2 4h0m1-3h0m0 4h0m0 6h0m1-2h0m1-7h0m3 4h0m3 5h0m1-2h0m1-8l1 0m3 7h0m1-5h0m2 7h0m1-6h0m4 2h0m2-3h0m0 2h0m0 3l1 1m2-6l-1 1m6 0h0m5-4h0m2 0h0m2 4h0m0 1h0m6-1l2 1m2-2h0m2 3h0m1-3h0m1 2h0m4 6h0m2-4h0m14-4h0m0 6h0m3 0h0m1-6h0m1-3h0m1 11h0m2-1h0m2-2h0m2-3h0m1 5h0m2-5h0m7-5l1 1m3 5h0m2-6h0m4 2h0m2 3h0m3 3h0m4 2l2 0m-1-9h0m1 2l0 1m1-3h0m1 8l-1 2m4-2l2 1m1-2h0m6 1l0 2m4-2h0m1-2h0m1-3h0m3 6h0m1-6h0m3-4h0m-190 23h0m2-4h0m3-6l2 1m-2 1h0m4-1h0m2 6h0m3 1h0m4-3h0m1-2h0m1 0h0m0 5l2 1m1-7h0m0 2h0m1 1l-2 1m5-1h0m4-5h0m4 4h0m4-5h0m3 5h0m1-2l0 1m3-3l1 1m-1-1h0m0 6h0m2 3h0m2-1h0m2 2l2 1m-1-2h0m1-7h0m2-1h0m1 7l-2 1m4-7l2 1m-1 7l1 2m0-8h0m2-4h0m0 10h0m2-8h0m5 4h0m3 1h0m2-4h0m4 0l2 1m-2 2h0m0 2l1 0m2-8h0m1 3h0m1-2l0 2m1 3h0m2-1h0m1-2h0m0 7h0m2 0h0m1-9h0m3 4h0m7-6l2 0m3 2l2 0m5 1h0m1 5h0m3-4l-3 0m3 3h0m1 3h0m4-9h0m1 4h0m3 5h0m2-3h0m1-4h0m0 7l1 1m0-4h0m1-6h0m1 8h0m5-4l0 2m5 0h0m2-5h0m0 2h0m2 4h0m2-4h0m4 6h0m2-5h0m0 5l-1 2m3-10h0m2 5l-1 0m3-4h0m1-2h0m1 9h0m3 1h0m6-6h0m2 1h0m3 5h0m1-3h0m3 1h0m3 0h0m4-1h0m1-3l1 1m3 5h0m2-10h0m1 3h0m-194 15l0 1m2-7h0m0 2h0m0 5h0m7-1h0m0 3h0m4 1h0m1-3h0m4 3h0m3-2h0m3-6h0m1-3h0m0 4h0m0 1h0m7 0h0m2-4h0m0 7h0m1-3h0m2-4h0m4 4h0m0 3h0m3 2h0m2 0l0 1m2-9l0 2m2 1h0m2-3h0m4 3h0m1 4h0m3-9h0m2 3l1 1m2 7h0m4-1h0m1-9h0m8-1h0m0 3h0m2 1l1 1m0 6h0m1-10h0m3 4h0m4-2l-1 1m4 7l0 2m2-10h0m1 1h0m1 1h0m0 4h0m2-7h0m3 7h0m1-4h0m1 2h0m2 1h0m4-6h0m5 0h0m1 0h0m0 1l0 2m4-4h0m4 4h0m11 1h0m1-4h0m1-2h0m0 7h0m2 0h0m1-3h0m1 5h0m1 1h0m1-6h0m1 1h0m0 3l-1 1m4-9h0m1 11h0m2-5h0m2 1l-2 0m2 4h0m4-1l0 2m1-10h0m0 4h0m4-6h0m1 1h0m4 5h0m3-1l1 1m0-5l1 1m1 1h0m4-2h0m3 0h0m1 6h0m3-1h0m0 3h0m6-4h0m3 3h0m1-2h0m-188 8h0m0 0h0m5 5h0m1 2h0m1 2h0m2 0h0m4-9h0m10-1h0m2 9h0m3-10l0 2m0 5h0m1 2h0m6-7h0m1 2l1 1m1 3h0m6-8l-1 1m6 3h0m3 7h0m1-5h0m3-3l-2 1m3 6h0m3-8h0m4 2h0m3 6h0m1-7h0m1 4h0m1 2h0m3 1h0m3-6h0m2 2h0m5-1h0m4-3h0m0 4h0m3-3h0m1 0h0m0 3h0m4 0h0m1-6h0m0 9h0m3 0l-2 1m3-5l-1 1m3 1h0m0 2h0m9-4h0m1-2l2 0m0-1h0m1 9h0m1-8h0m3-2l-2 1m4 5h0m1 3h0m2-5h0m0 3h0m2-1h0m3-7h0m2 11h0m2 0h0m2-11h0m0 3h0m1 6h0m9-9h0m1 0h0m1 2h0m2 5l-1 1m2-4h0m2 7h0m2-8h0m2 4h0m0 3l2 0m7-7h0m1 1h0m2-3l-1 2m3 3h0m0 3h0m2-9h0m3 2h0m0 3l1 1m1 2h0m3-8h0m4 1h0m-182 12h0m19 1l-1 2m5-4h0m1 2l0 1m12-2l0 3m4-4h0m2 0h0m1 1h0m25-1h0m5 0h0m0 0h0m9 2h0m0 0h0m22 0l-2 1m18-3h0m6 0h0m8 0l0 1m8 1h0m1 0l2 1m2-1l0 2m25-3h0m7 0h0" stroke="#5058b8" stroke-width="2.2" stroke-opacity="0.8" stroke-linecap="round" fill="none"/><path d="M3 8h0m1 2h0m3-8l0 3m0 0l-2 1m3-5l0 2m1 0h0m4-1h0m1 2h0m0 6h0m1-3l2 1m-1-1h0m2-5h0m0 4h0m3 0h0m4 5h0m2-5h0m7-5h0m1 8l-2 1m5-1h0m3-3h0m9-5h0m0 8h0m1-5h0m6 6h0m2-7h0m1-1h0m1-1l2 1m0 3h0m1 0h0m1 6h0m2 0l2 0m6-1h0m3-1h0m4-2h0m4-6h0m0 6h0m1-2l-1 1m11 4h0m3-1l2 0m1 1h0m8-9h0m5 7h0m2 3h0m7-11l1 1m2 10h0m10-1h0m2-9h0m7 2h0m2-1h0m4 4l2 1m8-2h0m2-1h0m2-3l1 2m-1 3h0m6-2h0m3 1h0m1 3h0m2-1h0m1-1h0m3-5l2 1m7 8h0m-185 9h0m3-5h0m5 1h0m5 8l0 1m1-11h0m0 5l1 2m0-7h0m1 3h0m2-3h0m6 8h0m2-9l-2 1m2 0h0m4 0l1 0m6 7h0m1-6h0m2 6l-1 1m2-7h0m4 3h0m1 4h0m5 0h0m8-8l0 1m0 1l-1 0m3-2l2 0m0 6h0m5 4l-1 1m4-6l-2 1m5 4l1 1m2-3h0m4-4l3 0m0-1h0m0 2h0m1-1l2 1m5-4h0m1 1h0m3 4h0m3-1h0m3 1h0m2-5h0m0 7h0m0 1h0m4 0h0m1-2l-2 1m5-1h0m2-3h0m4-5h0m2 6h0m5-3h0m0 2h0m2 5h0m6-2l0 1m3-8h0m3 9h0m5-5h0m6 6h0m1-9l1 1m2 3h0m6-4h0m5 0l-2 2m9-2h0m0 7h0m0 2h0m2-10l-2 1m2 2h0m3 1h0m1-1l2 1m2-1h0m2 0h0m0 7h0m1-9h0m2 2h0m1-4h0m-195 14h0m5 1h0m2 0h0m1 4h0m1 0l-2 0m4 3h0m1-9l-2 1m2 6h0m1-8h0m1 8l-1 1m3-3h0m0 5h0m1-2l1 0m1-1h0m1 3h0m1-6l0 1m4-6l-1 1m4 7l-1 2m11-7h0m1 0h0m5-2h0m1 8l1 2m2-10h0m1 2h0m3 3h0m3-4h0m1 3h0m2 2h0m1 1h0m2-7h0m0 8l-1 1m3-2h0m0 3l2 1m3-12h0m5 0h0m1 1h0m1 8h0m4-1h0m2-8h0m2 2h0m1 0l-1 2m1 5h0m6-9l-1 1m5 1h0m4 2h0m7 7l-3 0m7-8h0m6 0h0m3 1h0m12-2h0m6 9h0m9-6h0m0 2l2 1m1-8h0m0 11h0m8-4h0m0 3h0m0 1h0m2-9h0m2-1h0m0 10h0m4-7h0m0 7h0m3-8h0m1 7h0m4-7h0m4 6h0m1-6l-2 1m6 3l-1 1m-173 9h0m7 3h0m5 2h0m2-4h0m4 4h0m3 0h0m3-5h0m1 6h0m5-4h0m3 0h0m6-5l-2 2m6-4l2 0m-1 5h0m5 3h0m4-2h0m4-6h0m1 4h0m2 5h0m0 2h0m8-4h0m4-4h0m2 7h0m1 1h0m3-6h0m1-4h0m2 1h0m6 5h0m5-2l-1 0m2 5h0m5-4h0m5 4h0m11-9h0m8 7h0m2-4h0m0 7l-1 2m3-11h0m2 3h0m6-3h0m0 7h0m3 2h0m1-8h0m2-3h0m0 11h0m1-3h0m4 0h0m10-3h0m5 4l-1 0m2-5h0m1 2h0m21-1h0m3-2l-1 2m3 4h0m-193 5h0m0-2h0m4 10h0m5-7l-1 1m4 4h0m4 1h0m1-6l0 1m0 3h0m3-3h0m2 0h0m1 3l0 2m3-9h0m1 6h0m9 5h0m2-6h0m5-4h0m2 7l1 1m2 2h0m5 0h0m4 0h0m1-6h0m5 1h0m6-2h0m3-3h0m1 3l1 1m-1 0h0m1-4h0m1-1h0m0 8h0m1-8h0m2 1h0m5 8l-1 2m12-1h0m2 0h0m4 0h0m3-10h0m0 2h0m0 8h0m3-5h0m2 6h0m2-9h0m3 9h0m3-11h0m0 5h0m5-3h0m2 2h0m1-4h0m2 5h0m2-4h0m8 0h0m8 10h0m1-10h0m3-1h0m2 3h0m5 8h0m1-3h0m4 0h0m1-6h0m0 4l-1 1m1 0h0m1 4l1 1m0-4h0m1-6h0m1 6l0 1m1-7h0m8-2h0m1 8l2 1m-1-5l2 1m2-1h0m0 4l1 2m1-2h0m2-7h0m-177 16h0m2-1h0m5-2l-1 2m3-3h0m0 9l-1 1m3-7h0m0 4l2 1m1-4h0m7 3l0 1m2-6l-1 1m3 6l0 2m3-9l-2 1m3 6h0m0 0h0m5-9h0m1 8h0m7 1h0m2-7h0m11 2h0m2-5h0m2 3h0m4 0h0m2 2h0m9-5h0m0 4l-1 1m2-4l-1 0m6 6l2 2m2-3l-1 0m3-5h0m1 7h0m3 0h0m0 3h0m1-4l-1 2m9-9h0m0 7h0m9-5l0 2m2-1h0m5-1h0m5 8h0m3-9h0m5-1h0m4 8h0m5-7l0 2m1 5h0m4-8h0m0 11h0m1-8h0m0 5h0m17-6l1 2m-1 5h0m6-4l-1 1m2 5h0m1-11h0m5 1h0m1 8h0m3-2h0m1-6h0m0 8h0m1-3h0m2 5l2 1m1-10h0m-193 16h0m2-5h0m7 0h0m1 1h0m2 3h0m4 4h0m2-6h0m0 4l-2 0m4 4h0m6-5h0m3-6h0m1 9h0m7-4l-1 0m15 5l-1 1m6-3h0m4 3h0m9-10h0m0 4h0m4 5h0m4-4l0 1m4-6h0m2 2h0m3 1h0m2-1h0m1-1h0m9-2h0m3 7h0m0 1h0m2-4h0m1 0h0m1 6h0m9-2h0m1-2h0m11-3h0m0 2h0m0 4h0m4-1h0m5-1h0m4-3l-2 1m7-5h0m1 9h0m5-3h0m4-5h0m1 2h0m8 1h0m1 1h0m0 3h0m2-2h0m1-5l2 1m11 8h0m1-7l0 2m12-3h0m-190 19h0m11-5h0m0 4h0m5 2l2 1m3-3h0m1-2h0m2-2l-1 1m7-1h0m0 1h0m4-3h0m2-1h0m0 8h0m1-6h0m3 0h0m4-3h0m0 4h0m2 6h0m2-8h0m3 0h0m2-1h0m1 2h0m1 6h0m4-2h0m9-1h0m1-2h0m1-3l0 2m9 6h0m6-8h0m1 3h0m0 0h0m3 5h0m0 1h0m21-8h0m4 4h0m7 2h0m1 0h0m6 3h0m4-4h0m1-4l0 1m6 5h0m1-7h0m5 7h0m1-4l1 1m1-5h0m4 3h0m7 3h0m1 0l0 2m1 0h0m2-3h0m3 0h0m2 2h0m4-8l-2 0m3 3l0 1m0 3h0m3-4h0m4 8h0m3-1h0m1-2h0m2 0l-1 2m4-7h0m-192 16h0m1 0h0m2-6h0m0 8h0m2 1h0m3 1h0m4 0h0m1-7l0 2m1-5h0m3 2h0m0 2h0m6-3h0m1 2l-1 2m8-5h0m0 4h0m3-2h0m1 4h0m12 0h0m13-6h0m0 9h0m5-6h0m5 1l0 1m7-5l-1 2m3-2h0m10 4h0m0 3h0m0 3h0m2-10h0m9 9h0m2-1h0m5-4h0m3-2l1 1m19 2h0m3-4h0m3 7h0m14-1h0m1-2h0m10 0h0m4 3h0m5-2h0m4 2h0m4-6h0m2 4h0m4 1h0m1-6h0m2 5h0m0 0h0m5-6l2 1m-189 11h0m3 3h0m4 0h0m1-1h0m0 3h0m4-3h0m3 1h0m2 4h0m6 2h0m3-7h0m5 8h0m2-11h0m2 1h0m0 3l0 2m0 3h0m7 2h0m2-11l2 1m3 6h0m10 1h0m9-3h0m2-1l-1 1m15 1h0m5 5h0m10 0l0 1m3-6h0m4-1h0m15-3h0m10-1h0m3 10h0m1-7l-1 1m5-3h0m0 4h0m1-3h0m3-2l0 2m4 5h0m8-5h0m0 6h0m12-5h0m2 4h0m1-3l1 1m-1 5h0m3-6h0m4-2h0m1-2h0m2 7h0m4 1h0m4 1h0m2-3l-1 0m-189 7h0m1 9h0m3-1h0m4-6h0m1 7h0m5-6h0m0 5h0m2-7h0m2 4l0 1m1-6h0m1 4h0m0 3l2 0m2-6h0m2 8h0m1-3h0m6 3h0m2-8l1 0m-1 4h0m9 2l1 0m1 1h0m4-6h0m5 2h0m1 3l-1 1m2-10h0m2 1h0m2 2h0m2 7h0m1-9h0m1 2h0m4 6h0m1-4h0m1-4h0m4 0h0m7 10l1 1m3-1h0m2-6h0m4 4h0m1-8h0m4 3h0m0 4h0m2-7h0m7 4h0m4 4l-2 1m5-4l-2 0m5 5h0m5-10h0m0 6h0m5-7h0m1 2h0m2 2h0m0 2h0m5 5h0m1-9l0 2m0 3h0m0 1l1 1m2 0l-1 2m3-8l-2 1m2 6h0m4-6h0m0 7l1 1m5-11h0m4 9h0m5-5h0m0 5h0m11-10h0m1 6h0m3 4h0m1-10h0m6 1h0m0 4h0m2-4h0m-185 16h0m0 4l-2 0m4 2h0m5-10h0m1 5h0m3-2l-1 1m2-5h0m7 10h0m4-9h0m5 5h0m1 4h0m2-5h0m2-4h0m3 9h0m1-6h0m4 3h0m1 0h0m4-1h0m1 5h0m6-5h0m8-1h0m5 3l-1 1m2-7h0m6-2h0m0 10h0m4-9h0m0 1l-1 0m1 5h0m3-1h0m2-3h0m3 6h0m7 0h0m0 2l1 1m2-4h0m6-3l0 1m2 4l1 2m3-2h0m5-2l0 3m5-2h0m4-6h0m6 3h0m4-3h0m6 2h0m9 3h0m7 0l1 1m4-7h0m7 9h0m1-9l-2 0m4 1h0m8-1l0 1m2 4h0m11-4h0m0 3h0m1-1h0m-193 16h0m5-1h0m3 1l1 2m4-4h0m3 3h0m3-2h0m4 3l2 1m-1-3h0m3 2l0 2m2-11h0m0 5h0m3-3h0m1-2h0m3-2h0m3 1h0m0 5h0m2-6l1 2m3-1h0m10-1h0m4 3h0m1-2l2 1m-1 7h0m3-1h0m3-8h0m3 2l0 2m6 5h0m1-1h0m7-8h0m0 1h0m0 7h0m5 3h0m3-9h0m1 6h0m1-8h0m0 10h0m1-3h0m2-5h0m0 9h0m1-11h0m2 7h0m6-5h0m6 2h0m2 3h0m1-3h0m6 2h0m3 1h0m0 1h0m1-5h0m0 8l1 0m1-9h0m1 6l-1 2m3-7h0m1 5l1 2m6-8h0m5 6h0m2-5h0m0 3h0m1 5h0m3-10h0m1 6h0m2-3h0m4-1h0m5-1l0 2m8 4h0m2-7l-1 2m2 3l0 2m2-4h0m1 6l1 1m6 0h0m4 0h0m1-11l1 1m3 6h0m2-3l-1 2m-192 12h0m4 2h0m1 3h0m9-7h0m0 5h0m2 1h0m1-2h0m4-4h0m7 5h0m1-2l-2 1m6-4h0m0 7l0 1m4-7l-1 0m2-1l0 1m6 1h0m3-1h0m1 2l0 1m5-8h0m1 6h0m1-5h0m4 2h0m9 5h0m4-3h0m2-3h0m2 2h0m4-3l1 1m1 8h0m6-8l1 1m2 2h0m0 3h0m2-5l-2 1m3-2l-1 1m3 7h0m3-10h0m20 5h0m0 6h0m1-10h0m10 2h0m0 5h0m2-4h0m1 4h0m10-2h0m4 2h0m3 3h0m3-5h0m8-5l1 1m5-1h0m9 9h0m7-8h0m1 6h0m2 0h0m4 1h0m1-4l-1 0m5 4h0m-194 5h0m1-2h0m14 2l1 1m7-1h0m4-1h0m8-1h0m41 1l1 2m25-3h0m17 3l0 2m5-5l-1 2m4 0h0m2 1h0m1-3h0m26 3h0m10-3l2 1m-2-1h0m3 0h0m20 0l1 2m4-1h0" stroke="#2e389a" stroke-width="2.6" stroke-opacity="0.85" stroke-linecap="round" fill="none"/></g></g></g>
<g transform="translate(450.8,320.5)" clip-path="url(#tc11)"><rect width="97.8" height="85.4" fill="#eeedf3"/><g fill="#d0d0ee" filter="url(#hbl)"><rect width="97.8" height="85.4" fill-opacity="0.22"/><polygon points="25,50 70,50 75,95 25,95" fill-opacity="0.17"/><polygon points="62,5 105,5 105,35 66,35" fill-opacity="0.12"/><ellipse cx="15" cy="30" rx="14" ry="20" fill-opacity="0.07"/></g><g filter="url(#hbl)"><ellipse cx="52" cy="28" rx="12" ry="12" fill="#f4f2f6" fill-opacity="0.6"/><ellipse cx="85" cy="50" rx="14" ry="10" fill="#f4f2f6" fill-opacity="0.6"/></g><g filter="url(#hsh)"><ellipse cx="6" cy="7" rx="2.5" ry="3" fill="#2a2e70" fill-opacity="0.8"/></g><rect width="97.8" height="85.4" filter="url(#htx)" opacity="0.18"/><g filter="url(#hdt)"><g transform="scale(.5)"><path d="M2 4h0m1-2h0m7 1h0m1-2h0m2 4l-1 2m7-1h0m2 5h0m1-10h0m1 10h0m3-9h0m0 1l0 2m13 1l2 1m3 4h0m1-3h0m4-3h0m3-4l-2 2m3 4l1 1m6-8h0m1 8h0m3-8h0m17 11h0m8-1h0m1-10h0m5 9h0m12-7h0m11 7h0m8-3h0m9 1h0m2 4h0m2-9l0 2m1 2h0m1-5h0m2 9h0m2-6h0m1 3h0m7 4h0m10-6h0m0 4h0m4-2h0m1-5h0m1 5h0m2-7h0m1 11h0m2-5h0m0 5l-1 2m2-9h0m1-1h0m1-2h0m1 8h0m15-2l1 1m-187 4h0m3 4h0m3 6h0m5-9l-1 2m6 5h0m1 3h0m1-2l0 2m2-9h0m4 1h0m2-2h0m1 3h0m0 2h0m3-4h0m2-1l-2 1m2 4l-1 2m2 1h0m3-2h0m2-1h0m6-6h0m2 6l1 0m7 2h0m6-3h0m0 3l-1 1m5-5h0m5 6h0m16-10h0m4 0l0 1m1 3h0m5-1l0 2m3-5h0m10 10h0m9-4h0m1-4h0m1 8h0m2-6h0m3 0h0m1-2h0m1 4h0m4 4h0m1-1l0 2m1-2h0m5-9h0m1 9h0m1-7h0m6 7h0m5 2h0m5 0l-2 2m3-8l0 1m2 5l-2 1m5-5h0m3-6h0m3 2h0m4-3h0m0 7h0m3-7h0m0 5h0m12 6h0m1-2h0m1-9l2 1m-197 11h0m5 8h0m3-4h0m1-4h0m4 4l0 2m2-3h0m5 6h0m2-4h0m1-1l2 0m1 0l0 1m0 6h0m3-1h0m2-1h0m1 1h0m2 0l-1 1m10-7l0 2m4-6h0m2 7h0m1-4h0m2 2l-1 1m6 4h0m4-8h0m4 9h0m6-4l1 1m1 2h0m9-2h0m2 0l-2 0m4-7h0m3 5l-2 0m6-5h0m3 7h0m1-5l-2 1m4 3h0m1 4l2 1m1-3h0m2 1h0m10-6h0m1-4h0m6 10h0m10-7h0m3 8l-2 1m9-8l-2 0m5-1h0m2 4h0m0 3h0m4-3l-1 0m5-2l-2 1m3-4h0m1 3h0m2 0h0m4-5h0m0 9h0m3-6h0m3-1h0m7 0l1 2m-1 0h0m4-2l1 2m1 2h0m3-5l1 0m0 4h0m2 4h0m1-8h0m0 4h0m5-1h0m-190 8h0m6 10h0m5-5h0m2 4h0m4 2h0m5-2h0m2-9h0m0 9l2 1m0-9l-1 1m10 3h0m0 1h0m5 2h0m7-6l-1 2m2 6h0m3-8h0m6 7l-2 2m6-5h0m4 4h0m2 1h0m1-1l0 2m3-4l2 1m7 0h0m5-7h0m1 4h0m1-5h0m8 2l-1 1m3 4h0m2 2h0m3 0h0m1-10h0m6 2l1 2m2-2l-1 1m7 5h0m4 0h0m1-8h0m0 2h0m1 5h0m1-7h0m1 1l-2 2m5-2h0m5 10h0m7-5h0m3 1h0m17 3h0m3-9l-1 2m7 8h0m2-7h0m0 4h0m2-6l-1 1m4-3h0m0 6h0m11 2h0m1-2h0m-190 16h0m4 1h0m2 0h0m3-1l-1 2m3-12h0m1 7h0m0 3h0m3-8h0m3-1h0m1 5l-1 0m4-4h0m12 1h0m7 6h0m5 0h0m1-2h0m1 4h0m7-5h0m6-5l0 1m2 0h0m2 9h0m14-8h0m4-3h0m9 5h0m17 4h0m10-8l1 1m2 1h0m0 3l-2 1m8-2h0m16-1h0m3 2l-1 1m11-5h0m6 8h0m1-5h0m2-1l-1 1m6 0h0m1-4h0m3 7h0m9-6h0m-185 16h0m3 1h0m2-6l0 2m3 3h0m3 2h0m2-1h0m1-6h0m0 8h0m1-5h0m12 5h0m2 1l1 1m-1 0h0m1-9h0m2 0h0m0 4h0m4-5h0m1 3h0m1 7h0m1-6h0m3-4h0m4 10l1 2m1-8h0m5 0h0m8 5h0m3 1l2 0m4-3h0m12 2h0m14-9l-2 2m11 0h0m13-3h0m2 5h0m4 4l2 1m8 1h0m10-7h0m2 4h0m3-1l-1 2m8-7l-2 2m2 0h0m4-3h0m9 3h0m0 5h0m9-9h0m6 11h0m2-7l2 0m1 5h0m1 2l-1 1m-189 9l-2 1m5-10h0m3 9h0m2-7h0m0 6h0m4-5h0m2-3h0m2 6h0m4 5h0m3-6h0m2 6h0m10-7h0m0 1h0m13-5h0m1 5l0 1m3-1h0m7 1h0m8-5h0m5 3h0m2 2l0 1m1-5h0m0 1h0m3-1l-2 1m5 1h0m2 1h0m0 4h0m4-2h0m16-7h0m2 3l-1 1m15 1h0m2-1h0m4-2h0m1 3h0m2 5h0m3-6h0m3 5h0m7-3h0m5-6h0m1 2h0m8 9h0m3-11h0m2 5h0m1-3h0m4-2l0 2m0 7h0m2-1h0m1 2l-2 0m7-5h0m8-3h0m0 4l-1 1m3-3l1 0m-1 4h0m4-2h0m3 2h0m-189 5l-1 0m3 7h0m2-5h0m0 4l1 1m8-5l0 1m4 3h0m1-6h0m11 4l-1 2m4 3l-1 2m4-3h0m8-3h0m6 3h0m4 1h0m1-9h0m4 6h0m5-2h0m16-4h0m1 4h0m7-1h0m0 4h0m0 3h0m3 0h0m2-9l-2 0m2 8h0m2-8h0m8 1h0m0 7h0m2 1h0m4 0h0m1-9h0m5-2l-2 1m3 4h0m7 5h0m11-6h0m1 2l0 2m2-6h0m11 0h0m9-1h0m9 7h0m2-4h0m14 6h0m-177 3h0m4 6l-2 1m15-2h0m1-2l-1 1m2 2l2 0m5 0h0m5-7h0m3 3h0m14 2h0m4 6h0m1-3h0m2-5l-1 1m1 7h0m12-5h0m0 4h0m6-10l-1 1m4 10l-1 0m5-9h0m0 6h0m3-5h0m3-1h0m7-1h0m1 5h0m3-4h0m0 2h0m1 4h0m1-6l-2 1m5 2h0m5 0h0m0 2h0m5-7h0m0 9h0m5-7h0m2 4h0m2-1h0m2 2h0m3-7l2 0m-2 10h0m1 1h0m5-11h0m2 5h0m1 0h0m1 3h0m5-3h0m1-4h0m3 5l0 1m5-4h0m0 3h0m14-6h0m1 4h0m3 4l-2 0m13 0h0m-182 8h0m5-2h0m20 1h0m7-2h0m1 9h0m2-5h0m2-1h0m6 7l1 2m4-13h0m8 7h0m5-1h0m3-4h0m1 1l-2 0m4-1h0m7 9h0m4-6l-1 2m16-6h0m1 10h0m1-5h0m0 2h0m2-4h0m2 5h0m4 1h0m7-6h0m2 2h0m1 2l-1 0m1 3h0m5-3h0m12 1h0m5-5h0m4 4h0m1-3l-1 2m24-6h0m1 1h0m10 7l1 1m1-9h0m2 3h0m1 7h0m2-3h0m8 1h0m3-1h0m-191 4h0m3 7h0m0 3h0m3 1h0m4-3h0m1-6h0m1 2h0m0 1h0m1 6h0m10-9h0m17 3l-1 0m2 3l-1 0m5-6h0m4 2l1 2m6-2h0m8-3h0m10 6h0m3-6h0m0 4l-2 0m5 5h0m3-9h0m5 2l0 1m0 3l1 1m10 2l-1 0m5-5h0m2 6h0m2-10h0m0 10h0m8-9h0m2 0l2 2m2 6h0m6-7h0m1 1h0m2 0h0m3 2h0m3-6h0m0 10h0m4-4l1 1m3-1h0m2-3h0m2 3h0m3-2l-1 2m2-2h0m3 4h0m2 0h0m4 1h0m1-4h0m1 5h0m3-3l-1 1m4-6h0m6 9h0m6-3h0m4-6h0m4 1h0m-192 18l-1 1m2-9h0m2-1h0m4 4h0m1 1l2 1m1-2h0m5 3h0m18 3h0m1-8h0m3 1h0m2 6h0m1-7h0m1 2h0m0 6l-1 2m3-9h0m3 1h0m9 1h0m1 6l-2 1m8-4h0m3-3h0m6-3h0m5 0h0m5 9h0m5-5l2 1m2-5h0m2-2h0m3 8h0m8-5l-2 0m9 1h0m1 5h0m1-9l2 2m-1 7h0m0 1h0m6-7h0m3-1h0m0 5h0m3 2h0m3 2h0m1-11h0m2 5h0m6-5l2 2m-2 2h0m2-2h0m0 7h0m1-6h0m8 1h0m1 2h0m1-4h0m4 5l-1 1m1 0h0m25-5h0m1-1h0m3-2h0m6 7l-2 0m-185 15h0m7-3h0m6-5h0m5 0h0m3 3h0m1 1l-1 0m6 4h0m6-7h0m2 6h0m2 2h0m7-4h0m1 1h0m2-3l1 1m4 4h0m4-1h0m1-5h0m1-1h0m4 4h0m1-4h0m1 8h0m4-3h0m2 3h0m1-8h0m11 2h0m7-4h0m1 4h0m1-1h0m2-1h0m2 8h0m1-2h0m4-1l-2 2m5-5h0m2-1h0m2 4h0m8-4h0m12 1h0m7-2h0m5 8h0m1-7l-2 2m4 0h0m2-3h0m0 6h0m0-2h0m11-4h0m5-1h0m1 5h0m0 0h0m9-7h0m4 10h0m7-2h0m2 3l-1 2m2-12h0m6-1l2 1m-190 17h0m13 0l1 1m1 4l1 1m2-11h0m2 6l1 2m-1 0h0m1-9h0m1 3h0m0 4h0m10-4h0m1 5h0m3 2h0m5 1h0m7-1l2 1m0-2h0m4-6h0m0 5l0 2m4-10h0m4 5h0m6-1h0m7 6l-2 0m8-1h0m1-5h0m2-2h0m5 4h0m1 1h0m6-6h0m4 7h0m4-4l-2 0m16 1h0m1-1l-1 2m4-4h0m4 7h0m2-2l2 0m1-3h0m4-1l0 2m1 4h0m0 1h0m2 1h0m10-4h0m3-7h0m1 8h0m4-8l1 1m4 9h0m9-3h0m-176 7h0m49 0l0 2m7-2h0m2-1h0m3-1h0m25 3l1 1m12-4h0m2 0h0m1 2h0m5-1h0m1-1l-1 1m5 2h0m14-2l-1 1m6 1h0m31-2h0m7 1h0m3-2h0m0 1h0m1 0h0" stroke="#8888d2" stroke-width="1.7" stroke-opacity="0.8" stroke-linecap="round" fill="none"/><path d="M13 2l0 1m2 7h0m8-6l2 0m-1 3h0m5 1h0m1-5h0m2 2l0 1m9-4h0m1 5h0m0 4h0m2-7h0m12 5h0m3-3h0m5-2h0m10 3l2 1m5-7h0m0 6h0m15-1h0m7 3h0m2-7h0m5 3h0m2 3l-2 1m2 2h0m5-10h0m0 5h0m5-4l-2 2m2-1h0m0 5l-2 2m4-3l-1 2m1 2h0m4-7h0m0 2h0m4 5l1 1m2-2h0m3-6l1 1m3-1h0m0 5h0m5-1l1 2m3-7l2 1m-2 7h0m4-8l0 1m0 4h0m1 3l-2 0m12-1h0m2-6l-1 0m1 7h0m2-4h0m1-4h0m2 7h0m6-4h0m2 1h0m0 2h0m4 0l1 2m3-9l-1 2m4-1l-2 1m4-3h0m1 5h0m-194 11h0m2 2h0m5-1h0m2 2h0m0 2l2 0m0-10l-1 0m8 3l2 1m3-3h0m1 0l0 2m0 3l2 1m1 0h0m4-1h0m0 2h0m1 2h0m2-8l2 0m-2 7h0m1 1l0 2m1-8l1 1m0-5l1 2m7 6h0m5-3h0m3-4h0m0 6h0m5 0h0m0 2h0m1-6l1 1m-1 6h0m3-1h0m2-9h0m5 2h0m1 5h0m5 2h0m3-8h0m1 2h0m5-3h0m2 7h0m3-7l1 1m1 3h0m5 3h0m6-2h0m8-1h0m4 1h0m1-4l0 1m2 5h0m3 2l-1 1m2-4h0m2 2h0m4-7h0m3 10h0m2-3h0m5-7h0m2 10h0m4-6h0m4-5h0m0 5h0m9-5l1 1m0 3h0m4-4h0m2 2h0m0 7h0m2-5h0m2 7l-1 1m3-8h0m0 5h0m0 2h0m2-8h0m0 3h0m2 2h0m1 2h0m3-8h0m0 9l0 2m6-6l-1 1m2-5h0m4-1h0m2 2l-1 1m3-1h0m2 4h0m-192 5h0m4-1h0m1 9h0m0 2h0m3-1h0m2-3l2 1m2-8l-2 1m2 0h0m2-1h0m0 11l-2 0m8-10h0m3 0l-1 1m6 1h0m9-1h0m4 4l1 1m7 0h0m1-4h0m2 6h0m1-1l1 1m-1 2h0m2-5h0m2 4h0m4-8h0m16 9h0m5 0h0m1-10h0m0 8h0m4-6h0m1 7l0 2m1-1l-1 2m2-9h0m0 4l2 1m0-7l0 1m4 3h0m1 1h0m5-3h0m2-3h0m0 4h0m3-2h0m4 7l1 1m0-5l0 1m0 1l1 0m7-5h0m0 4h0m5 3l-2 0m4-1l1 1m0 1h0m1-9h0m6-1h0m0 2h0m1 3l1 1m-1 4h0m1-1h0m3-2h0m6-4h0m0 2h0m2-5h0m0 7h0m2-8h0m3 11h0m1-11l-2 0m3 4h0m2 2l2 1m2-5h0m0 6l-1 0m3-4h0m0 6h0m2-7h0m3 8h0m1-4h0m4 4h0m3-1h0m3-2h0m0 2l0 2m7-11h0m2 5h0m-189 15h0m1-3h0m4-2h0m8 4l2 1m0-6h0m0 3h0m1 3l-1 0m7-5h0m3 4h0m4-1h0m2-1h0m2 4h0m1-2h0m2-6l2 1m1 3h0m1-2h0m2 5l1 2m3-10h0m0 1h0m7 6h0m1-3h0m1-1h0m3 7h0m6-5l-2 0m4-4l2 1m5-3l2 0m8 7h0m1 0l1 2m5-9h0m20 9h0m3 0l1 2m2-10h0m16 10h0m1-9h0m7-1h0m2-1h0m1 3h0m0 8h0m2-11h0m8 4l-2 0m3 4h0m1-7l-2 1m5-1h0m2 7l-1 1m3-9h0m1 5h0m3 5h0m3-1h0m4-9h0m1 10h0m3-6l-1 1m1 3h0m0 3h0m4-11l1 1m-1 9h0m4-7l-2 1m2 2h0m2-3h0m1 2h0m1 3h0m2-3h0m1-5h0m-191 13h0m0 3h0m6 1l-1 1m3-2h0m0 3l0 1m6 0h0m2-5l1 0m4 3l1 1m1-5h0m0 7h0m4-6h0m1 2l1 1m-1 5l-2 2m5-12h0m4 5l0 2m0 2l-2 1m4 0l1 1m1-8h0m0 2l0 2m3-5h0m4-1h0m2 6h0m4-8h0m6 10l1 1m1-11h0m6 0h0m0 7h0m3-4h0m18 3l1 1m0-3h0m14 5h0m7-5h0m5-4h0m0 5l-2 1m3-3h0m4-3l-1 1m2 6h0m0 2l1 1m1 0h0m1-1h0m2-1l1 1m5-8h0m2 2h0m1 5h0m1 0h0m2-3h0m2 2h0m2-5h0m0 2h0m0 2h0m1-1h0m1 5l1 2m1-3h0m1-7h0m2-2l1 1m0 10l1 1m0-8h0m0 3h0m2-7h0m1 8h0m4-4h0m0 7l3 0m-1-1h0m4-10h0m1 9h0m1-2l0 1m0 3l-1 1m2-10h0m3 2l-1 0m5-3l-1 2m1 7h0m2-3h0m0 1h0m3-3h0m1-4h0m5 7h0m1-7h0m1 9h0m-187 11l-2 0m16-7l-1 1m4 5h0m9-8l2 0m-1 0h0m4 8h0m1-1h0m9-4h0m4-3h0m2 9l-2 1m4-6l0 1m2 5h0m4-9h0m1 4h0m1 6h0m6-10l-1 1m2 2l0 1m5 1h0m4-1h0m8 6h0m7-2h0m3 2h0m12-4h0m10 2l0 2m10-7h0m2 2l-2 1m4-2h0m3-2h0m1 6h0m1-7h0m1-2l1 2m-1 3l-2 2m2 4h0m3-9h0m4-2h0m6 2h0m0 8h0m6-2h0m1-2h0m2 5h0m1-8h0m1 5h0m1 3h0m4-10h0m2 8h0m1-5h0m5 7h0m5-7l1 2m1-3h0m0 3h0m0 2h0m0 2h0m5-6h0m4 2h0m2-4h0m3 1h0m-194 12l-1 1m2 3h0m1-4h0m1 5h0m7-3l1 2m1 0h0m2-4l1 0m-1 7l1 2m3-12h0m5 5h0m6-3l1 1m-1 4h0m5 1h0m1-3h0m1 5h0m4-7l-1 1m2-2h0m2 1h0m1 6h0m1 0h0m6 1h0m2-10l1 1m3-1h0m1 3l-2 1m2 1h0m2 6h0m1-9h0m3-1h0m7 5h0m8-2h0m11-3l0 1m6 8l-2 0m4-10h0m1 6l-1 1m4 2h0m1 0h0m5 1h0m6-9h0m6-1h0m5 11h0m1-3h0m1-2h0m1-6h0m2 5l-2 0m4-5h0m1 0h0m6 4h0m0 3h0m5 1h0m2 1h0m3 0h0m5-4h0m2 4h0m1-9l-1 1m5 7h0m3-3h0m3 1h0m11 0h0m1-4h0m0 0h0m0 6h0m2-2l0 1m2 3h0m3-9l1 2m1 5h0m-188 11l0 2m8-7h0m3 2h0m6 4h0m2-8h0m3 9l-2 1m3-7l1 1m1 3h0m1 3h0m1-8l2 1m1-1h0m0 2l1 2m2-1h0m1-5h0m1 5h0m0 0h0m1-4h0m0 3l-1 1m5-1h0m4-3h0m2 10h0m3-11h0m2 7l-1 1m6 0h0m3-1h0m4 0h0m4 4h0m2-2h0m3-5h0m1 3h0m1 3h0m7 1h0m3-2h0m0 2h0m5-11h0m1 10h0m2-7h0m1 3h0m1 3l0 1m4-2l-1 1m2-4h0m2-3h0m7 6h0m4-3l1 2m8 2h0m0-1h0m2-5h0m0 7h0m3-5l-1 1m8 0l2 1m-2 1h0m6-7l-2 1m2 3h0m2-3h0m0 9h0m2-10h0m5 1l-1 1m2 5h0m7-3h0m0 4h0m10-6h0m4 0h0m2-3h0m0 8l0 1m1-8h0m2 4h0m14 1h0m0 2h0m5 0l-1 1m-194 12h0m1-5h0m7 4h0m6-4h0m2-4h0m0 1h0m3 1l0 1m5-3h0m0 11h0m1-2h0m9-9l-2 2m3 6h0m1-3h0m0 2h0m13-3h0m3-3h0m2-1h0m1 2h0m0 2h0m0 6h0m2-6h0m2 2h0m11-2h0m0 1h0m0 5h0m2-10h0m0 2h0m1 6l1 0m4 1h0m1-2h0m2-1l0 2m2 0l-1 1m2-5l-2 2m3 0h0m1-2h0m0 6h0m7-2l2 1m3-9h0m1 6h0m3 5l-2 2m3-9h0m4 3h0m1 4h0m2-3h0m1-6h0m0 3h0m0 6h0m2-1l1 0m2-4h0m1 3l0 1m1 1h0m3-4h0m0 2h0m4-8h0m0 3h0m1 4l-1 1m2 2h0m1-1h0m3 1h0m5-6h0m0 0h0m4 6h0m1-7h0m4-1h0m6 7h0m4-3h0m18 3h0m1-10h0m1 5l0 1m1 1l0 1m3-3h0m1-5h0m0 4h0m13 3h0m-192 8h0m0 4l0 1m1-2h0m2-4h0m4 9h0m3-10h0m1 5h0m0 3h0m2-1h0m3-4h0m1-4h0m3 0h0m7 0h0m0 11h0m2-9l0 1m2-3l-1 0m1 3h0m6 3h0m2-2h0m1 2h0m5-2l1 1m5 4h0m3-7h0m0 2h0m0 4h0m0 3h0m4-10h0m5-1h0m4 6h0m1 2l0 2m3-6l1 0m-1 7h0m2-2l-1 3m1-1h0m1-7h0m1 2h0m3 1h0m4-3h0m2 4h0m1-7h0m0 3h0m0 2h0m1-4h0m0 9h0m3-7h0m0 5h0m1-9h0m3 10h0m2-10h0m0 6l-2 1m9 3l1 1m-1-1h0m2-9h0m0 8h0m1-9h0m0 9h0m4-3l2 0m-1-2h0m1-4h0m3 11h0m3-10h0m1 6l2 1m-2 0h0m1-4l1 1m0 1h0m1-3h0m2 2l0 1m1 3h0m2-8h0m1 9h0m1-5h0m3-1h0m0 7h0m1-1l2 1m-1-7h0m5 5l0 2m2-8h0m2-3h0m3 8h0m2 1l-1 1m5-8h0m4 1h0m7 6l0 1m7-3l-1 2m2-4h0m9 3h0m3-8l0 3m7 5h0m1-2l0 1m4-3h0m-194 16h0m8-6h0m0 1h0m1 0h0m0 4h0m6-2h0m14 0l0 2m3-5h0m2 6h0m3 1h0m3-1h0m5-2l1 1m2-1l0 1m1 0l-1 1m2-4l1 1m1 4l0 1m1-4h0m3 4h0m2-6h0m1 2h0m0 5h0m3-3h0m2-1h0m1 4h0m1-7h0m0 4h0m1-5h0m3 2l1 2m0-2h0m2-5h0m0 9h0m4-9h0m1 3h0m4-1l-1 2m3 2l2 0m0-1h0m1-2h0m0 8h0m1 0h0m3-5h0m0 5h0m3-6h0m1-5h0m2 5h0m0 0h0m1 3h0m1 3h0m4-4h0m0 1h0m1-5h0m1-1h0m4 7h0m1-4l-1 1m8 2h0m3 2h0m3-3h0m2-4h0m1 4l-1 1m2-7l0 1m2 5h0m0 2h0m3-7h0m5 1h0m0 6h0m6-4h0m4-5h0m6 9l-1 2m1 0l0 1m6-10h0m2-2h0m1 6h0m1 3h0m4-4h0m7 4h0m0 1h0m1-6h0m1 7h0m4-8h0m2 4l0 2m2-5h0m7 1h0m2 5h0m-190 2h0m1 5h0m1 1h0m1 2h0m3-1h0m4-6h0m3 7h0m12-5l0 1m4-3l0 1m1 4h0m3-3h0m3 3h0m1 5h0m9-9h0m0 5h0m3-2l-1 2m1 2h0m3-5h0m0 3h0m1 1l1 2m4-5h0m0 5h0m1-7h0m1-3l-2 0m4 2h0m0 8h0m1-4h0m3 2h0m1-7l-1 0m1 3l0 2m1-6h0m0 3h0m1 7h0m1-1h0m3 0h0m2-2h0m1-5l1 0m0 5h0m3-6h0m0 4h0m0 4h0m7-6l-2 1m3 2h0m0 4h0m5-7h0m4 0h0m2 8h0m3-2h0m0 2h0m3-4h0m3-5h0m0 5h0m4-5h0m3 4h0m0 3h0m1 1l1 0m0-4h0m1 2h0m0 3h0m5 0h0m1-5h0m2-1h0m1 1h0m3-5h0m0 6l-1 2m1-1h0m0 3h0m4-6l1 1m2 4h0m2 0l-2 1m5-5h0m1-4l1 2m-1 1h0m2 1h0m2-5h0m0 8h0m0 1h0m1 1h0m2-6h0m2 6h0m3-3h0m1-8h0m2 7h0m4 2h0m5-4l2 1m-1-6h0m3 6h0m1-3l2 1m-2 2h0m1-4h0m4-2h0m2 9l1 1m0-8h0m2 6l0 1m3-5h0m1 1h0m-187 7h0m0 0h0m2 0h0m1 7h0m2 1h0m3-1l1 2m0-4h0m2 6h0m4-3l2 2m0-7h0m1 7h0m3-2h0m3 0h0m4-7h0m6 7h0m2 3h0m1-9h0m6 0h0m0 4h0m1-2h0m1-3h0m0 3h0m3-3l-1 1m1 9h0m3-10h0m1 5h0m2 3h0m2-2l1 2m1-2h0m1 3h0m1-3h0m4-3l2 1m1 1h0m3-6h0m8 10l-2 1m3 0h0m1-11h0m1 8h0m2 2h0m2-9h0m2 3h0m0 5h0m1-8h0m0 5h0m4 3h0m7 2h0m4-8h0m0 4h0m2 4h0m1-11h0m3 4h0m0 6h0m2-8h0m1 5h0m2-5h0m1 7h0m2-7l-2 2m3 2l-2 0m2 5l-1 2m4-7h0m0 3h0m2 1h0m4-5l1 2m3 2h0m1 1h0m3-10h0m1 2h0m1 8h0m2-5h0m5-1l1 2m0 5h0m3-2h0m4-2h0m8 3h0m1 1h0m3 0h0m2-4h0m3 2h0m3 0l2 1m2-1l1 2m3-1h0m7-1h0m1-4h0m-191 18h0m1-5h0m1 3l1 2m3-6h0m5-1h0m3-1h0m7-3h0m3 7l0 1m5-8h0m3 7h0m0 3l1 1m4-8h0m6 6h0m1-3h0m1-3l2 2m-1-4h0m0 9l-2 1m8-10l2 1m-1 9h0m1-11h0m0 0h0m0 3l-1 2m1 4h0m3-7h0m4 3h0m3-4h0m0 2h0m1 8h0m1-9h0m3 9h0m1-3h0m3-4l0 2m5-5h0m1 4l-2 1m3-5l2 2m-2 1h0m1 7l1 1m0-6h0m1-2h0m2-1h0m1 3h0m2 5l-2 0m5 0h0m3-8h0m0 4h0m1 2h0m0 2h0m7-7h0m0 5h0m1-6h0m2 3h0m4 2h0m2 1h0m1-2h0m3 3h0m2-4h0m1-3h0m0 5h0m0 3h0m1-4h0m1-1h0m1 3h0m2-1l1 0m2 2h0m5-4h0m0 4h0m5-5h0m3 3h0m2 2h0m3-8h0m1 2h0m5 1l-1 0m6-3h0m2 1l-1 2m4-5h0m4 2h0m3-2h0m0 5h0m1-3h0m2-2l0 1m3 3h0m1 1h0m3-4h0m1 5h0m2-2h0m1 6l0 2m3-5h0m5-6l1 0m0 0l1 1m-1 6l2 0m-1-2h0m-180 7h0m4-1h0m11 0h0m12 0h0m26 2h0m5-1h0m12 0h0m2 0h0m12 0h0m0 2h0m20-2h0m3 1h0m3 1l2 1m5-4h0m6 0h0m5 2h0m11-1l-1 1m11-2h0m12 3h0m10-2h0" stroke="#6262c2" stroke-width="2.1" stroke-opacity="0.85" stroke-linecap="round" fill="none"/><path d="M4 4h0m2 1h0m6 1h0m3 3h0m5-2l0 2m20-7h0m3 5h0m5-2h0m2-2l-1 1m5 4l1 2m13-10h0m6 11h0m1-5h0m10-6h0m1 3h0m7-3l1 1m0 5h0m1-2h0m14 6h0m15-7h0m11 5l-1 1m4-2h0m4-5l1 1m1 2h0m9 2h0m3 4h0m30 0h0m3-3l2 1m-179 9h0m7 3h0m24-2h0m6-7h0m5 11h0m1-8h0m6-3h0m17 3l1 0m23-2h0m7 1h0m0 2l-1 1m8 3l1 1m0-5h0m5 6l1 1m2-7h0m5 5h0m3-8h0m9 2h0m1 2h0m8 1l2 1m0-3h0m2 5h0m9-4h0m1-2l0 1m2-4l1 0m1 1h0m5 10h0m2-10h0m9 8h0m0 1h0m3-7l2 0m-2 5l-2 0m7-6h0m-192 11h0m5 2l0 2m11-2h0m5 7h0m12-2h0m3 0h0m3 1h0m37-5h0m4-1h0m45-2h0m5 1h0m3 5h0m1-3h0m0 3h0m2 3h0m1-5h0m4 1h0m1 3h0m1-7l0 1m2 8h0m8-8l-1 1m2 7h0m4-1h0m3-7l0 2m2 0h0m7-3h0m0 3h0m1 4h0m3-8h0m3 5h0m1-2h0m2 1l1 1m0 4h0m7-10h0m2 3h0m5 1h0m-187 17h0m3-8h0m0 3h0m2-1h0m7-3h0m8 2h0m1 0l0 2m2-2h0m0 1l-2 0m6 3h0m0 3h0m2-9h0m1 11h0m5-1h0m6 1h0m20-5h0m0 3l1 1m8-6h0m51 0h0m5 6h0m2-6h0m0 3h0m2 0h0m5-2h0m7 0h0m3-2h0m0 6h0m1-6l-2 1m3 2h0m4 5h0m8-1h0m1-6h0m4-2h0m6 7l0 1m4-8l1 2m2-2h0m1-1h0m0 4h0m1 4h0m2-9h0m0 10h0m-188 5l2 0m3 6l1 1m2-8h0m5 0h0m0 5h0m1-7h0m5 9l1 2m0-8h0m0 6l-1 0m2-7h0m7-2l0 1m0 7l0 2m4-1h0m7-8h0m19 10h0m9-11h0m1 2h0m42-2h0m13 7h0m7-6l1 1m2 6h0m0 2h0m6-9h0m1 4h0m1-5h0m4 1h0m4 9h0m8-4h0m9-5h0m5 3h0m0 6h0m2-2h0m2 3h0m4-9h0m0 4h0m12-5h0m1 4h0m0 5h0m1 1h0m-189 4h0m2 3h0m3-3h0m36 2h0m4-4h0m4 2h0m1 8l0 1m2-6h0m9-1l-2 1m44 0h0m19-4h0m1 2l0 2m4 1h0m1-7h0m4 7h0m2 0l1 1m-1 0l1 2m0-5l1 1m1-2h0m1 5h0m1-7h0m0 3h0m0 5l1 0m6-4h0m2-1l1 1m1-2l1 2m2 1h0m0 0h0m1-7l-1 2m4 2h0m7 1h0m3-1h0m2 4h0m1-5h0m7-2h0m1 6h0m3-1h0m1 2h0m1 2l0 2m2-10h0m0 2h0m-184 12h0m9-2l1 2m3 3h0m5 3h0m1-10h0m1 4l0 1m3-4h0m0 4h0m6-5h0m12 1l2 1m2 1h0m15 5h0m20-2h0m0 2l-1 2m15-4l-1 1m47-6h0m3 5l-1 1m3-2h0m1-5h0m4 1h0m6 3h0m4-2h0m5 3h0m4-1h0m14 6l0 1m2-10h0m2 5h0m-171 6h0m4 3l1 0m3 8h0m8-7h0m6 7h0m2-11l2 1m9 8h0m13-7h0m10 1h0m2 0h0m5 8l0 2m10-5h0m6-1h0m3 2l-1 2m8 0h0m6-6h0m1-5h0m4 1l1 2m2 1h0m3-2h0m28-2h0m-156 21h0m1-8h0m2 8l0 1m7-4h0m4-3h0m3 0h0m11 2l-2 1m9 1h0m6-4l0 1m3 1h0m4 2h0m1-4h0m10 5h0m1-5h0m2 8h0m1-4h0m2 0h0m3 1h0m15 0h0m4 3h0m2-1h0m5-7h0m3 0h0m6 1h0m0 7h0m15-11h0m6 7h0m2-5h0m2 6h0m6-2h0m3-6l1 2m-1 6h0m-128 8h0m1-4h0m8 5h0m8 4h0m7-1h0m3 0h0m8-3h0m2 5h0m6-2h0m6-7l-1 1m1 4l2 0m0-2h0m6 6l1 1m1-5l-1 2m4-7h0m2 10h0m1-6h0m1-3h0m1 3h0m1 1l2 1m0 4h0m1-9h0m0 9l-1 0m5-7l-2 2m2 0h0m1 2l-2 1m3-3h0m5 4h0m5 1l0 1m1-10h0m3-1h0m5 2h0m3 7l1 1m2-2h0m2-5h0m1-4h0m8 5h0m3-1h0m2 5l-2 0m3-4h0m4-1l-1 1m4 0h0m1 6h0m0 0h0m4-5h0m0 5h0m3-7h0m-141 14l0 1m1-3h0m3 3h0m1-7l1 2m40-1h0m5-1h0m6 9h0m7 0h0m2-7h0m3 3h0m2 3h0m1 1h0m3-4h0m1-4h0m3 1h0m2 6l-2 1m5-4h0m2-5l1 2m2 0h0m0 8h0m2-2l1 1m2-4l-1 2m2-5h0m1 2h0m1 1h0m4 6h0m2-10l0 2m0 1l1 0m1 1h0m4-2h0m1 2h0m3 5h0m2-9h0m0 5h0m4-3h0m5 0h0m1 8h0m2-5h0m1 4l-2 0m3-2h0m1-8h0m0 5h0m1 3h0m2 3h0m1-7l1 1m0 1h0m1 2h0m1 1h0m5-1h0m1-2h0m1-3h0m21-2h0m-164 22h0m5-2h0m22-2h0m13 2h0m5-9l1 0m0 11h0m1-9h0m9 9h0m3-1h0m2-5h0m1-2h0m0 8h0m1-4h0m5-1h0m2-6l2 1m7 5h0m2-3h0m1 6h0m2-8h0m0 2h0m1 3h0m0 4h0m3-7h0m6 8l1 2m2-5h0m4-7h0m2 10h0m1-9h0m1 6h0m1 3h0m1-1h0m1-4l0 1m4-6h0m5 2h0m5-3h0m1 10h0m6-8h0m0 4h0m3-2h0m1-3h0m0 8h0m2-3l-2 0m7-3h0m1 2h0m0 6h0m7-1h0m16 0l0 3m1-3l1 2m0-3h0m2-6h0m11 1h0m10 4l-2 1m-192 12h0m6 1h0m6-7h0m1 4l0 2m7-7h0m4 9h0m4-9h0m6 2h0m12 4h0m9-5l-1 2m2 2l0 1m3 3l-1 1m4-2h0m6-8h0m1-2h0m3 3l-1 1m6 7h0m3-7l-1 2m2 3h0m5-4h0m0 5h0m6-9h0m0 2h0m0 6h0m3-1h0m2-2h0m0 4h0m1-3h0m2-1h0m1-2h0m3 0h0m0 6h0m3-5h0m4-4h0m2 6l2 1m-1 3h0m2-8h0m4 0h0m2-2h0m0 2h0m5-3h0m10 8l1 1m1-3l2 2m-1 1h0m1-6l2 2m0 5h0m1-10l1 0m1 1h0m6 3h0m5 2h0m23-5h0m3 9h0m5-4h0m-187 6h0m6 9l1 1m7-10l-2 1m22 8h0m5 1h0m4-9h0m1 3h0m5 5h0m2-4h0m3 2h0m2 1l-2 0m3-7h0m3 1h0m4 2h0m2 5h0m4 0l-1 0m5 0h0m1-4h0m2-1h0m1 5h0m2-1l1 2m6-3h0m3 0h0m0 3h0m3-10h0m3 10h0m6-2l1 1m1 2l3 0m2-10h0m0 9h0m4-4h0m3-4h0m6-1h0m0 5l-1 0m2-1l0 2m2 2h0m3-4l0 1m1-6h0m10 2h0m0 1h0m0 4h0m1 0l1 0m0-5l1 0m0 8h0m4-7h0m1 3l1 2m3-3l1 2m10 4h0m6-6h0m2 3h0m19-5l-1 1m-175 8h0m19 2l1 1m10-1l-1 2m28-2h0m3-1h0m13 0l1 1m1-1h0m6-1h0m23 3l0 2m1-4h0m8 1h0m6-2l-1 1m2-1l1 1m-1-1h0m15 3l-2 1m9-2h0" stroke="#3c3caa" stroke-width="2.6" stroke-opacity="0.9" stroke-linecap="round" fill="none"/></g></g></g>
<g transform="translate(557.0,320.5)" clip-path="url(#tc12)"><rect width="97.8" height="85.4" fill="#dcd4dc"/><g fill="#bcbce2" filter="url(#hbl)"><rect width="97.8" height="85.4" fill-opacity="0.21"/><polygon points="-5,-5 11,-5 11,95 -5,95" fill-opacity="0.21"/><polygon points="56,18 68,18 70,44 58,44" fill-opacity="0.21"/><polygon points="-5,60 40,74 40,95 -5,95" fill-opacity="0.12"/><polygon points="40,70 70,76 70,95 40,95" fill-opacity="0.07"/></g><g filter="url(#hbl)"><ellipse cx="34" cy="22" rx="20" ry="19" fill="#d4bcae" fill-opacity="0.8"/><ellipse cx="56" cy="57" rx="13" ry="15" fill="#d6c0b2" fill-opacity="0.75"/><ellipse cx="86" cy="40" rx="11" ry="26" fill="#d6c0b2" fill-opacity="0.7"/><ellipse cx="26" cy="70" rx="8" ry="8" fill="#d8c4b8" fill-opacity="0.5"/></g><rect width="97.8" height="85.4" filter="url(#hmt12)" opacity="0.3"/><g filter="url(#hsh)"><polygon points="60,10 72,8 82,14 80,22 70,18" fill="#f8f6f6" fill-opacity="0.85"/><polygon points="80,64 92,66 99,62 99,76 86,74" fill="#f8f6f6" fill-opacity="0.9"/><ellipse cx="34" cy="54" rx="2" ry="2.5" fill="#8a4a2a" fill-opacity="0.85"/><ellipse cx="50" cy="30" rx="1.6" ry="2.5" fill="#7a4028" fill-opacity="0.85"/><ellipse cx="30" cy="80" rx="1.6" ry="1.6" fill="#8a5030" fill-opacity="0.6"/></g><rect width="97.8" height="85.4" filter="url(#htx)" opacity="0.18"/><g filter="url(#hdt)"><g transform="scale(.5)"><path d="M2 2h0m7 3h0m3-4l2 0m-2 4h0m5 4h0m14-8h0m0 4h0m0 4h0m10-1h0m5 2h0m18 1h0m3-7h0m1-3h0m0 3h0m4 0h0m9 2h0m4 3h0m9 2h0m9-7h0m7 1h0m0 2h0m3 3h0m5-6h0m6 5h0m5-6h0m5 2l-1 1m12-4l-1 1m3 5h0m5 3h0m1-3h0m1-8h0m0 10h0m4-5h0m12 4h0m2-8h0m10 7l1 1m1-5h0m10 1h0m-192 10h0m2 3h0m6-1h0m4-2h0m0 4h0m1-7h0m2 9h0m2 2h0m4-2l1 0m0-2l0 2m1-7h0m2 3h0m11-2l1 2m0 5h0m24-5h0m5 0h0m3 5h0m4-3h0m2-6h0m11 4h0m5 6h0m3-8h0m0 6h0m3-5h0m6 6h0m6-1h0m5-8h0m0 10l2 0m6 0h0m3-1h0m1-6h0m3-3h0m6 5h0m7 0l-2 0m13-4l0 2m0 6h0m11-10h0m0 5h0m5 6l-1 2m6-10h0m5 4h0m2 4h0m5-1l1 1m5-2h0m1-1h0m0 2h0m-195 4h0m1 0h0m12 2l-1 0m6-1h0m2 5h0m4-1h0m4 3h0m7-5h0m9-4h0m1 5h0m5-1l2 1m-1-6h0m9 3h0m9-1l-1 1m1 3h0m7-4l-2 2m6-4h0m2 0h0m0 1h0m0 3h0m4 1h0m2 4h0m8 0h0m5-7h0m4 4h0m7 3h0m2 2h0m1-7h0m0-2h0m4 9h0m3-9h0m12 3l0 2m0 2l1 1m1-7l1 2m1 1h0m8-2h0m2 3l-2 1m9-7h0m0 2l1 1m0-2h0m9 7h0m2-4h0m2-4l-2 2m8 3l1 1m-1 2l-2 2m4-10h0m0 6h0m2-5h0m0 7h0m1-4h0m0 6h0m13-3h0m1-6h0m-188 11h0m2 9h0m2-4h0m0 5l0 1m6-11h0m0 5h0m4 1h0m1 0l2 2m-1-5l-1 1m1 1h0m3-6l-2 0m2 4h0m7 7h0m11 0h0m2-5h0m5-5l-2 0m4 6l-2 1m15 1l0 1m2-6h0m9-3h0m0 4h0m5 2h0m7-2l1 1m0 2l2 1m9-9h0m19 11h0m5-10h0m0 2h0m2 6l2 1m5-2h0m2-6h0m0 9h0m4-4h0m11-5l-1 1m7 4h0m13-6h0m1 3h0m2-3l-1 1m10 3h0m1-1h0m5-2h0m3 2h0m-187 14h0m15-4h0m5 5h0m0 4l0 2m1-5h0m1-8h0m2 4h0m2-2h0m0 4h0m5-5h0m4-1h0m3 1h0m5-1h0m6 8l2 1m10-9l-1 2m2 2h0m4 4h0m13-1h0m1-1l1 2m0-8l0 1m1 6h0m3 2h0m7-2h0m4 0l0 2m4-3l2 1m0 3h0m3-8h0m4 6h0m1-3h0m1 5h0m4-1h0m10-7h0m25-2h0m1 1h0m0 8h0m2-5h0m0 2h0m0 4h0m4-7h0m1 8h0m11-6l-1 1m4-3l-1 2m2-4l-1 2m4 7l0 2m1-6h0m1-2h0m0 4h0m0 3h0m14-4h0m-195 14h0m2-3h0m3 2h0m8 1h0m2-9h0m4 9h0m11-5h0m2-2h0m3-2h0m0 5l0 1m2 5l0 2m1-13h0m4 1h0m3 5h0m13-3h0m10 7l-2 1m13 0h0m6-7h0m2 7h0m9-11h0m6 2h0m4 4h0m0 2h0m14-4h0m0 5h0m7 0l1 0m-1 2h0m1 0h0m5-2h0m11-8h0m1 6h0m1-2h0m1-5l-1 1m1 7h0m7-4h0m3-4h0m3 7h0m6-6h0m3 1h0m5 3l1 1m6-2h0m1 5h0m1-9h0m8 1h0m3 6l0 1m-189 14h0m1-7h0m3 4h0m11 4h0m11-4h0m1 1l0 1m0 1h0m2-7h0m15 1h0m8-4h0m11 2l2 0m14-2l1 1m0 6h0m3 1h0m1 0l1 1m1-8h0m5 8h0m5-1h0m28-5h0m3 2h0m2 3l-1 2m5-2h0m1-2h0m1-1l1 0m11 3h0m2-3h0m2 4h0m2-1h0m3-2l0 2m6 0h0m18-6h0m-174 21h0m1-5l2 1m2-3h0m8-1h0m1-2h0m1 7h0m1 3h0m5-4l1 1m2-8h0m3 4h0m2 7h0m4-7l-1 1m2 6h0m7-9l1 0m-1 8h0m11-3l-2 0m16-2h0m2-3h0m0 3h0m3 6h0m2-11h0m3 8h0m4 1h0m4 0h0m0 2h0m3-8h0m2 0h0m9 0h0m5-1h0m5-2l-2 0m15 8l1 2m3-3h0m1-5l-2 1m5 7h0m4-6h0m1-3l0 1m1 2h0m2 7h0m2-1h0m1-8h0m1 5h0m7-3l2 1m2 5h0m7 0h0m15-2h0m3-3h0m6 3l-1 0m-193 13h0m3-2h0m3-2h0m18-1h0m9-3h0m1 8h0m6-7h0m5 9h0m1-9l-1 2m3 5h0m8-1l0 1m6-2h0m1-6h0m2 4h0m8-1h0m2-4h0m2 5l0 2m2 1h0m5-8h0m3 7l2 0m1-2h0m6 1h0m9-4h0m13 3h0m1-4l1 2m7 4l-1 1m2-2l0 1m3-5h0m3 7h0m9-7h0m4 6h0m2 3h0m1-8h0m0 3h0m7-3h0m3 2h0m4 6l2 1m10-5h0m6-3h0m1 2l-1 1m2-7l-1 1m3 9h0m3-5h0m2-3l2 0m0 4l2 1m-2 4l0 1m-185 0h0m0 5l0 2m0 1h0m4-4h0m6-3l1 2m-1 2h0m2 6h0m3-3h0m2-5h0m2 3h0m1 4h0m14-2h0m0 2h0m12-1l-1 1m5-10h0m1 0l2 1m1 0l-2 1m5 3h0m9 1h0m4-1h0m13-4h0m4 8l2 0m3 0h0m1-9h0m3 6h0m5 0l2 2m0 0l2 1m4-5h0m3 7h0m3-10h0m20 1h0m2 9h0m1-6h0m3 1h0m15 1h0m0 2h0m2-9l0 2m5 9h0m16-3l-1 0m-184 15h0m2-10h0m1 1l0 1m0 4h0m8-7h0m3 5h0m6 2h0m3 1h0m1-3h0m4 0h0m7 5h0m2-1l-3 0m9-4h0m1 0h0m2 6h0m3-10h0m3 7l-2 1m10 2h0m2-6h0m1-5h0m3 3h0m2-1l1 1m0 7h0m2-2h0m3-4h0m1 5h0m6-5h0m1 5l1 2m2-8h0m2 5h0m5-5h0m1 4h0m20-3h0m0 4h0m4-1h0m0 3l2 0m2 0l2 0m24-3l-2 1m4-2h0m4 1h0m1-6h0m0 8h0m6-1h0m0 2h0m1-9h0m7 5h0m4-2h0m0 3h0m0 1h0m0 3l2 0m-1-11h0m2 3h0m15 4h0m1-7h0m-192 13l-2 1m5-2h0m5 5l-2 0m3 2l2 0m20-6h0m3 9h0m5-2h0m2-6h0m4 7h0m6-5l1 2m3 5h0m21-5h0m5-4h0m1 8h0m1-5h0m2 0l-2 2m4-4h0m6 2h0m2 6h0m17-9h0m2 9h0m4-1h0m1-9h0m1 6h0m7 2h0m3-6l2 1m4-2h0m0 4h0m4-2l0 1m6-1h0m0 3h0m2-5h0m0 1h0m2 2l-1 1m14-6h0m1 1h0m9 7h0m0 3h0m9-5h0m0 5l-1 2m4-6l1 0m-181 5l-2 2m24-2l1 1m-1 9l-1 2m2-8h0m2 3h0m2-3h0m0 7h0m8-2h0m1-7h0m5 1h0m11-2h0m0 1h0m0 7h0m4-7l-2 1m4 3h0m13 1h0m1-7h0m9 2h0m11-2h0m0 5h0m1 0h0m15 1h0m5 2h0m3-3h0m7-2h0m2-1h0m1 4h0m2 5h0m3-11h0m8 1h0m0 5h0m1 3l0 1m2-1h0m2-8h0m0 7h0m5 0h0m1-6h0m1-2l1 1m1 4h0m2 2h0m3 3h0m3-7h0m7 5h0m6-8h0m2 11h0m3-6h0m6-4l2 1m-2 4h0m0 2h0m2 2h0m-193 12l1 1m5-5h0m3 3h0m0 1h0m21-10h0m2 3h0m13-2h0m3 8h0m7-3l1 1m3 3h0m3-4h0m4 1h0m0 4h0m7-6h0m10 0h0m5 0h0m3 4h0m1-4h0m5 1h0m6 3h0m3-7h0m0 9l1 2m2-9l0 1m1 2h0m14 1h0m5 3l-1 1m9-11l0 1m0 8l-1 1m7-10h0m5 10h0m1-2h0m2-3h0m2 1l-1 1m4-7h0m2 7l-2 1m3-5l-1 2m5 4h0m2-5h0m7-4h0m2 1l0 2m7-2l0 2m2 0l-1 1m1 4h0m5-1h0m6 0h0m1-3h0m-181 9h0m48-2h0m26 2h0m3-1h0m50-1h0m10 2h0m10 1h0m17-3h0m1 1h0" stroke="#8888d2" stroke-width="1.7" stroke-opacity="0.8" stroke-linecap="round" fill="none"/><path d="M1 11h0m1-3h0m2-3h0m1-3h0m0 7h0m2-4h0m2-3h0m1 3l-1 2m2-2h0m1-4h0m1 2h0m3-2l1 1m5 7l1 1m4-4h0m6 1l-2 1m7 2h0m2 1h0m2-9h0m0 4h0m2-3h0m1 6h0m2-8h0m3 7h0m10 3l-1 2m14-5h0m3 1l-1 2m2-9l2 1m9 7h0m1-3h0m10 1l-2 0m4 3l-2 1m5-8h0m3 6h0m19-2h0m1-5l1 1m-1 6h0m5 1h0m1-7l1 2m0-1l2 1m6 0h0m15-4h0m1 7h0m3-8l1 1m-1 9h0m1-4h0m1 2h0m12 1l2 1m0-3h0m4 3h0m2-5h0m1-6h0m3 3h0m1 7h0m5-8h0m2 3h0m-195 13l-1 0m2-5l2 1m-2 6h0m3 1h0m2 2h0m4-10h0m0 4h0m0 6l-1 1m2-5h0m2-5h0m1 3h0m0 1l-1 0m2 5h0m6-10h0m2 0h0m1 9l-2 1m5-10h0m1 8l-1 1m4-3h0m1 1l-2 1m3-6h0m8-2h0m1 5h0m10-1h0m5-1h0m10 5h0m1-7h0m11 3h0m10 0l0 1m4-5l-2 2m2 1h0m2-1h0m9 1h0m6 2h0m1 0h0m7 2h0m3-6h0m3 4h0m2-6l0 1m0 3h0m2-3l-1 2m8 8h0m5-11h0m0 8l2 0m1-2h0m3 5h0m10-5h0m4 1h0m0 3l1 0m1 1h0m1-5h0m1 5h0m3-7h0m1 5h0m2-4h0m2 4h0m2 1l2 1m-1-10l0 1m2 4h0m2-5l1 1m5 8h0m1-1h0m-186 12h0m1-2h0m2-5h0m1 9h0m2-10h0m1 2h0m0 1l-1 0m5 7l-1 1m4-3h0m0 2h0m3-11h0m1 11l1 1m2-9h0m6-3l0 2m4 0h0m8 8h0m4-8h0m3 7h0m1 1h0m6-6h0m5 7h0m3-2h0m2-6h0m3-2h0m6 1h0m0 4l-1 0m14-6h0m1 4l-1 2m8 0h0m1-4h0m3 4h0m4-5h0m5 1h0m0 1l-2 1m4 2h0m1-4h0m2 4h0m0 4h0m8-7h0m5-3h0m3 10h0m1-10h0m2 8h0m1-4h0m0 7h0m3-7h0m4-4h0m3 9h0m12-9h0m1 6h0m1 3h0m3-3h0m2-6l1 1m6 6h0m4-4h0m4 5h0m4-4h0m8 4h0m3 1l2 1m0-7h0m-190 17h0m4-2h0m3-3h0m2-3h0m1 9h0m1-4h0m5-2h0m5 5h0m1-8h0m1 5h0m3 0h0m0 4h0m4-3h0m5-3l-1 2m13 1h0m0 5h0m6-10h0m1 0h0m6 3h0m2-3h0m8 2h0m10 5l1 0m16 3h0m1-2l1 2m3-6h0m2-5h0m2 11l2 0m-1-3h0m3 3h0m2-5h0m0 3h0m5-8l1 1m1 3h0m2 3l0 1m5-9h0m0 7h0m0 4h0m2-7h0m1 3h0m0 4h0m2-11l-1 2m1 2h0m7 5h0m1-6h0m1 7h0m4-6h0m2-2h0m5 1h0m4-2h0m18 4h0m3 1h0m3 4h0m8-4h0m1-6h0m1 11h0m-187 5h0m0 4h0m1-5l1 1m0-4h0m1 6h0m2 3l2 0m5-4h0m1-1h0m0 7h0m2-5h0m6-4h0m0 2h0m6 6l1 0m4-7h0m8-1h0m0 1h0m14-1h0m10 2h0m6-1h0m2 1h0m11 0h0m2 7l1 1m0-8l1 1m1 4h0m12-6h0m3 6h0m1-9h0m3 10h0m2-4h0m1-1h0m2 3h0m1-8h0m1 10h0m2-9h0m1-1l0 2m1 3h0m0 3h0m0 2h0m2-9h0m1 5h0m1-5h0m0 3h0m4-2l1 1m-1 3h0m3-5l1 2m2 1l1 1m-1 5h0m3-6l1 2m-1 2l-1 1m6-8h0m3 1h0m15-1h0m1 2h0m3-3h0m4 10h0m23-4h0m-189 7h0m1 8h0m2-5h0m0 6h0m2-9h0m0 5h0m2 0h0m0 4h0m1-7h0m0 5l-1 1m2-7h0m1 8h0m2-6h0m1 5h0m7-5h0m3 2h0m2 4h0m2-5h0m0 3h0m17 1h0m0 2h0m0 0l-2 1m4-5h0m6 0h0m6-5h0m3 9l1 2m2-8h0m14 3l0 2m5-8h0m3-2h0m1 8l0 1m2-8h0m2 5h0m1-3l1 1m4 3l-2 0m4 4h0m1-2h0m5-9l0 1m0 4h0m3-5h0m2 8h0m1-2h0m3-5h0m0 3h0m3-2h0m1 4h0m1-6h0m4 3l-1 0m3 2h0m4-3h0m0 2h0m3-2l-2 1m3 2h0m2 1h0m1 3h0m9-2h0m5-1l-1 2m3-2h0m7-2l1 1m8 1h0m0 3h0m1-6h0m5 0l2 1m3-3l-1 1m5 8h0m-187 9h0m2 4l2 1m1-5h0m0-1h0m2-4h0m1 8l1 1m0-1h0m3-9h0m0 8l1 0m1-6h0m3 0h0m2-2h0m1 3h0m4 0h0m3 0h0m3-2h0m1 7h0m23-8h0m8-1h0m0 10h0m2-2l-3 0m13-6h0m1 5l-1 1m6-3h0m6 5h0m3-6l1 0m2 7h0m1-3h0m2-1h0m5-7h0m0 3l-2 1m5-3l-1 1m2 9h0m5-4h0m2-6h0m3 7h0m1-3h0m1-5h0m2 7l1 0m4 2h0m2 1h0m1-8h0m0 5h0m3-5h0m0 4h0m0 2h0m2 0h0m3-6h0m0 0h0m1 3l-1 1m5-5l1 0m0-1h0m0 10h0m1-3l0 2m3 1h0m1-8h0m1 2h0m23-1h0m1 5h0m2-4h0m1 4h0m1-1h0m4-3h0m0 6h0m2-4h0m5-1h0m1 1h0m1 4h0m4-8l1 1m0-3h0m0 7h0m3 2l-2 0m-192 14h0m1-3h0m1 1l1 2m2 0h0m3-3l1 1m-1 2h0m4-10l2 2m-1 7h0m2-3l1 2m0 1h0m1-3h0m1 1h0m1-8h0m3 8h0m1-5h0m4 2h0m11-4h0m0 7l-1 0m8-1h0m0 3h0m3-8h0m1 3h0m2-5h0m2 9h0m2-6h0m2 4h0m0 2l1 1m1-10l1 1m2 7h0m8 3h0m1-3h0m2 0h0m0-1h0m4 1h0m2 1l1 2m0-10h0m2 6l-1 2m5-3h0m7 1h0m4 3l1 2m7-10h0m0 5h0m3 4l0 2m3-13h0m1 5h0m2 1h0m5-6h0m1 8h0m4-7h0m3 4h0m3 6l1 1m0-5l0 2m2 0h0m1-1h0m3-4h0m3 2l1 1m-1 2h0m1-9l-1 2m1 7h0m1-4l0 2m6-5h0m2 9h0m1-10h0m2 1h0m12 4h0m4 3h0m2-6h0m2-3h0m1 4h0m3 3h0m1-7h0m2 8h0m4-6h0m1 4h0m1-2l2 0m-188 12h0m3 6h0m0 0l-1 1m2-11h0m2 11h0m5-5l1 2m0 2h0m3-1h0m0 2h0m2-5h0m0 3h0m2-8h0m2 8h0m2 2h0m5-3h0m4-8h0m3 7h0m16-5h0m6 2h0m9 7h0m7-10h0m0 6h0m2 0h0m2-6h0m9 8l2 0m-1-6h0m6 4h0m6 3h0m2 0h0m5-9h0m1 10h0m1-7l0 2m0 0l-2 0m12 2h0m8-8l1 1m-1 10l0 1m6-11h0m1 6h0m1-1h0m1-6l0 1m5 0l1 1m6 4h0m2-6h0m1 9h0m7 2h0m2-10h0m1 2l-1 2m2 3h0m1-8l-2 1m3 7l1 2m12 1h0m1-5l2 1m6-7h0m0 2h0m3 8h0m5-5h0m-194 12l2 1m0-4h0m1 0h0m3 3h0m0 5h0m3-6h0m1 5h0m3-3h0m0 2h0m4-3h0m1-5h0m2 4h0m1 4h0m9-7h0m6-1h0m2 8h0m1-8h0m5 1h0m0 1h0m0 3l2 1m2 3h0m3-7h0m1 1h0m0 3l0 2m2-8h0m3 3h0m4 7h0m1-7h0m0 5h0m2-6h0m1 5h0m3-5h0m9 2h0m2 2h0m1-5h0m3 1h0m0 9h0m1-8h0m1 5h0m2 0h0m1-8h0m0 5l-2 2m2 4h0m5-11h0m0 6l0 2m3-7h0m8 7h0m3 2h0m5-5h0m3-2l2 0m3 2h0m2-3h0m0 2h0m0 5h0m1-2h0m9-7h0m0 8h0m4 0h0m1-1h0m4-7h0m0 8h0m10 1h0m3-2h0m32-3h0m1 3l1 1m-1 3h0m3-4h0m5 2h0m-193 10h0m1-1h0m2-3h0m1 3l1 2m0-4h0m1 4h0m4 1h0m4-5h0m0 7h0m2-9l0 1m0 5l-2 1m3 2l-2 1m3-7h0m1-2h0m3-2h0m3 2l1 1m3-2h0m2 1h0m0 7h0m2 0h0m4-9l2 1m4 8h0m5-9h0m0 4l1 1m0-1l-1 2m5-6h0m1 7h0m2-7h0m1 5l0 2m3-5h0m3 1h0m0 4h0m0-1h0m11-6h0m0 6l-1 2m1 1h0m2-10h0m1 0h0m1 2l0 1m7 2l2 1m8 2h0m3 0h0m3 1h0m5-1h0m2-6h0m0 3h0m11 5l-1 1m3-9h0m2 3h0m9 1h0m1 3h0m2-6h0m4 7h0m5-6h0m1-4h0m5 9l1 1m5-8h0m4 5h0m1-7h0m1 9l1 0m1-8h0m0 4h0m4-1h0m10 5h0m1-7h0m2 3h0m3 2l-2 1m3-3h0m2-4h0m5 4l-2 0m2 1l1 0m-1 5h0m-193 6h0m1-1h0m0 6l0 2m3-10h0m0 1h0m3 7h0m1-8h0m0 1h0m4-3h0m2 5h0m0 5h0m6-7l2 0m-2 3h0m1 4l1 1m1-1h0m6 0l-2 1m3-2h0m4-6l2 0m-2 6l-2 0m3 2h0m9-6h0m2-3h0m4 4h0m6-2h0m0 6h0m1-5l-2 0m4-3l-1 0m1 7h0m1 1l-2 2m4-6h0m0 5h0m1-9h0m1 2h0m2-3h0m8 4h0m2 5h0m3-9l-1 1m9 7h0m5 0l2 1m-1-5h0m9 6h0m6-3l-1 0m5 0h0m8 1h0m1 2h0m2-7l-1 1m5-2h0m1 7h0m13-7l2 2m-2 1h0m3-4h0m2 7h0m5-4h0m1 2h0m6-6h0m4 4h0m2 3h0m2-5l-1 1m1 3h0m3-7l-1 1m1 4h0m0 2h0m1 0h0m3-3h0m2 5l1 1m2-7h0m2-2h0m4 2h0m3 7h0m3-10h0m0 11h0m4-7l1 1m-195 10h0m0 8l-2 1m3-7h0m1 5h0m2 0h0m3-3h0m1-3h0m2 0h0m3 6h0m1-4h0m1 3h0m1-8l-1 1m8 5h0m5 0l0 2m1-1h0m2-7l-1 1m4 3h0m0 5h0m1-8h0m0 5h0m0 1h0m1 2h0m5-6h0m4-3l-1 1m2 7l-1 1m2-8h0m0 7h0m4-3l3 1m-2 3h0m8-4h0m4 3l-1 1m3-7h0m2 3h0m1 4h0m1-4h0m1-4h0m0 5h0m1 3l-2 1m5-11h0m0 6h0m9-5h0m0 9h0m2 1h0m2-3h0m1-4h0m3 1h0m2 3h0m7-3h0m3 5h0m2-8h0m1 7h0m1-9h0m1 5h0m5 5h0m1-8h0m0 6h0m6-6h0m2 6h0m2-2h0m5 0h0m0 1h0m3 1h0m3 0h0m4 0h0m1-1h0m3-7l1 1m7 3h0m4 5h0m3-4l1 0m0 3l-1 1m2 2l1 2m4-12h0m3 1l0 2m1-4h0m1 11l1 1m0-4h0m2-6h0m4 4h0m4 2h0m1-3h0m5-3h0m1 2h0m5 5h0m-194 6h0m1 2h0m1 1h0m1-4h0m1-1h0m4-1h0m0 4h0m0 1h0m1-1h0m3 7h0m1-8h0m0 5l-1 0m2 2l2 0m0-7h0m0 2h0m2 0h0m2-1h0m0 5h0m1-3h0m6-4h0m3 8h0m3-4l2 0m-1 2h0m1 2h0m1 0h0m0 0h0m2-8h0m1 4l2 0m2 2h0m0 2l-1 1m2-11h0m0 6h0m2-2h0m2 1h0m1-5h0m6 7l0 2m5-9h0m1 4h0m0 4h0m2-8h0m0 2h0m5-2h0m0 3h0m0 7h0m3-6h0m3 1h0m2-3h0m1 2h0m0 2h0m1-6h0m0 11l0 2m0-2h0m1-4h0m7 2l-1 1m5-7h0m4 5l2 1m6 1h0m2-5h0m2-2h0m3-2h0m4 9h0m2-3l-2 2m4-4h0m3 2h0m5 1l-1 1m1 2h0m1-6h0m8-4l2 1m-1 3h0m9 2h0m21 2h0m2-1h0m2 2l-1 2m2-2h0m1-5h0m5-5h0m6 0l-1 2m-176 11h0m5 2h0m9-3h0m25 0h0m3 0h0m0 0h0m0 1l-2 1m8-2h0m24 2h0m7-2h0m17 1h0m8 0h0m2 0h0m1 1h0m3-1h0m8-1h0m0 0h0m5 1h0m2 0h0m5-1h0m25 2h0m19-1h0m8 1h0m7-2h0" stroke="#6262c2" stroke-width="2.1" stroke-opacity="0.85" stroke-linecap="round" fill="none"/><path d="M2 5h0m1 0l-1 1m2-5l-2 1m2 7l-2 0m6 1h0m3-6h0m1 6h0m2 1h0m1-6h0m0 3h0m2 2h0m4 1h0m3-3h0m3 0h0m16 2h0m38-2h0m12-5h0m31 1l1 2m3 0h0m12-2h0m1 2h0m19-5l0 2m11 6h0m17-4h0m-186 17h0m1-7h0m4 0h0m1 6h0m1-3l-2 2m5-7h0m4 1h0m1 0h0m0 4h0m1-1h0m2 4h0m1 2h0m2-8h0m2-3h0m0 9h0m37-2h0m16-7h0m28 6h0m7 2h0m6-3h0m12 0l1 1m2 0h0m18-4h0m17 4h0m-167 16h0m1-4h0m3 1h0m0 4h0m3-9h0m0 4h0m0 2l2 1m-1-9h0m0 7h0m5 0h0m0 1h0m3 1l-2 0m6 0l0 2m1-10h0m1 1h0m4 0h0m1 6h0m3-4h0m90-4h0m2 8h0m2-2l-1 1m2-2h0m1-2h0m7 3h0m10-5h0m7 3h0m19 7l-1 1m11-12h0m0 10h0m4-2h0m4-8h0m-187 16h0m0 1h0m1 3h0m3-5h0m2-1h0m2 2h0m2 5h0m2-8h0m0 9h0m4 0h0m2-7h0m12-2h0m3 9l-1 1m83-7h0m1 0h0m0 1l-2 2m2 2h0m3 0l0 1m1-9h0m0 9h0m3-7l-1 1m1 3l1 0m0-5h0m2 6l2 0m3 2h0m2-5h0m27 6h0m6-9l1 1m23 5l1 1m-193 4h0m1 4h0m0 4h0m1-9h0m0 10h0m1-10l0 1m2 10h0m1-3l-1 2m3-6h0m1 7h0m2-5h0m0 4h0m2-9h0m0 1h0m0 5h0m1 2h0m3-7l-2 1m6-1h0m64-2h0m24 10h0m6-10l-1 3m2 7h0m1-8h0m4 1h0m2 0l2 2m2 5l1 1m2-6h0m1 4l0 1m7-4h0m3-6h0m0 5h0m7-2h0m43 8h0m-188 6l2 1m1 4h0m1-3h0m1-3h0m0 5h0m7 2h0m1-4h0m2 0h0m3-6h0m60 1h0m34 2l-1 1m9-1h0m1 4h0m1-2h0m3-4h0m1 6l1 2m2-10l-2 0m7 6h0m3-5h0m3 6h0m8-5h0m44 7h0m-194 4h0m8 3l2 1m0-3l-1 1m1 8l1 2m4-4h0m1-2h0m0 2h0m1-6h0m3 3h0m3-2h0m0 5h0m1-7h0m1 9h0m10-3h0m5-4h0m2 7h0m73-10h0m2 3h0m0 3h0m0 4h0m1-11h0m2 1h0m1 7h0m0 3h0m9-11h0m3 3h0m0 5l-1 2m2-4h0m14-4h0m-147 15l2 1m-1-3h0m2-2l0 1m3 5h0m3-3h0m2 4h0m8-1h0m2 3h0m6-3h0m0 2l0 1m4-7h0m12-3h0m46 11h0m20-5h0m5-5h0m1-1h0m5 7h0m5 1h0m3-8h0m1 5h0m1-3l-2 1m9-1h0m0 2h0m7 2h0m-144 16h0m3-10h0m4 1h0m1 8h0m3-7h0m0 3l-1 2m2 1h0m1-4h0m0 2h0m4-5h0m1 2h0m3 2h0m11-5h0m24 1l-1 1m18 2l1 2m64-1h0m4 5h0m1-5l-1 1m20-4h0m-164 14h0m1 7l2 2m-1-4l-2 1m2 1h0m1-4h0m2-7h0m0 9h0m2 1l-1 1m3-11l-1 0m2 10l2 0m-1-9h0m0 10h0m1-11h0m5 4h0m1 4h0m2-2h0m1-6h0m2 11h0m2-4h0m9 1h0m6-8h0m11 7h0m3 3l2 1m-1-11h0m11 2h0m20 0h0m62 1l1 2m12 3h0m17-4h0m15 7h0m-192 4h0m8 8l1 1m0-11h0m2 4h0m1-3l1 1m-1 5h0m1-4l0 2m1-4h0m4 4h0m2 2h0m4-1h0m3-1h0m2 5h0m4-6h0m3 4h0m7-1l1 1m7 0h0m23-4h0m65-1l1 2m2 4h0m1-9h0m4 5h0m23 5h0m13-2l-1 2m7-3l-1 1m-182 9h0m0 3h0m1 0l0 2m4-6h0m2 1h0m0 1h0m2 0h0m1 2h0m1-9h0m0 5h0m1-5h0m4 2h0m1 2h0m0 1h0m0 6h0m1-9l-1 2m1 2h0m5 0h0m6-2h0m1 1l1 2m2-3h0m2 6h0m5-6h0m4 4h0m18 3h0m2-9l-1 0m31 1h0m41 5h0m22 3l1 2m14-3h0m4-7h0m5-2h0m6 1h0m-193 10h0m2 0h0m0 3h0m0 2h0m0 4h0m2-9l1 0m0 11l-2 2m4-4h0m3 2h0m1-10l-1 1m3 4l1 1m1 4h0m1-11h0m4 3h0m0 3l-1 0m1 4h0m2-1h0m2-9h0m0 4h0m0 3h0m1-5h0m0 5h0m1-4h0m1 5l0 1m1 1l-1 2m8-10h0m0 4h0m10 4h0m4-5h0m3-4h0m2 4h0m12-2h0m4 0h0m0 6h0m1 0l0 2m6-5h0m2-6h0m4 7h0m11-1h0m5-4h0m6 4h0m3 4h0m3 0h0m2 0h0m7-7h0m1 5h0m15 3h0m2-4h0m5 3h0m6-6h0m20 4h0m10-7h0m9 3h0m-187 19h0m3-1l-2 1m4-3h0m5-6h0m4 1h0m2 7h0m2 0h0m3-10h0m1 0h0m0 4h0m1 5h0m1-6h0m0 3h0m2 5l1 2m0-8l1 1m9 5h0m1-3h0m1-5l0 2m0 5h0m1-7h0m6-2l-1 2m4 4h0m1-6l1 1m0 2h0m3 0l0 1m0 3h0m3-6h0m0 4h0m7-3h0m3 6h0m7-7h0m9 1l-1 2m2-5h0m10 6h0m6-5h0m6 6h0m8-3h0m2-3l1 0m-1 7h0m3-6l-1 1m17 1l1 0m4 7h0m7-4h0m2 3l1 0m0 0h0m4-7l-2 2m29-4h0m3 0h0m3 4h0m1 2l1 2m-191 5h0m9-2h0m1 0l-1 0m9 2h0m9-2h0m2 1l0 2m3-3h0m20 2h0m6-1h0m15 1l-2 1m23-1h0m6-1l0 2m94-3h0" stroke="#3c3caa" stroke-width="2.6" stroke-opacity="0.9" stroke-linecap="round" fill="none"/></g></g><g transform="scale(.5)"><path d="M120 30l0 1m11 44h0" stroke="#9a6040" stroke-width="3.6" stroke-opacity="0.6" stroke-linecap="round" fill="none"/><path d="M136 102l0 2m-131 54l0 2" stroke="#7a3f22" stroke-width="4.4" stroke-opacity="0.7" stroke-linecap="round" fill="none"/></g></g>
<line x1="632.2" y1="396.9" x2="653.0" y2="396.9" stroke="#111" stroke-width="1.5"/>
</svg>
</body></html>
